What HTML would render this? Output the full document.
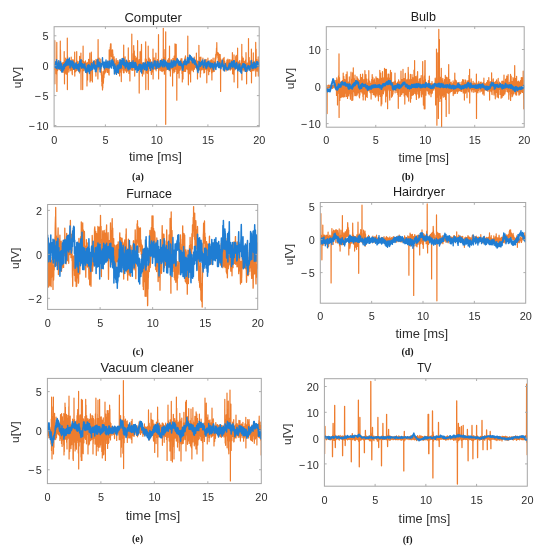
<!DOCTYPE html>
<html><head><meta charset="utf-8"><title>Figure</title>
<style>
html,body{margin:0;padding:0;background:#fff;}
body{width:545px;height:550px;overflow:hidden;position:relative;}
svg{position:absolute;left:0;top:0;display:block}
text{font-family:"Liberation Sans","DejaVu Sans",sans-serif;fill:#2e2e2e}
.tk{font-size:11.6px}
.tt{font-size:13.2px;fill:#1a1a1a}
.lb{font-size:13px}
.yl{font-size:11.8px}
.cp{font-family:"Liberation Serif","DejaVu Serif",serif;font-weight:bold;font-size:10px;fill:#1a1a1a}
</style></head><body>
<svg width="545" height="550" viewBox="0 0 545 550">
<rect width="545" height="550" fill="#fff"/>

<g>
<clipPath id="ca"><rect x="54.1" y="26.7" width="205.1" height="100"/></clipPath>
<path clip-path="url(#ca)" d="M54.1,64.7 54.2,63.2 54.3,64.7 54.4,69.6 54.5,63.0 54.6,64.4 54.7,67.3 54.8,64.0 54.8,40.5 54.9,83.8 55.0,65.6 55.1,64.1 55.2,67.9 55.3,66.2 55.4,67.1 55.5,63.9 55.6,65.6 55.7,66.6 55.8,68.0 55.9,66.5 56.0,65.7 56.1,66.5 56.2,61.8 56.2,62.7 56.3,73.8 56.4,71.3 56.5,66.2 56.6,67.0 56.7,65.1 56.8,42.4 56.9,91.5 57.0,69.0 57.1,66.8 57.2,61.6 57.3,63.8 57.4,63.7 57.5,67.2 57.6,70.6 57.6,65.2 57.7,65.4 57.8,69.4 57.9,67.7 58.0,65.9 58.1,68.5 58.2,66.0 58.3,65.4 58.4,65.6 58.5,67.2 58.6,63.9 58.7,63.0 58.8,64.7 58.9,68.1 59.0,63.5 59.0,67.2 59.1,63.1 59.2,68.9 59.3,61.9 59.4,65.8 59.5,69.4 59.6,66.6 59.7,65.5 59.8,64.9 59.9,68.6 60.0,69.0 60.1,65.1 60.2,62.7 60.3,41.0 60.3,63.4 60.4,70.6 60.5,49.9 60.6,62.0 60.7,66.6 60.8,68.1 60.9,63.5 61.0,64.9 61.1,63.0 61.2,66.7 61.3,70.1 61.4,66.0 61.5,67.0 61.6,63.4 61.7,65.1 61.7,70.6 61.8,69.3 61.9,63.1 62.0,63.7 62.1,67.6 62.2,65.7 62.3,64.4 62.4,64.3 62.5,63.1 62.6,64.9 62.7,66.0 62.8,66.5 62.9,62.5 63.0,72.4 63.1,66.1 63.1,65.6 63.2,70.0 63.3,64.7 63.4,67.6 63.5,63.1 63.6,66.1 63.7,63.7 63.8,62.1 63.9,64.6 64.0,68.3 64.1,70.2 64.2,51.5 64.3,66.0 64.4,67.8 64.5,83.8 64.5,66.3 64.6,63.2 64.7,65.6 64.8,65.7 64.9,67.8 65.0,64.3 65.1,60.3 65.2,63.7 65.3,61.1 65.4,70.3 65.5,73.1 65.6,63.9 65.7,58.1 65.8,68.7 65.9,69.4 65.9,63.9 66.0,68.2 66.1,67.2 66.2,74.2 66.3,64.1 66.4,66.9 66.5,64.9 66.6,61.9 66.7,68.2 66.8,66.7 66.9,68.5 67.0,65.7 67.1,69.1 67.2,69.0 67.3,61.3 67.3,38.0 67.4,89.6 67.5,56.0 67.6,67.0 67.7,66.4 67.8,64.4 67.9,64.9 68.0,69.2 68.1,63.2 68.2,67.5 68.3,68.9 68.4,68.4 68.5,66.9 68.6,60.8 68.7,69.2 68.7,65.2 68.8,72.1 68.9,65.7 69.0,63.0 69.1,66.4 69.2,67.6 69.3,65.0 69.4,63.6 69.5,63.7 69.6,59.8 69.7,65.1 69.8,67.5 69.9,66.1 70.0,65.9 70.0,65.4 70.1,65.8 70.2,65.2 70.3,70.7 70.4,63.2 70.5,67.4 70.6,69.2 70.7,63.8 70.8,61.8 70.9,64.2 71.0,65.2 71.1,68.5 71.2,57.1 71.3,63.1 71.4,69.1 71.4,64.9 71.5,65.4 71.6,70.3 71.7,65.2 71.8,67.1 71.9,62.0 72.0,62.8 72.1,73.8 72.2,65.6 72.3,74.7 72.4,62.4 72.5,65.2 72.6,64.1 72.7,68.9 72.8,60.2 72.8,59.7 72.9,68.9 73.0,64.6 73.1,67.7 73.2,65.8 73.3,69.5 73.4,60.1 73.5,68.6 73.6,66.6 73.7,64.2 73.8,67.6 73.9,66.4 74.0,67.4 74.1,66.1 74.2,69.2 74.2,67.0 74.3,66.3 74.4,66.7 74.5,65.5 74.6,72.5 74.7,52.0 74.8,76.1 74.9,66.1 75.0,67.7 75.1,67.3 75.2,69.5 75.3,64.1 75.4,69.1 75.5,67.9 75.6,64.6 75.6,64.5 75.7,66.9 75.8,71.7 75.9,64.4 76.0,64.9 76.1,69.9 76.2,63.4 76.3,67.8 76.4,69.1 76.5,65.4 76.6,66.2 76.7,51.5 76.8,70.5 76.9,60.3 77.0,67.5 77.0,70.3 77.1,63.8 77.2,66.8 77.3,64.7 77.4,66.7 77.5,65.9 77.6,65.0 77.7,67.9 77.8,63.7 77.9,67.1 78.0,68.3 78.1,61.6 78.2,64.4 78.3,66.4 78.4,68.3 78.4,63.8 78.5,71.0 78.6,68.8 78.7,65.6 78.8,69.8 78.9,65.6 79.0,65.9 79.1,63.0 79.2,68.4 79.3,67.6 79.4,64.7 79.5,73.0 79.6,56.4 79.7,67.8 79.7,67.9 79.8,63.1 79.9,65.8 80.0,71.0 80.1,63.8 80.2,63.1 80.3,67.0 80.4,66.5 80.5,60.9 80.6,68.4 80.7,64.4 80.8,65.1 80.9,53.0 81.0,89.6 81.1,66.4 81.1,68.3 81.2,62.7 81.3,65.3 81.4,63.4 81.5,65.3 81.6,64.9 81.7,68.0 81.8,63.7 81.9,60.4 82.0,66.6 82.1,67.5 82.2,66.2 82.3,67.1 82.4,67.8 82.5,65.3 82.5,66.6 82.6,61.4 82.7,89.6 82.8,64.7 82.9,62.9 83.0,66.6 83.1,46.2 83.2,67.6 83.3,68.1 83.4,66.8 83.5,66.0 83.6,69.9 83.7,65.8 83.8,70.7 83.9,61.5 83.9,65.9 84.0,67.6 84.1,68.4 84.2,66.8 84.3,66.4 84.4,68.8 84.5,68.5 84.6,66.3 84.7,67.3 84.8,62.9 84.9,62.3 85.0,65.7 85.1,64.3 85.2,69.7 85.3,63.8 85.3,65.8 85.4,64.3 85.5,60.9 85.6,72.5 85.7,64.9 85.8,69.0 85.9,63.9 86.0,69.6 86.1,67.2 86.2,65.1 86.3,63.9 86.4,65.5 86.5,68.1 86.6,67.4 86.7,63.1 86.7,65.7 86.8,70.7 86.9,63.2 87.0,86.0 87.1,63.1 87.2,66.7 87.3,63.2 87.4,68.9 87.5,64.0 87.6,80.0 87.7,63.7 87.8,62.7 87.9,67.9 88.0,65.9 88.1,65.6 88.1,62.1 88.2,63.6 88.3,69.3 88.4,64.3 88.5,63.5 88.6,59.3 88.7,70.7 88.8,67.3 88.9,61.7 89.0,69.8 89.1,69.3 89.2,64.2 89.3,62.7 89.4,67.7 89.4,64.1 89.5,65.4 89.6,61.2 89.7,63.6 89.8,53.1 89.9,68.4 90.0,66.3 90.1,81.9 90.2,62.3 90.3,64.0 90.4,67.9 90.5,63.7 90.6,63.4 90.7,66.0 90.8,66.5 90.8,66.3 90.9,80.5 91.0,65.1 91.1,65.0 91.2,68.3 91.3,52.2 91.4,55.9 91.5,67.3 91.6,67.1 91.7,59.8 91.8,70.5 91.9,64.0 92.0,62.9 92.1,64.6 92.2,62.2 92.2,68.7 92.3,72.5 92.4,81.9 92.5,69.3 92.6,66.7 92.7,69.2 92.8,62.6 92.9,63.1 93.0,67.9 93.1,63.0 93.2,65.3 93.3,66.1 93.4,65.5 93.5,66.3 93.6,63.9 93.6,64.8 93.7,66.7 93.8,62.7 93.9,67.5 94.0,64.8 94.1,64.4 94.2,61.3 94.3,67.2 94.4,60.5 94.5,65.2 94.6,66.3 94.7,67.7 94.8,63.9 94.9,65.6 95.0,69.0 95.0,69.1 95.1,67.4 95.2,67.7 95.3,62.4 95.4,61.6 95.5,63.1 95.6,64.6 95.7,67.0 95.8,65.5 95.9,76.1 96.0,59.3 96.1,63.0 96.2,68.2 96.3,65.6 96.4,67.1 96.4,68.0 96.5,66.3 96.6,65.1 96.7,60.2 96.8,65.5 96.9,61.6 97.0,60.4 97.1,65.5 97.2,60.9 97.3,63.6 97.4,66.9 97.5,64.9 97.6,65.6 97.7,66.4 97.8,66.3 97.8,65.3 97.9,79.0 98.0,68.3 98.1,39.5 98.2,70.3 98.3,64.9 98.4,63.8 98.5,65.2 98.6,64.8 98.7,63.9 98.8,67.7 98.9,66.4 99.0,64.2 99.1,62.7 99.1,64.5 99.2,58.1 99.3,66.0 99.4,62.7 99.5,61.9 99.6,66.1 99.7,68.2 99.8,69.2 99.9,65.2 100.0,62.4 100.1,64.9 100.2,65.2 100.3,66.8 100.4,64.0 100.5,72.1 100.5,65.0 100.6,65.6 100.7,69.8 100.8,59.2 100.9,70.8 101.0,71.3 101.1,73.0 101.2,67.5 101.3,74.9 101.4,71.6 101.5,73.2 101.6,74.6 101.7,81.6 101.8,80.9 101.9,75.5 101.9,85.7 102.0,85.7 102.1,85.1 102.2,83.6 102.3,86.6 102.4,85.9 102.5,90.0 102.6,85.8 102.7,82.7 102.8,88.1 102.9,77.7 103.0,71.6 103.1,82.7 103.2,79.3 103.3,74.5 103.3,82.4 103.4,83.2 103.5,80.4 103.6,76.7 103.7,77.0 103.8,72.9 103.9,78.0 104.0,77.4 104.1,71.5 104.2,67.2 104.3,68.8 104.4,69.0 104.5,71.5 104.6,68.3 104.7,73.8 104.7,68.4 104.8,70.6 104.9,66.7 105.0,68.4 105.1,72.8 105.2,69.0 105.3,69.0 105.4,72.3 105.5,70.4 105.6,70.9 105.7,71.8 105.8,65.4 105.9,64.2 106.0,65.5 106.1,67.1 106.1,67.8 106.2,66.9 106.3,69.6 106.4,64.7 106.5,64.1 106.6,64.4 106.7,68.7 106.8,66.8 106.9,67.4 107.0,61.5 107.1,66.2 107.2,72.3 107.3,65.5 107.4,61.0 107.5,64.5 107.5,63.9 107.6,66.3 107.7,72.3 107.8,71.8 107.9,70.1 108.0,66.7 108.1,65.3 108.2,70.6 108.3,67.2 108.4,63.3 108.5,67.0 108.6,68.2 108.7,63.5 108.8,68.8 108.8,74.2 108.9,69.2 109.0,65.7 109.1,75.1 109.2,49.8 109.3,64.8 109.4,66.9 109.5,66.0 109.6,61.8 109.7,61.0 109.8,54.5 109.9,56.0 110.0,60.8 110.1,57.5 110.2,51.8 110.2,47.1 110.3,50.5 110.4,49.6 110.5,43.9 110.6,48.5 110.7,49.2 110.8,53.2 110.9,51.2 111.0,43.8 111.1,52.2 111.2,51.4 111.3,56.3 111.4,52.2 111.5,50.5 111.6,54.4 111.6,52.0 111.7,52.5 111.8,53.7 111.9,50.4 112.0,53.6 112.1,57.2 112.2,58.7 112.3,59.6 112.4,56.0 112.5,58.7 112.6,49.9 112.7,52.9 112.8,59.3 112.9,59.9 113.0,54.2 113.0,62.9 113.1,61.1 113.2,57.1 113.3,62.9 113.4,61.8 113.5,61.7 113.6,58.9 113.7,60.6 113.8,60.0 113.9,59.6 114.0,61.5 114.1,56.8 114.2,64.1 114.3,66.4 114.4,67.5 114.4,67.2 114.5,64.1 114.6,59.5 114.7,62.2 114.8,64.6 114.9,66.2 115.0,64.7 115.1,64.4 115.2,65.0 115.3,67.7 115.4,64.9 115.5,73.2 115.6,70.2 115.7,64.5 115.8,70.2 115.8,63.3 115.9,66.2 116.0,70.3 116.1,63.8 116.2,58.7 116.3,63.9 116.4,60.8 116.5,64.6 116.6,70.9 116.7,63.0 116.8,65.8 116.9,68.9 117.0,62.3 117.1,63.8 117.2,66.3 117.2,62.1 117.3,67.4 117.4,62.9 117.5,67.7 117.6,63.3 117.7,68.2 117.8,60.5 117.9,64.2 118.0,60.7 118.1,67.5 118.2,66.5 118.3,62.6 118.4,73.3 118.5,68.3 118.5,66.8 118.6,63.8 118.7,62.3 118.8,66.1 118.9,63.6 119.0,67.4 119.1,69.4 119.2,70.4 119.3,67.0 119.4,67.0 119.5,67.2 119.6,76.0 119.7,71.3 119.8,67.0 119.9,64.5 119.9,67.1 120.0,68.0 120.1,72.3 120.2,59.4 120.3,68.7 120.4,60.4 120.5,70.8 120.6,64.7 120.7,67.2 120.8,65.1 120.9,64.5 121.0,64.7 121.1,65.5 121.2,63.9 121.3,62.7 121.3,81.6 121.4,66.7 121.5,62.4 121.6,67.9 121.7,68.2 121.8,67.4 121.9,68.5 122.0,62.7 122.1,62.8 122.2,61.8 122.3,65.7 122.4,64.8 122.5,67.3 122.6,69.0 122.7,64.3 122.7,64.8 122.8,68.9 122.9,63.9 123.0,70.8 123.1,66.2 123.2,67.5 123.3,67.2 123.4,72.8 123.5,62.8 123.6,63.9 123.7,45.0 123.8,65.3 123.9,69.5 124.0,66.8 124.1,69.2 124.1,72.7 124.2,62.1 124.3,64.7 124.4,67.5 124.5,66.8 124.6,62.1 124.7,70.0 124.8,65.3 124.9,65.1 125.0,67.3 125.1,56.8 125.2,65.2 125.3,68.2 125.4,68.2 125.5,63.4 125.5,65.1 125.6,60.7 125.7,68.7 125.8,71.1 125.9,62.9 126.0,62.9 126.1,68.0 126.2,70.1 126.3,65.9 126.4,71.0 126.5,66.8 126.6,72.3 126.7,66.5 126.8,72.1 126.9,66.5 126.9,61.2 127.0,66.6 127.1,63.5 127.2,67.7 127.3,68.5 127.4,70.3 127.5,62.7 127.6,66.0 127.7,61.0 127.8,69.3 127.9,66.5 128.0,70.9 128.1,61.6 128.2,60.4 128.2,67.8 128.3,47.9 128.4,71.0 128.5,61.8 128.6,66.1 128.7,67.8 128.8,66.0 128.9,73.5 129.0,71.0 129.1,63.1 129.2,64.7 129.3,65.4 129.4,68.8 129.5,64.1 129.6,60.5 129.6,69.5 129.7,65.8 129.8,67.2 129.9,80.9 130.0,65.8 130.1,66.3 130.2,68.5 130.3,65.9 130.4,67.7 130.5,66.3 130.6,66.0 130.7,63.9 130.8,67.6 130.9,66.8 131.0,62.7 131.0,66.5 131.1,66.6 131.2,63.3 131.3,65.0 131.4,65.6 131.5,65.2 131.6,69.6 131.7,64.5 131.8,34.1 131.9,64.1 132.0,70.5 132.1,65.0 132.2,68.5 132.3,66.5 132.4,65.4 132.4,69.4 132.5,61.8 132.6,66.0 132.7,63.5 132.8,63.9 132.9,61.8 133.0,62.3 133.1,70.2 133.2,65.7 133.3,53.6 133.4,67.1 133.5,63.7 133.6,63.1 133.7,45.5 133.8,53.0 133.8,63.9 133.9,64.1 134.0,60.0 134.1,58.5 134.2,66.5 134.3,50.9 134.4,61.6 134.5,62.2 134.6,58.7 134.7,76.1 134.8,58.4 134.9,62.2 135.0,56.1 135.1,60.6 135.2,56.3 135.2,57.0 135.3,65.2 135.4,64.5 135.5,64.7 135.6,61.2 135.7,61.9 135.8,61.4 135.9,64.8 136.0,61.3 136.1,58.5 136.2,66.8 136.3,63.5 136.4,62.3 136.5,63.6 136.6,63.9 136.6,58.1 136.7,59.7 136.8,61.1 136.9,66.0 137.0,57.1 137.1,62.8 137.2,65.7 137.3,65.1 137.4,65.6 137.5,57.8 137.6,40.5 137.7,64.1 137.8,70.8 137.9,62.2 137.9,67.7 138.0,67.9 138.1,62.8 138.2,67.2 138.3,62.2 138.4,61.4 138.5,70.1 138.6,65.2 138.7,69.6 138.8,65.1 138.9,62.2 139.0,69.1 139.1,59.6 139.2,93.1 139.3,68.6 139.3,64.9 139.4,62.8 139.5,69.3 139.6,65.2 139.7,69.3 139.8,61.7 139.9,64.8 140.0,66.6 140.1,51.7 140.2,69.2 140.3,66.5 140.4,59.9 140.5,65.8 140.6,61.4 140.7,64.8 140.7,67.5 140.8,66.2 140.9,65.2 141.0,66.7 141.1,68.0 141.2,67.8 141.3,49.8 141.4,65.2 141.5,44.3 141.6,63.3 141.7,71.0 141.8,63.2 141.9,65.6 142.0,69.9 142.1,65.3 142.1,63.2 142.2,64.1 142.3,63.5 142.4,76.1 142.5,63.0 142.6,65.7 142.7,71.9 142.8,67.9 142.9,64.6 143.0,67.1 143.1,63.6 143.2,63.3 143.3,65.5 143.4,67.5 143.5,68.6 143.5,62.9 143.6,67.1 143.7,68.0 143.8,73.9 143.9,67.5 144.0,63.1 144.1,69.2 144.2,65.6 144.3,68.2 144.4,66.4 144.5,66.8 144.6,69.1 144.7,63.8 144.8,69.4 144.9,68.6 144.9,63.0 145.0,62.8 145.1,63.7 145.2,64.7 145.3,58.9 145.4,69.3 145.5,67.9 145.6,68.7 145.7,41.8 145.8,89.6 145.9,62.4 146.0,62.8 146.1,66.4 146.2,68.2 146.3,68.7 146.3,59.1 146.4,62.8 146.5,64.0 146.6,66.7 146.7,66.3 146.8,66.8 146.9,66.7 147.0,72.9 147.1,65.9 147.2,66.9 147.3,64.9 147.4,65.1 147.5,63.2 147.6,70.7 147.6,63.3 147.7,73.4 147.8,69.0 147.9,60.6 148.0,69.4 148.1,66.6 148.2,46.2 148.3,89.6 148.4,65.8 148.5,70.0 148.6,71.5 148.7,69.7 148.8,70.7 148.9,65.8 149.0,66.7 149.0,64.8 149.1,68.8 149.2,58.1 149.3,66.0 149.4,65.9 149.5,64.4 149.6,66.5 149.7,67.6 149.8,65.5 149.9,63.0 150.0,63.7 150.1,62.9 150.2,67.4 150.3,68.1 150.4,59.7 150.4,66.5 150.5,64.3 150.6,63.5 150.7,61.5 150.8,69.8 150.9,67.2 151.0,67.0 151.1,66.6 151.2,72.9 151.3,66.0 151.4,74.4 151.5,64.8 151.6,64.1 151.7,63.9 151.8,69.3 151.8,62.9 151.9,68.3 152.0,69.4 152.1,68.7 152.2,68.3 152.3,65.2 152.4,63.3 152.5,72.0 152.6,67.3 152.7,63.0 152.8,65.1 152.9,64.2 153.0,49.1 153.1,79.0 153.2,70.4 153.2,65.1 153.3,61.6 153.4,67.1 153.5,64.2 153.6,63.1 153.7,67.5 153.8,67.1 153.9,62.2 154.0,65.7 154.1,66.1 154.2,57.9 154.3,65.2 154.4,63.8 154.5,68.7 154.6,67.2 154.6,61.0 154.7,65.2 154.8,66.6 154.9,69.1 155.0,67.6 155.1,66.4 155.2,61.6 155.3,67.5 155.4,60.3 155.5,68.5 155.6,66.8 155.7,63.2 155.8,66.4 155.9,53.0 156.0,66.1 156.0,64.4 156.1,70.8 156.2,66.4 156.3,67.4 156.4,66.9 156.5,63.5 156.6,67.4 156.7,66.8 156.8,65.6 156.9,63.5 157.0,66.4 157.1,61.2 157.2,68.4 157.3,61.9 157.3,68.3 157.4,66.2 157.5,64.6 157.6,59.6 157.7,63.0 157.8,66.9 157.9,61.8 158.0,66.3 158.1,68.1 158.2,64.4 158.3,65.4 158.4,62.8 158.5,34.7 158.6,79.0 158.7,63.8 158.7,64.9 158.8,65.8 158.9,67.8 159.0,63.0 159.1,65.3 159.2,64.2 159.3,66.7 159.4,65.7 159.5,68.8 159.6,65.4 159.7,63.4 159.8,65.4 159.9,63.1 160.0,64.8 160.1,61.6 160.1,66.3 160.2,70.6 160.3,64.4 160.4,66.2 160.5,68.6 160.6,63.8 160.7,64.9 160.8,62.8 160.9,66.7 161.0,65.1 161.1,64.9 161.2,60.4 161.3,67.7 161.4,65.7 161.5,64.6 161.5,70.9 161.6,70.5 161.7,59.2 161.8,71.0 161.9,64.0 162.0,68.2 162.1,68.0 162.2,71.6 162.3,68.4 162.4,63.4 162.5,69.9 162.6,63.9 162.7,64.8 162.8,59.7 162.9,67.1 162.9,61.9 163.0,63.0 163.1,66.6 163.2,70.7 163.3,28.3 163.4,69.8 163.5,67.1 163.6,63.1 163.7,62.4 163.8,68.2 163.9,65.8 164.0,66.5 164.1,62.2 164.2,58.2 164.3,71.2 164.3,67.4 164.4,74.2 164.5,65.7 164.6,69.0 164.7,58.4 164.8,65.2 164.9,49.7 165.0,67.2 165.1,67.4 165.2,65.1 165.3,66.2 165.4,63.7 165.5,61.1 165.6,63.6 165.7,31.8 165.7,124.3 165.8,68.0 165.9,62.6 166.0,66.7 166.1,67.7 166.2,65.3 166.3,69.9 166.4,69.1 166.5,64.2 166.6,66.6 166.7,67.1 166.8,64.8 166.9,67.4 167.0,67.8 167.0,67.1 167.1,63.9 167.2,65.5 167.3,69.3 167.4,66.6 167.5,63.8 167.6,60.1 167.7,69.1 167.8,64.7 167.9,66.5 168.0,63.2 168.1,64.4 168.2,61.3 168.3,64.1 168.4,67.3 168.4,67.3 168.5,64.5 168.6,64.5 168.7,58.5 168.8,60.7 168.9,69.2 169.0,64.7 169.1,69.7 169.2,70.7 169.3,63.5 169.4,64.1 169.5,46.2 169.6,60.8 169.7,68.6 169.8,69.2 169.8,63.7 169.9,65.0 170.0,66.2 170.1,65.9 170.2,65.0 170.3,66.1 170.4,76.1 170.5,71.4 170.6,69.7 170.7,63.9 170.8,67.8 170.9,64.1 171.0,62.0 171.1,66.8 171.2,64.9 171.2,59.5 171.3,63.6 171.4,60.2 171.5,61.1 171.6,63.4 171.7,66.0 171.8,68.2 171.9,69.0 172.0,64.2 172.1,64.3 172.2,66.2 172.3,63.2 172.4,67.5 172.5,62.4 172.6,85.9 172.6,65.8 172.7,65.7 172.8,66.0 172.9,58.3 173.0,70.5 173.1,65.2 173.2,62.0 173.3,63.6 173.4,66.6 173.5,60.5 173.6,68.9 173.7,69.6 173.8,64.0 173.9,70.0 174.0,72.8 174.0,63.1 174.1,63.4 174.2,56.1 174.3,67.2 174.4,65.2 174.5,68.6 174.6,60.5 174.7,63.3 174.8,63.5 174.9,71.5 175.0,43.8 175.1,61.2 175.2,62.1 175.3,63.3 175.4,65.7 175.4,66.7 175.5,63.9 175.6,64.6 175.7,65.0 175.8,66.6 175.9,60.7 176.0,69.2 176.1,65.8 176.2,44.3 176.3,62.6 176.4,61.4 176.5,62.0 176.6,63.4 176.7,69.9 176.7,59.5 176.8,100.2 176.9,66.0 177.0,65.6 177.1,66.7 177.2,64.4 177.3,64.8 177.4,65.1 177.5,73.4 177.6,65.8 177.7,64.3 177.8,64.1 177.9,66.2 178.0,64.3 178.1,62.6 178.1,67.1 178.2,61.3 178.3,71.5 178.4,69.5 178.5,68.4 178.6,73.0 178.7,68.7 178.8,62.0 178.9,62.0 179.0,65.4 179.1,78.0 179.2,65.0 179.3,67.2 179.4,65.0 179.5,66.1 179.5,63.5 179.6,70.2 179.7,62.7 179.8,67.1 179.9,63.1 180.0,70.3 180.1,67.0 180.2,65.5 180.3,63.0 180.4,69.3 180.5,60.7 180.6,64.3 180.7,67.3 180.8,62.1 180.9,65.4 180.9,62.2 181.0,58.8 181.1,63.4 181.2,67.3 181.3,67.0 181.4,64.0 181.5,64.8 181.6,68.2 181.7,67.7 181.8,63.7 181.9,58.7 182.0,73.6 182.1,63.5 182.2,66.3 182.3,63.4 182.3,81.9 182.4,65.5 182.5,68.7 182.6,69.9 182.7,71.3 182.8,62.0 182.9,66.3 183.0,79.0 183.1,66.5 183.2,69.7 183.3,64.8 183.4,61.8 183.5,62.3 183.6,70.4 183.7,61.6 183.7,68.0 183.8,71.4 183.9,69.4 184.0,68.6 184.1,65.7 184.2,68.8 184.3,70.2 184.4,66.5 184.5,59.9 184.6,67.8 184.7,64.3 184.8,65.5 184.9,57.8 185.0,71.4 185.1,62.4 185.1,69.5 185.2,67.5 185.3,66.0 185.4,56.2 185.5,55.9 185.6,71.3 185.7,61.8 185.8,68.2 185.9,65.6 186.0,65.8 186.1,65.4 186.2,66.2 186.3,64.9 186.4,64.5 186.4,63.1 186.5,67.0 186.6,67.9 186.7,68.9 186.8,63.9 186.9,65.8 187.0,64.0 187.1,64.1 187.2,60.7 187.3,65.1 187.4,63.5 187.5,69.3 187.6,62.2 187.7,66.6 187.8,36.0 187.8,63.6 187.9,69.7 188.0,65.5 188.1,73.0 188.2,67.3 188.3,66.7 188.4,84.8 188.5,71.1 188.6,65.4 188.7,62.8 188.8,63.8 188.9,67.7 189.0,67.5 189.1,65.0 189.2,63.8 189.2,61.4 189.3,67.3 189.4,70.8 189.5,65.1 189.6,63.6 189.7,73.8 189.8,65.3 189.9,59.2 190.0,62.6 190.1,64.1 190.2,64.5 190.3,62.5 190.4,68.5 190.5,68.2 190.6,64.5 190.6,81.9 190.7,64.9 190.8,71.4 190.9,63.4 191.0,63.2 191.1,65.6 191.2,65.2 191.3,60.9 191.4,68.9 191.5,68.4 191.6,69.0 191.7,67.0 191.8,68.7 191.9,65.6 192.0,67.6 192.0,66.8 192.1,70.3 192.2,62.1 192.3,65.9 192.4,66.4 192.5,65.6 192.6,65.9 192.7,63.4 192.8,64.0 192.9,67.5 193.0,68.2 193.1,68.9 193.2,69.4 193.3,61.5 193.4,68.4 193.4,71.7 193.5,68.2 193.6,68.1 193.7,64.7 193.8,68.3 193.9,64.1 194.0,64.5 194.1,61.9 194.2,59.2 194.3,57.2 194.4,61.7 194.5,69.2 194.6,66.9 194.7,65.0 194.8,59.5 194.8,63.7 194.9,62.1 195.0,66.2 195.1,63.9 195.2,63.6 195.3,67.1 195.4,63.4 195.5,62.5 195.6,66.2 195.7,62.7 195.8,60.8 195.9,65.5 196.0,67.1 196.1,66.6 196.1,67.6 196.2,65.2 196.3,66.9 196.4,53.0 196.5,68.0 196.6,64.3 196.7,68.5 196.8,64.7 196.9,69.2 197.0,67.6 197.1,60.8 197.2,62.3 197.3,67.8 197.4,63.9 197.5,79.0 197.5,61.2 197.6,67.5 197.7,65.5 197.8,61.6 197.9,68.2 198.0,61.8 198.1,68.1 198.2,67.9 198.3,66.6 198.4,66.0 198.5,69.9 198.6,65.9 198.7,68.7 198.8,67.6 198.9,63.7 198.9,45.3 199.0,61.6 199.1,69.7 199.2,61.9 199.3,61.8 199.4,67.3 199.5,62.6 199.6,61.3 199.7,67.3 199.8,69.8 199.9,66.8 200.0,57.3 200.1,65.0 200.2,69.3 200.3,66.5 200.3,77.1 200.4,66.9 200.5,65.4 200.6,73.4 200.7,64.6 200.8,61.5 200.9,57.0 201.0,66.8 201.1,62.4 201.2,69.5 201.3,69.4 201.4,69.9 201.5,66.2 201.6,64.5 201.7,66.0 201.7,64.1 201.8,63.2 201.9,64.2 202.0,68.1 202.1,66.5 202.2,62.0 202.3,68.8 202.4,66.5 202.5,66.9 202.6,62.1 202.7,68.9 202.8,69.7 202.9,58.1 203.0,62.9 203.1,67.8 203.1,65.9 203.2,63.7 203.3,66.7 203.4,63.9 203.5,67.5 203.6,66.8 203.7,66.0 203.8,67.1 203.9,73.0 204.0,65.6 204.1,64.9 204.2,64.3 204.3,68.7 204.4,64.7 204.5,65.1 204.5,71.0 204.6,72.3 204.7,64.3 204.8,68.6 204.9,62.7 205.0,59.3 205.1,67.4 205.2,67.8 205.3,65.7 205.4,63.7 205.5,69.1 205.6,62.0 205.7,62.7 205.8,63.7 205.8,67.3 205.9,63.0 206.0,63.1 206.1,69.3 206.2,59.5 206.3,66.6 206.4,64.6 206.5,67.3 206.6,64.5 206.7,62.2 206.8,82.8 206.9,70.6 207.0,67.0 207.1,65.5 207.2,68.0 207.2,66.1 207.3,65.9 207.4,61.8 207.5,68.7 207.6,64.6 207.7,67.2 207.8,66.8 207.9,58.1 208.0,64.8 208.1,60.7 208.2,67.3 208.3,70.5 208.4,69.5 208.5,70.4 208.6,68.6 208.6,66.4 208.7,74.7 208.8,63.6 208.9,64.3 209.0,67.0 209.1,67.9 209.2,65.6 209.3,65.3 209.4,64.9 209.5,64.6 209.6,66.1 209.7,71.5 209.8,69.0 209.9,68.2 210.0,60.6 210.0,65.8 210.1,63.7 210.2,61.3 210.3,64.7 210.4,66.9 210.5,66.6 210.6,68.8 210.7,64.8 210.8,62.3 210.9,64.0 211.0,63.4 211.1,63.6 211.2,59.7 211.3,67.6 211.4,65.2 211.4,63.6 211.5,62.0 211.6,73.0 211.7,60.2 211.8,66.3 211.9,80.0 212.0,63.2 212.1,65.0 212.2,66.9 212.3,70.6 212.4,69.7 212.5,68.6 212.6,64.3 212.7,69.3 212.8,71.9 212.8,70.0 212.9,67.5 213.0,60.7 213.1,58.2 213.2,67.1 213.3,62.9 213.4,61.5 213.5,61.9 213.6,66.0 213.7,69.6 213.8,67.2 213.9,71.3 214.0,65.0 214.1,63.4 214.2,71.4 214.2,65.9 214.3,64.8 214.4,62.0 214.5,61.6 214.6,63.3 214.7,67.8 214.8,66.8 214.9,62.1 215.0,58.2 215.1,65.8 215.2,61.2 215.3,64.2 215.4,67.6 215.5,63.3 215.5,59.4 215.6,60.8 215.7,55.7 215.8,54.2 215.9,58.9 216.0,57.4 216.1,55.1 216.2,57.3 216.3,51.5 216.4,52.1 216.5,48.1 216.6,51.2 216.7,50.9 216.8,42.7 216.9,51.6 216.9,51.5 217.0,52.6 217.1,52.0 217.2,54.5 217.3,52.5 217.4,55.1 217.5,54.8 217.6,53.0 217.7,52.5 217.8,53.7 217.9,57.7 218.0,54.8 218.1,56.8 218.2,57.2 218.3,62.4 218.3,55.6 218.4,67.1 218.5,53.2 218.6,56.7 218.7,62.3 218.8,63.4 218.9,56.1 219.0,62.4 219.1,58.0 219.2,61.2 219.3,54.3 219.4,60.6 219.5,56.5 219.6,57.2 219.7,62.8 219.7,62.6 219.8,57.3 219.9,54.7 220.0,64.7 220.1,58.7 220.2,54.7 220.3,62.7 220.4,58.5 220.5,63.3 220.6,91.5 220.7,63.7 220.8,59.1 220.9,61.6 221.0,63.9 221.1,62.7 221.1,65.1 221.2,67.0 221.3,66.8 221.4,63.9 221.5,67.0 221.6,62.6 221.7,62.4 221.8,62.6 221.9,65.6 222.0,64.0 222.1,64.3 222.2,60.3 222.3,66.7 222.4,65.5 222.5,65.1 222.5,64.9 222.6,66.7 222.7,66.4 222.8,61.5 222.9,66.5 223.0,61.9 223.1,58.6 223.2,60.9 223.3,70.2 223.4,62.5 223.5,63.4 223.6,63.2 223.7,69.7 223.8,62.6 223.9,68.2 223.9,61.1 224.0,61.8 224.1,57.4 224.2,66.2 224.3,69.6 224.4,61.9 224.5,62.5 224.6,66.3 224.7,61.1 224.8,63.1 224.9,69.0 225.0,66.2 225.1,66.5 225.2,65.5 225.2,64.7 225.3,67.3 225.4,65.9 225.5,63.5 225.6,65.5 225.7,66.1 225.8,66.2 225.9,65.6 226.0,71.1 226.1,64.9 226.2,68.4 226.3,65.0 226.4,69.8 226.5,62.6 226.6,64.7 226.6,69.4 226.7,64.7 226.8,67.7 226.9,60.0 227.0,63.9 227.1,67.8 227.2,68.6 227.3,65.5 227.4,61.8 227.5,64.3 227.6,63.9 227.7,68.8 227.8,63.1 227.9,59.2 228.0,63.5 228.0,65.5 228.1,64.9 228.2,68.3 228.3,64.9 228.4,66.5 228.5,65.3 228.6,66.6 228.7,67.9 228.8,63.7 228.9,69.9 229.0,65.6 229.1,69.4 229.2,60.0 229.3,59.5 229.4,62.9 229.4,59.8 229.5,63.7 229.6,63.8 229.7,66.7 229.8,68.8 229.9,65.1 230.0,67.1 230.1,66.8 230.2,63.3 230.3,65.9 230.4,70.1 230.5,66.1 230.6,67.8 230.7,66.4 230.8,68.8 230.8,61.9 230.9,59.8 231.0,68.8 231.1,63.6 231.2,63.7 231.3,68.7 231.4,65.2 231.5,61.3 231.6,63.0 231.7,60.7 231.8,69.0 231.9,67.7 232.0,64.6 232.1,64.5 232.2,65.4 232.2,66.7 232.3,66.7 232.4,52.7 232.5,64.2 232.6,73.8 232.7,60.7 232.8,67.1 232.9,69.8 233.0,63.9 233.1,69.7 233.2,64.4 233.3,66.8 233.4,63.8 233.5,63.2 233.6,61.7 233.6,67.0 233.7,74.4 233.8,65.6 233.9,69.8 234.0,54.9 234.1,81.9 234.2,69.6 234.3,62.0 234.4,61.5 234.5,69.5 234.6,63.9 234.7,61.8 234.8,63.1 234.9,65.4 234.9,69.8 235.0,65.9 235.1,67.1 235.2,65.6 235.3,65.9 235.4,64.0 235.5,67.3 235.6,66.1 235.7,56.7 235.8,66.0 235.9,63.4 236.0,64.7 236.1,65.0 236.2,68.3 236.3,55.3 236.3,65.8 236.4,63.2 236.5,59.5 236.6,65.1 236.7,63.3 236.8,68.7 236.9,65.3 237.0,61.0 237.1,65.3 237.2,67.5 237.3,65.0 237.4,66.2 237.5,66.4 237.6,48.2 237.7,87.7 237.7,68.2 237.8,66.9 237.9,67.3 238.0,61.9 238.1,66.5 238.2,67.9 238.3,65.1 238.4,65.7 238.5,68.7 238.6,62.0 238.7,64.0 238.8,64.4 238.9,66.0 239.0,66.9 239.1,69.4 239.1,62.8 239.2,62.7 239.3,66.7 239.4,67.5 239.5,65.3 239.6,65.9 239.7,60.7 239.8,63.3 239.9,67.4 240.0,68.9 240.1,66.3 240.2,68.4 240.3,65.4 240.4,64.7 240.5,63.7 240.5,64.4 240.6,66.2 240.7,63.8 240.8,68.3 240.9,65.9 241.0,63.2 241.1,64.8 241.2,69.4 241.3,69.1 241.4,70.4 241.5,60.2 241.6,70.2 241.7,66.0 241.8,44.3 241.9,80.0 241.9,61.7 242.0,67.1 242.1,63.4 242.2,56.5 242.3,65.7 242.4,64.4 242.5,66.5 242.6,65.6 242.7,64.5 242.8,61.5 242.9,68.3 243.0,69.9 243.1,65.5 243.2,65.0 243.3,58.2 243.3,63.4 243.4,67.5 243.5,63.9 243.6,62.3 243.7,64.7 243.8,66.6 243.9,63.6 244.0,66.7 244.1,71.2 244.2,61.6 244.3,69.5 244.4,66.6 244.5,66.5 244.6,66.6 244.6,66.5 244.7,69.9 244.8,64.0 244.9,65.5 245.0,65.5 245.1,62.4 245.2,62.3 245.3,61.6 245.4,60.1 245.5,64.3 245.6,70.2 245.7,65.0 245.8,65.6 245.9,65.4 246.0,67.4 246.0,52.7 246.1,63.2 246.2,62.7 246.3,69.0 246.4,64.0 246.5,66.1 246.6,83.8 246.7,63.6 246.8,65.8 246.9,67.3 247.0,65.5 247.1,71.6 247.2,67.4 247.3,66.9 247.4,69.8 247.4,65.1 247.5,64.8 247.6,67.4 247.7,66.2 247.8,63.6 247.9,62.5 248.0,67.9 248.1,64.6 248.2,62.6 248.3,65.8 248.4,68.0 248.5,38.5 248.6,66.6 248.7,68.8 248.8,59.7 248.8,67.4 248.9,64.6 249.0,65.1 249.1,63.8 249.2,57.7 249.3,69.6 249.4,60.8 249.5,65.9 249.6,65.4 249.7,65.1 249.8,61.9 249.9,63.4 250.0,62.2 250.1,63.2 250.2,65.2 250.2,64.9 250.3,67.9 250.4,71.5 250.5,66.4 250.6,68.9 250.7,65.1 250.8,61.0 250.9,62.2 251.0,67.3 251.1,60.5 251.2,70.8 251.3,69.3 251.4,49.1 251.5,82.8 251.6,65.3 251.6,65.1 251.7,60.0 251.8,62.7 251.9,62.0 252.0,64.4 252.1,66.1 252.2,67.7 252.3,70.2 252.4,68.3 252.5,66.8 252.6,63.4 252.7,70.7 252.8,69.8 252.9,65.0 253.0,68.8 253.0,64.7 253.1,66.9 253.2,67.9 253.3,52.9 253.4,66.0 253.5,67.9 253.6,67.5 253.7,67.6 253.8,65.1 253.9,65.3 254.0,70.8 254.1,66.2 254.2,64.5 254.3,62.6 254.3,63.4 254.4,65.1 254.5,69.1 254.6,68.0 254.7,63.0 254.8,67.8 254.9,62.6 255.0,61.9 255.1,68.9 255.2,64.4 255.3,66.0 255.4,60.6 255.5,63.2 255.6,67.2 255.7,42.4 255.7,76.1 255.8,76.3 255.9,65.1 256.0,65.3 256.1,49.1 256.2,68.4 256.3,71.2 256.4,66.8 256.5,68.4 256.6,67.8 256.7,59.3 256.8,62.2 256.9,66.2 257.0,70.0 257.1,69.6 257.1,64.6 257.2,62.5 257.3,66.6 257.4,65.3 257.5,64.9 257.6,62.5 257.7,71.3 257.8,65.2 257.9,64.5 258.0,62.9 258.1,64.5 258.2,56.8 258.3,76.1 258.4,70.3 258.5,65.1 258.5,65.1 258.6,64.2 258.7,68.6 258.8,69.1 258.9,61.1 259.0,65.2 259.1,60.4 259.2,64.4" fill="none" stroke="#EE7D2E" stroke-width="1.2" stroke-linejoin="round"/>
<path clip-path="url(#ca)" d="M54.1,65.8 54.2,66.5 54.3,66.6 54.4,65.3 54.5,66.4 54.6,66.0 54.7,65.3 54.8,66.4 54.8,66.3 54.9,67.2 55.0,65.7 55.1,65.8 55.2,65.6 55.3,66.3 55.4,65.4 55.5,66.7 55.6,62.2 55.7,64.1 55.8,61.6 55.9,67.1 56.0,67.7 56.1,64.1 56.2,65.2 56.2,65.3 56.3,65.3 56.4,64.5 56.5,68.5 56.6,59.8 56.7,64.3 56.8,64.1 56.9,61.4 57.0,64.8 57.1,64.2 57.2,65.7 57.3,64.5 57.4,65.2 57.5,64.2 57.6,64.0 57.6,65.8 57.7,65.2 57.8,66.5 57.9,63.9 58.0,68.0 58.1,68.8 58.2,67.7 58.3,64.5 58.4,66.5 58.5,64.6 58.6,62.4 58.7,61.9 58.8,60.6 58.9,62.2 59.0,63.6 59.0,64.9 59.1,68.5 59.2,66.9 59.3,67.6 59.4,65.1 59.5,66.8 59.6,68.5 59.7,67.0 59.8,65.9 59.9,66.4 60.0,67.4 60.1,64.0 60.2,68.8 60.3,64.8 60.3,66.7 60.4,66.1 60.5,64.3 60.6,61.7 60.7,66.6 60.8,64.4 60.9,64.4 61.0,65.9 61.1,66.0 61.2,65.3 61.3,64.9 61.4,64.0 61.5,71.2 61.6,65.9 61.7,66.5 61.7,72.1 61.8,67.7 61.9,67.2 62.0,69.2 62.1,68.7 62.2,70.2 62.3,71.3 62.4,70.6 62.5,71.6 62.6,69.0 62.7,71.7 62.8,69.1 62.9,69.2 63.0,66.5 63.1,68.7 63.1,67.1 63.2,68.9 63.3,69.7 63.4,64.6 63.5,66.7 63.6,69.9 63.7,69.7 63.8,65.1 63.9,66.5 64.0,65.1 64.1,64.5 64.2,66.2 64.3,65.0 64.4,68.3 64.5,67.4 64.5,65.2 64.6,63.7 64.7,65.3 64.8,64.2 64.9,66.3 65.0,63.2 65.1,66.0 65.2,65.4 65.3,64.8 65.4,66.2 65.5,65.7 65.6,65.0 65.7,61.9 65.8,61.6 65.9,62.7 65.9,62.5 66.0,62.9 66.1,64.9 66.2,63.7 66.3,63.9 66.4,62.2 66.5,62.9 66.6,62.9 66.7,65.6 66.8,59.8 66.9,63.6 67.0,64.8 67.1,63.2 67.2,63.3 67.3,63.6 67.3,60.7 67.4,63.3 67.5,62.9 67.6,63.4 67.7,59.2 67.8,62.6 67.9,62.6 68.0,65.0 68.1,65.0 68.2,64.6 68.3,63.1 68.4,62.3 68.5,60.9 68.6,63.9 68.7,61.6 68.7,59.3 68.8,61.6 68.9,61.7 69.0,61.9 69.1,62.7 69.2,62.8 69.3,58.0 69.4,64.8 69.5,61.4 69.6,61.0 69.7,62.3 69.8,64.0 69.9,64.5 70.0,62.6 70.0,68.0 70.1,66.6 70.2,67.4 70.3,65.4 70.4,64.9 70.5,63.2 70.6,62.4 70.7,64.8 70.8,64.0 70.9,60.6 71.0,63.4 71.1,65.6 71.2,63.5 71.3,64.2 71.4,64.6 71.4,64.0 71.5,62.6 71.6,64.3 71.7,62.8 71.8,63.9 71.9,63.7 72.0,64.2 72.1,65.6 72.2,67.0 72.3,60.9 72.4,67.2 72.5,67.3 72.6,64.4 72.7,64.0 72.8,66.3 72.8,63.1 72.9,65.3 73.0,65.6 73.1,67.4 73.2,62.0 73.3,65.2 73.4,65.2 73.5,68.6 73.6,65.5 73.7,69.0 73.8,65.9 73.9,64.7 74.0,63.3 74.1,63.4 74.2,67.2 74.2,69.1 74.3,66.5 74.4,68.9 74.5,66.8 74.6,67.7 74.7,65.2 74.8,66.4 74.9,66.8 75.0,65.2 75.1,67.7 75.2,67.2 75.3,67.3 75.4,66.2 75.5,66.3 75.6,65.5 75.6,68.0 75.7,65.9 75.8,63.5 75.9,65.4 76.0,66.9 76.1,62.6 76.2,66.6 76.3,63.6 76.4,66.9 76.5,65.2 76.6,64.5 76.7,67.9 76.8,68.6 76.9,66.8 77.0,67.0 77.0,64.5 77.1,67.8 77.2,67.9 77.3,65.6 77.4,67.9 77.5,68.6 77.6,65.8 77.7,67.0 77.8,68.4 77.9,64.6 78.0,66.9 78.1,70.1 78.2,67.6 78.3,64.8 78.4,68.5 78.4,68.6 78.5,67.2 78.6,67.9 78.7,67.4 78.8,66.5 78.9,69.4 79.0,63.5 79.1,71.6 79.2,70.0 79.3,65.4 79.4,65.6 79.5,63.4 79.6,64.9 79.7,61.1 79.7,61.6 79.8,63.1 79.9,66.2 80.0,63.2 80.1,62.0 80.2,61.4 80.3,63.9 80.4,60.2 80.5,63.1 80.6,62.5 80.7,61.1 80.8,61.1 80.9,63.1 81.0,64.1 81.1,62.4 81.1,59.8 81.2,67.5 81.3,68.1 81.4,64.8 81.5,64.6 81.6,63.6 81.7,68.1 81.8,64.6 81.9,65.1 82.0,63.8 82.1,66.7 82.2,66.5 82.3,66.1 82.4,66.6 82.5,67.2 82.5,66.8 82.6,63.7 82.7,65.4 82.8,66.7 82.9,64.5 83.0,65.4 83.1,64.4 83.2,67.9 83.3,66.1 83.4,65.7 83.5,67.0 83.6,66.6 83.7,67.9 83.8,64.8 83.9,66.1 83.9,68.1 84.0,67.5 84.1,67.0 84.2,64.7 84.3,65.0 84.4,66.8 84.5,66.0 84.6,64.6 84.7,67.6 84.8,63.7 84.9,67.4 85.0,67.6 85.1,66.1 85.2,70.7 85.3,66.8 85.3,69.5 85.4,67.7 85.5,68.7 85.6,72.1 85.7,68.4 85.8,71.7 85.9,71.7 86.0,69.6 86.1,69.7 86.2,71.6 86.3,70.3 86.4,71.4 86.5,72.2 86.6,72.0 86.7,70.2 86.7,72.7 86.8,68.8 86.9,70.2 87.0,70.0 87.1,67.1 87.2,68.6 87.3,69.0 87.4,65.7 87.5,70.2 87.6,67.8 87.7,67.5 87.8,71.0 87.9,67.2 88.0,67.8 88.1,65.2 88.1,66.3 88.2,67.6 88.3,70.2 88.4,68.6 88.5,64.7 88.6,66.8 88.7,69.4 88.8,69.4 88.9,72.0 89.0,67.3 89.1,68.7 89.2,69.2 89.3,69.5 89.4,67.2 89.4,71.8 89.5,73.6 89.6,65.2 89.7,69.5 89.8,69.9 89.9,69.9 90.0,66.1 90.1,66.4 90.2,66.6 90.3,68.2 90.4,68.6 90.5,70.2 90.6,70.5 90.7,67.6 90.8,67.7 90.8,68.2 90.9,66.1 91.0,70.1 91.1,66.8 91.2,68.8 91.3,70.0 91.4,66.5 91.5,63.4 91.6,63.8 91.7,64.3 91.8,67.3 91.9,68.7 92.0,66.9 92.1,68.6 92.2,67.1 92.2,65.3 92.3,66.3 92.4,66.3 92.5,65.9 92.6,69.4 92.7,66.2 92.8,67.6 92.9,68.5 93.0,67.2 93.1,65.9 93.2,64.4 93.3,66.2 93.4,62.7 93.5,64.2 93.6,64.8 93.6,61.3 93.7,64.2 93.8,64.8 93.9,66.0 94.0,61.7 94.1,63.8 94.2,64.2 94.3,65.4 94.4,65.2 94.5,68.9 94.6,67.6 94.7,68.3 94.8,66.8 94.9,65.0 95.0,67.9 95.0,67.7 95.1,67.6 95.2,65.3 95.3,67.5 95.4,71.5 95.5,65.8 95.6,71.4 95.7,70.3 95.8,67.5 95.9,65.4 96.0,70.4 96.1,71.8 96.2,70.7 96.3,69.6 96.4,66.9 96.4,68.4 96.5,69.7 96.6,69.0 96.7,67.9 96.8,66.8 96.9,68.2 97.0,66.2 97.1,63.1 97.2,60.3 97.3,62.2 97.4,66.3 97.5,63.6 97.6,61.7 97.7,62.2 97.8,59.3 97.8,60.7 97.9,59.7 98.0,60.4 98.1,62.0 98.2,64.3 98.3,64.8 98.4,66.7 98.5,65.0 98.6,66.4 98.7,65.4 98.8,66.3 98.9,62.4 99.0,64.1 99.1,63.3 99.1,66.4 99.2,66.2 99.3,64.6 99.4,65.2 99.5,63.3 99.6,62.7 99.7,63.4 99.8,62.2 99.9,66.0 100.0,63.8 100.1,71.9 100.2,64.6 100.3,66.2 100.4,66.3 100.5,65.8 100.5,66.8 100.6,66.1 100.7,68.7 100.8,68.1 100.9,66.1 101.0,67.3 101.1,66.9 101.2,63.8 101.3,64.1 101.4,65.4 101.5,66.4 101.6,64.8 101.7,64.6 101.8,64.8 101.9,64.2 101.9,64.3 102.0,65.0 102.1,64.0 102.2,63.7 102.3,63.7 102.4,61.7 102.5,57.7 102.6,63.8 102.7,63.8 102.8,62.0 102.9,64.4 103.0,63.0 103.1,62.7 103.2,62.1 103.3,62.1 103.3,63.3 103.4,67.0 103.5,65.8 103.6,67.3 103.7,66.0 103.8,67.2 103.9,63.9 104.0,62.0 104.1,66.1 104.2,65.1 104.3,65.4 104.4,68.2 104.5,68.7 104.6,65.0 104.7,64.6 104.7,67.1 104.8,64.4 104.9,64.9 105.0,64.7 105.1,64.5 105.2,67.2 105.3,67.2 105.4,61.9 105.5,62.9 105.6,64.1 105.7,64.0 105.8,63.6 105.9,63.8 106.0,60.0 106.1,65.3 106.1,62.3 106.2,66.9 106.3,64.6 106.4,62.0 106.5,64.3 106.6,65.3 106.7,67.5 106.8,62.5 106.9,65.2 107.0,63.7 107.1,63.7 107.2,66.3 107.3,65.1 107.4,62.7 107.5,67.5 107.5,65.1 107.6,64.2 107.7,66.6 107.8,65.1 107.9,63.1 108.0,61.1 108.1,66.7 108.2,64.7 108.3,63.9 108.4,65.3 108.5,66.4 108.6,65.1 108.7,66.1 108.8,66.5 108.8,65.4 108.9,64.6 109.0,68.3 109.1,64.0 109.2,63.8 109.3,63.9 109.4,67.3 109.5,61.2 109.6,64.7 109.7,66.3 109.8,61.7 109.9,63.4 110.0,64.1 110.1,60.8 110.2,62.3 110.2,65.6 110.3,66.0 110.4,65.1 110.5,64.2 110.6,66.7 110.7,64.1 110.8,65.5 110.9,66.2 111.0,63.2 111.1,66.3 111.2,64.0 111.3,68.1 111.4,65.6 111.5,63.0 111.6,65.4 111.6,66.1 111.7,60.4 111.8,62.1 111.9,65.0 112.0,62.6 112.1,59.5 112.2,65.6 112.3,61.7 112.4,62.6 112.5,63.0 112.6,63.3 112.7,61.8 112.8,65.3 112.9,64.3 113.0,61.3 113.0,62.9 113.1,62.1 113.2,61.2 113.3,66.5 113.4,68.2 113.5,62.6 113.6,65.3 113.7,65.1 113.8,66.6 113.9,66.9 114.0,65.9 114.1,68.2 114.2,69.6 114.3,70.5 114.4,72.9 114.4,74.1 114.5,69.8 114.6,69.3 114.7,64.1 114.8,69.2 114.9,70.3 115.0,65.7 115.1,70.0 115.2,68.3 115.3,66.2 115.4,66.1 115.5,66.1 115.6,67.4 115.7,71.2 115.8,71.8 115.8,72.1 115.9,70.9 116.0,72.8 116.1,69.9 116.2,70.3 116.3,69.6 116.4,74.4 116.5,71.3 116.6,72.9 116.7,69.8 116.8,71.5 116.9,68.9 117.0,68.4 117.1,69.3 117.2,69.9 117.2,67.1 117.3,65.3 117.4,69.7 117.5,71.7 117.6,68.1 117.7,71.4 117.8,68.5 117.9,72.5 118.0,67.1 118.1,67.7 118.2,69.5 118.3,70.3 118.4,72.9 118.5,68.0 118.5,66.2 118.6,67.0 118.7,68.1 118.8,64.6 118.9,65.3 119.0,68.6 119.1,68.7 119.2,67.2 119.3,63.5 119.4,67.1 119.5,62.7 119.6,62.9 119.7,68.2 119.8,65.7 119.9,60.0 119.9,65.5 120.0,65.3 120.1,65.7 120.2,67.0 120.3,67.8 120.4,65.7 120.5,65.8 120.6,64.5 120.7,64.1 120.8,67.8 120.9,68.2 121.0,64.4 121.1,64.6 121.2,67.8 121.3,66.2 121.3,60.5 121.4,64.0 121.5,63.2 121.6,62.5 121.7,62.0 121.8,64.3 121.9,63.4 122.0,58.7 122.1,62.9 122.2,60.5 122.3,58.4 122.4,61.6 122.5,61.9 122.6,63.7 122.7,62.8 122.7,60.0 122.8,61.1 122.9,61.3 123.0,63.5 123.1,60.2 123.2,60.6 123.3,63.6 123.4,64.7 123.5,65.1 123.6,59.3 123.7,58.8 123.8,63.2 123.9,61.7 124.0,65.6 124.1,64.4 124.1,59.6 124.2,62.0 124.3,62.0 124.4,62.8 124.5,63.7 124.6,63.0 124.7,62.5 124.8,63.8 124.9,63.7 125.0,64.6 125.1,67.2 125.2,65.6 125.3,68.0 125.4,67.5 125.5,64.9 125.5,67.4 125.6,62.6 125.7,65.7 125.8,67.9 125.9,65.8 126.0,65.4 126.1,62.2 126.2,62.4 126.3,62.7 126.4,60.2 126.5,63.3 126.6,63.9 126.7,65.0 126.8,66.2 126.9,64.2 126.9,62.9 127.0,64.6 127.1,64.8 127.2,65.3 127.3,62.2 127.4,64.5 127.5,63.9 127.6,65.8 127.7,67.7 127.8,68.6 127.9,67.2 128.0,66.0 128.1,68.5 128.2,65.1 128.2,68.0 128.3,69.9 128.4,66.2 128.5,67.2 128.6,63.3 128.7,65.5 128.8,68.5 128.9,66.4 129.0,67.9 129.1,69.1 129.2,67.3 129.3,64.9 129.4,66.3 129.5,62.7 129.6,67.5 129.6,64.0 129.7,64.6 129.8,68.0 129.9,64.4 130.0,65.3 130.1,63.6 130.2,69.0 130.3,65.0 130.4,66.6 130.5,63.4 130.6,62.6 130.7,66.6 130.8,67.3 130.9,66.9 131.0,66.8 131.0,64.1 131.1,66.5 131.2,67.3 131.3,66.3 131.4,64.9 131.5,62.1 131.6,65.6 131.7,65.9 131.8,64.2 131.9,63.8 132.0,66.2 132.1,64.6 132.2,66.7 132.3,63.5 132.4,67.6 132.4,67.5 132.5,66.6 132.6,67.3 132.7,65.5 132.8,63.5 132.9,65.0 133.0,60.7 133.1,63.5 133.2,67.2 133.3,65.2 133.4,66.2 133.5,62.8 133.6,64.5 133.7,62.8 133.8,65.2 133.8,65.2 133.9,64.8 134.0,65.9 134.1,65.6 134.2,62.7 134.3,67.5 134.4,67.3 134.5,63.7 134.6,65.5 134.7,67.4 134.8,65.9 134.9,64.8 135.0,68.2 135.1,66.2 135.2,67.8 135.2,63.8 135.3,69.7 135.4,62.4 135.5,65.4 135.6,63.5 135.7,66.6 135.8,64.2 135.9,63.2 136.0,64.6 136.1,66.2 136.2,67.8 136.3,67.2 136.4,64.9 136.5,68.9 136.6,67.0 136.6,67.9 136.7,68.6 136.8,69.7 136.9,69.6 137.0,72.4 137.1,67.3 137.2,69.5 137.3,67.0 137.4,70.4 137.5,69.8 137.6,68.9 137.7,69.5 137.8,69.2 137.9,70.5 137.9,68.6 138.0,69.4 138.1,66.7 138.2,67.4 138.3,70.4 138.4,67.3 138.5,69.6 138.6,68.3 138.7,66.7 138.8,67.4 138.9,65.2 139.0,64.6 139.1,69.3 139.2,67.1 139.3,68.7 139.3,66.9 139.4,68.8 139.5,64.7 139.6,65.6 139.7,66.6 139.8,64.3 139.9,68.7 140.0,68.6 140.1,67.4 140.2,66.6 140.3,66.8 140.4,66.0 140.5,64.4 140.6,67.0 140.7,67.7 140.7,67.4 140.8,71.8 140.9,66.7 141.0,66.4 141.1,64.8 141.2,70.5 141.3,68.3 141.4,68.2 141.5,66.9 141.6,70.5 141.7,73.1 141.8,68.5 141.9,67.4 142.0,66.6 142.1,68.3 142.1,69.0 142.2,68.1 142.3,68.6 142.4,67.6 142.5,66.1 142.6,65.0 142.7,67.5 142.8,69.0 142.9,67.1 143.0,64.2 143.1,65.1 143.2,62.9 143.3,63.8 143.4,63.5 143.5,65.7 143.5,64.0 143.6,63.4 143.7,66.1 143.8,66.9 143.9,64.1 144.0,63.4 144.1,67.9 144.2,65.2 144.3,65.9 144.4,67.0 144.5,69.0 144.6,69.2 144.7,69.7 144.8,65.8 144.9,68.3 144.9,66.3 145.0,69.8 145.1,65.0 145.2,64.3 145.3,65.2 145.4,62.4 145.5,66.1 145.6,65.0 145.7,67.1 145.8,66.9 145.9,65.9 146.0,65.5 146.1,64.4 146.2,66.8 146.3,65.5 146.3,68.0 146.4,66.9 146.5,67.0 146.6,70.4 146.7,64.9 146.8,67.5 146.9,68.1 147.0,64.8 147.1,67.1 147.2,66.6 147.3,69.4 147.4,64.8 147.5,63.3 147.6,65.5 147.6,62.8 147.7,61.7 147.8,64.0 147.9,65.2 148.0,63.4 148.1,62.8 148.2,63.7 148.3,62.5 148.4,63.0 148.5,65.2 148.6,63.3 148.7,63.1 148.8,66.0 148.9,66.4 149.0,63.9 149.0,63.0 149.1,65.3 149.2,62.2 149.3,64.0 149.4,65.6 149.5,62.4 149.6,64.4 149.7,67.5 149.8,68.2 149.9,65.0 150.0,67.2 150.1,67.3 150.2,68.6 150.3,66.9 150.4,63.4 150.4,70.4 150.5,65.5 150.6,69.5 150.7,70.0 150.8,65.7 150.9,67.7 151.0,67.7 151.1,63.8 151.2,62.8 151.3,65.1 151.4,66.6 151.5,65.9 151.6,63.7 151.7,62.1 151.8,62.2 151.8,62.4 151.9,62.3 152.0,67.4 152.1,63.7 152.2,64.3 152.3,65.3 152.4,65.3 152.5,67.0 152.6,67.3 152.7,68.7 152.8,65.7 152.9,68.8 153.0,67.3 153.1,69.1 153.2,67.3 153.2,66.1 153.3,66.3 153.4,65.1 153.5,66.5 153.6,65.0 153.7,64.1 153.8,63.9 153.9,63.4 154.0,63.9 154.1,63.3 154.2,61.3 154.3,62.3 154.4,61.6 154.5,62.3 154.6,63.8 154.6,60.9 154.7,61.5 154.8,64.0 154.9,63.7 155.0,66.0 155.1,62.9 155.2,61.1 155.3,63.1 155.4,65.3 155.5,63.9 155.6,64.5 155.7,65.2 155.8,63.9 155.9,66.3 156.0,65.0 156.0,68.7 156.1,65.2 156.2,66.7 156.3,65.0 156.4,66.7 156.5,68.5 156.6,66.2 156.7,67.4 156.8,68.2 156.9,65.9 157.0,62.7 157.1,61.7 157.2,61.2 157.3,65.5 157.3,63.2 157.4,64.4 157.5,63.0 157.6,65.3 157.7,62.7 157.8,62.9 157.9,61.7 158.0,62.3 158.1,64.0 158.2,66.5 158.3,64.2 158.4,66.3 158.5,65.4 158.6,63.6 158.7,67.6 158.7,66.3 158.8,66.4 158.9,65.2 159.0,65.4 159.1,65.9 159.2,65.3 159.3,66.4 159.4,66.0 159.5,63.8 159.6,64.1 159.7,64.8 159.8,66.7 159.9,66.7 160.0,65.7 160.1,66.8 160.1,66.3 160.2,63.8 160.3,60.4 160.4,62.3 160.5,64.1 160.6,61.1 160.7,62.6 160.8,65.5 160.9,63.2 161.0,62.1 161.1,60.6 161.2,62.7 161.3,60.8 161.4,62.5 161.5,61.9 161.5,64.3 161.6,61.7 161.7,62.7 161.8,63.9 161.9,62.3 162.0,62.1 162.1,61.7 162.2,62.2 162.3,66.4 162.4,64.8 162.5,63.4 162.6,63.7 162.7,65.3 162.8,62.7 162.9,63.9 162.9,67.0 163.0,66.6 163.1,62.4 163.2,66.0 163.3,59.9 163.4,59.6 163.5,62.6 163.6,60.8 163.7,61.5 163.8,64.4 163.9,64.8 164.0,60.1 164.1,62.8 164.2,63.8 164.3,60.2 164.3,60.3 164.4,62.2 164.5,62.3 164.6,64.9 164.7,66.8 164.8,64.3 164.9,64.6 165.0,65.3 165.1,64.7 165.2,64.4 165.3,64.9 165.4,63.3 165.5,60.9 165.6,62.5 165.7,62.0 165.7,64.1 165.8,62.9 165.9,63.3 166.0,62.1 166.1,63.9 166.2,65.0 166.3,62.3 166.4,65.9 166.5,65.9 166.6,62.5 166.7,66.6 166.8,66.9 166.9,67.0 167.0,65.6 167.0,64.0 167.1,66.3 167.2,68.0 167.3,65.4 167.4,65.7 167.5,66.5 167.6,65.8 167.7,65.5 167.8,66.2 167.9,69.3 168.0,63.1 168.1,65.9 168.2,67.4 168.3,65.2 168.4,64.0 168.4,64.2 168.5,64.7 168.6,64.1 168.7,68.2 168.8,69.0 168.9,63.5 169.0,65.1 169.1,64.9 169.2,67.5 169.3,63.3 169.4,66.9 169.5,65.0 169.6,68.1 169.7,69.9 169.8,66.2 169.8,66.5 169.9,68.7 170.0,64.3 170.1,67.9 170.2,64.7 170.3,64.2 170.4,67.1 170.5,64.1 170.6,65.8 170.7,64.1 170.8,63.8 170.9,62.7 171.0,64.1 171.1,62.8 171.2,61.6 171.2,60.8 171.3,63.7 171.4,61.5 171.5,62.5 171.6,61.9 171.7,67.2 171.8,66.3 171.9,66.2 172.0,65.3 172.1,67.5 172.2,65.1 172.3,65.2 172.4,62.7 172.5,63.4 172.6,65.7 172.6,64.6 172.7,67.3 172.8,65.4 172.9,65.0 173.0,64.6 173.1,60.8 173.2,66.7 173.3,63.5 173.4,61.8 173.5,61.8 173.6,61.8 173.7,65.0 173.8,64.4 173.9,62.0 174.0,62.5 174.0,61.1 174.1,62.2 174.2,62.4 174.3,62.6 174.4,62.3 174.5,65.0 174.6,63.4 174.7,61.0 174.8,62.7 174.9,62.3 175.0,66.2 175.1,63.9 175.2,63.4 175.3,62.1 175.4,62.6 175.4,62.1 175.5,63.8 175.6,62.8 175.7,62.6 175.8,64.3 175.9,65.1 176.0,62.7 176.1,61.3 176.2,61.2 176.3,63.3 176.4,63.0 176.5,62.5 176.6,60.7 176.7,60.9 176.7,63.1 176.8,61.9 176.9,61.8 177.0,58.9 177.1,60.1 177.2,58.5 177.3,61.7 177.4,60.8 177.5,59.4 177.6,62.7 177.7,62.0 177.8,61.4 177.9,62.0 178.0,62.9 178.1,62.5 178.1,61.0 178.2,60.0 178.3,60.2 178.4,61.3 178.5,61.5 178.6,64.9 178.7,61.3 178.8,63.4 178.9,63.5 179.0,64.6 179.1,63.7 179.2,63.9 179.3,64.9 179.4,65.0 179.5,63.5 179.5,62.7 179.6,63.1 179.7,63.0 179.8,65.3 179.9,64.8 180.0,64.4 180.1,61.1 180.2,64.7 180.3,61.3 180.4,62.1 180.5,64.4 180.6,63.2 180.7,61.4 180.8,62.5 180.9,62.6 180.9,62.3 181.0,65.5 181.1,63.9 181.2,63.7 181.3,64.0 181.4,63.7 181.5,65.4 181.6,65.3 181.7,63.6 181.8,64.0 181.9,66.3 182.0,67.3 182.1,67.1 182.2,67.1 182.3,70.1 182.3,65.9 182.4,68.4 182.5,66.8 182.6,65.4 182.7,67.6 182.8,69.3 182.9,70.3 183.0,66.3 183.1,67.5 183.2,66.1 183.3,67.9 183.4,65.7 183.5,63.2 183.6,63.8 183.7,63.9 183.7,64.8 183.8,63.5 183.9,63.6 184.0,61.2 184.1,63.2 184.2,63.4 184.3,61.3 184.4,63.9 184.5,60.9 184.6,60.7 184.7,62.5 184.8,64.2 184.9,62.3 185.0,64.8 185.1,60.8 185.1,59.6 185.2,61.4 185.3,61.9 185.4,62.6 185.5,63.2 185.6,62.0 185.7,62.5 185.8,64.2 185.9,61.7 186.0,63.9 186.1,61.6 186.2,64.4 186.3,63.7 186.4,63.5 186.4,63.8 186.5,64.7 186.6,64.1 186.7,64.2 186.8,61.7 186.9,63.4 187.0,61.7 187.1,63.4 187.2,58.9 187.3,61.1 187.4,60.6 187.5,59.8 187.6,57.4 187.7,59.5 187.8,58.4 187.8,61.4 187.9,61.7 188.0,58.3 188.1,60.6 188.2,62.9 188.3,60.2 188.4,59.5 188.5,58.2 188.6,61.1 188.7,60.2 188.8,61.2 188.9,62.9 189.0,62.1 189.1,60.6 189.2,59.6 189.2,59.2 189.3,59.8 189.4,58.4 189.5,55.2 189.6,57.2 189.7,56.4 189.8,55.2 189.9,58.5 190.0,58.6 190.1,58.3 190.2,59.1 190.3,55.5 190.4,58.9 190.5,58.7 190.6,56.4 190.6,59.0 190.7,57.7 190.8,57.7 190.9,59.9 191.0,57.2 191.1,57.8 191.2,58.3 191.3,58.4 191.4,60.5 191.5,57.0 191.6,60.8 191.7,60.5 191.8,60.5 191.9,59.9 192.0,58.4 192.0,61.3 192.1,59.6 192.2,59.1 192.3,61.9 192.4,61.4 192.5,62.9 192.6,61.7 192.7,60.9 192.8,62.1 192.9,58.1 193.0,62.0 193.1,58.4 193.2,60.7 193.3,60.1 193.4,60.9 193.4,59.6 193.5,60.1 193.6,62.5 193.7,61.0 193.8,61.5 193.9,61.0 194.0,62.9 194.1,60.3 194.2,60.1 194.3,59.3 194.4,62.6 194.5,59.8 194.6,64.3 194.7,62.4 194.8,61.8 194.8,62.7 194.9,60.4 195.0,62.2 195.1,61.1 195.2,61.6 195.3,60.8 195.4,63.1 195.5,62.5 195.6,63.6 195.7,63.5 195.8,62.9 195.9,63.6 196.0,65.5 196.1,64.9 196.1,64.7 196.2,65.0 196.3,64.6 196.4,67.8 196.5,67.3 196.6,64.3 196.7,66.9 196.8,64.6 196.9,66.8 197.0,65.5 197.1,66.5 197.2,68.0 197.3,65.8 197.4,66.5 197.5,68.3 197.5,71.3 197.6,71.0 197.7,70.4 197.8,68.7 197.9,71.0 198.0,72.6 198.1,70.9 198.2,69.2 198.3,71.2 198.4,68.6 198.5,70.5 198.6,68.2 198.7,70.2 198.8,68.0 198.9,66.0 198.9,67.1 199.0,61.4 199.1,65.2 199.2,66.7 199.3,65.4 199.4,66.1 199.5,65.5 199.6,63.6 199.7,64.5 199.8,62.6 199.9,64.6 200.0,63.8 200.1,64.7 200.2,63.9 200.3,65.6 200.3,64.3 200.4,63.8 200.5,66.4 200.6,64.1 200.7,64.8 200.8,65.5 200.9,62.8 201.0,62.4 201.1,65.4 201.2,64.3 201.3,63.1 201.4,63.8 201.5,63.7 201.6,63.6 201.7,63.8 201.7,61.3 201.8,62.3 201.9,62.0 202.0,64.3 202.1,61.0 202.2,62.2 202.3,62.0 202.4,61.0 202.5,61.2 202.6,60.6 202.7,60.0 202.8,63.1 202.9,62.0 203.0,63.6 203.1,63.5 203.1,64.8 203.2,66.2 203.3,66.2 203.4,67.1 203.5,67.5 203.6,66.2 203.7,65.0 203.8,65.6 203.9,65.3 204.0,63.1 204.1,64.0 204.2,65.3 204.3,64.9 204.4,62.8 204.5,60.9 204.5,60.8 204.6,61.4 204.7,62.8 204.8,62.7 204.9,60.0 205.0,61.1 205.1,62.3 205.2,62.9 205.3,64.6 205.4,63.7 205.5,64.2 205.6,66.8 205.7,64.5 205.8,67.1 205.8,66.5 205.9,68.0 206.0,64.9 206.1,63.5 206.2,66.9 206.3,65.3 206.4,67.4 206.5,64.4 206.6,68.2 206.7,66.9 206.8,66.5 206.9,62.8 207.0,67.0 207.1,65.0 207.2,63.3 207.2,64.2 207.3,65.5 207.4,65.1 207.5,66.1 207.6,64.8 207.7,63.8 207.8,63.1 207.9,61.7 208.0,62.8 208.1,63.0 208.2,64.0 208.3,62.1 208.4,63.7 208.5,62.4 208.6,61.8 208.6,62.6 208.7,62.7 208.8,62.9 208.9,61.2 209.0,64.1 209.1,62.3 209.2,65.4 209.3,66.8 209.4,63.9 209.5,63.4 209.6,65.7 209.7,64.6 209.8,64.8 209.9,64.7 210.0,66.5 210.0,66.5 210.1,64.1 210.2,64.3 210.3,65.1 210.4,63.0 210.5,65.8 210.6,63.4 210.7,67.8 210.8,66.6 210.9,65.9 211.0,64.6 211.1,65.2 211.2,65.0 211.3,64.3 211.4,63.6 211.4,64.4 211.5,65.9 211.6,66.9 211.7,64.7 211.8,65.7 211.9,66.4 212.0,63.3 212.1,63.5 212.2,64.9 212.3,65.7 212.4,65.7 212.5,64.3 212.6,63.8 212.7,67.7 212.8,66.1 212.8,67.4 212.9,66.1 213.0,65.4 213.1,68.8 213.2,67.2 213.3,67.2 213.4,67.3 213.5,69.9 213.6,65.0 213.7,64.2 213.8,67.3 213.9,65.2 214.0,64.8 214.1,64.4 214.2,65.7 214.2,64.0 214.3,64.3 214.4,66.3 214.5,64.0 214.6,65.0 214.7,63.0 214.8,63.9 214.9,65.4 215.0,62.7 215.1,65.0 215.2,65.7 215.3,67.2 215.4,67.8 215.5,66.7 215.5,68.3 215.6,68.9 215.7,67.3 215.8,67.8 215.9,69.5 216.0,66.9 216.1,67.5 216.2,64.7 216.3,66.3 216.4,65.9 216.5,66.3 216.6,65.2 216.7,66.5 216.8,66.1 216.9,64.4 216.9,63.4 217.0,64.9 217.1,64.3 217.2,64.2 217.3,64.4 217.4,61.5 217.5,62.4 217.6,65.7 217.7,65.4 217.8,64.8 217.9,61.6 218.0,65.2 218.1,64.0 218.2,64.3 218.3,66.2 218.3,65.2 218.4,63.5 218.5,64.0 218.6,67.6 218.7,65.1 218.8,66.3 218.9,64.2 219.0,66.7 219.1,65.3 219.2,64.3 219.3,67.4 219.4,65.7 219.5,66.2 219.6,65.3 219.7,66.6 219.7,62.8 219.8,65.1 219.9,67.8 220.0,67.4 220.1,67.5 220.2,66.5 220.3,67.0 220.4,66.5 220.5,66.6 220.6,67.2 220.7,66.9 220.8,65.4 220.9,66.2 221.0,68.8 221.1,67.2 221.1,65.0 221.2,66.7 221.3,65.1 221.4,65.8 221.5,63.4 221.6,65.9 221.7,64.9 221.8,63.8 221.9,63.7 222.0,63.1 222.1,61.1 222.2,61.5 222.3,61.3 222.4,60.1 222.5,62.9 222.5,62.5 222.6,62.3 222.7,66.2 222.8,63.1 222.9,64.3 223.0,65.3 223.1,66.2 223.2,66.9 223.3,64.6 223.4,67.0 223.5,69.6 223.6,68.3 223.7,66.3 223.8,67.8 223.9,68.9 223.9,69.3 224.0,65.6 224.1,68.2 224.2,66.7 224.3,71.0 224.4,68.1 224.5,67.3 224.6,66.9 224.7,66.2 224.8,67.1 224.9,65.3 225.0,65.3 225.1,65.8 225.2,66.7 225.2,63.5 225.3,65.1 225.4,64.8 225.5,64.5 225.6,64.6 225.7,65.7 225.8,67.3 225.9,69.0 226.0,68.3 226.1,69.2 226.2,68.3 226.3,68.7 226.4,68.1 226.5,67.3 226.6,67.7 226.6,69.2 226.7,68.9 226.8,68.7 226.9,69.7 227.0,68.5 227.1,68.0 227.2,69.7 227.3,68.2 227.4,70.0 227.5,68.7 227.6,68.2 227.7,69.1 227.8,68.8 227.9,69.6 228.0,69.4 228.0,68.2 228.1,68.8 228.2,67.6 228.3,69.5 228.4,68.0 228.5,66.0 228.6,66.8 228.7,67.4 228.8,66.9 228.9,65.0 229.0,65.7 229.1,67.2 229.2,67.6 229.3,63.7 229.4,67.2 229.4,63.3 229.5,64.7 229.6,66.2 229.7,65.8 229.8,66.5 229.9,67.2 230.0,66.2 230.1,68.7 230.2,65.5 230.3,65.9 230.4,66.9 230.5,68.0 230.6,63.7 230.7,67.3 230.8,65.4 230.8,64.9 230.9,66.2 231.0,62.9 231.1,66.0 231.2,66.5 231.3,66.0 231.4,65.2 231.5,62.0 231.6,64.5 231.7,61.6 231.8,63.7 231.9,63.6 232.0,64.5 232.1,66.4 232.2,66.2 232.2,65.2 232.3,64.5 232.4,62.3 232.5,66.0 232.6,66.9 232.7,66.7 232.8,67.5 232.9,66.1 233.0,65.0 233.1,61.7 233.2,63.7 233.3,64.6 233.4,63.7 233.5,60.6 233.6,64.9 233.6,66.2 233.7,64.6 233.8,63.9 233.9,63.4 234.0,63.6 234.1,62.1 234.2,61.3 234.3,60.8 234.4,62.9 234.5,64.0 234.6,65.9 234.7,65.7 234.8,67.9 234.9,66.5 234.9,65.9 235.0,65.1 235.1,67.5 235.2,64.0 235.3,66.3 235.4,68.9 235.5,66.6 235.6,67.8 235.7,67.6 235.8,66.8 235.9,68.1 236.0,65.8 236.1,64.7 236.2,63.5 236.3,65.8 236.3,66.7 236.4,62.5 236.5,66.2 236.6,63.9 236.7,65.6 236.8,65.3 236.9,63.1 237.0,64.5 237.1,66.6 237.2,66.4 237.3,66.2 237.4,68.1 237.5,67.7 237.6,69.2 237.7,69.6 237.7,68.5 237.8,70.3 237.9,70.8 238.0,68.9 238.1,70.6 238.2,69.1 238.3,69.6 238.4,69.0 238.5,65.8 238.6,69.4 238.7,66.0 238.8,68.6 238.9,67.1 239.0,64.1 239.1,65.9 239.1,64.9 239.2,64.0 239.3,65.5 239.4,65.0 239.5,66.5 239.6,66.2 239.7,66.7 239.8,64.5 239.9,71.3 240.0,66.6 240.1,66.8 240.2,70.1 240.3,68.0 240.4,68.7 240.5,70.4 240.5,69.4 240.6,71.5 240.7,67.6 240.8,72.1 240.9,72.5 241.0,71.9 241.1,71.7 241.2,70.5 241.3,70.8 241.4,70.7 241.5,73.2 241.6,71.0 241.7,68.8 241.8,66.7 241.9,68.1 241.9,65.7 242.0,67.2 242.1,66.6 242.2,66.0 242.3,66.5 242.4,65.9 242.5,66.2 242.6,64.8 242.7,65.3 242.8,67.8 242.9,63.6 243.0,65.0 243.1,65.6 243.2,66.5 243.3,63.8 243.3,67.2 243.4,66.4 243.5,67.0 243.6,65.7 243.7,64.0 243.8,66.0 243.9,63.9 244.0,65.9 244.1,64.6 244.2,63.7 244.3,66.4 244.4,65.9 244.5,64.7 244.6,66.1 244.6,67.1 244.7,67.4 244.8,68.9 244.9,67.2 245.0,67.5 245.1,67.8 245.2,69.7 245.3,70.3 245.4,71.3 245.5,68.1 245.6,64.6 245.7,69.3 245.8,68.4 245.9,69.1 246.0,68.3 246.0,69.8 246.1,68.2 246.2,70.2 246.3,68.7 246.4,71.5 246.5,68.1 246.6,69.4 246.7,68.2 246.8,68.9 246.9,70.9 247.0,70.4 247.1,67.4 247.2,68.6 247.3,67.9 247.4,66.7 247.4,68.4 247.5,66.2 247.6,66.9 247.7,67.0 247.8,66.6 247.9,67.3 248.0,67.1 248.1,65.8 248.2,66.8 248.3,65.4 248.4,68.5 248.5,68.3 248.6,66.6 248.7,66.3 248.8,67.0 248.8,67.5 248.9,66.1 249.0,68.1 249.1,70.2 249.2,69.4 249.3,66.2 249.4,67.5 249.5,69.5 249.6,69.6 249.7,66.7 249.8,67.4 249.9,67.3 250.0,69.9 250.1,67.9 250.2,67.4 250.2,67.0 250.3,67.4 250.4,66.7 250.5,65.9 250.6,65.5 250.7,65.4 250.8,66.6 250.9,65.9 251.0,65.5 251.1,67.1 251.2,65.3 251.3,60.5 251.4,63.5 251.5,64.8 251.6,65.5 251.6,64.8 251.7,65.6 251.8,65.1 251.9,63.3 252.0,63.9 252.1,64.8 252.2,68.4 252.3,66.4 252.4,67.9 252.5,67.4 252.6,68.6 252.7,67.8 252.8,68.1 252.9,66.2 253.0,66.7 253.0,66.6 253.1,66.8 253.2,68.2 253.3,64.4 253.4,64.6 253.5,66.5 253.6,67.1 253.7,62.5 253.8,62.4 253.9,63.1 254.0,65.6 254.1,61.9 254.2,63.9 254.3,65.8 254.3,67.8 254.4,64.0 254.5,66.7 254.6,65.5 254.7,64.3 254.8,63.2 254.9,65.3 255.0,64.3 255.1,65.6 255.2,66.7 255.3,66.4 255.4,67.0 255.5,65.4 255.6,65.7 255.7,68.0 255.7,66.1 255.8,66.6 255.9,64.7 256.0,67.4 256.1,63.1 256.2,64.1 256.3,64.3 256.4,65.6 256.5,64.1 256.6,61.7 256.7,63.7 256.8,66.8 256.9,63.9 257.0,62.1 257.1,65.3 257.1,64.4 257.2,61.7 257.3,66.2 257.4,62.1 257.5,65.4 257.6,64.4 257.7,62.7 257.8,63.5 257.9,63.2 258.0,62.4 258.1,64.4 258.2,63.3 258.3,64.2 258.4,62.5 258.5,64.3 258.5,64.6 258.6,65.0 258.7,62.8 258.8,65.9 258.9,65.1 259.0,66.4 259.1,65.4 259.2,66.8" fill="none" stroke="#1F7DD3" stroke-width="1.4" stroke-linejoin="round"/>
<rect x="54.1" y="26.7" width="205.1" height="100" fill="none" stroke="#a6a6a6" stroke-width="1"/>
<path d="M105.38,126.7 v-2.3 M105.38,26.7 v2.3 M156.65,126.7 v-2.3 M156.65,26.7 v2.3 M207.92,126.7 v-2.3 M207.92,26.7 v2.3 M54.1,35.8 h2.3 M259.2,35.8 h-2.3 M54.1,65.7 h2.3 M259.2,65.7 h-2.3 M54.1,95.6 h2.3 M259.2,95.6 h-2.3 M54.1,125.5 h2.3 M259.2,125.5 h-2.3 " stroke="#a6a6a6" stroke-width="0.9" fill="none"/>
<text class="tk" transform="translate(54.2,143.6) scale(0.94,1)" text-anchor="middle">0</text>
<text class="tk" transform="translate(105.47,143.6) scale(0.94,1)" text-anchor="middle">5</text>
<text class="tk" transform="translate(156.75,143.6) scale(0.94,1)" text-anchor="middle">10</text>
<text class="tk" transform="translate(208.02,143.6) scale(0.94,1)" text-anchor="middle">15</text>
<text class="tk" transform="translate(259.3,143.6) scale(0.94,1)" text-anchor="middle">20</text>
<text class="tk" transform="translate(48.5,39.85) scale(0.94,1)" text-anchor="end">5</text>
<text class="tk" transform="translate(48.5,69.75) scale(0.94,1)" text-anchor="end">0</text>
<text class="tk" transform="translate(48.5,99.65) scale(0.94,1)" text-anchor="end">−<tspan dx="1.3">5</tspan></text>
<text class="tk" transform="translate(48.5,129.55) scale(0.94,1)" text-anchor="end">−<tspan dx="1.3">10</tspan></text>
<text class="tt" x="124.4" y="21.6" textLength="57.6" lengthAdjust="spacingAndGlyphs">Computer</text>
<text class="lb" x="129" y="161.3" textLength="52.8" lengthAdjust="spacingAndGlyphs">time [ms]</text>
<text class="yl" transform="translate(20.5,77.5) rotate(-90)" x="-10.7" textLength="21.4" lengthAdjust="spacingAndGlyphs">u[V]</text>
<text class="cp" x="137.9" y="179.5" text-anchor="middle">(a)</text>
</g>
<g>
<clipPath id="cb"><rect x="326.3" y="26.7" width="197.9" height="100.5"/></clipPath>
<path clip-path="url(#cb)" d="M326.3,86.4 326.4,86.9 326.5,87.8 326.6,88.4 326.7,85.2 326.7,85.7 326.8,86.8 326.9,85.4 327.0,86.3 327.1,113.6 327.2,85.8 327.3,86.8 327.4,86.8 327.5,87.1 327.6,86.2 327.6,86.6 327.7,89.2 327.8,87.0 327.9,86.5 328.0,87.2 328.1,85.9 328.2,86.4 328.3,86.3 328.4,86.2 328.5,87.3 328.5,86.0 328.6,85.0 328.7,87.8 328.8,87.8 328.9,87.7 329.0,85.9 329.1,86.6 329.2,86.6 329.3,86.0 329.4,86.4 329.4,86.3 329.5,86.7 329.6,85.9 329.7,87.4 329.8,86.9 329.9,86.4 330.0,85.2 330.1,87.1 330.2,87.3 330.3,87.0 330.3,85.8 330.4,86.7 330.5,85.6 330.6,87.9 330.7,85.4 330.8,85.8 330.9,87.6 331.0,86.4 331.1,85.6 331.2,86.5 331.2,85.8 331.3,84.8 331.4,86.3 331.5,86.8 331.6,87.1 331.7,86.1 331.8,86.7 331.9,86.7 332.0,86.6 332.1,86.1 332.1,87.3 332.2,87.7 332.3,88.4 332.4,85.7 332.5,86.5 332.6,85.4 332.7,86.6 332.8,87.1 332.9,86.2 333.0,86.6 333.0,88.0 333.1,87.0 333.2,85.2 333.3,86.3 333.4,86.2 333.5,86.8 333.6,87.1 333.7,85.9 333.8,86.6 333.9,87.1 333.9,86.6 334.0,87.2 334.1,86.4 334.2,86.1 334.3,87.2 334.4,85.5 334.5,87.0 334.6,86.4 334.7,87.2 334.8,86.7 334.8,86.5 334.9,86.9 335.0,87.1 335.1,87.1 335.2,87.3 335.3,88.3 335.4,86.9 335.5,85.9 335.6,84.8 335.7,85.1 335.7,80.6 335.8,85.7 335.9,87.9 336.0,80.5 336.1,90.2 336.2,82.9 336.3,90.4 336.4,85.0 336.5,95.4 336.6,82.3 336.6,87.3 336.7,91.6 336.8,77.8 336.9,82.6 337.0,86.3 337.1,90.4 337.2,86.8 337.3,87.4 337.4,82.8 337.5,104.9 337.5,90.0 337.6,89.4 337.7,89.3 337.8,93.5 337.9,89.6 338.0,87.0 338.1,83.0 338.2,79.7 338.3,90.7 338.4,83.7 338.4,88.9 338.5,75.8 338.6,86.8 338.7,83.9 338.8,90.8 338.9,90.8 339.0,53.9 339.1,117.5 339.2,84.7 339.3,94.7 339.3,83.1 339.4,91.2 339.5,77.6 339.6,88.0 339.7,80.9 339.8,100.4 339.9,84.3 340.0,91.2 340.1,89.1 340.2,86.4 340.2,88.2 340.3,85.2 340.4,82.7 340.5,83.2 340.6,93.2 340.7,93.6 340.8,90.7 340.9,87.6 341.0,97.6 341.1,82.6 341.1,87.8 341.2,87.9 341.3,81.6 341.4,83.1 341.5,85.4 341.6,91.7 341.7,84.8 341.8,84.8 341.9,91.1 342.0,81.1 342.0,83.9 342.1,96.8 342.2,85.9 342.3,93.1 342.4,80.7 342.5,82.4 342.6,92.3 342.7,91.1 342.8,86.0 342.9,87.8 342.9,82.4 343.0,82.7 343.1,88.0 343.2,73.1 343.3,97.1 343.4,84.9 343.5,82.1 343.6,87.5 343.7,90.2 343.8,83.6 343.8,76.4 343.9,85.5 344.0,92.4 344.1,79.1 344.2,96.3 344.3,83.9 344.4,89.6 344.5,81.7 344.6,91.0 344.7,79.7 344.7,85.0 344.8,95.5 344.9,96.8 345.0,88.2 345.1,79.8 345.2,85.9 345.3,86.2 345.4,87.8 345.5,82.7 345.6,84.6 345.6,85.1 345.7,86.6 345.8,80.4 345.9,79.5 346.0,93.3 346.1,74.6 346.2,82.8 346.3,89.1 346.4,96.4 346.5,83.1 346.5,91.8 346.6,89.6 346.7,95.8 346.8,80.7 346.9,89.6 347.0,89.0 347.1,71.8 347.2,75.5 347.3,81.6 347.4,88.9 347.4,83.2 347.5,98.4 347.6,86.0 347.7,90.5 347.8,93.2 347.9,94.8 348.0,83.8 348.1,86.1 348.2,85.7 348.3,82.2 348.3,90.9 348.4,93.0 348.5,95.8 348.6,88.3 348.7,82.6 348.8,87.3 348.9,83.2 349.0,92.7 349.1,89.0 349.2,90.5 349.2,93.0 349.3,76.9 349.4,82.1 349.5,90.5 349.6,90.5 349.7,86.8 349.8,94.0 349.9,84.3 350.0,93.3 350.1,96.2 350.1,91.9 350.2,89.0 350.3,93.5 350.4,99.2 350.5,91.6 350.6,90.1 350.7,88.1 350.8,86.2 350.9,78.6 351.0,72.2 351.0,87.9 351.1,82.8 351.2,90.1 351.3,79.0 351.4,83.7 351.5,93.6 351.6,82.6 351.7,82.3 351.8,100.5 351.9,90.4 351.9,89.0 352.0,96.6 352.1,93.1 352.2,91.5 352.3,83.9 352.4,85.0 352.5,72.9 352.6,88.6 352.7,80.6 352.8,86.1 352.8,100.1 352.9,92.6 353.0,96.5 353.1,90.5 353.2,82.6 353.3,67.8 353.4,83.4 353.5,84.0 353.6,90.9 353.7,78.6 353.7,79.6 353.8,89.3 353.9,86.8 354.0,91.7 354.1,78.9 354.2,84.4 354.3,87.0 354.4,84.4 354.5,84.3 354.6,88.7 354.6,93.0 354.7,93.2 354.8,95.6 354.9,84.2 355.0,75.0 355.1,95.4 355.2,85.8 355.3,84.4 355.4,91.7 355.5,85.5 355.5,92.2 355.6,80.3 355.7,89.6 355.8,86.0 355.9,83.0 356.0,88.8 356.1,95.8 356.2,89.3 356.3,82.6 356.4,87.0 356.4,85.4 356.5,94.1 356.6,85.8 356.7,82.8 356.8,86.4 356.9,76.7 357.0,87.6 357.1,92.0 357.2,94.9 357.3,80.6 357.3,86.9 357.4,81.3 357.5,84.2 357.6,78.1 357.7,80.0 357.8,88.5 357.9,85.1 358.0,80.9 358.1,93.0 358.2,79.0 358.2,80.3 358.3,81.5 358.4,87.6 358.5,85.0 358.6,92.3 358.7,86.2 358.8,89.6 358.9,86.1 359.0,89.1 359.1,85.1 359.1,80.4 359.2,96.7 359.3,81.7 359.4,96.9 359.5,97.8 359.6,87.2 359.7,86.5 359.8,80.6 359.9,95.1 360.0,86.9 360.0,85.9 360.1,80.0 360.2,87.1 360.3,83.0 360.4,91.6 360.5,74.3 360.6,88.9 360.7,82.9 360.8,91.7 360.9,90.9 360.9,83.6 361.0,78.1 361.1,84.6 361.2,85.0 361.3,88.3 361.4,80.9 361.5,83.7 361.6,77.6 361.7,84.8 361.8,91.5 361.8,89.5 361.9,91.7 362.0,93.0 362.1,80.0 362.2,82.4 362.3,93.0 362.4,77.3 362.5,85.3 362.6,74.1 362.7,84.5 362.7,86.9 362.8,90.6 362.9,96.6 363.0,86.4 363.1,85.0 363.2,99.9 363.3,83.7 363.4,83.3 363.5,89.0 363.6,86.0 363.6,88.0 363.7,90.9 363.8,88.4 363.9,79.5 364.0,94.1 364.1,85.3 364.2,85.6 364.3,90.2 364.4,88.8 364.5,93.8 364.5,91.0 364.6,86.5 364.7,84.9 364.8,91.2 364.9,70.7 365.0,89.5 365.1,85.9 365.2,87.7 365.3,88.6 365.4,79.8 365.4,100.1 365.5,79.6 365.6,80.6 365.7,92.0 365.8,81.2 365.9,89.9 366.0,74.6 366.1,88.6 366.2,91.4 366.3,96.5 366.3,93.3 366.4,89.6 366.5,91.7 366.6,92.9 366.7,90.2 366.8,90.3 366.9,79.0 367.0,95.4 367.1,95.5 367.2,91.5 367.2,97.5 367.3,93.1 367.4,91.2 367.5,82.8 367.6,87.6 367.7,89.3 367.8,83.4 367.9,85.1 368.0,87.7 368.1,84.6 368.1,90.8 368.2,83.3 368.3,84.1 368.4,88.7 368.5,83.5 368.6,78.7 368.7,86.1 368.8,70.7 368.9,89.9 369.0,82.1 369.0,88.8 369.1,85.2 369.2,82.2 369.3,90.7 369.4,87.1 369.5,85.7 369.6,86.0 369.7,83.5 369.8,81.2 369.9,82.2 369.9,85.2 370.0,88.4 370.1,92.4 370.2,90.4 370.3,89.3 370.4,83.0 370.5,88.4 370.6,93.0 370.7,83.3 370.8,90.7 370.8,90.5 370.9,87.7 371.0,84.5 371.1,99.1 371.2,92.4 371.3,85.6 371.4,90.7 371.5,91.0 371.6,89.4 371.7,79.4 371.7,88.9 371.8,82.9 371.9,82.4 372.0,88.9 372.1,84.2 372.2,74.5 372.3,89.7 372.4,92.4 372.5,82.0 372.6,88.6 372.6,89.4 372.7,92.4 372.8,77.2 372.9,82.7 373.0,87.2 373.1,90.2 373.2,94.5 373.3,85.0 373.4,85.1 373.5,93.9 373.5,80.5 373.6,82.5 373.7,91.5 373.8,89.4 373.9,88.8 374.0,85.7 374.1,87.3 374.2,95.1 374.3,78.9 374.4,84.9 374.4,80.0 374.5,80.0 374.6,87.6 374.7,84.8 374.8,82.7 374.9,82.6 375.0,87.4 375.1,89.8 375.2,86.4 375.3,90.7 375.3,89.4 375.4,97.1 375.5,86.1 375.6,91.9 375.7,89.4 375.8,86.8 375.9,84.9 376.0,76.8 376.1,85.5 376.2,93.9 376.2,85.9 376.3,89.6 376.4,84.5 376.5,78.1 376.6,90.2 376.7,89.2 376.8,89.8 376.9,96.0 377.0,90.0 377.1,86.6 377.1,80.3 377.2,88.1 377.3,88.5 377.4,83.5 377.5,83.8 377.6,78.3 377.7,83.5 377.8,83.4 377.9,79.6 378.0,78.6 378.0,89.0 378.1,85.7 378.2,95.3 378.3,88.4 378.4,100.8 378.5,87.7 378.6,89.0 378.7,87.4 378.8,87.1 378.9,84.0 378.9,85.4 379.0,89.5 379.1,90.9 379.2,80.1 379.3,79.2 379.4,88.9 379.5,83.6 379.6,94.5 379.7,94.7 379.8,87.9 379.8,70.3 379.9,92.0 380.0,90.9 380.1,78.2 380.2,96.4 380.3,91.1 380.4,84.0 380.5,87.6 380.6,85.6 380.7,73.0 380.7,92.4 380.8,88.2 380.9,87.8 381.0,90.1 381.1,105.8 381.2,78.3 381.3,85.4 381.4,95.7 381.5,90.2 381.6,84.4 381.6,84.5 381.7,94.0 381.8,104.0 381.9,84.2 382.0,84.5 382.1,84.5 382.2,96.0 382.3,77.0 382.4,85.5 382.5,77.2 382.5,71.7 382.6,87.4 382.7,92.9 382.8,82.1 382.9,87.5 383.0,88.9 383.1,91.9 383.2,77.8 383.3,88.8 383.4,93.8 383.4,88.9 383.5,92.6 383.6,85.7 383.7,88.7 383.8,92.0 383.9,83.4 384.0,89.9 384.1,82.8 384.2,80.0 384.3,88.4 384.3,89.9 384.4,85.5 384.5,68.4 384.6,86.6 384.7,85.8 384.8,86.7 384.9,84.9 385.0,83.3 385.1,90.2 385.2,89.1 385.2,86.3 385.3,90.0 385.4,85.8 385.5,83.8 385.6,69.3 385.7,102.0 385.8,90.6 385.9,77.5 386.0,82.0 386.1,92.4 386.1,90.9 386.2,76.8 386.3,78.7 386.4,69.3 386.5,80.5 386.6,94.3 386.7,86.5 386.8,82.7 386.9,96.2 387.0,90.6 387.0,82.5 387.1,80.7 387.2,89.6 387.3,85.0 387.4,78.2 387.5,88.5 387.6,108.7 387.7,83.6 387.8,88.6 387.9,79.8 387.9,85.7 388.0,90.7 388.1,74.1 388.2,89.1 388.3,84.1 388.4,83.0 388.5,82.5 388.6,85.7 388.7,83.5 388.8,86.9 388.8,74.1 388.9,87.7 389.0,87.6 389.1,87.5 389.2,85.8 389.3,89.8 389.4,79.7 389.5,78.4 389.6,98.0 389.7,86.5 389.7,90.2 389.8,100.1 389.9,84.4 390.0,89.8 390.1,88.5 390.2,89.9 390.3,80.9 390.4,75.9 390.5,70.3 390.6,83.0 390.6,87.1 390.7,85.8 390.8,90.4 390.9,86.4 391.0,76.9 391.1,84.6 391.2,82.3 391.3,84.9 391.4,80.4 391.5,72.7 391.5,97.2 391.6,86.5 391.7,89.3 391.8,88.7 391.9,92.9 392.0,86.3 392.1,88.9 392.2,89.3 392.3,87.6 392.4,89.0 392.4,96.1 392.5,82.3 392.6,87.7 392.7,90.1 392.8,85.4 392.9,88.9 393.0,94.1 393.1,83.5 393.2,92.1 393.3,87.2 393.3,86.2 393.4,82.5 393.5,83.1 393.6,86.1 393.7,88.6 393.8,87.7 393.9,83.6 394.0,81.8 394.1,85.1 394.2,88.3 394.2,83.8 394.3,87.6 394.4,87.6 394.5,87.3 394.6,85.0 394.7,85.8 394.8,83.9 394.9,83.1 395.0,73.0 395.1,92.8 395.1,91.1 395.2,86.1 395.3,86.7 395.4,80.8 395.5,86.6 395.6,87.0 395.7,84.0 395.8,83.7 395.9,87.2 396.0,85.3 396.0,89.6 396.1,89.1 396.2,83.3 396.3,90.3 396.4,84.1 396.5,84.7 396.6,84.5 396.7,84.1 396.8,85.0 396.9,92.3 396.9,89.4 397.0,88.3 397.1,83.8 397.2,90.0 397.3,88.8 397.4,87.7 397.5,82.1 397.6,91.6 397.7,91.4 397.8,84.2 397.8,94.6 397.9,85.3 398.0,88.4 398.1,93.0 398.2,91.1 398.3,108.3 398.4,85.8 398.5,87.8 398.6,79.8 398.7,80.7 398.7,86.1 398.8,89.4 398.9,86.7 399.0,81.2 399.1,96.5 399.2,83.1 399.3,89.3 399.4,86.2 399.5,84.9 399.6,82.1 399.6,85.3 399.7,88.6 399.8,84.9 399.9,86.5 400.0,87.6 400.1,85.5 400.2,82.0 400.3,85.8 400.4,85.7 400.5,93.2 400.5,87.2 400.6,96.2 400.7,82.8 400.8,91.4 400.9,79.8 401.0,71.0 401.1,88.6 401.2,79.6 401.3,86.6 401.4,89.4 401.4,90.9 401.5,83.6 401.6,79.3 401.7,84.7 401.8,94.4 401.9,93.9 402.0,87.7 402.1,79.5 402.2,85.1 402.3,84.8 402.3,80.2 402.4,87.6 402.5,81.8 402.6,86.6 402.7,88.1 402.8,84.1 402.9,84.4 403.0,69.3 403.1,92.7 403.2,90.8 403.2,81.7 403.3,84.9 403.4,79.4 403.5,91.0 403.6,82.7 403.7,90.1 403.8,84.9 403.9,89.1 404.0,83.8 404.1,78.6 404.1,83.0 404.2,96.0 404.3,81.6 404.4,84.2 404.5,92.0 404.6,91.2 404.7,86.5 404.8,104.1 404.9,88.9 405.0,95.0 405.0,85.1 405.1,85.7 405.2,73.8 405.3,93.3 405.4,73.4 405.5,77.4 405.6,85.0 405.7,80.8 405.8,86.0 405.9,81.4 405.9,90.4 406.0,86.1 406.1,91.9 406.2,94.8 406.3,88.0 406.4,90.0 406.5,83.6 406.6,79.9 406.7,87.4 406.8,86.2 406.8,85.6 406.9,95.3 407.0,85.1 407.1,86.5 407.2,86.8 407.3,92.3 407.4,96.9 407.5,87.9 407.6,80.4 407.7,79.5 407.7,80.6 407.8,78.9 407.9,84.6 408.0,80.5 408.1,87.6 408.2,67.4 408.3,81.7 408.4,72.5 408.5,85.3 408.6,93.2 408.6,79.3 408.7,101.1 408.8,86.9 408.9,88.1 409.0,91.3 409.1,79.5 409.2,83.4 409.3,89.8 409.4,86.2 409.5,88.8 409.5,83.3 409.6,88.5 409.7,90.6 409.8,89.9 409.9,88.8 410.0,85.0 410.1,91.4 410.2,87.0 410.3,84.2 410.4,74.3 410.4,82.1 410.5,102.2 410.6,81.1 410.7,88.6 410.8,84.9 410.9,79.5 411.0,82.7 411.1,98.6 411.2,84.9 411.3,86.0 411.3,84.4 411.4,79.4 411.5,92.3 411.6,80.8 411.7,95.2 411.8,86.3 411.9,84.5 412.0,74.5 412.1,90.2 412.2,95.5 412.2,77.0 412.3,90.0 412.4,78.3 412.5,90.3 412.6,91.2 412.7,80.0 412.8,86.1 412.9,81.3 413.0,94.1 413.1,77.9 413.1,89.7 413.2,82.2 413.3,91.8 413.4,94.7 413.5,87.9 413.6,85.6 413.7,78.2 413.8,84.7 413.9,82.8 414.0,83.1 414.0,70.2 414.1,90.9 414.2,79.9 414.3,87.3 414.4,85.2 414.5,89.4 414.6,60.6 414.7,93.2 414.8,93.5 414.9,87.6 414.9,92.7 415.0,82.8 415.1,81.7 415.2,90.5 415.3,82.4 415.4,90.0 415.5,86.8 415.6,86.5 415.7,76.6 415.8,86.6 415.8,91.4 415.9,94.6 416.0,80.2 416.1,95.4 416.2,89.0 416.3,88.6 416.4,99.5 416.5,89.0 416.6,81.3 416.7,85.3 416.7,91.3 416.8,82.9 416.9,83.8 417.0,75.8 417.1,90.5 417.2,88.6 417.3,86.3 417.4,87.3 417.5,72.2 417.6,87.1 417.6,71.5 417.7,85.0 417.8,89.5 417.9,93.9 418.0,92.1 418.1,89.5 418.2,83.9 418.3,82.1 418.4,92.1 418.5,85.0 418.5,82.4 418.6,86.9 418.7,95.3 418.8,98.1 418.9,82.4 419.0,81.8 419.1,85.2 419.2,92.2 419.3,79.0 419.4,80.2 419.4,86.9 419.5,87.9 419.6,97.1 419.7,82.7 419.8,95.2 419.9,83.1 420.0,82.8 420.1,86.2 420.2,78.3 420.3,88.4 420.3,83.6 420.4,82.5 420.5,85.4 420.6,88.9 420.7,80.2 420.8,84.4 420.9,87.7 421.0,90.6 421.1,86.0 421.2,75.6 421.2,86.1 421.3,88.0 421.4,92.3 421.5,93.2 421.6,96.8 421.7,85.4 421.8,86.5 421.9,92.2 422.0,94.6 422.1,88.4 422.1,89.5 422.2,93.8 422.3,85.1 422.4,85.9 422.5,87.0 422.6,82.6 422.7,61.6 422.8,79.5 422.9,76.9 423.0,84.0 423.0,83.3 423.1,88.1 423.2,84.8 423.3,93.5 423.4,105.1 423.5,87.8 423.6,90.6 423.7,83.6 423.8,86.6 423.9,83.4 423.9,85.0 424.0,80.5 424.1,86.2 424.2,108.8 424.3,89.2 424.4,75.9 424.5,96.1 424.6,87.7 424.7,81.4 424.8,84.5 424.8,79.2 424.9,60.6 425.0,108.8 425.1,60.6 425.2,94.2 425.3,81.5 425.4,79.0 425.5,89.1 425.6,83.8 425.7,88.9 425.7,94.4 425.8,89.1 425.9,95.2 426.0,89.5 426.1,85.8 426.2,83.1 426.3,82.4 426.4,87.6 426.5,86.1 426.6,85.9 426.6,85.9 426.7,89.8 426.8,87.6 426.9,85.5 427.0,88.4 427.1,86.2 427.2,85.0 427.3,90.7 427.4,87.1 427.5,86.1 427.5,86.7 427.6,91.0 427.7,85.7 427.8,88.5 427.9,84.0 428.0,85.6 428.1,88.7 428.2,86.1 428.3,89.5 428.4,80.6 428.4,93.6 428.5,87.9 428.6,83.1 428.7,86.3 428.8,87.0 428.9,90.2 429.0,89.7 429.1,83.0 429.2,94.8 429.3,76.4 429.3,87.3 429.4,76.1 429.5,81.2 429.6,89.0 429.7,83.5 429.8,85.8 429.9,84.9 430.0,83.4 430.1,89.5 430.2,89.8 430.2,88.8 430.3,92.9 430.4,88.1 430.5,86.1 430.6,86.0 430.7,86.2 430.8,88.6 430.9,83.9 431.0,96.7 431.1,88.5 431.1,88.2 431.2,83.8 431.3,84.6 431.4,84.2 431.5,87.0 431.6,83.8 431.7,90.3 431.8,86.8 431.9,93.6 432.0,81.7 432.0,82.2 432.1,88.7 432.2,89.4 432.3,92.8 432.4,91.1 432.5,86.6 432.6,87.3 432.7,90.6 432.8,88.1 432.9,88.5 432.9,85.8 433.0,85.3 433.1,87.3 433.2,83.8 433.3,86.9 433.4,88.8 433.5,86.5 433.6,86.9 433.7,85.5 433.8,89.9 433.8,85.6 433.9,87.8 434.0,86.4 434.1,85.1 434.2,88.7 434.3,88.4 434.4,84.3 434.5,88.0 434.6,87.7 434.7,85.9 434.7,87.2 434.8,85.1 434.9,86.1 435.0,87.1 435.1,83.5 435.2,78.2 435.3,87.6 435.4,79.8 435.5,81.1 435.6,104.9 435.6,84.7 435.7,92.9 435.8,91.0 435.9,85.7 436.0,87.6 436.1,79.7 436.2,95.0 436.3,90.3 436.4,91.1 436.5,88.2 436.5,49.1 436.6,94.3 436.7,82.4 436.8,90.7 436.9,125.2 437.0,81.6 437.1,89.0 437.2,83.5 437.3,86.7 437.4,88.3 437.4,89.4 437.5,97.2 437.6,91.5 437.7,86.3 437.8,95.6 437.9,52.9 438.0,81.6 438.1,84.0 438.2,94.6 438.3,93.1 438.3,84.4 438.4,118.4 438.5,91.4 438.6,87.5 438.7,87.9 438.8,29.4 438.9,85.0 439.0,91.6 439.1,89.9 439.2,75.8 439.2,94.9 439.3,89.7 439.4,39.4 439.5,90.7 439.6,80.5 439.7,86.8 439.8,84.2 439.9,101.4 440.0,80.7 440.1,78.7 440.1,91.2 440.2,80.0 440.3,85.7 440.4,82.1 440.5,77.3 440.6,86.5 440.7,92.5 440.8,98.4 440.9,93.9 441.0,91.3 441.0,91.1 441.1,90.8 441.2,80.9 441.3,68.3 441.4,91.8 441.5,81.0 441.6,126.8 441.7,90.5 441.8,87.7 441.9,80.8 441.9,83.2 442.0,84.6 442.1,80.2 442.2,83.2 442.3,79.8 442.4,91.0 442.5,95.7 442.6,89.1 442.7,82.6 442.8,85.6 442.8,78.3 442.9,83.3 443.0,84.3 443.1,82.7 443.2,90.5 443.3,97.2 443.4,92.0 443.5,87.5 443.6,94.0 443.7,84.3 443.7,94.7 443.8,82.7 443.9,93.6 444.0,85.6 444.1,87.6 444.2,91.2 444.3,80.7 444.4,89.0 444.5,79.6 444.6,91.9 444.6,90.8 444.7,96.7 444.8,84.1 444.9,82.4 445.0,85.8 445.1,87.6 445.2,91.3 445.3,75.4 445.4,83.2 445.5,95.8 445.5,88.3 445.6,99.4 445.7,79.2 445.8,77.3 445.9,79.8 446.0,87.1 446.1,92.5 446.2,116.5 446.3,84.3 446.4,90.4 446.4,88.6 446.5,89.9 446.6,88.3 446.7,77.1 446.8,78.9 446.9,86.1 447.0,86.7 447.1,92.0 447.2,92.5 447.3,91.8 447.3,82.7 447.4,85.7 447.5,82.3 447.6,84.8 447.7,88.6 447.8,92.5 447.9,88.5 448.0,93.3 448.1,77.6 448.2,85.5 448.2,88.4 448.3,77.7 448.4,88.5 448.5,84.2 448.6,78.2 448.7,64.5 448.8,88.4 448.9,84.5 449.0,80.4 449.1,113.6 449.1,96.5 449.2,80.9 449.3,86.0 449.4,83.1 449.5,87.9 449.6,80.5 449.7,79.5 449.8,91.3 449.9,84.1 450.0,89.0 450.0,92.7 450.1,87.8 450.2,84.7 450.3,91.5 450.4,91.1 450.5,82.6 450.6,86.6 450.7,85.4 450.8,90.4 450.9,88.8 450.9,86.4 451.0,86.2 451.1,86.3 451.2,82.0 451.3,86.3 451.4,91.4 451.5,89.4 451.6,90.2 451.7,88.5 451.8,88.9 451.8,88.0 451.9,86.9 452.0,89.0 452.1,88.7 452.2,87.6 452.3,83.9 452.4,85.4 452.5,87.8 452.6,85.7 452.7,90.7 452.7,83.9 452.8,84.7 452.9,91.4 453.0,91.8 453.1,80.9 453.2,95.6 453.3,89.9 453.4,89.7 453.5,84.9 453.6,91.4 453.6,86.2 453.7,87.4 453.8,87.8 453.9,84.4 454.0,82.7 454.1,85.7 454.2,87.7 454.3,93.7 454.4,82.6 454.5,87.8 454.5,92.4 454.6,86.4 454.7,82.6 454.8,73.1 454.9,90.4 455.0,80.2 455.1,85.1 455.2,85.9 455.3,83.9 455.4,93.3 455.4,87.1 455.5,87.4 455.6,80.2 455.7,88.5 455.8,88.5 455.9,91.0 456.0,89.3 456.1,87.5 456.2,86.1 456.3,87.4 456.3,80.9 456.4,83.8 456.5,85.0 456.6,82.8 456.7,85.0 456.8,88.4 456.9,91.4 457.0,85.8 457.1,89.3 457.2,82.9 457.2,89.1 457.3,93.4 457.4,86.7 457.5,83.7 457.6,87.4 457.7,86.3 457.8,86.4 457.9,83.4 458.0,85.5 458.1,87.0 458.1,88.2 458.2,91.7 458.3,82.7 458.4,83.4 458.5,89.6 458.6,85.0 458.7,85.9 458.8,88.0 458.9,87.8 459.0,85.8 459.0,90.4 459.1,88.4 459.2,87.1 459.3,86.9 459.4,87.5 459.5,87.2 459.6,85.3 459.7,89.5 459.8,86.6 459.9,88.4 459.9,82.4 460.0,91.0 460.1,87.5 460.2,84.8 460.3,87.7 460.4,87.8 460.5,88.4 460.6,85.9 460.7,90.2 460.8,87.1 460.8,85.8 460.9,91.1 461.0,86.0 461.1,88.2 461.2,85.9 461.3,84.3 461.4,85.8 461.5,90.2 461.6,85.8 461.7,91.5 461.7,89.0 461.8,81.9 461.9,86.8 462.0,82.2 462.1,87.3 462.2,86.7 462.3,89.5 462.4,84.0 462.5,87.2 462.6,79.6 462.6,85.5 462.7,85.2 462.8,85.8 462.9,86.8 463.0,86.7 463.1,88.7 463.2,92.9 463.3,85.3 463.4,80.6 463.5,81.1 463.5,79.9 463.6,85.2 463.7,89.4 463.8,89.5 463.9,84.5 464.0,85.6 464.1,87.1 464.2,86.9 464.3,89.1 464.4,85.1 464.4,100.1 464.5,86.1 464.6,83.1 464.7,87.0 464.8,82.6 464.9,82.7 465.0,88.7 465.1,79.8 465.2,90.1 465.3,86.8 465.3,84.4 465.4,93.1 465.5,82.1 465.6,83.2 465.7,86.9 465.8,80.4 465.9,85.9 466.0,87.1 466.1,83.4 466.2,87.6 466.2,86.6 466.3,85.5 466.4,84.1 466.5,83.3 466.6,90.8 466.7,92.4 466.8,86.9 466.9,86.7 467.0,97.7 467.1,85.6 467.1,84.7 467.2,92.1 467.3,81.8 467.4,89.5 467.5,84.7 467.6,81.0 467.7,84.6 467.8,89.7 467.9,85.9 468.0,83.1 468.0,80.5 468.1,85.4 468.2,83.2 468.3,89.7 468.4,87.2 468.5,83.1 468.6,91.6 468.7,86.7 468.8,91.9 468.9,82.3 468.9,86.9 469.0,75.4 469.1,90.9 469.2,90.3 469.3,81.3 469.4,88.5 469.5,88.1 469.6,69.4 469.7,103.0 469.8,92.2 469.8,89.3 469.9,86.4 470.0,86.7 470.1,85.5 470.2,87.8 470.3,88.2 470.4,85.9 470.5,88.5 470.6,88.9 470.7,88.1 470.7,86.5 470.8,87.0 470.9,87.9 471.0,87.3 471.1,86.7 471.2,78.9 471.3,82.0 471.4,90.2 471.5,83.8 471.6,91.1 471.6,85.0 471.7,88.6 471.8,84.9 471.9,83.6 472.0,91.9 472.1,84.9 472.2,85.8 472.3,87.9 472.4,85.5 472.5,88.0 472.5,86.2 472.6,89.6 472.7,84.4 472.8,84.9 472.9,84.5 473.0,88.4 473.1,81.4 473.2,83.2 473.3,86.8 473.4,87.8 473.4,87.7 473.5,84.7 473.6,83.7 473.7,88.7 473.8,92.3 473.9,85.3 474.0,86.7 474.1,86.1 474.2,85.1 474.3,89.7 474.3,86.4 474.4,87.4 474.5,85.5 474.6,83.2 474.7,86.6 474.8,89.0 474.9,83.1 475.0,84.6 475.1,87.2 475.2,91.7 475.2,89.1 475.3,86.2 475.4,85.1 475.5,88.1 475.6,85.4 475.7,88.4 475.8,87.8 475.9,85.2 476.0,87.4 476.1,86.3 476.1,84.2 476.2,83.5 476.3,88.3 476.4,74.1 476.5,118.4 476.6,90.3 476.7,85.9 476.8,88.1 476.9,91.8 477.0,85.2 477.0,89.0 477.1,86.2 477.2,85.5 477.3,84.9 477.4,86.9 477.5,92.2 477.6,85.1 477.7,88.3 477.8,90.6 477.9,92.8 477.9,83.0 478.0,86.3 478.1,86.4 478.2,85.0 478.3,86.9 478.4,90.8 478.5,84.8 478.6,83.9 478.7,85.3 478.8,82.5 478.8,81.4 478.9,88.9 479.0,88.9 479.1,84.2 479.2,86.2 479.3,86.1 479.4,84.1 479.5,84.6 479.6,87.9 479.7,86.3 479.7,88.6 479.8,87.2 479.9,89.7 480.0,92.1 480.1,88.0 480.2,88.3 480.3,84.2 480.4,82.4 480.5,86.6 480.6,85.4 480.6,88.4 480.7,89.2 480.8,87.4 480.9,87.4 481.0,85.8 481.1,86.3 481.2,82.1 481.3,87.2 481.4,91.2 481.5,86.3 481.5,88.4 481.6,86.1 481.7,83.6 481.8,88.4 481.9,86.8 482.0,85.2 482.1,90.3 482.2,86.0 482.3,85.1 482.4,84.4 482.4,83.6 482.5,85.1 482.6,85.6 482.7,90.4 482.8,93.9 482.9,89.2 483.0,82.7 483.1,86.3 483.2,92.7 483.3,87.8 483.3,82.3 483.4,91.6 483.5,85.0 483.6,89.7 483.7,83.8 483.8,86.5 483.9,78.2 484.0,90.2 484.1,95.2 484.2,90.6 484.2,84.6 484.3,86.2 484.4,84.1 484.5,86.3 484.6,89.7 484.7,88.3 484.8,89.9 484.9,89.4 485.0,86.2 485.1,83.7 485.1,84.3 485.2,85.2 485.3,88.1 485.4,85.2 485.5,88.9 485.6,86.0 485.7,84.3 485.8,87.1 485.9,87.8 486.0,87.7 486.0,84.9 486.1,87.4 486.2,90.4 486.3,87.7 486.4,89.4 486.5,82.5 486.6,86.5 486.7,90.5 486.8,85.9 486.9,84.6 486.9,90.2 487.0,87.5 487.1,86.2 487.2,85.8 487.3,83.9 487.4,85.6 487.5,80.5 487.6,87.1 487.7,82.5 487.8,86.5 487.8,91.1 487.9,89.7 488.0,91.4 488.1,91.1 488.2,83.4 488.3,88.3 488.4,85.0 488.5,89.6 488.6,86.6 488.7,89.4 488.7,84.3 488.8,77.6 488.9,87.8 489.0,87.0 489.1,80.8 489.2,85.4 489.3,83.3 489.4,89.9 489.5,88.3 489.6,100.1 489.6,91.7 489.7,82.8 489.8,85.8 489.9,86.6 490.0,87.2 490.1,87.3 490.2,88.2 490.3,82.1 490.4,84.3 490.5,82.4 490.5,87.6 490.6,89.7 490.7,81.7 490.8,91.0 490.9,88.8 491.0,81.8 491.1,82.4 491.2,91.7 491.3,87.7 491.4,86.5 491.4,87.1 491.5,90.1 491.6,72.8 491.7,88.7 491.8,87.6 491.9,94.2 492.0,87.0 492.1,94.6 492.2,83.7 492.3,84.5 492.3,88.7 492.4,85.9 492.5,86.1 492.6,87.2 492.7,85.1 492.8,87.1 492.9,88.5 493.0,89.9 493.1,79.6 493.2,85.8 493.2,86.7 493.3,78.9 493.4,88.2 493.5,88.2 493.6,83.8 493.7,82.3 493.8,83.8 493.9,92.7 494.0,94.9 494.1,86.7 494.1,84.7 494.2,90.2 494.3,90.9 494.4,87.1 494.5,90.3 494.6,92.5 494.7,86.9 494.8,82.7 494.9,86.0 495.0,82.0 495.0,90.7 495.1,83.6 495.2,86.6 495.3,98.8 495.4,88.3 495.5,90.1 495.6,87.5 495.7,89.7 495.8,81.4 495.9,88.1 495.9,92.5 496.0,87.4 496.1,85.0 496.2,87.9 496.3,83.0 496.4,90.5 496.5,90.1 496.6,79.9 496.7,86.6 496.8,84.3 496.8,83.7 496.9,84.2 497.0,86.4 497.1,97.1 497.2,82.1 497.3,88.6 497.4,86.1 497.5,83.7 497.6,88.2 497.7,92.9 497.7,84.7 497.8,82.1 497.9,85.5 498.0,93.5 498.1,83.9 498.2,78.4 498.3,93.0 498.4,97.8 498.5,87.6 498.6,86.3 498.6,83.3 498.7,84.6 498.8,86.2 498.9,84.3 499.0,85.2 499.1,86.0 499.2,86.8 499.3,87.2 499.4,83.6 499.5,84.9 499.5,88.3 499.6,82.0 499.7,89.6 499.8,87.5 499.9,86.0 500.0,94.4 500.1,88.1 500.2,83.0 500.3,83.2 500.4,91.5 500.4,90.0 500.5,91.0 500.6,87.5 500.7,86.8 500.8,93.1 500.9,85.2 501.0,86.3 501.1,98.2 501.2,89.3 501.3,87.3 501.3,93.9 501.4,85.6 501.5,85.7 501.6,87.0 501.7,88.8 501.8,81.3 501.9,81.9 502.0,94.3 502.1,84.8 502.2,85.9 502.2,97.2 502.3,81.2 502.4,83.9 502.5,83.6 502.6,85.9 502.7,89.2 502.8,88.7 502.9,84.4 503.0,81.7 503.1,88.6 503.1,87.7 503.2,83.7 503.3,95.5 503.4,84.7 503.5,87.5 503.6,95.6 503.7,83.3 503.8,90.3 503.9,83.2 504.0,75.1 504.0,91.7 504.1,91.5 504.2,84.8 504.3,93.8 504.4,83.5 504.5,85.7 504.6,82.4 504.7,94.1 504.8,85.7 504.9,84.6 504.9,94.0 505.0,82.8 505.1,92.2 505.2,85.7 505.3,92.0 505.4,83.2 505.5,79.4 505.6,86.2 505.7,86.3 505.8,81.0 505.8,88.3 505.9,86.2 506.0,83.0 506.1,84.7 506.2,79.8 506.3,81.4 506.4,78.3 506.5,86.4 506.6,81.6 506.7,89.7 506.7,82.5 506.8,76.0 506.9,76.4 507.0,91.5 507.1,86.9 507.2,83.2 507.3,89.9 507.4,83.9 507.5,83.9 507.6,88.2 507.6,88.4 507.7,90.0 507.8,84.9 507.9,80.8 508.0,84.9 508.1,74.5 508.2,92.4 508.3,88.6 508.4,83.3 508.5,91.0 508.5,84.7 508.6,82.7 508.7,85.4 508.8,99.2 508.9,86.7 509.0,84.4 509.1,95.0 509.2,83.8 509.3,89.0 509.4,90.8 509.4,87.7 509.5,85.4 509.6,87.0 509.7,82.2 509.8,91.5 509.9,82.1 510.0,85.7 510.1,89.2 510.2,82.6 510.3,79.8 510.3,89.7 510.4,87.9 510.5,74.3 510.6,100.5 510.7,81.4 510.8,86.0 510.9,91.7 511.0,87.5 511.1,88.4 511.2,76.2 511.2,84.1 511.3,87.6 511.4,82.9 511.5,93.7 511.6,87.1 511.7,87.5 511.8,92.0 511.9,81.7 512.0,90.9 512.1,96.7 512.1,81.9 512.2,83.1 512.3,84.9 512.4,88.6 512.5,81.3 512.6,91.0 512.7,95.8 512.8,85.7 512.9,82.9 513.0,83.7 513.0,77.5 513.1,82.8 513.2,87.4 513.3,87.3 513.4,82.6 513.5,87.7 513.6,87.0 513.7,94.0 513.8,87.8 513.9,92.0 513.9,85.4 514.0,85.9 514.1,83.4 514.2,78.7 514.3,90.5 514.4,80.2 514.5,91.4 514.6,78.0 514.7,65.5 514.8,78.0 514.8,91.2 514.9,87.6 515.0,85.8 515.1,81.7 515.2,90.6 515.3,93.6 515.4,91.8 515.5,86.8 515.6,92.3 515.7,78.7 515.7,81.1 515.8,94.8 515.9,88.6 516.0,80.7 516.1,80.1 516.2,81.6 516.3,92.7 516.4,88.1 516.5,80.9 516.6,76.4 516.6,95.1 516.7,84.3 516.8,82.2 516.9,85.9 517.0,85.4 517.1,81.8 517.2,88.9 517.3,90.5 517.4,83.1 517.5,91.7 517.5,84.3 517.6,89.7 517.7,82.8 517.8,91.7 517.9,81.5 518.0,85.2 518.1,87.8 518.2,90.3 518.3,87.2 518.4,90.5 518.4,91.8 518.5,81.8 518.6,83.9 518.7,81.1 518.8,92.4 518.9,95.1 519.0,93.5 519.1,83.6 519.2,83.0 519.3,94.7 519.3,82.0 519.4,88.4 519.5,91.8 519.6,86.9 519.7,84.0 519.8,87.5 519.9,87.3 520.0,90.2 520.1,92.8 520.2,88.2 520.2,93.7 520.3,83.9 520.4,90.3 520.5,80.8 520.6,93.6 520.7,80.3 520.8,90.5 520.9,90.5 521.0,85.3 521.1,82.6 521.1,86.7 521.2,88.1 521.3,77.7 521.4,84.3 521.5,91.9 521.6,87.7 521.7,79.1 521.8,85.1 521.9,82.9 522.0,77.5 522.0,89.2 522.1,84.9 522.2,89.5 522.3,86.6 522.4,84.2 522.5,92.5 522.6,85.9 522.7,85.9 522.8,81.9 522.9,89.2 522.9,92.2 523.0,84.8 523.1,91.6 523.2,71.2 523.3,90.1 523.4,90.5 523.5,87.1 523.6,91.2 523.7,99.2 523.8,93.1 523.8,108.8 523.9,86.5 524.0,91.4 524.1,87.2 524.2,86.8" fill="none" stroke="#EE7D2E" stroke-width="1.2" stroke-linejoin="round"/>
<path clip-path="url(#cb)" d="M326.3,91.4 326.5,90.5 326.7,89.2 326.8,89.0 327.0,90.2 327.2,90.8 327.4,91.0 327.6,91.5 327.7,90.9 327.9,90.4 328.1,89.7 328.3,90.8 328.5,90.2 328.6,89.7 328.8,90.0 329.0,91.0 329.2,89.7 329.4,90.7 329.5,90.8 329.7,90.5 329.9,91.5 330.1,90.1 330.3,90.2 330.4,88.6 330.6,87.5 330.8,88.7 331.0,87.9 331.2,85.7 331.3,85.7 331.5,86.7 331.7,83.7 331.9,83.8 332.1,82.8 332.2,82.9 332.4,82.1 332.6,81.2 332.8,80.8 333.0,79.2 333.1,79.0 333.3,81.5 333.5,82.0 333.7,80.4 333.9,80.7 334.0,82.2 334.2,82.3 334.4,84.8 334.6,83.1 334.8,85.2 334.9,83.9 335.1,84.5 335.3,87.0 335.5,86.8 335.7,88.7 335.8,88.3 336.0,88.2 336.2,87.9 336.4,88.5 336.6,88.5 336.7,89.4 336.9,88.6 337.1,87.8 337.3,89.9 337.5,88.9 337.6,86.6 337.8,88.0 338.0,88.7 338.2,86.2 338.4,86.1 338.5,85.2 338.7,84.2 338.9,86.3 339.1,87.1 339.3,86.6 339.4,86.5 339.6,87.1 339.8,85.8 340.0,85.2 340.2,85.8 340.3,85.2 340.5,85.0 340.7,86.8 340.9,85.5 341.1,83.5 341.2,83.9 341.4,82.7 341.6,83.1 341.8,83.6 342.0,82.8 342.1,83.2 342.3,82.0 342.5,84.2 342.7,83.7 342.9,83.7 343.0,84.6 343.2,83.7 343.4,84.2 343.6,83.1 343.8,83.4 343.9,84.8 344.1,84.5 344.3,84.7 344.5,84.4 344.7,83.7 344.8,82.9 345.0,82.5 345.2,84.1 345.4,83.8 345.6,84.2 345.7,85.7 345.9,84.6 346.1,84.6 346.3,85.5 346.5,84.3 346.6,85.5 346.8,85.1 347.0,85.9 347.2,85.5 347.4,85.2 347.5,86.2 347.7,86.3 347.9,84.1 348.1,85.7 348.3,88.0 348.4,87.1 348.6,88.5 348.8,87.6 349.0,89.0 349.2,86.5 349.3,86.2 349.5,86.9 349.7,84.3 349.9,87.3 350.1,86.7 350.2,86.5 350.4,87.0 350.6,86.9 350.8,88.0 351.0,88.1 351.1,87.4 351.3,86.5 351.5,87.5 351.7,87.1 351.9,86.9 352.0,87.9 352.2,88.8 352.4,87.2 352.6,85.4 352.8,84.8 352.9,86.2 353.1,86.8 353.3,86.1 353.5,85.9 353.7,84.7 353.8,83.4 354.0,83.6 354.2,83.8 354.4,83.4 354.6,83.0 354.7,83.4 354.9,85.5 355.1,83.9 355.3,82.7 355.5,84.4 355.6,84.3 355.8,81.3 356.0,80.8 356.2,81.8 356.4,82.5 356.5,83.3 356.7,81.6 356.9,83.1 357.1,81.7 357.3,82.6 357.4,81.5 357.6,82.4 357.8,82.3 358.0,83.8 358.2,82.9 358.3,82.7 358.5,84.0 358.7,85.7 358.9,87.5 359.1,86.5 359.2,87.2 359.4,87.4 359.6,88.2 359.8,88.8 360.0,87.8 360.1,87.1 360.3,86.8 360.5,87.3 360.7,88.1 360.9,86.3 361.0,85.0 361.2,86.4 361.4,88.1 361.6,87.6 361.8,85.1 361.9,84.6 362.1,83.9 362.3,83.7 362.5,83.8 362.7,84.7 362.8,85.6 363.0,85.1 363.2,84.7 363.4,84.7 363.6,85.0 363.7,86.1 363.9,86.2 364.1,85.3 364.3,85.2 364.5,85.9 364.6,86.0 364.8,86.2 365.0,85.0 365.2,84.7 365.4,84.5 365.5,86.4 365.7,87.0 365.9,86.0 366.1,87.7 366.3,86.3 366.4,87.3 366.6,87.0 366.8,87.2 367.0,86.8 367.2,86.2 367.3,85.9 367.5,89.5 367.7,90.0 367.9,88.4 368.1,87.8 368.2,88.8 368.4,88.2 368.6,86.9 368.8,88.5 369.0,88.9 369.1,87.9 369.3,87.1 369.5,86.8 369.7,87.8 369.9,88.2 370.0,87.8 370.2,86.7 370.4,88.5 370.6,88.1 370.8,86.7 370.9,88.4 371.1,88.9 371.3,88.3 371.5,86.0 371.7,86.7 371.8,87.3 372.0,86.0 372.2,85.6 372.4,86.2 372.6,86.8 372.7,87.1 372.9,87.7 373.1,86.6 373.3,87.3 373.5,85.3 373.6,86.1 373.8,85.7 374.0,85.9 374.2,85.9 374.4,86.5 374.5,87.2 374.7,87.2 374.9,86.1 375.1,85.0 375.3,86.0 375.4,87.0 375.6,86.5 375.8,86.2 376.0,87.2 376.2,85.9 376.3,86.8 376.5,85.6 376.7,86.3 376.9,85.7 377.1,86.6 377.2,86.3 377.4,86.7 377.6,86.6 377.8,87.1 378.0,85.1 378.1,86.3 378.3,86.5 378.5,86.3 378.7,85.7 378.9,85.8 379.0,86.8 379.2,85.6 379.4,84.8 379.6,87.1 379.8,87.5 379.9,87.3 380.1,87.1 380.3,86.8 380.5,86.5 380.7,86.5 380.8,85.7 381.0,86.8 381.2,87.3 381.4,89.0 381.6,87.8 381.7,87.5 381.9,85.7 382.1,85.9 382.3,85.3 382.5,87.1 382.6,86.9 382.8,84.8 383.0,85.1 383.2,83.9 383.4,84.9 383.5,84.1 383.7,84.8 383.9,85.6 384.1,84.2 384.3,85.0 384.4,84.3 384.6,84.0 384.8,85.2 385.0,85.6 385.2,84.4 385.3,85.4 385.5,84.2 385.7,83.3 385.9,83.6 386.1,83.7 386.2,83.0 386.4,82.4 386.6,82.4 386.8,82.1 387.0,83.5 387.1,83.5 387.3,84.4 387.5,84.3 387.7,83.5 387.9,84.4 388.0,83.5 388.2,81.6 388.4,81.9 388.6,80.6 388.8,83.6 388.9,82.4 389.1,82.5 389.3,81.9 389.5,83.9 389.7,83.2 389.8,81.7 390.0,81.6 390.2,81.0 390.4,82.2 390.6,83.1 390.7,83.8 390.9,84.6 391.1,84.6 391.3,83.8 391.5,83.5 391.6,83.1 391.8,84.7 392.0,84.4 392.2,83.8 392.4,85.0 392.5,86.2 392.7,88.6 392.9,88.5 393.1,87.3 393.3,88.8 393.4,89.6 393.6,88.5 393.8,87.6 394.0,88.0 394.2,87.1 394.3,86.1 394.5,88.6 394.7,86.3 394.9,85.9 395.1,89.1 395.2,89.6 395.4,87.9 395.6,86.7 395.8,87.2 396.0,86.9 396.1,85.8 396.3,86.0 396.5,87.8 396.7,86.7 396.9,86.5 397.0,86.0 397.2,85.8 397.4,86.1 397.6,84.3 397.8,86.8 397.9,86.7 398.1,85.1 398.3,87.6 398.5,86.7 398.7,85.4 398.8,86.5 399.0,84.7 399.2,88.3 399.4,86.5 399.6,86.7 399.7,86.3 399.9,86.5 400.1,85.8 400.3,86.7 400.5,87.6 400.6,85.6 400.8,85.9 401.0,86.8 401.2,86.7 401.4,86.0 401.5,85.2 401.7,84.5 401.9,85.6 402.1,85.4 402.3,85.2 402.4,85.6 402.6,85.4 402.8,84.9 403.0,83.6 403.2,82.8 403.3,84.2 403.5,83.6 403.7,83.6 403.9,83.2 404.1,82.6 404.2,83.0 404.4,83.5 404.6,82.5 404.8,83.8 405.0,84.2 405.1,84.2 405.3,84.3 405.5,85.1 405.7,86.6 405.9,86.6 406.0,85.4 406.2,84.7 406.4,85.6 406.6,84.8 406.8,84.5 406.9,85.7 407.1,87.0 407.3,87.0 407.5,86.9 407.7,85.6 407.8,88.3 408.0,87.6 408.2,86.1 408.4,86.4 408.6,86.1 408.7,85.9 408.9,85.7 409.1,86.9 409.3,86.5 409.5,86.8 409.6,88.7 409.8,86.5 410.0,86.6 410.2,86.6 410.4,86.2 410.5,86.9 410.7,86.8 410.9,86.5 411.1,88.1 411.3,86.2 411.4,86.2 411.6,86.0 411.8,84.7 412.0,87.1 412.2,85.8 412.3,85.7 412.5,86.8 412.7,85.0 412.9,84.8 413.1,85.2 413.2,87.1 413.4,86.2 413.6,85.0 413.8,85.0 414.0,84.6 414.1,86.6 414.3,86.8 414.5,87.0 414.7,85.3 414.9,84.6 415.0,84.4 415.2,85.1 415.4,85.5 415.6,85.3 415.8,86.4 415.9,87.4 416.1,85.9 416.3,85.7 416.5,83.9 416.7,86.4 416.8,86.3 417.0,85.5 417.2,86.3 417.4,87.3 417.6,86.7 417.7,85.1 417.9,84.3 418.1,85.8 418.3,85.6 418.5,85.1 418.6,85.6 418.8,83.9 419.0,85.8 419.2,86.6 419.4,85.0 419.5,84.8 419.7,85.5 419.9,85.7 420.1,86.8 420.3,87.5 420.4,84.6 420.6,85.2 420.8,84.8 421.0,85.7 421.2,85.3 421.3,87.2 421.5,86.2 421.7,86.2 421.9,87.3 422.1,85.7 422.2,86.7 422.4,86.1 422.6,85.5 422.8,84.7 423.0,84.9 423.1,84.7 423.3,85.2 423.5,86.9 423.7,85.4 423.9,85.9 424.0,84.7 424.2,84.6 424.4,84.7 424.6,84.9 424.8,86.0 424.9,85.0 425.1,87.2 425.3,86.4 425.5,87.2 425.7,86.7 425.8,83.0 426.0,85.4 426.2,85.1 426.4,85.3 426.6,85.8 426.7,86.0 426.9,85.7 427.1,85.6 427.3,85.6 427.5,84.2 427.6,84.5 427.8,85.3 428.0,85.3 428.2,86.8 428.4,85.5 428.5,86.0 428.7,86.6 428.9,83.8 429.1,86.3 429.3,87.3 429.4,87.1 429.6,84.1 429.8,85.9 430.0,87.2 430.2,87.4 430.3,86.6 430.5,85.9 430.7,88.1 430.9,87.2 431.1,86.2 431.2,87.4 431.4,86.4 431.6,87.5 431.8,88.1 432.0,87.5 432.1,88.4 432.3,87.5 432.5,85.8 432.7,85.2 432.9,85.9 433.0,87.1 433.2,86.7 433.4,85.6 433.6,85.8 433.8,87.7 433.9,86.7 434.1,85.2 434.3,84.7 434.5,83.6 434.7,85.2 434.8,84.8 435.0,85.6 435.2,85.3 435.4,84.3 435.6,85.1 435.7,85.0 435.9,85.4 436.1,84.4 436.3,84.4 436.5,86.2 436.6,86.3 436.8,86.0 437.0,84.9 437.2,84.3 437.4,86.2 437.5,86.2 437.7,85.4 437.9,84.1 438.1,84.6 438.3,84.5 438.4,86.6 438.6,86.3 438.8,85.4 439.0,83.4 439.2,84.5 439.3,85.8 439.5,86.8 439.7,85.3 439.9,85.7 440.1,86.0 440.2,86.3 440.4,87.4 440.6,85.6 440.8,85.4 441.0,85.3 441.1,83.6 441.3,84.6 441.5,85.0 441.7,86.2 441.9,85.3 442.0,85.0 442.2,86.6 442.4,86.7 442.6,85.7 442.8,84.3 442.9,86.6 443.1,85.2 443.3,84.8 443.5,87.4 443.7,86.3 443.8,86.2 444.0,85.4 444.2,86.7 444.4,85.7 444.6,86.7 444.7,87.1 444.9,86.6 445.1,86.5 445.3,85.9 445.5,85.4 445.6,86.5 445.8,85.1 446.0,86.4 446.2,86.9 446.4,87.5 446.5,87.1 446.7,85.1 446.9,86.4 447.1,86.4 447.3,85.7 447.4,84.9 447.6,85.8 447.8,86.5 448.0,86.4 448.2,87.0 448.3,86.3 448.5,86.8 448.7,86.4 448.9,86.8 449.1,87.9 449.2,87.0 449.4,86.8 449.6,84.5 449.8,85.7 450.0,86.9 450.1,85.7 450.3,86.5 450.5,86.7 450.7,87.8 450.9,87.7 451.0,87.2 451.2,88.3 451.4,88.3 451.6,87.8 451.8,86.0 451.9,87.9 452.1,87.7 452.3,87.2 452.5,87.6 452.7,87.3 452.8,86.1 453.0,85.4 453.2,86.0 453.4,87.3 453.6,88.7 453.7,87.7 453.9,87.5 454.1,87.9 454.3,86.1 454.5,88.0 454.6,86.3 454.8,87.8 455.0,88.4 455.2,86.3 455.4,86.8 455.5,87.1 455.7,87.1 455.9,87.9 456.1,86.8 456.3,86.7 456.4,87.0 456.6,86.1 456.8,87.2 457.0,85.9 457.2,86.6 457.3,86.5 457.5,84.9 457.7,86.2 457.9,87.2 458.1,84.8 458.2,83.5 458.4,84.0 458.6,85.1 458.8,86.8 459.0,86.3 459.1,85.9 459.3,84.7 459.5,87.6 459.7,85.9 459.9,87.8 460.0,85.8 460.2,86.2 460.4,86.4 460.6,86.8 460.8,86.4 460.9,86.3 461.1,88.4 461.3,89.0 461.5,86.7 461.7,87.3 461.8,87.6 462.0,86.6 462.2,86.1 462.4,85.9 462.6,87.6 462.7,88.1 462.9,87.4 463.1,87.3 463.3,86.2 463.5,87.8 463.6,88.3 463.8,86.0 464.0,86.7 464.2,86.4 464.4,86.0 464.5,85.3 464.7,86.4 464.9,86.8 465.1,87.4 465.3,85.1 465.4,85.8 465.6,85.9 465.8,85.9 466.0,85.0 466.2,85.3 466.3,86.9 466.5,86.8 466.7,87.9 466.9,86.5 467.1,86.2 467.2,85.0 467.4,83.4 467.6,84.3 467.8,86.5 468.0,85.3 468.1,84.7 468.3,82.8 468.5,83.5 468.7,84.0 468.9,85.2 469.0,86.2 469.2,84.0 469.4,84.3 469.6,84.6 469.8,84.2 469.9,87.8 470.1,85.7 470.3,84.2 470.5,83.5 470.7,83.3 470.8,84.7 471.0,85.9 471.2,86.8 471.4,85.0 471.6,85.8 471.7,87.1 471.9,85.5 472.1,86.2 472.3,85.7 472.5,85.7 472.6,86.8 472.8,87.1 473.0,87.2 473.2,86.0 473.4,86.7 473.5,86.3 473.7,87.1 473.9,85.5 474.1,86.6 474.3,86.5 474.4,86.2 474.6,86.6 474.8,87.3 475.0,86.2 475.2,87.9 475.3,87.3 475.5,87.1 475.7,85.1 475.9,87.6 476.1,87.9 476.2,87.0 476.4,87.1 476.6,86.6 476.8,85.8 477.0,85.9 477.1,86.9 477.3,87.9 477.5,87.9 477.7,87.4 477.9,86.5 478.0,85.0 478.2,86.6 478.4,87.7 478.6,86.3 478.8,85.0 478.9,86.3 479.1,86.7 479.3,85.6 479.5,84.5 479.7,85.8 479.8,86.2 480.0,86.9 480.2,86.1 480.4,87.3 480.6,87.6 480.7,88.0 480.9,85.5 481.1,84.6 481.3,85.8 481.5,85.7 481.6,85.7 481.8,85.5 482.0,86.5 482.2,85.4 482.4,86.8 482.5,86.7 482.7,84.3 482.9,86.3 483.1,87.2 483.3,86.6 483.4,87.2 483.6,86.1 483.8,85.8 484.0,87.3 484.2,87.6 484.3,86.7 484.5,87.9 484.7,87.0 484.9,88.0 485.1,87.8 485.2,86.7 485.4,86.7 485.6,89.4 485.8,86.8 486.0,88.6 486.1,88.0 486.3,87.2 486.5,88.4 486.7,86.4 486.9,88.0 487.0,87.7 487.2,89.7 487.4,88.8 487.6,88.0 487.8,86.8 487.9,89.0 488.1,87.6 488.3,89.0 488.5,88.0 488.7,87.1 488.8,86.9 489.0,87.5 489.2,88.1 489.4,88.3 489.6,88.4 489.7,87.2 489.9,87.4 490.1,87.8 490.3,86.5 490.5,84.8 490.6,85.3 490.8,85.8 491.0,85.9 491.2,85.8 491.4,84.6 491.5,83.8 491.7,82.8 491.9,84.7 492.1,83.8 492.3,83.2 492.4,83.7 492.6,83.5 492.8,85.3 493.0,84.9 493.2,83.5 493.3,83.1 493.5,85.0 493.7,86.1 493.9,85.3 494.1,85.9 494.2,86.1 494.4,86.6 494.6,88.8 494.8,85.6 495.0,85.0 495.1,85.1 495.3,85.9 495.5,87.8 495.7,85.8 495.9,85.0 496.0,85.8 496.2,84.9 496.4,85.5 496.6,85.0 496.8,85.8 496.9,85.8 497.1,85.7 497.3,84.8 497.5,86.5 497.7,86.6 497.8,86.0 498.0,87.1 498.2,85.6 498.4,86.1 498.6,86.1 498.7,86.0 498.9,87.0 499.1,86.5 499.3,85.3 499.5,85.7 499.6,86.5 499.8,86.2 500.0,85.2 500.2,84.0 500.4,85.4 500.5,86.0 500.7,86.5 500.9,85.6 501.1,86.7 501.3,87.4 501.4,85.1 501.6,86.6 501.8,85.7 502.0,86.4 502.2,88.6 502.3,86.6 502.5,84.9 502.7,85.3 502.9,86.3 503.1,85.9 503.2,88.0 503.4,87.6 503.6,87.4 503.8,87.4 504.0,85.5 504.1,86.4 504.3,86.9 504.5,85.6 504.7,87.5 504.9,87.8 505.0,85.9 505.2,85.8 505.4,86.1 505.6,83.6 505.8,84.6 505.9,84.5 506.1,85.1 506.3,86.2 506.5,85.7 506.7,87.0 506.8,85.8 507.0,86.3 507.2,86.8 507.4,86.8 507.6,86.4 507.7,85.1 507.9,86.8 508.1,87.2 508.3,85.7 508.5,87.2 508.6,87.0 508.8,87.7 509.0,85.8 509.2,85.2 509.4,86.1 509.5,85.9 509.7,85.2 509.9,86.7 510.1,86.4 510.3,85.7 510.4,85.8 510.6,88.0 510.8,87.2 511.0,84.9 511.2,86.5 511.3,87.1 511.5,85.6 511.7,85.6 511.9,88.3 512.1,88.2 512.2,87.3 512.4,86.7 512.6,88.5 512.8,86.8 513.0,87.7 513.1,87.6 513.3,89.7 513.5,89.1 513.7,88.8 513.9,87.8 514.0,88.5 514.2,88.7 514.4,88.1 514.6,88.0 514.8,89.1 514.9,89.7 515.1,91.4 515.3,87.8 515.5,86.9 515.7,88.1 515.8,88.6 516.0,88.1 516.2,88.1 516.4,87.2 516.6,88.3 516.7,88.6 516.9,87.4 517.1,88.0 517.3,90.4 517.5,90.0 517.6,88.9 517.8,88.2 518.0,89.0 518.2,88.7 518.4,88.6 518.5,88.3 518.7,88.4 518.9,89.2 519.1,88.7 519.3,88.9 519.4,88.3 519.6,88.1 519.8,87.4 520.0,88.8 520.2,88.4 520.3,88.3 520.5,88.6 520.7,89.3 520.9,88.5 521.1,88.5 521.2,88.6 521.4,87.6 521.6,87.1 521.8,88.7 522.0,88.0 522.1,87.5 522.3,87.8 522.5,87.9 522.7,87.8 522.9,88.1 523.0,86.9 523.2,88.1 523.4,87.4 523.6,87.0 523.8,85.8 523.9,87.2 524.1,87.1" fill="none" stroke="#1F7DD3" stroke-width="1.9" stroke-linejoin="round"/>
<rect x="326.3" y="26.7" width="197.9" height="100.5" fill="none" stroke="#a6a6a6" stroke-width="1"/>
<path d="M375.78,127.2 v-2.3 M375.78,26.7 v2.3 M425.25,127.2 v-2.3 M425.25,26.7 v2.3 M474.73,127.2 v-2.3 M474.73,26.7 v2.3 M326.3,49.5 h2.3 M524.2,49.5 h-2.3 M326.3,86.55 h2.3 M524.2,86.55 h-2.3 M326.3,123.6 h2.3 M524.2,123.6 h-2.3 " stroke="#a6a6a6" stroke-width="0.9" fill="none"/>
<text class="tk" transform="translate(326.4,144) scale(0.94,1)" text-anchor="middle">0</text>
<text class="tk" transform="translate(375.88,144) scale(0.94,1)" text-anchor="middle">5</text>
<text class="tk" transform="translate(425.35,144) scale(0.94,1)" text-anchor="middle">10</text>
<text class="tk" transform="translate(474.83,144) scale(0.94,1)" text-anchor="middle">15</text>
<text class="tk" transform="translate(524.3,144) scale(0.94,1)" text-anchor="middle">20</text>
<text class="tk" transform="translate(320.7,54.1) scale(0.94,1)" text-anchor="end">10</text>
<text class="tk" transform="translate(320.7,91.15) scale(0.94,1)" text-anchor="end">0</text>
<text class="tk" transform="translate(320.7,128.2) scale(0.94,1)" text-anchor="end">−<tspan dx="1.3">10</tspan></text>
<text class="tt" x="410.7" y="21.4" textLength="25.2" lengthAdjust="spacingAndGlyphs">Bulb</text>
<text class="lb" x="398.55" y="161.7" textLength="50.5" lengthAdjust="spacingAndGlyphs">time [ms]</text>
<text class="yl" transform="translate(294,78.5) rotate(-90)" x="-10.7" textLength="21.4" lengthAdjust="spacingAndGlyphs">u[V]</text>
<text class="cp" x="407.8" y="179.5" text-anchor="middle">(b)</text>
</g>
<g>
<clipPath id="cc"><rect x="47.6" y="204.5" width="210.1" height="104.9"/></clipPath>
<path clip-path="url(#cc)" d="M47.6,270.5 47.7,268.2 47.8,282.5 47.9,271.2 48.0,277.8 48.1,283.1 48.2,281.0 48.3,287.0 48.4,259.5 48.5,249.7 48.6,250.4 48.7,272.0 48.7,277.3 48.8,286.8 48.9,284.3 49.0,275.1 49.1,266.8 49.2,268.5 49.3,268.6 49.4,260.4 49.5,260.6 49.6,257.4 49.7,258.2 49.8,271.0 49.9,275.0 50.0,285.3 50.1,275.0 50.2,265.4 50.3,263.6 50.4,275.6 50.5,273.2 50.6,263.9 50.7,265.6 50.8,260.6 50.8,266.2 50.9,282.6 51.0,278.8 51.1,286.7 51.2,277.8 51.3,278.9 51.4,272.5 51.5,264.2 51.6,276.9 51.7,275.4 51.8,275.8 51.9,260.5 52.0,261.4 52.1,259.7 52.2,257.1 52.3,264.3 52.4,271.6 52.5,276.6 52.6,270.9 52.7,265.7 52.8,272.4 52.9,277.7 53.0,289.4 53.0,278.3 53.1,279.8 53.2,268.7 53.3,273.3 53.4,280.2 53.5,272.3 53.6,280.1 53.7,277.2 53.8,275.1 53.9,258.3 54.0,259.8 54.1,265.7 54.2,270.0 54.3,265.2 54.4,243.8 54.5,255.1 54.6,246.2 54.7,261.5 54.8,243.8 54.9,241.9 55.0,237.5 55.1,250.1 55.1,242.0 55.2,228.2 55.3,223.2 55.4,220.5 55.5,216.6 55.6,223.0 55.7,207.4 55.8,223.0 55.9,229.2 56.0,243.1 56.1,237.9 56.2,250.0 56.3,241.5 56.4,235.9 56.5,248.8 56.6,261.7 56.7,265.7 56.8,258.5 56.9,240.8 57.0,244.0 57.1,250.7 57.2,256.6 57.2,256.1 57.3,251.7 57.4,256.1 57.5,256.8 57.6,256.2 57.7,253.5 57.8,258.1 57.9,235.5 58.0,233.0 58.1,227.8 58.2,243.3 58.3,259.8 58.4,274.5 58.5,258.9 58.6,266.6 58.7,258.7 58.8,252.1 58.9,247.3 59.0,263.7 59.1,271.5 59.2,262.8 59.3,257.0 59.4,241.9 59.4,239.7 59.5,240.2 59.6,255.2 59.7,242.5 59.8,242.3 59.9,235.1 60.0,251.8 60.1,251.4 60.2,269.1 60.3,255.7 60.4,247.8 60.5,251.6 60.6,258.8 60.7,255.4 60.8,262.7 60.9,264.0 61.0,258.9 61.1,243.8 61.2,241.2 61.3,246.2 61.4,268.0 61.5,271.3 61.5,266.9 61.6,249.0 61.7,247.0 61.8,250.4 61.9,253.6 62.0,252.6 62.1,266.3 62.2,267.9 62.3,261.9 62.4,265.7 62.5,263.7 62.6,264.4 62.7,260.7 62.8,260.4 62.9,251.6 63.0,255.5 63.1,250.4 63.2,247.9 63.3,240.1 63.4,253.0 63.5,252.3 63.6,267.4 63.7,247.9 63.7,254.6 63.8,242.3 63.9,241.9 64.0,249.1 64.1,244.4 64.2,248.8 64.3,248.3 64.4,249.8 64.5,255.7 64.6,244.4 64.7,245.8 64.8,228.2 64.9,238.7 65.0,252.5 65.1,253.6 65.2,249.6 65.3,247.4 65.4,254.3 65.5,255.5 65.6,243.5 65.7,252.2 65.8,245.0 65.8,257.0 65.9,254.3 66.0,263.6 66.1,263.7 66.2,262.1 66.3,255.1 66.4,242.8 66.5,240.1 66.6,235.7 66.7,233.3 66.8,240.1 66.9,246.3 67.0,260.7 67.1,254.3 67.2,260.4 67.3,250.2 67.4,253.1 67.5,241.7 67.6,243.2 67.7,245.1 67.8,252.4 67.9,253.8 68.0,241.3 68.0,248.4 68.1,248.7 68.2,249.0 68.3,246.9 68.4,257.9 68.5,261.5 68.6,255.1 68.7,263.3 68.8,242.8 68.9,239.0 69.0,239.9 69.1,244.6 69.2,251.8 69.3,246.3 69.4,244.1 69.5,242.7 69.6,249.8 69.7,254.6 69.8,251.8 69.9,241.5 70.0,249.5 70.1,246.1 70.1,240.9 70.2,235.8 70.3,231.8 70.4,220.5 70.5,231.8 70.6,231.5 70.7,234.9 70.8,239.7 70.9,249.2 71.0,257.7 71.1,236.1 71.2,236.0 71.3,234.2 71.4,250.6 71.5,246.9 71.6,244.0 71.7,246.6 71.8,240.5 71.9,254.1 72.0,256.0 72.1,261.0 72.2,254.4 72.3,261.0 72.3,257.7 72.4,272.3 72.5,277.6 72.6,275.6 72.7,286.3 72.8,275.6 72.9,265.0 73.0,259.9 73.1,260.0 73.2,256.7 73.3,265.9 73.4,263.0 73.5,266.3 73.6,262.9 73.7,258.3 73.8,262.2 73.9,265.6 74.0,257.5 74.1,255.4 74.2,266.6 74.3,271.0 74.4,264.4 74.4,275.3 74.5,272.1 74.6,274.5 74.7,263.7 74.8,262.8 74.9,268.2 75.0,262.9 75.1,271.3 75.2,281.0 75.3,276.9 75.4,272.6 75.5,268.5 75.6,250.0 75.7,269.9 75.8,255.1 75.9,262.6 76.0,273.2 76.1,279.6 76.2,286.5 76.3,277.3 76.4,283.3 76.5,283.3 76.5,281.4 76.6,285.2 76.7,286.0 76.8,276.3 76.9,274.1 77.0,260.1 77.1,259.6 77.2,257.6 77.3,272.3 77.4,277.0 77.5,277.8 77.6,269.3 77.7,260.7 77.8,259.5 77.9,261.2 78.0,262.1 78.1,265.4 78.2,265.2 78.3,277.4 78.4,283.2 78.5,278.2 78.6,282.3 78.7,273.3 78.7,265.0 78.8,265.0 78.9,238.6 79.0,238.4 79.1,239.4 79.2,253.4 79.3,254.2 79.4,252.8 79.5,246.9 79.6,255.3 79.7,268.0 79.8,273.9 79.9,268.2 80.0,246.2 80.1,251.7 80.2,253.3 80.3,250.6 80.4,253.4 80.5,246.6 80.6,247.2 80.7,236.6 80.8,243.6 80.8,247.8 80.9,239.8 81.0,247.4 81.1,241.4 81.2,242.2 81.3,222.0 81.4,228.8 81.5,243.6 81.6,247.3 81.7,246.3 81.8,238.0 81.9,241.8 82.0,229.0 82.1,235.6 82.2,242.4 82.3,260.3 82.4,264.8 82.5,243.8 82.6,233.3 82.7,222.8 82.8,233.3 82.9,243.8 83.0,242.4 83.0,245.3 83.1,245.6 83.2,246.5 83.3,230.0 83.4,244.5 83.5,239.8 83.6,240.0 83.7,237.5 83.8,249.6 83.9,254.3 84.0,252.2 84.1,249.2 84.2,241.3 84.3,248.4 84.4,231.5 84.5,234.4 84.6,248.0 84.7,262.3 84.8,262.1 84.9,257.4 85.0,246.0 85.1,255.1 85.1,260.6 85.2,262.6 85.3,268.5 85.4,263.9 85.5,257.7 85.6,256.0 85.7,270.0 85.8,277.2 85.9,263.0 86.0,253.9 86.1,258.4 86.2,254.0 86.3,253.3 86.4,239.7 86.5,248.7 86.6,244.1 86.7,246.7 86.8,253.5 86.9,260.9 87.0,256.0 87.1,262.4 87.2,242.9 87.3,262.4 87.3,264.0 87.4,267.0 87.5,256.0 87.6,260.3 87.7,263.2 87.8,252.1 87.9,264.5 88.0,265.9 88.1,261.5 88.2,252.9 88.3,258.8 88.4,259.9 88.5,265.2 88.6,260.6 88.7,264.5 88.8,273.0 88.9,279.1 89.0,279.1 89.1,273.3 89.2,273.0 89.3,273.1 89.4,264.9 89.4,268.5 89.5,277.1 89.6,275.1 89.7,284.9 89.8,284.4 89.9,277.7 90.0,272.2 90.1,272.1 90.2,278.5 90.3,272.5 90.4,272.3 90.5,269.3 90.6,266.7 90.7,266.1 90.8,270.8 90.9,282.8 91.0,286.3 91.1,275.6 91.2,265.0 91.3,257.8 91.4,260.5 91.5,257.6 91.5,265.1 91.6,259.2 91.7,256.7 91.8,260.2 91.9,262.9 92.0,268.0 92.1,255.0 92.2,235.5 92.3,237.9 92.4,248.0 92.5,271.2 92.6,268.3 92.7,266.4 92.8,257.5 92.9,251.4 93.0,266.9 93.1,258.9 93.2,265.8 93.3,257.8 93.4,250.5 93.5,248.0 93.6,248.6 93.7,260.6 93.7,264.3 93.8,251.3 93.9,246.8 94.0,259.7 94.1,252.6 94.2,251.5 94.3,248.9 94.4,241.0 94.5,230.2 94.6,228.3 94.7,228.4 94.8,226.8 94.9,232.3 95.0,229.6 95.1,241.8 95.2,248.3 95.3,254.2 95.4,238.7 95.5,239.1 95.6,234.6 95.7,247.1 95.8,235.8 95.8,231.6 95.9,243.6 96.0,244.8 96.1,248.3 96.2,244.8 96.3,252.5 96.4,243.8 96.5,239.0 96.6,233.6 96.7,240.5 96.8,248.3 96.9,245.4 97.0,249.2 97.1,256.0 97.2,254.7 97.3,244.4 97.4,242.4 97.5,240.3 97.6,250.9 97.7,246.6 97.8,236.7 97.9,226.5 98.0,234.8 98.0,238.8 98.1,245.2 98.2,245.3 98.3,249.8 98.4,241.5 98.5,241.2 98.6,248.2 98.7,242.3 98.8,231.5 98.9,233.5 99.0,227.3 99.1,239.9 99.2,233.5 99.3,241.6 99.4,235.5 99.5,245.2 99.6,227.1 99.7,230.6 99.8,230.9 99.9,237.6 100.0,237.8 100.1,239.2 100.1,236.8 100.2,242.7 100.3,241.3 100.4,228.3 100.5,215.3 100.6,223.9 100.7,233.2 100.8,236.7 100.9,236.4 101.0,227.7 101.1,226.3 101.2,239.3 101.3,265.3 101.4,276.6 101.5,257.5 101.6,244.7 101.7,244.9 101.8,251.6 101.9,248.0 102.0,249.0 102.1,243.0 102.2,243.9 102.3,239.5 102.3,250.1 102.4,250.9 102.5,248.7 102.6,242.3 102.7,232.1 102.8,230.9 102.9,253.3 103.0,267.8 103.1,262.3 103.2,237.8 103.3,234.0 103.4,239.0 103.5,247.2 103.6,249.5 103.7,250.8 103.8,244.5 103.9,246.4 104.0,236.8 104.1,240.4 104.2,230.4 104.3,237.9 104.4,240.7 104.4,247.8 104.5,251.4 104.6,242.0 104.7,232.8 104.8,241.2 104.9,246.1 105.0,257.2 105.1,248.6 105.2,244.9 105.3,245.7 105.4,233.4 105.5,240.8 105.6,244.1 105.7,253.0 105.8,255.2 105.9,241.5 106.0,253.3 106.1,243.5 106.2,240.7 106.3,229.3 106.4,231.8 106.5,228.2 106.6,225.0 106.6,233.9 106.7,245.3 106.8,253.7 106.9,249.4 107.0,259.1 107.1,255.0 107.2,255.9 107.3,244.4 107.4,243.3 107.5,242.6 107.6,245.8 107.7,243.7 107.8,250.3 107.9,239.0 108.0,234.2 108.1,232.7 108.2,239.5 108.3,262.7 108.4,271.0 108.5,279.3 108.6,271.0 108.7,262.7 108.7,245.0 108.8,254.9 108.9,257.3 109.0,250.2 109.1,241.4 109.2,240.6 109.3,248.1 109.4,248.6 109.5,257.0 109.6,258.0 109.7,258.5 109.8,255.8 109.9,253.3 110.0,255.2 110.1,258.3 110.2,245.7 110.3,235.4 110.4,230.4 110.5,222.8 110.6,231.3 110.7,235.0 110.8,255.8 110.8,254.1 110.9,264.6 111.0,260.3 111.1,256.6 111.2,237.5 111.3,231.4 111.4,235.4 111.5,243.9 111.6,255.7 111.7,245.5 111.8,249.9 111.9,233.6 112.0,229.3 112.1,222.9 112.2,218.7 112.3,230.9 112.4,231.9 112.5,240.8 112.6,231.3 112.7,228.1 112.8,234.1 112.9,254.8 113.0,253.5 113.0,249.9 113.1,244.1 113.2,239.8 113.3,260.9 113.4,255.6 113.5,253.9 113.6,242.0 113.7,238.6 113.8,250.1 113.9,244.8 114.0,248.8 114.1,244.4 114.2,250.0 114.3,261.4 114.4,257.5 114.5,261.7 114.6,251.5 114.7,247.3 114.8,245.7 114.9,254.6 115.0,265.6 115.1,272.0 115.1,253.3 115.2,262.6 115.3,274.0 115.4,273.5 115.5,264.5 115.6,250.6 115.7,267.5 115.8,256.7 115.9,270.2 116.0,259.3 116.1,260.7 116.2,247.5 116.3,245.2 116.4,258.7 116.5,249.9 116.6,261.6 116.7,250.9 116.8,259.1 116.9,261.5 117.0,256.2 117.1,259.1 117.2,255.1 117.3,261.8 117.3,258.5 117.4,253.5 117.5,244.7 117.6,244.3 117.7,254.7 117.8,255.8 117.9,259.6 118.0,248.3 118.1,246.8 118.2,241.8 118.3,245.3 118.4,249.5 118.5,251.9 118.6,256.8 118.7,246.6 118.8,244.9 118.9,250.8 119.0,252.3 119.1,260.7 119.2,253.9 119.3,265.4 119.4,261.8 119.4,260.6 119.5,260.2 119.6,245.1 119.7,235.2 119.8,232.8 119.9,249.7 120.0,243.4 120.1,253.1 120.2,261.4 120.3,262.8 120.4,249.1 120.5,240.0 120.6,239.3 120.7,237.7 120.8,247.5 120.9,244.4 121.0,262.1 121.1,260.6 121.2,258.8 121.3,250.9 121.4,239.1 121.5,241.8 121.6,259.9 121.6,259.1 121.7,262.5 121.8,261.4 121.9,253.6 122.0,238.2 122.1,238.6 122.2,246.4 122.3,258.6 122.4,254.4 122.5,244.6 122.6,242.0 122.7,244.3 122.8,251.5 122.9,243.6 123.0,246.4 123.1,249.8 123.2,248.5 123.3,248.2 123.4,252.0 123.5,257.3 123.6,273.7 123.7,277.8 123.7,279.0 123.8,253.8 123.9,249.7 124.0,245.8 124.1,247.3 124.2,246.6 124.3,242.6 124.4,245.8 124.5,242.0 124.6,245.2 124.7,240.8 124.8,239.8 124.9,243.2 125.0,249.0 125.1,256.3 125.2,251.5 125.3,267.9 125.4,262.0 125.5,254.7 125.6,251.3 125.7,263.2 125.8,254.0 125.9,243.8 125.9,237.1 126.0,234.0 126.1,242.4 126.2,228.8 126.3,240.2 126.4,255.2 126.5,257.7 126.6,255.6 126.7,255.8 126.8,271.4 126.9,268.8 127.0,267.2 127.1,272.3 127.2,256.1 127.3,249.1 127.4,250.1 127.5,271.7 127.6,275.7 127.7,280.2 127.8,270.4 127.9,271.8 128.0,267.8 128.0,265.2 128.1,262.9 128.2,249.3 128.3,242.3 128.4,239.2 128.5,245.7 128.6,253.6 128.7,256.7 128.8,261.3 128.9,257.7 129.0,265.9 129.1,263.6 129.2,275.0 129.3,263.5 129.4,258.1 129.5,270.0 129.6,269.4 129.7,257.7 129.8,256.7 129.9,262.3 130.0,263.2 130.1,254.6 130.1,250.1 130.2,251.8 130.3,272.9 130.4,276.3 130.5,261.7 130.6,249.8 130.7,245.5 130.8,255.8 130.9,265.6 131.0,261.8 131.1,263.6 131.2,246.8 131.3,255.0 131.4,256.2 131.5,261.0 131.6,258.5 131.7,259.0 131.8,261.8 131.9,268.9 132.0,261.7 132.1,256.9 132.2,252.2 132.3,264.7 132.3,269.0 132.4,257.4 132.5,262.5 132.6,265.7 132.7,268.2 132.8,249.9 132.9,244.8 133.0,248.4 133.1,250.9 133.2,244.6 133.3,243.0 133.4,241.0 133.5,247.5 133.6,240.7 133.7,251.9 133.8,253.7 133.9,264.5 134.0,267.5 134.1,269.8 134.2,265.3 134.3,254.1 134.4,254.9 134.4,249.4 134.5,249.7 134.6,253.6 134.7,263.0 134.8,250.3 134.9,245.7 135.0,251.4 135.1,242.2 135.2,229.8 135.3,234.9 135.4,255.1 135.5,247.0 135.6,257.7 135.7,268.0 135.8,278.7 135.9,271.0 136.0,244.6 136.1,244.6 136.2,240.4 136.3,258.4 136.4,255.7 136.5,255.5 136.6,250.7 136.6,254.0 136.7,243.7 136.8,243.4 136.9,244.3 137.0,230.6 137.1,223.8 137.2,231.7 137.3,227.7 137.4,234.0 137.5,220.7 137.6,240.7 137.7,236.8 137.8,242.1 137.9,237.6 138.0,232.9 138.1,236.0 138.2,226.8 138.3,236.0 138.4,244.3 138.5,233.3 138.6,235.5 138.7,242.8 138.7,243.4 138.8,249.7 138.9,252.4 139.0,242.4 139.1,242.9 139.2,237.5 139.3,246.7 139.4,235.7 139.5,228.2 139.6,229.4 139.7,235.0 139.8,246.3 139.9,235.8 140.0,229.3 140.1,231.3 140.2,232.0 140.3,238.4 140.4,227.8 140.5,237.9 140.6,242.7 140.7,251.2 140.8,248.3 140.9,244.2 140.9,248.0 141.0,240.0 141.1,246.8 141.2,242.7 141.3,254.6 141.4,254.6 141.5,248.4 141.6,244.4 141.7,245.1 141.8,257.3 141.9,258.0 142.0,268.5 142.1,262.6 142.2,261.0 142.3,271.1 142.4,245.8 142.5,261.6 142.6,248.2 142.7,262.8 142.8,252.8 142.9,255.8 143.0,275.1 143.0,282.7 143.1,286.6 143.2,272.9 143.3,274.7 143.4,289.5 143.5,282.2 143.6,271.2 143.7,267.5 143.8,277.3 143.9,279.5 144.0,280.1 144.1,281.6 144.2,277.9 144.3,265.6 144.4,263.7 144.5,261.0 144.6,267.5 144.7,274.7 144.8,279.1 144.9,280.0 145.0,276.2 145.1,282.2 145.1,296.2 145.2,282.2 145.3,280.1 145.4,273.8 145.5,274.7 145.6,265.7 145.7,275.4 145.8,281.0 145.9,290.0 146.0,295.7 146.1,296.3 146.2,279.2 146.3,277.3 146.4,274.9 146.5,278.3 146.6,278.3 146.7,263.9 146.8,270.0 146.9,264.7 147.0,274.5 147.1,281.6 147.2,276.7 147.3,279.2 147.3,275.7 147.4,284.2 147.5,293.8 147.6,305.7 147.7,304.1 147.8,287.5 147.9,270.9 148.0,272.4 148.1,288.9 148.2,280.8 148.3,273.9 148.4,277.5 148.5,270.2 148.6,271.0 148.7,261.8 148.8,260.8 148.9,253.9 149.0,253.2 149.1,260.6 149.2,264.9 149.3,271.5 149.4,259.1 149.4,267.7 149.5,266.3 149.6,265.6 149.7,258.3 149.8,237.2 149.9,230.5 150.0,242.3 150.1,254.0 150.2,267.5 150.3,257.1 150.4,265.2 150.5,256.8 150.6,259.9 150.7,253.1 150.8,253.1 150.9,242.6 151.0,235.8 151.1,232.6 151.2,233.1 151.3,228.8 151.4,227.5 151.5,241.1 151.6,232.4 151.6,235.4 151.7,235.9 151.8,235.5 151.9,228.7 152.0,215.9 152.1,226.5 152.2,223.1 152.3,227.0 152.4,227.9 152.5,228.1 152.6,233.3 152.7,247.6 152.8,241.5 152.9,228.7 153.0,215.9 153.1,228.7 153.2,241.5 153.3,247.6 153.4,240.3 153.5,238.8 153.6,228.4 153.7,239.8 153.7,242.8 153.8,237.2 153.9,233.6 154.0,230.5 154.1,239.2 154.2,231.5 154.3,239.5 154.4,248.6 154.5,252.0 154.6,247.5 154.7,243.9 154.8,231.9 154.9,233.9 155.0,235.7 155.1,241.0 155.2,252.9 155.3,259.1 155.4,251.4 155.5,247.7 155.6,253.8 155.7,264.1 155.8,269.5 155.9,264.0 155.9,266.6 156.0,258.8 156.1,263.4 156.2,255.9 156.3,246.3 156.4,254.8 156.5,266.1 156.6,271.6 156.7,260.0 156.8,237.9 156.9,240.8 157.0,248.6 157.1,250.6 157.2,260.8 157.3,266.7 157.4,265.2 157.5,266.1 157.6,245.4 157.7,264.1 157.8,260.8 157.9,264.5 158.0,260.9 158.0,265.3 158.1,281.5 158.2,281.4 158.3,266.6 158.4,254.2 158.5,253.1 158.6,260.7 158.7,259.4 158.8,262.9 158.9,267.0 159.0,273.2 159.1,277.3 159.2,261.6 159.3,259.3 159.4,260.3 159.5,253.4 159.6,258.3 159.7,270.7 159.8,272.4 159.9,278.3 160.0,290.2 160.1,278.3 160.2,270.2 160.2,265.4 160.3,265.2 160.4,255.7 160.5,266.5 160.6,269.3 160.7,265.8 160.8,263.3 160.9,257.7 161.0,257.0 161.1,260.1 161.2,257.5 161.3,254.6 161.4,266.6 161.5,273.3 161.6,269.7 161.7,269.5 161.8,251.9 161.9,249.4 162.0,241.5 162.1,231.1 162.2,225.6 162.3,231.7 162.3,238.5 162.4,238.6 162.5,235.1 162.6,248.3 162.7,244.1 162.8,241.9 162.9,233.9 163.0,236.6 163.1,244.0 163.2,243.5 163.3,243.1 163.4,252.5 163.5,246.9 163.6,259.5 163.7,253.6 163.8,248.6 163.9,234.2 164.0,235.9 164.1,244.3 164.2,253.4 164.3,252.9 164.4,267.7 164.4,260.5 164.5,245.6 164.6,244.3 164.7,246.2 164.8,257.4 164.9,260.1 165.0,263.0 165.1,248.5 165.2,249.4 165.3,257.7 165.4,263.2 165.5,258.3 165.6,254.6 165.7,265.1 165.8,265.2 165.9,257.1 166.0,252.4 166.1,251.0 166.2,241.7 166.3,247.7 166.4,240.8 166.5,250.7 166.6,251.2 166.6,232.0 166.7,229.9 166.8,236.1 166.9,249.9 167.0,258.6 167.1,256.1 167.2,248.5 167.3,254.9 167.4,242.0 167.5,247.0 167.6,242.9 167.7,244.1 167.8,260.4 167.9,267.6 168.0,264.0 168.1,256.6 168.2,242.6 168.3,249.4 168.4,251.0 168.5,250.0 168.6,258.9 168.7,266.9 168.7,257.6 168.8,252.3 168.9,248.9 169.0,242.0 169.1,234.9 169.2,240.5 169.3,241.7 169.4,254.2 169.5,250.5 169.6,239.2 169.7,240.6 169.8,240.1 169.9,237.7 170.0,231.9 170.1,218.5 170.2,219.7 170.3,227.3 170.4,233.9 170.5,248.5 170.6,246.6 170.7,267.3 170.8,280.2 170.9,293.2 170.9,280.2 171.0,267.3 171.1,226.1 171.2,211.9 171.3,226.1 171.4,230.7 171.5,245.0 171.6,250.6 171.7,257.1 171.8,241.1 171.9,234.8 172.0,230.5 172.1,235.5 172.2,246.0 172.3,249.2 172.4,253.5 172.5,261.3 172.6,263.0 172.7,267.5 172.8,271.6 172.9,265.7 173.0,260.8 173.0,250.0 173.1,266.7 173.2,265.2 173.3,265.1 173.4,256.4 173.5,261.2 173.6,267.5 173.7,265.0 173.8,260.6 173.9,258.5 174.0,256.2 174.1,256.1 174.2,258.4 174.3,277.5 174.4,276.3 174.5,272.4 174.6,265.1 174.7,267.6 174.8,278.8 174.9,279.9 175.0,266.8 175.1,268.8 175.2,264.3 175.2,269.7 175.3,269.7 175.4,265.9 175.5,257.2 175.6,265.1 175.7,273.0 175.8,282.3 175.9,274.1 176.0,269.4 176.1,278.9 176.2,260.0 176.3,262.8 176.4,264.2 176.5,267.0 176.6,274.3 176.7,274.7 176.8,280.2 176.9,265.3 177.0,268.4 177.1,275.4 177.2,289.9 177.3,277.9 177.3,277.3 177.4,265.9 177.5,272.3 177.6,276.9 177.7,278.0 177.8,261.6 177.9,265.7 178.0,267.4 178.1,271.6 178.2,269.5 178.3,272.4 178.4,271.1 178.5,271.3 178.6,270.8 178.7,266.8 178.8,263.2 178.9,264.3 179.0,269.3 179.1,274.3 179.2,270.0 179.3,251.2 179.4,242.8 179.4,247.0 179.5,251.4 179.6,252.9 179.7,260.6 179.8,261.6 179.9,255.3 180.0,252.3 180.1,244.9 180.2,249.9 180.3,244.4 180.4,235.3 180.5,234.8 180.6,244.6 180.7,246.4 180.8,244.1 180.9,249.5 181.0,259.3 181.1,248.8 181.2,259.2 181.3,248.9 181.4,259.8 181.5,248.6 181.6,249.5 181.6,247.5 181.7,258.4 181.8,253.0 181.9,264.7 182.0,265.2 182.1,258.7 182.2,249.4 182.3,239.3 182.4,240.4 182.5,238.9 182.6,235.3 182.7,225.8 182.8,235.3 182.9,233.2 183.0,236.8 183.1,244.1 183.2,240.7 183.3,237.8 183.4,238.8 183.5,244.0 183.6,248.8 183.7,256.9 183.7,247.7 183.8,247.3 183.9,233.5 184.0,234.0 184.1,243.7 184.2,252.8 184.3,245.8 184.4,251.8 184.5,251.7 184.6,247.6 184.7,235.2 184.8,250.9 184.9,260.8 185.0,261.6 185.1,267.3 185.2,268.9 185.3,281.2 185.4,275.0 185.5,281.8 185.6,274.8 185.7,268.9 185.8,254.0 185.9,249.8 185.9,265.2 186.0,258.1 186.1,252.9 186.2,251.6 186.3,267.2 186.4,266.5 186.5,283.6 186.6,273.5 186.7,278.0 186.8,271.7 186.9,275.0 187.0,269.2 187.1,267.6 187.2,280.9 187.3,294.2 187.4,280.9 187.5,278.3 187.6,282.3 187.7,265.7 187.8,261.4 187.9,250.1 188.0,276.0 188.0,271.9 188.1,271.6 188.2,271.2 188.3,282.3 188.4,283.6 188.5,279.6 188.6,254.9 188.7,260.1 188.8,257.8 188.9,264.9 189.0,264.2 189.1,262.2 189.2,250.1 189.3,257.5 189.4,249.0 189.5,246.4 189.6,245.4 189.7,255.8 189.8,255.1 189.9,249.2 190.0,254.1 190.1,237.5 190.2,244.5 190.2,240.8 190.3,258.0 190.4,255.7 190.5,257.2 190.6,251.8 190.7,249.1 190.8,251.6 190.9,251.4 191.0,255.8 191.1,251.9 191.2,250.0 191.3,249.3 191.4,244.6 191.5,253.1 191.6,256.2 191.7,258.4 191.8,240.2 191.9,233.7 192.0,236.7 192.1,238.2 192.2,237.6 192.3,248.9 192.3,241.4 192.4,235.0 192.5,225.0 192.6,225.4 192.7,224.6 192.8,235.1 192.9,236.6 193.0,230.0 193.1,228.3 193.2,217.4 193.3,228.0 193.4,227.6 193.5,222.5 193.6,206.6 193.7,222.5 193.8,230.5 193.9,225.0 194.0,217.8 194.1,215.6 194.2,216.6 194.3,224.2 194.4,232.7 194.5,239.3 194.5,234.6 194.6,227.1 194.7,213.1 194.8,223.9 194.9,236.8 195.0,243.6 195.1,248.8 195.2,252.8 195.3,237.5 195.4,245.4 195.5,233.3 195.6,228.3 195.7,221.8 195.8,220.6 195.9,222.0 196.0,245.4 196.1,242.2 196.2,249.0 196.3,238.2 196.4,230.4 196.5,229.9 196.6,241.1 196.6,245.7 196.7,245.4 196.8,239.6 196.9,237.7 197.0,233.1 197.1,239.7 197.2,245.4 197.3,240.1 197.4,240.4 197.5,226.4 197.6,229.3 197.7,241.4 197.8,254.3 197.9,263.8 198.0,266.0 198.1,269.5 198.2,264.6 198.3,249.2 198.4,253.5 198.5,256.1 198.6,269.3 198.7,266.0 198.7,277.0 198.8,280.4 198.9,277.3 199.0,274.0 199.1,271.9 199.2,273.0 199.3,282.5 199.4,280.4 199.5,281.4 199.6,277.4 199.7,287.3 199.8,279.8 199.9,279.2 200.0,266.1 200.1,263.0 200.2,267.0 200.3,279.0 200.4,288.7 200.5,289.9 200.6,280.3 200.7,263.3 200.8,272.0 200.9,287.3 200.9,300.1 201.0,290.5 201.1,288.3 201.2,284.6 201.3,283.4 201.4,284.3 201.5,294.7 201.6,298.9 201.7,301.4 201.8,287.0 201.9,296.2 202.0,292.0 202.1,294.6 202.2,307.1 202.3,289.5 202.4,277.7 202.5,277.1 202.6,270.1 202.7,256.0 202.8,251.8 202.9,244.1 203.0,256.0 203.0,257.5 203.1,250.5 203.2,247.7 203.3,234.9 203.4,233.7 203.5,231.3 203.6,223.2 203.7,232.2 203.8,230.3 203.9,233.7 204.0,227.3 204.1,238.2 204.2,236.5 204.3,243.2 204.4,232.0 204.5,220.9 204.6,232.0 204.7,239.9 204.8,235.3 204.9,233.2 205.0,245.0 205.1,257.2 205.2,257.8 205.2,252.7 205.3,239.7 205.4,237.2 205.5,247.6 205.6,244.4 205.7,261.1 205.8,256.2 205.9,257.1 206.0,252.6 206.1,253.7 206.2,256.7 206.3,256.8 206.4,248.4 206.5,244.6 206.6,241.6 206.7,244.3 206.8,243.4 206.9,248.4 207.0,244.1 207.1,246.4 207.2,246.1 207.3,252.0 207.3,253.2 207.4,259.8 207.5,264.4 207.6,258.8 207.7,250.5 207.8,244.2 207.9,251.0 208.0,252.3 208.1,251.8 208.2,247.1 208.3,251.7 208.4,249.7 208.5,263.1 208.6,258.0 208.7,255.9 208.8,244.9 208.9,250.3 209.0,250.9 209.1,254.8 209.2,252.1 209.3,248.4 209.4,237.1 209.5,236.1 209.5,246.5 209.6,246.9 209.7,248.3 209.8,247.8 209.9,246.2 210.0,247.9 210.1,251.3 210.2,251.5 210.3,251.1 210.4,250.3 210.5,249.8 210.6,252.0 210.7,253.2 210.8,254.1 210.9,259.4 211.0,260.6 211.1,264.3 211.2,258.0 211.3,259.4 211.4,255.5 211.5,254.8 211.6,260.7 211.6,255.8 211.7,255.2 211.8,252.6 211.9,257.9 212.0,256.4 212.1,255.0 212.2,254.4 212.3,255.5 212.4,254.4 212.5,254.4 212.6,250.6 212.7,251.9 212.8,254.0 212.9,248.2 213.0,249.6 213.1,252.9 213.2,255.3 213.3,255.4 213.4,250.0 213.5,250.8 213.6,245.4 213.7,243.5 213.8,243.2 213.8,252.4 213.9,249.8 214.0,251.1 214.1,250.3 214.2,258.0 214.3,254.9 214.4,251.6 214.5,253.6 214.6,258.3 214.7,257.2 214.8,247.0 214.9,252.4 215.0,255.4 215.1,255.1 215.2,251.0 215.3,252.9 215.4,257.9 215.5,259.4 215.6,257.4 215.7,254.9 215.8,253.9 215.9,251.9 215.9,251.2 216.0,247.8 216.1,246.5 216.2,251.9 216.3,247.0 216.4,250.7 216.5,244.8 216.6,250.9 216.7,249.7 216.8,258.2 216.9,258.0 217.0,257.5 217.1,256.6 217.2,256.6 217.3,252.1 217.4,249.2 217.5,249.4 217.6,246.4 217.7,251.8 217.8,253.1 217.9,261.9 218.0,254.9 218.0,258.0 218.1,260.1 218.2,257.1 218.3,249.8 218.4,242.3 218.5,248.9 218.6,251.6 218.7,256.0 218.8,249.7 218.9,254.7 219.0,255.5 219.1,262.0 219.2,260.5 219.3,252.8 219.4,249.7 219.5,249.4 219.6,260.6 219.7,260.3 219.8,256.6 219.9,251.7 220.0,253.9 220.1,253.8 220.2,255.1 220.2,255.4 220.3,261.0 220.4,265.1 220.5,264.8 220.6,258.4 220.7,254.6 220.8,255.1 220.9,252.2 221.0,256.9 221.1,251.5 221.2,245.5 221.3,243.5 221.4,244.5 221.5,248.0 221.6,245.9 221.7,247.4 221.8,253.4 221.9,256.0 222.0,259.6 222.1,259.1 222.2,250.8 222.3,252.4 222.3,254.7 222.4,255.6 222.5,255.7 222.6,260.3 222.7,260.1 222.8,267.7 222.9,266.3 223.0,263.7 223.1,253.8 223.2,242.6 223.3,240.2 223.4,252.7 223.5,254.0 223.6,239.2 223.7,236.1 223.8,248.1 223.9,264.6 224.0,266.1 224.1,265.3 224.2,261.8 224.3,251.1 224.4,259.8 224.5,263.1 224.5,264.9 224.6,254.8 224.7,243.0 224.8,255.9 224.9,262.8 225.0,267.5 225.1,259.9 225.2,262.8 225.3,260.6 225.4,259.2 225.5,260.3 225.6,259.9 225.7,258.8 225.8,245.1 225.9,238.5 226.0,252.8 226.1,263.4 226.2,268.8 226.3,272.0 226.4,271.8 226.5,261.1 226.6,257.4 226.6,258.3 226.7,273.3 226.8,272.1 226.9,260.2 227.0,268.0 227.1,262.0 227.2,274.6 227.3,272.6 227.4,277.8 227.5,268.4 227.6,264.7 227.7,245.8 227.8,256.3 227.9,259.3 228.0,267.7 228.1,260.2 228.2,258.6 228.3,268.7 228.4,266.1 228.5,267.3 228.6,255.8 228.7,260.8 228.8,262.2 228.8,262.6 228.9,263.5 229.0,265.0 229.1,257.2 229.2,259.6 229.3,259.7 229.4,258.9 229.5,255.4 229.6,255.0 229.7,259.2 229.8,255.0 229.9,259.1 230.0,256.7 230.1,251.8 230.2,246.5 230.3,251.9 230.4,264.5 230.5,259.8 230.6,264.8 230.7,268.6 230.8,271.1 230.9,270.3 230.9,257.8 231.0,260.3 231.1,253.3 231.2,253.5 231.3,253.0 231.4,255.0 231.5,252.7 231.6,251.9 231.7,259.3 231.8,262.3 231.9,267.4 232.0,275.8 232.1,268.6 232.2,258.1 232.3,256.8 232.4,253.8 232.5,259.6 232.6,262.7 232.7,259.3 232.8,264.0 232.9,265.6 233.0,267.7 233.0,261.8 233.1,260.6 233.2,255.0 233.3,249.1 233.4,248.4 233.5,253.7 233.6,253.0 233.7,249.0 233.8,244.5 233.9,241.8 234.0,248.7 234.1,249.5 234.2,251.7 234.3,256.2 234.4,263.6 234.5,249.7 234.6,256.0 234.7,253.6 234.8,263.4 234.9,261.1 235.0,258.7 235.1,242.2 235.2,251.0 235.2,256.7 235.3,242.1 235.4,236.8 235.5,236.6 235.6,248.5 235.7,264.3 235.8,257.0 235.9,254.2 236.0,254.4 236.1,252.2 236.2,256.7 236.3,253.7 236.4,259.9 236.5,255.7 236.6,252.9 236.7,254.5 236.8,260.8 236.9,263.7 237.0,266.8 237.1,248.7 237.2,241.8 237.3,245.0 237.3,255.5 237.4,255.4 237.5,266.5 237.6,250.6 237.7,257.7 237.8,250.4 237.9,258.8 238.0,261.3 238.1,259.1 238.2,256.5 238.3,255.0 238.4,261.2 238.5,266.7 238.6,264.5 238.7,273.7 238.8,264.2 238.9,260.1 239.0,267.0 239.1,265.4 239.2,264.4 239.3,261.5 239.4,270.8 239.5,262.3 239.5,252.0 239.6,257.7 239.7,257.8 239.8,262.7 239.9,261.7 240.0,264.5 240.1,266.3 240.2,270.3 240.3,272.1 240.4,279.5 240.5,284.1 240.6,281.1 240.7,270.4 240.8,269.4 240.9,269.0 241.0,261.4 241.1,266.8 241.2,262.1 241.3,263.5 241.4,263.7 241.5,273.0 241.6,282.3 241.6,273.0 241.7,277.8 241.8,274.4 241.9,269.4 242.0,264.6 242.1,265.8 242.2,258.7 242.3,248.6 242.4,248.9 242.5,252.6 242.6,262.9 242.7,252.5 242.8,256.4 242.9,260.7 243.0,259.0 243.1,263.7 243.2,267.4 243.3,265.5 243.4,268.1 243.5,255.5 243.6,259.1 243.7,254.8 243.8,248.9 243.8,259.2 243.9,262.8 244.0,263.6 244.1,262.4 244.2,263.6 244.3,264.3 244.4,263.4 244.5,261.9 244.6,257.7 244.7,264.7 244.8,257.6 244.9,268.3 245.0,261.5 245.1,259.9 245.2,262.6 245.3,259.9 245.4,262.8 245.5,267.9 245.6,265.0 245.7,258.9 245.8,253.0 245.9,261.8 245.9,268.9 246.0,261.3 246.1,265.4 246.2,254.0 246.3,269.6 246.4,274.2 246.5,282.3 246.6,280.8 246.7,269.1 246.8,274.1 246.9,262.3 247.0,260.0 247.1,252.1 247.2,246.6 247.3,242.7 247.4,248.5 247.5,250.0 247.6,250.3 247.7,256.0 247.8,266.0 247.9,275.5 248.0,271.0 248.1,272.7 248.1,270.8 248.2,275.7 248.3,264.8 248.4,261.6 248.5,261.9 248.6,265.0 248.7,274.4 248.8,272.4 248.9,268.1 249.0,267.9 249.1,265.4 249.2,271.5 249.3,257.2 249.4,267.6 249.5,268.2 249.6,265.6 249.7,262.1 249.8,266.5 249.9,267.6 250.0,258.6 250.1,253.5 250.2,250.9 250.2,263.0 250.3,266.4 250.4,265.9 250.5,263.8 250.6,246.0 250.7,249.7 250.8,250.5 250.9,262.1 251.0,271.3 251.1,270.0 251.2,267.5 251.3,263.0 251.4,267.7 251.5,275.4 251.6,272.7 251.7,278.4 251.8,262.3 251.9,262.6 252.0,258.9 252.1,270.8 252.2,271.9 252.3,260.7 252.3,250.4 252.4,257.3 252.5,264.8 252.6,271.3 252.7,259.6 252.8,259.8 252.9,269.7 253.0,277.5 253.1,288.2 253.2,286.8 253.3,276.3 253.4,255.5 253.5,251.4 253.6,249.4 253.7,263.0 253.8,264.3 253.9,255.9 254.0,257.0 254.1,263.7 254.2,260.6 254.3,258.0 254.4,259.4 254.5,263.7 254.5,273.9 254.6,272.4 254.7,271.2 254.8,269.9 254.9,269.0 255.0,267.4 255.1,258.7 255.2,252.6 255.3,251.8 255.4,263.5 255.5,268.0 255.6,266.9 255.7,264.4 255.8,273.5 255.9,280.2 256.0,283.9 256.1,276.2 256.2,274.6 256.3,266.0 256.4,270.1 256.5,273.0 256.6,277.2 256.6,272.6 256.7,269.1 256.8,269.8 256.9,253.1 257.0,261.6 257.1,256.8 257.2,258.1 257.3,254.5 257.4,268.2 257.5,267.1 257.6,258.5 257.7,257.4" fill="none" stroke="#EE7D2E" stroke-width="1.3" stroke-linejoin="round"/>
<path clip-path="url(#cc)" d="M47.6,234.7 47.7,241.3 47.8,245.3 47.9,244.4 48.0,258.9 48.1,259.6 48.2,247.0 48.3,238.1 48.4,244.4 48.5,261.8 48.6,252.7 48.7,249.3 48.7,247.6 48.8,259.6 48.9,255.5 49.0,243.0 49.1,244.5 49.2,249.9 49.3,253.7 49.4,256.3 49.5,251.8 49.6,253.9 49.7,246.4 49.8,250.8 49.9,254.4 50.0,257.4 50.1,252.5 50.2,255.8 50.3,260.4 50.4,261.7 50.5,257.1 50.6,244.1 50.7,241.8 50.8,235.0 50.8,244.9 50.9,247.5 51.0,252.3 51.1,247.5 51.2,249.2 51.3,243.1 51.4,250.7 51.5,245.1 51.6,250.6 51.7,249.0 51.8,246.5 51.9,243.5 52.0,242.7 52.1,252.7 52.2,253.3 52.3,255.9 52.4,250.4 52.5,257.6 52.6,253.8 52.7,259.8 52.8,256.8 52.9,250.3 53.0,239.3 53.0,240.5 53.1,248.6 53.2,263.0 53.3,259.7 53.4,253.8 53.5,250.3 53.6,255.4 53.7,258.7 53.8,257.5 53.9,252.9 54.0,247.8 54.1,243.5 54.2,241.4 54.3,240.0 54.4,240.9 54.5,240.8 54.6,248.5 54.7,252.7 54.8,248.8 54.9,254.9 55.0,251.4 55.1,263.0 55.1,260.6 55.2,266.4 55.3,262.6 55.4,257.2 55.5,246.3 55.6,253.1 55.7,254.1 55.8,261.3 55.9,256.0 56.0,257.4 56.1,254.9 56.2,252.7 56.3,252.2 56.4,243.9 56.5,243.0 56.6,241.5 56.7,255.5 56.8,251.4 56.9,255.0 57.0,250.7 57.1,258.9 57.2,257.4 57.2,261.2 57.3,263.7 57.4,269.5 57.5,267.5 57.6,262.4 57.7,253.8 57.8,245.6 57.9,238.2 58.0,244.2 58.1,254.4 58.2,259.3 58.3,260.6 58.4,253.3 58.5,252.3 58.6,252.9 58.7,254.8 58.8,253.4 58.9,247.7 59.0,252.4 59.1,259.4 59.2,259.6 59.3,261.7 59.4,259.9 59.4,263.2 59.5,263.5 59.6,269.3 59.7,266.3 59.8,269.0 59.9,276.3 60.0,272.1 60.1,268.8 60.2,269.0 60.3,259.5 60.4,254.4 60.5,252.4 60.6,251.2 60.7,256.0 60.8,262.2 60.9,269.0 61.0,270.8 61.1,265.1 61.2,255.8 61.3,250.8 61.4,250.7 61.5,251.4 61.5,253.9 61.6,253.7 61.7,257.0 61.8,254.5 61.9,255.8 62.0,260.5 62.1,262.6 62.2,264.8 62.3,251.9 62.4,244.1 62.5,243.0 62.6,253.5 62.7,259.0 62.8,262.4 62.9,253.4 63.0,253.4 63.1,248.8 63.2,249.4 63.3,243.6 63.4,240.7 63.5,240.6 63.6,252.5 63.7,256.0 63.7,263.4 63.8,262.9 63.9,255.9 64.0,242.2 64.1,240.6 64.2,246.3 64.3,251.5 64.4,247.0 64.5,244.4 64.6,251.9 64.7,249.0 64.8,252.7 64.9,246.0 65.0,245.2 65.1,239.5 65.2,245.8 65.3,248.8 65.4,248.3 65.5,248.8 65.6,251.9 65.7,263.2 65.8,261.6 65.8,258.1 65.9,244.7 66.0,247.4 66.1,252.7 66.2,251.6 66.3,242.0 66.4,240.7 66.5,247.7 66.6,259.7 66.7,255.2 66.8,247.7 66.9,236.8 67.0,240.9 67.1,245.0 67.2,251.1 67.3,245.4 67.4,248.7 67.5,243.1 67.6,239.1 67.7,235.4 67.8,236.4 67.9,239.9 68.0,237.6 68.0,240.7 68.1,242.9 68.2,247.1 68.3,239.9 68.4,238.4 68.5,235.3 68.6,242.2 68.7,248.4 68.8,252.0 68.9,248.4 69.0,244.0 69.1,245.0 69.2,248.4 69.3,244.9 69.4,240.7 69.5,239.1 69.6,245.1 69.7,249.6 69.8,234.6 69.9,231.4 70.0,225.9 70.1,239.5 70.1,244.4 70.2,241.5 70.3,242.3 70.4,240.2 70.5,242.5 70.6,245.1 70.7,240.0 70.8,248.6 70.9,246.9 71.0,245.4 71.1,241.9 71.2,246.9 71.3,252.9 71.4,248.1 71.5,248.8 71.6,251.1 71.7,250.6 71.8,243.5 71.9,238.0 72.0,242.9 72.1,241.7 72.2,238.0 72.3,234.3 72.3,243.0 72.4,243.8 72.5,246.5 72.6,238.0 72.7,230.8 72.8,233.2 72.9,239.3 73.0,240.4 73.1,238.3 73.2,239.0 73.3,228.0 73.4,230.4 73.5,230.3 73.6,228.9 73.7,226.2 73.8,227.8 73.9,241.7 74.0,239.8 74.1,235.0 74.2,227.0 74.3,236.6 74.4,244.5 74.4,253.5 74.5,247.8 74.6,246.2 74.7,240.2 74.8,254.2 74.9,249.7 75.0,255.7 75.1,258.3 75.2,268.3 75.3,264.0 75.4,246.8 75.5,253.3 75.6,261.1 75.7,267.3 75.8,262.7 75.9,259.2 76.0,264.5 76.1,258.0 76.2,262.8 76.3,260.3 76.4,264.6 76.5,258.3 76.5,257.5 76.6,250.1 76.7,250.0 76.8,242.4 76.9,253.2 77.0,255.3 77.1,259.4 77.2,252.3 77.3,262.2 77.4,264.1 77.5,266.5 77.6,245.3 77.7,247.1 77.8,242.2 77.9,256.4 78.0,253.1 78.1,267.6 78.2,267.8 78.3,272.3 78.4,267.4 78.5,259.0 78.6,257.4 78.7,243.7 78.7,253.8 78.8,257.3 78.9,261.5 79.0,257.7 79.1,250.7 79.2,250.8 79.3,251.8 79.4,254.7 79.5,255.2 79.6,251.0 79.7,252.4 79.8,256.7 79.9,258.7 80.0,253.7 80.1,243.0 80.2,248.0 80.3,256.3 80.4,265.7 80.5,253.6 80.6,253.0 80.7,242.5 80.8,239.0 80.8,245.4 80.9,252.3 81.0,259.4 81.1,251.1 81.2,261.8 81.3,263.1 81.4,263.0 81.5,250.2 81.6,248.9 81.7,251.2 81.8,247.9 81.9,242.5 82.0,232.2 82.1,240.2 82.2,244.0 82.3,249.8 82.4,252.3 82.5,264.1 82.6,263.4 82.7,269.4 82.8,258.5 82.9,265.5 83.0,256.2 83.0,260.4 83.1,259.5 83.2,264.8 83.3,266.0 83.4,254.9 83.5,248.9 83.6,247.6 83.7,250.5 83.8,257.1 83.9,262.4 84.0,269.7 84.1,260.5 84.2,255.3 84.3,251.2 84.4,255.1 84.5,255.7 84.6,251.0 84.7,248.5 84.8,250.4 84.9,260.1 85.0,263.3 85.1,263.6 85.1,259.4 85.2,256.1 85.3,252.0 85.4,251.2 85.5,256.5 85.6,260.1 85.7,265.3 85.8,257.7 85.9,257.6 86.0,252.9 86.1,258.0 86.2,252.8 86.3,254.6 86.4,261.9 86.5,254.9 86.6,258.1 86.7,248.7 86.8,262.2 86.9,254.8 87.0,261.9 87.1,250.1 87.2,251.0 87.3,253.2 87.3,253.2 87.4,263.3 87.5,258.0 87.6,260.5 87.7,254.1 87.8,247.2 87.9,251.7 88.0,252.6 88.1,252.8 88.2,252.8 88.3,252.3 88.4,253.6 88.5,254.9 88.6,258.8 88.7,266.0 88.8,254.4 88.9,238.7 89.0,242.3 89.1,249.4 89.2,254.0 89.3,248.5 89.4,249.0 89.4,258.7 89.5,259.0 89.6,257.4 89.7,253.3 89.8,252.6 89.9,258.2 90.0,263.8 90.1,267.5 90.2,268.8 90.3,263.6 90.4,263.0 90.5,252.6 90.6,259.6 90.7,260.6 90.8,271.5 90.9,261.7 91.0,263.2 91.1,259.4 91.2,265.3 91.3,262.5 91.4,261.8 91.5,254.6 91.5,246.7 91.6,253.6 91.7,252.7 91.8,252.6 91.9,246.1 92.0,248.6 92.1,252.9 92.2,254.9 92.3,253.2 92.4,246.1 92.5,246.5 92.6,248.6 92.7,251.8 92.8,256.7 92.9,251.1 93.0,253.6 93.1,241.3 93.2,249.5 93.3,254.8 93.4,261.7 93.5,259.2 93.6,259.4 93.7,254.8 93.7,254.9 93.8,255.5 93.9,257.4 94.0,259.2 94.1,254.4 94.2,258.2 94.3,260.6 94.4,266.0 94.5,263.7 94.6,260.4 94.7,253.1 94.8,256.6 94.9,254.9 95.0,253.4 95.1,255.4 95.2,256.4 95.3,250.5 95.4,247.7 95.5,250.0 95.6,259.7 95.7,259.9 95.8,254.8 95.8,255.1 95.9,260.7 96.0,267.0 96.1,273.4 96.2,267.0 96.3,260.7 96.4,259.9 96.5,252.7 96.6,250.9 96.7,248.4 96.8,249.5 96.9,249.9 97.0,246.9 97.1,257.0 97.2,253.7 97.3,266.9 97.4,262.0 97.5,266.6 97.6,260.6 97.7,256.6 97.8,251.6 97.9,244.8 98.0,243.0 98.0,243.9 98.1,245.1 98.2,251.8 98.3,246.0 98.4,244.6 98.5,247.7 98.6,259.4 98.7,266.4 98.8,266.2 98.9,257.0 99.0,252.6 99.1,244.9 99.2,253.6 99.3,258.2 99.4,257.5 99.5,262.8 99.6,264.7 99.7,278.9 99.8,273.2 99.9,257.1 100.0,251.4 100.1,244.1 100.1,248.1 100.2,247.6 100.3,255.1 100.4,260.7 100.5,255.0 100.6,258.6 100.7,263.5 100.8,259.3 100.9,256.1 101.0,251.0 101.1,253.6 101.2,251.5 101.3,253.9 101.4,260.6 101.5,262.0 101.6,263.8 101.7,268.4 101.8,267.7 101.9,266.1 102.0,256.1 102.1,255.7 102.2,257.6 102.3,252.5 102.3,250.8 102.4,248.9 102.5,259.2 102.6,259.2 102.7,261.8 102.8,261.8 102.9,265.4 103.0,266.9 103.1,266.6 103.2,268.8 103.3,256.3 103.4,259.3 103.5,245.9 103.6,251.9 103.7,243.2 103.8,244.5 103.9,252.8 104.0,249.6 104.1,253.7 104.2,248.7 104.3,258.8 104.4,259.3 104.4,264.0 104.5,253.2 104.6,255.3 104.7,245.2 104.8,252.2 104.9,253.2 105.0,258.1 105.1,262.2 105.2,255.0 105.3,253.4 105.4,247.5 105.5,250.8 105.6,247.8 105.7,248.1 105.8,244.7 105.9,250.2 106.0,256.3 106.1,262.1 106.2,260.8 106.3,256.3 106.4,250.9 106.5,245.4 106.6,243.2 106.6,251.4 106.7,253.3 106.8,254.9 106.9,248.5 107.0,250.6 107.1,253.0 107.2,255.7 107.3,258.7 107.4,260.7 107.5,260.3 107.6,257.2 107.7,249.3 107.8,249.7 107.9,254.6 108.0,253.1 108.1,246.9 108.2,246.6 108.3,254.9 108.4,257.6 108.5,252.2 108.6,255.9 108.7,255.3 108.7,255.7 108.8,248.2 108.9,248.1 109.0,251.2 109.1,255.7 109.2,257.9 109.3,251.2 109.4,247.7 109.5,245.7 109.6,247.8 109.7,243.7 109.8,252.0 109.9,254.7 110.0,254.8 110.1,255.0 110.2,257.4 110.3,261.3 110.4,258.9 110.5,259.6 110.6,267.0 110.7,260.2 110.8,256.1 110.8,243.3 110.9,252.7 111.0,252.7 111.1,259.2 111.2,255.2 111.3,262.0 111.4,256.3 111.5,257.9 111.6,250.5 111.7,259.7 111.8,252.2 111.9,259.4 112.0,247.5 112.1,255.6 112.2,250.7 112.3,261.4 112.4,254.0 112.5,256.4 112.6,257.6 112.7,267.8 112.8,262.7 112.9,257.3 113.0,256.8 113.0,257.1 113.1,253.4 113.2,248.0 113.3,249.0 113.4,260.0 113.5,256.9 113.6,256.1 113.7,258.2 113.8,268.2 113.9,283.0 114.0,275.4 114.1,277.9 114.2,268.1 114.3,264.9 114.4,266.1 114.5,261.9 114.6,269.4 114.7,268.5 114.8,267.2 114.9,264.7 115.0,263.4 115.1,267.0 115.1,271.6 115.2,272.7 115.3,276.8 115.4,270.6 115.5,274.0 115.6,278.2 115.7,279.1 115.8,278.7 115.9,274.5 116.0,279.8 116.1,279.8 116.2,282.4 116.3,282.0 116.4,277.4 116.5,272.0 116.6,270.9 116.7,267.2 116.8,269.3 116.9,272.4 117.0,273.9 117.1,273.3 117.2,268.3 117.3,276.9 117.3,288.2 117.4,278.3 117.5,283.3 117.6,280.3 117.7,281.9 117.8,278.3 117.9,281.2 118.0,269.2 118.1,268.7 118.2,260.4 118.3,277.2 118.4,274.5 118.5,272.2 118.6,262.1 118.7,258.8 118.8,268.5 118.9,276.8 119.0,275.6 119.1,268.8 119.2,255.6 119.3,249.2 119.4,252.7 119.4,254.4 119.5,270.6 119.6,271.1 119.7,272.1 119.8,257.3 119.9,247.6 120.0,240.9 120.1,243.7 120.2,251.4 120.3,257.8 120.4,259.7 120.5,258.5 120.6,253.3 120.7,253.9 120.8,261.4 120.9,271.3 121.0,258.3 121.1,245.7 121.2,242.8 121.3,256.2 121.4,258.7 121.5,255.4 121.6,253.0 121.6,264.2 121.7,271.2 121.8,271.9 121.9,260.8 122.0,253.7 122.1,247.7 122.2,250.4 122.3,250.6 122.4,256.9 122.5,253.1 122.6,256.7 122.7,248.4 122.8,256.9 122.9,251.1 123.0,256.6 123.1,245.5 123.2,253.5 123.3,260.3 123.4,268.1 123.5,260.4 123.6,253.0 123.7,262.6 123.7,266.9 123.8,269.5 123.9,257.3 124.0,254.5 124.1,256.2 124.2,257.2 124.3,266.5 124.4,262.3 124.5,272.9 124.6,265.8 124.7,273.4 124.8,261.9 124.9,265.4 125.0,257.9 125.1,257.9 125.2,251.2 125.3,250.4 125.4,247.1 125.5,250.5 125.6,251.6 125.7,254.4 125.8,250.4 125.9,253.2 125.9,265.8 126.0,270.0 126.1,270.8 126.2,262.3 126.3,264.2 126.4,263.6 126.5,264.4 126.6,258.7 126.7,254.2 126.8,251.2 126.9,250.4 127.0,260.5 127.1,264.7 127.2,269.6 127.3,268.7 127.4,264.3 127.5,262.7 127.6,252.0 127.7,254.4 127.8,249.5 127.9,260.3 128.0,259.0 128.0,260.8 128.1,255.2 128.2,264.3 128.3,267.9 128.4,267.4 128.5,263.5 128.6,265.2 128.7,268.4 128.8,260.5 128.9,253.4 129.0,257.7 129.1,263.0 129.2,261.8 129.3,251.2 129.4,240.4 129.5,247.0 129.6,247.7 129.7,264.6 129.8,262.6 129.9,270.8 130.0,266.7 130.1,273.1 130.1,265.0 130.2,253.0 130.3,250.6 130.4,256.2 130.5,257.4 130.6,258.2 130.7,255.6 130.8,258.0 130.9,250.2 131.0,252.4 131.1,266.5 131.2,272.3 131.3,268.3 131.4,258.6 131.5,260.2 131.6,267.0 131.7,263.3 131.8,260.2 131.9,255.1 132.0,256.9 132.1,261.7 132.2,269.0 132.3,276.3 132.3,269.0 132.4,265.3 132.5,265.0 132.6,254.3 132.7,250.6 132.8,252.0 132.9,254.9 133.0,254.3 133.1,254.8 133.2,256.0 133.3,263.0 133.4,260.8 133.5,254.3 133.6,245.8 133.7,243.6 133.8,248.3 133.9,249.4 134.0,256.8 134.1,262.3 134.2,268.0 134.3,261.3 134.4,255.6 134.4,244.4 134.5,246.9 134.6,255.3 134.7,262.5 134.8,262.0 134.9,256.3 135.0,257.4 135.1,255.1 135.2,258.6 135.3,257.4 135.4,255.4 135.5,252.3 135.6,251.3 135.7,257.9 135.8,255.1 135.9,257.8 136.0,257.9 136.1,262.3 136.2,263.5 136.3,261.6 136.4,263.1 136.5,254.7 136.6,250.4 136.6,246.4 136.7,251.6 136.8,255.9 136.9,254.6 137.0,257.6 137.1,257.7 137.2,264.3 137.3,258.6 137.4,253.6 137.5,246.1 137.6,246.7 137.7,261.4 137.8,265.6 137.9,266.1 138.0,254.6 138.1,261.5 138.2,264.7 138.3,264.1 138.4,260.0 138.5,266.2 138.6,271.6 138.7,281.7 138.7,276.1 138.8,277.4 138.9,266.7 139.0,268.7 139.1,265.8 139.2,258.2 139.3,261.2 139.4,261.9 139.5,277.3 139.6,276.8 139.7,283.9 139.8,272.3 139.9,269.8 140.0,264.6 140.1,264.3 140.2,268.6 140.3,266.8 140.4,273.7 140.5,273.2 140.6,273.4 140.7,272.5 140.8,269.2 140.9,272.7 140.9,276.5 141.0,270.3 141.1,264.2 141.2,259.2 141.3,263.8 141.4,269.4 141.5,266.3 141.6,273.1 141.7,267.0 141.8,266.9 141.9,261.1 142.0,260.0 142.1,261.8 142.2,254.5 142.3,254.8 142.4,260.7 142.5,271.6 142.6,267.4 142.7,263.3 142.8,257.7 142.9,266.6 143.0,258.1 143.0,254.9 143.1,249.3 143.2,257.1 143.3,262.7 143.4,260.3 143.5,260.8 143.6,268.2 143.7,267.4 143.8,261.1 143.9,257.6 144.0,262.8 144.1,264.2 144.2,257.6 144.3,251.6 144.4,248.5 144.5,252.2 144.6,259.2 144.7,260.1 144.8,252.6 144.9,253.0 145.0,251.8 145.1,258.7 145.1,253.5 145.2,265.0 145.3,259.2 145.4,253.8 145.5,239.9 145.6,244.9 145.7,265.2 145.8,269.9 145.9,248.5 146.0,242.6 146.1,236.7 146.2,242.6 146.3,248.5 146.4,266.5 146.5,265.9 146.6,265.6 146.7,254.2 146.8,247.0 146.9,247.6 147.0,253.8 147.1,258.9 147.2,258.0 147.3,256.6 147.3,259.0 147.4,255.6 147.5,259.1 147.6,248.5 147.7,253.6 147.8,250.2 147.9,258.3 148.0,252.4 148.1,260.6 148.2,259.3 148.3,265.1 148.4,264.5 148.5,263.9 148.6,261.2 148.7,257.2 148.8,259.9 148.9,262.1 149.0,262.7 149.1,254.2 149.2,249.2 149.3,240.8 149.4,241.2 149.4,235.9 149.5,241.1 149.6,243.7 149.7,250.6 149.8,252.3 149.9,250.7 150.0,249.5 150.1,245.9 150.2,247.5 150.3,244.8 150.4,252.5 150.5,251.3 150.6,255.7 150.7,252.6 150.8,256.3 150.9,254.2 151.0,248.3 151.1,247.9 151.2,247.1 151.3,248.9 151.4,243.8 151.5,242.6 151.6,241.0 151.6,246.7 151.7,255.5 151.8,253.1 151.9,255.0 152.0,247.1 152.1,252.6 152.2,242.5 152.3,246.4 152.4,248.0 152.5,263.2 152.6,260.3 152.7,259.2 152.8,253.3 152.9,257.5 153.0,252.3 153.1,248.2 153.2,243.2 153.3,249.3 153.4,249.7 153.5,249.3 153.6,249.4 153.7,245.4 153.7,250.2 153.8,241.2 153.9,248.7 154.0,249.5 154.1,256.9 154.2,256.0 154.3,254.5 154.4,255.1 154.5,248.7 154.6,250.3 154.7,245.5 154.8,246.9 154.9,244.4 155.0,250.0 155.1,245.8 155.2,256.7 155.3,257.8 155.4,266.1 155.5,253.6 155.6,251.6 155.7,247.4 155.8,247.3 155.9,243.1 155.9,249.3 156.0,249.6 156.1,247.3 156.2,247.5 156.3,248.7 156.4,261.2 156.5,257.0 156.6,261.0 156.7,252.8 156.8,259.2 156.9,255.9 157.0,262.7 157.1,258.2 157.2,256.8 157.3,243.3 157.4,241.4 157.5,241.2 157.6,243.1 157.7,240.5 157.8,246.8 157.9,252.2 158.0,256.2 158.0,248.6 158.1,248.6 158.2,256.5 158.3,262.2 158.4,257.1 158.5,246.4 158.6,247.8 158.7,257.3 158.8,262.1 158.9,264.2 159.0,276.1 159.1,273.0 159.2,272.1 159.3,261.5 159.4,267.0 159.5,264.4 159.6,263.5 159.7,254.0 159.8,253.8 159.9,249.5 160.0,256.1 160.1,249.4 160.2,251.4 160.2,259.6 160.3,257.4 160.4,250.9 160.5,239.7 160.6,253.9 160.7,255.3 160.8,256.7 160.9,253.5 161.0,261.4 161.1,258.0 161.2,257.2 161.3,255.6 161.4,263.6 161.5,258.8 161.6,261.8 161.7,256.2 161.8,259.7 161.9,247.4 162.0,251.7 162.1,249.9 162.2,254.4 162.3,248.8 162.3,255.6 162.4,258.8 162.5,260.7 162.6,251.4 162.7,252.8 162.8,248.1 162.9,245.1 163.0,245.9 163.1,256.6 163.2,262.7 163.3,258.6 163.4,249.4 163.5,253.9 163.6,258.9 163.7,271.6 163.8,270.7 163.9,263.2 164.0,246.0 164.1,238.7 164.2,243.7 164.3,253.5 164.4,248.3 164.4,242.6 164.5,240.5 164.6,250.8 164.7,259.0 164.8,259.9 164.9,250.1 165.0,247.8 165.1,249.2 165.2,255.6 165.3,255.8 165.4,250.4 165.5,255.9 165.6,254.4 165.7,261.4 165.8,253.7 165.9,253.5 166.0,253.8 166.1,259.7 166.2,260.7 166.3,251.6 166.4,247.2 166.5,245.8 166.6,256.2 166.6,265.0 166.7,272.8 166.8,271.4 166.9,263.4 167.0,256.8 167.1,249.5 167.2,255.8 167.3,256.9 167.4,262.8 167.5,262.4 167.6,270.6 167.7,273.0 167.8,265.0 167.9,263.2 168.0,256.2 168.1,256.4 168.2,249.7 168.3,252.1 168.4,256.3 168.5,255.6 168.6,250.7 168.7,245.3 168.7,241.2 168.8,246.1 168.9,251.4 169.0,254.4 169.1,260.9 169.2,264.0 169.3,264.8 169.4,266.9 169.5,263.3 169.6,264.2 169.7,257.5 169.8,258.1 169.9,260.4 170.0,250.9 170.1,258.5 170.2,258.8 170.3,275.1 170.4,265.7 170.5,258.9 170.6,243.9 170.7,248.4 170.8,249.4 170.9,260.7 170.9,258.0 171.0,258.1 171.1,260.5 171.2,261.0 171.3,266.4 171.4,258.6 171.5,254.5 171.6,258.0 171.7,260.1 171.8,269.3 171.9,272.6 172.0,276.6 172.1,273.4 172.2,268.7 172.3,268.6 172.4,260.3 172.5,254.6 172.6,245.2 172.7,244.4 172.8,243.9 172.9,237.4 173.0,241.2 173.0,241.1 173.1,255.0 173.2,258.1 173.3,257.0 173.4,253.0 173.5,250.4 173.6,250.3 173.7,256.2 173.8,260.4 173.9,263.4 174.0,259.8 174.1,262.0 174.2,260.6 174.3,261.9 174.4,252.0 174.5,254.9 174.6,250.1 174.7,262.5 174.8,259.6 174.9,256.3 175.0,247.7 175.1,244.1 175.2,247.3 175.2,248.6 175.3,249.1 175.4,248.1 175.5,245.0 175.6,249.4 175.7,253.0 175.8,266.0 175.9,263.0 176.0,265.3 176.1,256.8 176.2,253.6 176.3,248.3 176.4,243.3 176.5,249.7 176.6,248.3 176.7,249.7 176.8,245.6 176.9,247.9 177.0,241.0 177.1,246.3 177.2,244.7 177.3,250.2 177.3,241.4 177.4,240.0 177.5,243.0 177.6,246.0 177.7,241.6 177.8,235.3 177.9,238.0 178.0,244.0 178.1,249.4 178.2,242.6 178.3,245.6 178.4,240.0 178.5,239.0 178.6,238.2 178.7,234.7 178.8,243.0 178.9,243.6 179.0,250.3 179.1,251.9 179.2,251.1 179.3,259.6 179.4,259.6 179.4,260.1 179.5,261.3 179.6,257.1 179.7,254.8 179.8,250.0 179.9,250.7 180.0,251.5 180.1,254.8 180.2,255.8 180.3,258.1 180.4,258.0 180.5,259.1 180.6,264.9 180.7,274.4 180.8,274.6 180.9,269.6 181.0,250.7 181.1,254.2 181.2,252.0 181.3,263.6 181.4,267.4 181.5,272.8 181.6,268.6 181.6,264.4 181.7,258.8 181.8,254.7 181.9,259.7 182.0,266.4 182.1,263.7 182.2,252.6 182.3,255.2 182.4,265.8 182.5,263.0 182.6,262.1 182.7,253.6 182.8,270.2 182.9,267.0 183.0,276.4 183.1,266.6 183.2,260.4 183.3,254.1 183.4,251.2 183.5,251.6 183.6,246.6 183.7,249.5 183.7,262.6 183.8,276.2 183.9,273.9 184.0,263.2 184.1,252.1 184.2,257.4 184.3,262.1 184.4,274.7 184.5,278.3 184.6,277.2 184.7,277.3 184.8,274.9 184.9,268.3 185.0,265.6 185.1,257.7 185.2,263.4 185.3,263.7 185.4,269.3 185.5,266.2 185.6,268.6 185.7,268.4 185.8,266.8 185.9,264.0 185.9,257.2 186.0,270.5 186.1,263.6 186.2,269.6 186.3,266.5 186.4,275.6 186.5,276.2 186.6,275.1 186.7,271.4 186.8,261.2 186.9,258.5 187.0,260.5 187.1,266.3 187.2,264.5 187.3,269.8 187.4,263.0 187.5,269.8 187.6,267.3 187.7,265.8 187.8,260.3 187.9,261.7 188.0,269.9 188.0,259.6 188.1,255.0 188.2,260.2 188.3,269.0 188.4,268.0 188.5,266.8 188.6,266.8 188.7,277.5 188.8,272.1 188.9,272.2 189.0,262.3 189.1,266.9 189.2,262.0 189.3,259.6 189.4,251.1 189.5,259.4 189.6,259.0 189.7,257.4 189.8,248.9 189.9,256.0 190.0,263.5 190.1,272.3 190.2,269.7 190.2,269.6 190.3,259.5 190.4,251.9 190.5,252.5 190.6,256.2 190.7,265.1 190.8,269.9 190.9,281.6 191.0,282.8 191.1,269.1 191.2,260.3 191.3,254.4 191.4,258.4 191.5,267.6 191.6,270.9 191.7,275.2 191.8,261.1 191.9,258.0 192.0,264.9 192.1,277.2 192.2,277.3 192.3,268.9 192.3,267.2 192.4,274.1 192.5,274.2 192.6,278.3 192.7,270.3 192.8,266.7 192.9,262.0 193.0,254.8 193.1,256.9 193.2,260.2 193.3,270.3 193.4,276.6 193.5,268.2 193.6,262.9 193.7,252.0 193.8,255.1 193.9,257.8 194.0,264.4 194.1,264.6 194.2,264.1 194.3,253.7 194.4,251.5 194.5,246.6 194.5,246.9 194.6,256.3 194.7,263.7 194.8,263.8 194.9,257.0 195.0,253.8 195.1,252.8 195.2,255.1 195.3,254.2 195.4,250.8 195.5,246.3 195.6,250.0 195.7,256.7 195.8,258.4 195.9,260.6 196.0,257.8 196.1,256.1 196.2,258.6 196.3,256.1 196.4,260.1 196.5,251.9 196.6,254.9 196.6,251.4 196.7,257.0 196.8,268.7 196.9,270.5 197.0,264.1 197.1,259.3 197.2,258.6 197.3,254.0 197.4,253.0 197.5,234.3 197.6,238.0 197.7,238.8 197.8,253.9 197.9,256.4 198.0,245.6 198.1,252.7 198.2,248.7 198.3,258.8 198.4,252.0 198.5,248.4 198.6,243.0 198.7,238.6 198.7,246.2 198.8,242.8 198.9,251.2 199.0,250.9 199.1,254.7 199.2,258.2 199.3,261.0 199.4,248.8 199.5,243.3 199.6,237.7 199.7,243.3 199.8,248.8 199.9,261.7 200.0,261.9 200.1,256.1 200.2,260.5 200.3,260.3 200.4,257.7 200.5,261.1 200.6,247.0 200.7,253.9 200.8,252.4 200.9,259.7 200.9,252.0 201.0,240.3 201.1,240.7 201.2,248.4 201.3,254.8 201.4,256.5 201.5,250.0 201.6,245.3 201.7,243.0 201.8,243.2 201.9,257.0 202.0,262.4 202.1,261.3 202.2,253.9 202.3,252.0 202.4,260.2 202.5,258.9 202.6,261.6 202.7,267.3 202.8,265.3 202.9,260.8 203.0,256.1 203.0,266.7 203.1,270.1 203.2,271.9 203.3,259.1 203.4,259.0 203.5,260.7 203.6,268.3 203.7,259.6 203.8,253.8 203.9,254.6 204.0,263.8 204.1,268.2 204.2,261.2 204.3,266.2 204.4,258.8 204.5,258.1 204.6,248.2 204.7,251.3 204.8,257.6 204.9,261.5 205.0,260.0 205.1,255.8 205.2,256.1 205.2,256.2 205.3,260.7 205.4,264.2 205.5,260.6 205.6,257.0 205.7,250.6 205.8,248.3 205.9,253.3 206.0,259.1 206.1,268.0 206.2,261.3 206.3,264.9 206.4,266.3 206.5,266.8 206.6,267.5 206.7,261.8 206.8,258.5 206.9,250.1 207.0,256.8 207.1,265.7 207.2,271.8 207.3,268.7 207.3,262.9 207.4,269.0 207.5,276.3 207.6,270.8 207.7,273.4 207.8,265.1 207.9,272.0 208.0,272.3 208.1,268.2 208.2,257.5 208.3,258.5 208.4,256.6 208.5,262.4 208.6,263.1 208.7,265.2 208.8,244.3 208.9,245.9 209.0,244.0 209.1,250.9 209.2,244.3 209.3,243.7 209.4,245.4 209.5,256.1 209.5,257.4 209.6,264.4 209.7,250.0 209.8,250.1 209.9,246.8 210.0,252.3 210.1,259.3 210.2,256.2 210.3,263.6 210.4,258.9 210.5,264.1 210.6,252.7 210.7,251.6 210.8,253.4 210.9,254.5 211.0,246.9 211.1,247.4 211.2,244.1 211.3,254.1 211.4,250.5 211.5,257.0 211.6,258.6 211.6,250.7 211.7,246.5 211.8,239.4 211.9,252.2 212.0,252.7 212.1,259.2 212.2,247.4 212.3,257.9 212.4,250.9 212.5,263.6 212.6,262.4 212.7,264.5 212.8,254.1 212.9,243.0 213.0,245.7 213.1,251.7 213.2,252.6 213.3,255.9 213.4,258.3 213.5,260.1 213.6,253.1 213.7,247.9 213.8,244.8 213.8,253.9 213.9,252.2 214.0,248.1 214.1,242.8 214.2,250.3 214.3,254.4 214.4,250.2 214.5,239.4 214.6,241.7 214.7,246.1 214.8,252.2 214.9,260.3 215.0,247.1 215.1,250.2 215.2,246.6 215.3,260.8 215.4,254.9 215.5,247.2 215.6,246.5 215.7,246.5 215.8,249.4 215.9,237.8 215.9,240.7 216.0,242.7 216.1,245.1 216.2,250.3 216.3,251.5 216.4,258.3 216.5,256.9 216.6,257.8 216.7,257.2 216.8,247.6 216.9,242.7 217.0,246.0 217.1,254.9 217.2,254.8 217.3,259.0 217.4,257.3 217.5,266.3 217.6,266.6 217.7,263.2 217.8,264.5 217.9,260.4 218.0,256.2 218.0,243.5 218.1,246.6 218.2,256.0 218.3,266.4 218.4,266.4 218.5,256.8 218.6,249.3 218.7,241.5 218.8,251.4 218.9,252.0 219.0,253.3 219.1,249.2 219.2,250.0 219.3,245.0 219.4,245.2 219.5,249.4 219.6,259.6 219.7,253.4 219.8,249.5 219.9,255.5 220.0,260.9 220.1,259.5 220.2,256.0 220.2,263.0 220.3,262.0 220.4,256.5 220.5,256.4 220.6,260.8 220.7,258.1 220.8,255.9 220.9,259.4 221.0,260.8 221.1,257.1 221.2,246.1 221.3,240.7 221.4,238.1 221.5,247.9 221.6,255.7 221.7,266.9 221.8,263.8 221.9,262.4 222.0,255.2 222.1,251.3 222.2,243.7 222.3,248.2 222.3,249.1 222.4,252.0 222.5,246.2 222.6,250.5 222.7,244.6 222.8,238.3 222.9,225.6 223.0,235.7 223.1,242.8 223.2,243.1 223.3,231.8 223.4,220.5 223.5,225.5 223.6,232.2 223.7,244.2 223.8,248.5 223.9,242.2 224.0,233.8 224.1,232.1 224.2,239.7 224.3,249.3 224.4,246.9 224.5,242.4 224.5,237.1 224.6,242.6 224.7,234.7 224.8,232.9 224.9,229.1 225.0,238.4 225.1,231.3 225.2,238.1 225.3,233.6 225.4,242.1 225.5,240.6 225.6,245.0 225.7,247.0 225.8,249.4 225.9,247.6 226.0,246.5 226.1,249.6 226.2,251.0 226.3,244.6 226.4,242.7 226.5,248.5 226.6,258.1 226.6,257.3 226.7,245.7 226.8,246.1 226.9,241.0 227.0,248.6 227.1,246.7 227.2,253.5 227.3,247.5 227.4,246.3 227.5,237.9 227.6,233.8 227.7,235.2 227.8,246.2 227.9,262.1 228.0,255.8 228.1,253.8 228.2,248.7 228.3,254.1 228.4,244.2 228.5,238.3 228.6,232.1 228.7,245.0 228.8,251.1 228.8,253.7 228.9,246.5 229.0,241.2 229.1,233.8 229.2,230.1 229.3,221.8 229.4,232.7 229.5,241.0 229.6,246.9 229.7,247.3 229.8,253.1 229.9,254.0 230.0,253.9 230.1,249.5 230.2,247.7 230.3,256.1 230.4,256.9 230.5,257.2 230.6,244.9 230.7,242.5 230.8,244.0 230.9,251.8 230.9,252.7 231.0,254.4 231.1,249.3 231.2,252.3 231.3,247.5 231.4,253.4 231.5,257.4 231.6,266.5 231.7,259.8 231.8,256.0 231.9,251.9 232.0,245.0 232.1,247.5 232.2,245.6 232.3,262.3 232.4,260.0 232.5,257.6 232.6,253.1 232.7,242.4 232.8,248.6 232.9,250.3 233.0,264.3 233.0,260.3 233.1,260.6 233.2,255.3 233.3,258.8 233.4,253.6 233.5,255.7 233.6,251.9 233.7,254.3 233.8,254.7 233.9,255.0 234.0,254.5 234.1,249.1 234.2,257.5 234.3,251.2 234.4,252.8 234.5,242.6 234.6,246.6 234.7,252.9 234.8,251.6 234.9,252.6 235.0,248.8 235.1,248.4 235.2,250.7 235.2,252.9 235.3,252.6 235.4,248.2 235.5,242.5 235.6,246.8 235.7,243.3 235.8,247.1 235.9,245.6 236.0,253.0 236.1,251.4 236.2,250.3 236.3,253.6 236.4,250.7 236.5,251.5 236.6,248.8 236.7,253.9 236.8,260.9 236.9,259.1 237.0,248.9 237.1,245.8 237.2,250.0 237.3,260.0 237.3,256.2 237.4,250.2 237.5,245.9 237.6,247.2 237.7,254.5 237.8,251.6 237.9,252.8 238.0,246.0 238.1,249.9 238.2,248.5 238.3,246.8 238.4,246.5 238.5,237.7 238.6,235.0 238.7,231.7 238.8,241.5 238.9,244.3 239.0,246.6 239.1,242.4 239.2,245.4 239.3,250.9 239.4,257.5 239.5,257.8 239.5,249.5 239.6,245.4 239.7,247.2 239.8,251.2 239.9,247.7 240.0,246.9 240.1,247.9 240.2,249.9 240.3,244.7 240.4,247.2 240.5,249.0 240.6,251.4 240.7,247.8 240.8,243.6 240.9,239.7 241.0,240.6 241.1,232.3 241.2,227.8 241.3,224.4 241.4,231.7 241.5,241.4 241.6,253.8 241.6,256.4 241.7,247.0 241.8,239.7 241.9,249.5 242.0,254.8 242.1,255.9 242.2,242.8 242.3,238.5 242.4,246.7 242.5,254.8 242.6,258.9 242.7,255.4 242.8,249.2 242.9,243.5 243.0,236.8 243.1,246.2 243.2,256.8 243.3,268.7 243.4,265.3 243.5,259.8 243.6,259.4 243.7,257.4 243.8,257.0 243.8,252.3 243.9,251.6 244.0,257.0 244.1,260.7 244.2,256.7 244.3,254.3 244.4,245.9 244.5,254.8 244.6,262.9 244.7,264.9 244.8,267.5 244.9,261.8 245.0,260.6 245.1,262.0 245.2,259.6 245.3,258.6 245.4,243.9 245.5,247.1 245.6,251.3 245.7,262.7 245.8,253.6 245.9,256.5 245.9,248.3 246.0,258.8 246.1,253.6 246.2,253.1 246.3,245.3 246.4,248.6 246.5,257.1 246.6,265.5 246.7,261.8 246.8,255.9 246.9,249.1 247.0,258.6 247.1,266.4 247.2,268.7 247.3,256.4 247.4,245.0 247.5,240.5 247.6,253.7 247.7,270.4 247.8,274.6 247.9,266.9 248.0,260.4 248.1,266.4 248.1,272.4 248.2,266.4 248.3,260.4 248.4,260.7 248.5,260.9 248.6,265.3 248.7,263.3 248.8,264.8 248.9,265.3 249.0,262.8 249.1,263.4 249.2,260.8 249.3,263.9 249.4,259.1 249.5,251.9 249.6,251.9 249.7,243.3 249.8,255.5 249.9,255.6 250.0,259.0 250.1,260.8 250.2,257.3 250.2,257.9 250.3,253.0 250.4,245.1 250.5,238.5 250.6,231.6 250.7,237.1 250.8,240.8 250.9,236.3 251.0,237.7 251.1,232.7 251.2,237.7 251.3,234.8 251.4,233.8 251.5,246.1 251.6,259.6 251.7,259.6 251.8,255.7 251.9,243.6 252.0,243.8 252.1,240.7 252.2,239.2 252.3,237.6 252.3,241.8 252.4,244.5 252.5,244.9 252.6,247.1 252.7,240.8 252.8,240.2 252.9,237.2 253.0,233.5 253.1,231.2 253.2,236.1 253.3,248.4 253.4,252.2 253.5,249.4 253.6,240.3 253.7,236.7 253.8,230.9 253.9,231.9 254.0,231.3 254.1,242.7 254.2,253.1 254.3,261.2 254.4,251.5 254.5,244.7 254.5,232.7 254.6,229.5 254.7,224.7 254.8,235.3 254.9,241.1 255.0,234.7 255.1,241.3 255.2,247.1 255.3,243.7 255.4,230.0 255.5,234.7 255.6,242.6 255.7,256.8 255.8,257.9 255.9,261.3 256.0,254.0 256.1,242.9 256.2,238.3 256.3,235.1 256.4,241.4 256.5,243.7 256.6,242.9 256.6,236.2 256.7,238.5 256.8,250.2 256.9,253.3 257.0,249.1 257.1,242.6 257.2,243.5 257.3,243.9 257.4,248.0 257.5,247.6 257.6,250.8 257.7,248.0" fill="none" stroke="#1F7DD3" stroke-width="1.5" stroke-linejoin="round"/>
<rect x="47.6" y="204.5" width="210.1" height="104.9" fill="none" stroke="#a6a6a6" stroke-width="1"/>
<path d="M100.12,309.4 v-2.3 M100.12,204.5 v2.3 M152.65,309.4 v-2.3 M152.65,204.5 v2.3 M205.17,309.4 v-2.3 M205.17,204.5 v2.3 M47.6,210.39 h2.3 M257.7,210.39 h-2.3 M47.6,254.35 h2.3 M257.7,254.35 h-2.3 M47.6,298.31 h2.3 M257.7,298.31 h-2.3 " stroke="#a6a6a6" stroke-width="0.9" fill="none"/>
<text class="tk" transform="translate(47.7,327) scale(0.94,1)" text-anchor="middle">0</text>
<text class="tk" transform="translate(100.22,327) scale(0.94,1)" text-anchor="middle">5</text>
<text class="tk" transform="translate(152.75,327) scale(0.94,1)" text-anchor="middle">10</text>
<text class="tk" transform="translate(205.27,327) scale(0.94,1)" text-anchor="middle">15</text>
<text class="tk" transform="translate(257.8,327) scale(0.94,1)" text-anchor="middle">20</text>
<text class="tk" transform="translate(42,214.99) scale(0.94,1)" text-anchor="end">2</text>
<text class="tk" transform="translate(42,258.95) scale(0.94,1)" text-anchor="end">0</text>
<text class="tk" transform="translate(42,302.91) scale(0.94,1)" text-anchor="end">−<tspan dx="1.3">2</tspan></text>
<text class="tt" x="126.25" y="197.6" textLength="45.7" lengthAdjust="spacingAndGlyphs">Furnace</text>
<text class="yl" transform="translate(19.3,258.3) rotate(-90)" x="-10.7" textLength="21.4" lengthAdjust="spacingAndGlyphs">u[V]</text>
<text class="cp" x="137.95" y="354.5" text-anchor="middle">(c)</text>
</g>
<g>
<clipPath id="cd"><rect x="320.3" y="202.5" width="205.4" height="100.7"/></clipPath>
<path clip-path="url(#cd)" d="M320.3,241.0 320.4,241.5 320.5,236.1 320.6,234.2 320.7,241.8 320.8,243.3 320.9,213.5 321.0,240.6 321.0,242.9 321.1,242.7 321.2,238.4 321.3,235.4 321.4,235.2 321.5,237.6 321.6,241.8 321.7,237.8 321.8,238.8 321.9,259.8 322.0,237.8 322.1,242.3 322.2,243.1 322.3,242.6 322.4,240.2 322.4,238.9 322.5,236.4 322.6,240.3 322.7,243.8 322.8,225.1 322.9,239.8 323.0,242.6 323.1,245.2 323.2,239.9 323.3,242.5 323.4,240.7 323.5,236.9 323.6,236.8 323.7,235.0 323.8,239.6 323.8,243.6 323.9,241.9 324.0,238.3 324.1,235.8 324.2,239.2 324.3,242.6 324.4,242.8 324.5,242.7 324.6,241.4 324.7,240.4 324.8,235.1 324.9,236.0 325.0,241.4 325.1,239.1 325.2,240.7 325.3,242.6 325.3,240.4 325.4,237.7 325.5,240.8 325.6,239.4 325.7,237.2 325.8,240.0 325.9,237.2 326.0,236.1 326.1,235.6 326.2,236.7 326.3,239.2 326.4,238.9 326.5,241.1 326.6,239.0 326.7,238.5 326.7,244.2 326.8,237.7 326.9,235.1 327.0,242.6 327.1,238.0 327.2,236.0 327.3,237.9 327.4,239.0 327.5,242.0 327.6,246.3 327.7,247.9 327.8,246.2 327.9,242.0 328.0,237.9 328.1,232.1 328.1,236.3 328.2,239.6 328.3,238.6 328.4,241.3 328.5,243.3 328.6,246.4 328.7,244.8 328.8,244.1 328.9,242.3 329.0,241.2 329.1,238.3 329.2,236.3 329.3,238.8 329.4,236.5 329.5,235.7 329.5,238.4 329.6,239.8 329.7,240.0 329.8,237.3 329.9,235.2 330.0,236.9 330.1,236.9 330.2,239.0 330.3,239.6 330.4,241.6 330.5,239.7 330.6,236.2 330.7,238.9 330.8,237.7 330.9,238.2 330.9,240.2 331.0,237.4 331.1,282.9 331.2,241.4 331.3,240.6 331.4,242.5 331.5,239.6 331.6,235.9 331.7,239.4 331.8,233.6 331.9,228.5 332.0,233.3 332.1,236.6 332.2,234.2 332.3,231.6 332.3,234.2 332.4,237.6 332.5,234.3 332.6,233.8 332.7,234.7 332.8,233.7 332.9,237.9 333.0,241.1 333.1,244.4 333.2,242.8 333.3,233.4 333.4,235.2 333.5,235.3 333.6,230.2 333.7,233.0 333.8,235.1 333.8,234.6 333.9,236.4 334.0,237.1 334.1,235.0 334.2,232.8 334.3,230.6 334.4,233.7 334.5,233.7 334.6,233.8 334.7,236.2 334.8,233.6 334.9,233.3 335.0,234.5 335.1,233.9 335.2,234.9 335.2,237.1 335.3,236.4 335.4,232.7 335.5,232.5 335.6,230.4 335.7,229.8 335.8,241.1 335.9,242.7 336.0,232.0 336.1,231.0 336.2,236.0 336.3,238.1 336.4,234.1 336.5,229.8 336.6,231.4 336.6,232.7 336.7,231.0 336.8,230.2 336.9,236.4 337.0,236.6 337.1,233.4 337.2,235.5 337.3,234.3 337.4,234.1 337.5,242.9 337.6,239.5 337.7,230.5 337.8,234.6 337.9,238.0 338.0,237.4 338.0,239.7 338.1,239.7 338.2,237.5 338.3,239.2 338.4,241.0 338.5,241.9 338.6,237.4 338.7,232.9 338.8,234.5 338.9,237.9 339.0,241.3 339.1,239.7 339.2,228.9 339.3,239.6 339.4,240.6 339.4,241.8 339.5,245.3 339.6,239.4 339.7,241.8 339.8,246.2 339.9,242.6 340.0,237.1 340.1,251.1 340.2,237.5 340.3,238.2 340.4,237.3 340.5,235.2 340.6,238.7 340.7,237.6 340.8,237.4 340.8,234.5 340.9,230.2 341.0,233.2 341.1,238.7 341.2,242.6 341.3,244.0 341.4,241.3 341.5,239.8 341.6,239.9 341.7,239.6 341.8,238.4 341.9,241.5 342.0,245.0 342.1,239.3 342.2,235.0 342.3,238.8 342.3,237.8 342.4,215.5 342.5,241.7 342.6,244.3 342.7,241.8 342.8,237.6 342.9,237.1 343.0,235.4 343.1,237.7 343.2,238.9 343.3,236.4 343.4,237.1 343.5,240.2 343.6,239.7 343.7,237.5 343.7,235.5 343.8,232.9 343.9,235.2 344.0,236.7 344.1,238.0 344.2,239.5 344.3,237.7 344.4,235.1 344.5,234.0 344.6,239.0 344.7,239.1 344.8,237.2 344.9,239.3 345.0,240.7 345.1,241.9 345.1,234.6 345.2,231.9 345.3,235.7 345.4,238.5 345.5,243.0 345.6,240.4 345.7,237.9 345.8,235.5 345.9,237.2 346.0,237.5 346.1,231.5 346.2,234.6 346.3,235.7 346.4,235.5 346.5,236.6 346.5,233.3 346.6,229.8 346.7,232.0 346.8,235.3 346.9,231.1 347.0,233.9 347.1,236.1 347.2,235.1 347.3,236.5 347.4,232.6 347.5,229.1 347.6,224.5 347.7,222.7 347.8,225.4 347.9,228.7 347.9,232.1 348.0,231.1 348.1,235.4 348.2,231.7 348.3,227.7 348.4,233.7 348.5,234.7 348.6,232.2 348.7,230.1 348.8,255.0 348.9,238.6 349.0,239.7 349.1,244.9 349.2,246.3 349.3,244.6 349.3,248.3 349.4,245.6 349.5,245.5 349.6,247.3 349.7,245.9 349.8,248.1 349.9,247.1 350.0,243.4 350.1,244.4 350.2,246.3 350.3,239.6 350.4,240.5 350.5,244.0 350.6,240.6 350.7,241.7 350.8,241.9 350.8,241.9 350.9,241.1 351.0,239.3 351.1,242.8 351.2,239.5 351.3,237.3 351.4,241.0 351.5,242.7 351.6,243.0 351.7,240.8 351.8,239.3 351.9,236.5 352.0,239.9 352.1,243.2 352.2,237.4 352.2,236.2 352.3,238.0 352.4,234.7 352.5,234.8 352.6,237.4 352.7,223.2 352.8,235.2 352.9,232.7 353.0,238.4 353.1,239.5 353.2,240.5 353.3,239.2 353.4,235.0 353.5,237.9 353.6,240.3 353.6,244.1 353.7,241.4 353.8,237.5 353.9,239.9 354.0,238.0 354.1,238.8 354.2,241.8 354.3,241.8 354.4,243.6 354.5,236.4 354.6,251.1 354.7,240.1 354.8,237.5 354.9,244.0 355.0,246.1 355.0,238.8 355.1,240.9 355.2,239.9 355.3,242.3 355.4,243.3 355.5,236.6 355.6,241.8 355.7,247.2 355.8,242.5 355.9,239.2 356.0,240.4 356.1,239.5 356.2,237.5 356.3,241.5 356.4,242.3 356.4,242.1 356.5,246.7 356.6,249.3 356.7,242.2 356.8,236.9 356.9,234.8 357.0,237.8 357.1,243.2 357.2,239.0 357.3,238.5 357.4,238.1 357.5,237.4 357.6,239.9 357.7,245.6 357.8,246.4 357.8,237.0 357.9,233.0 358.0,222.2 358.1,236.8 358.2,240.4 358.3,241.0 358.4,239.6 358.5,237.4 358.6,237.2 358.7,273.3 358.8,236.2 358.9,238.6 359.0,239.8 359.1,239.0 359.2,236.7 359.3,239.4 359.3,238.0 359.4,234.1 359.5,234.4 359.6,239.3 359.7,242.0 359.8,240.2 359.9,239.4 360.0,241.2 360.1,239.2 360.2,236.5 360.3,238.1 360.4,238.0 360.5,232.3 360.6,237.2 360.7,238.2 360.7,229.7 360.8,234.2 360.9,237.7 361.0,239.5 361.1,240.1 361.2,237.7 361.3,237.7 361.4,239.1 361.5,241.7 361.6,240.6 361.7,240.3 361.8,240.7 361.9,239.5 362.0,205.2 362.1,240.5 362.1,236.8 362.2,241.8 362.3,242.4 362.4,238.8 362.5,241.8 362.6,243.2 362.7,242.6 362.8,241.2 362.9,238.4 363.0,239.6 363.1,238.0 363.2,236.9 363.3,237.7 363.4,233.4 363.5,237.9 363.5,238.0 363.6,230.2 363.7,233.7 363.8,237.5 363.9,236.8 364.0,238.0 364.1,238.2 364.2,239.6 364.3,237.5 364.4,234.4 364.5,236.1 364.6,234.7 364.7,232.3 364.8,234.2 364.9,238.4 364.9,235.7 365.0,231.1 365.1,240.6 365.2,246.2 365.3,242.5 365.4,237.8 365.5,233.9 365.6,236.8 365.7,239.2 365.8,237.0 365.9,240.6 366.0,241.0 366.1,238.8 366.2,239.8 366.3,239.3 366.3,242.2 366.4,244.2 366.5,241.5 366.6,239.2 366.7,239.8 366.8,238.1 366.9,238.3 367.0,242.3 367.1,242.2 367.2,240.4 367.3,240.0 367.4,238.0 367.5,237.1 367.6,237.4 367.7,237.4 367.8,239.0 367.8,238.5 367.9,238.7 368.0,239.6 368.1,240.3 368.2,240.5 368.3,239.8 368.4,239.5 368.5,237.3 368.6,235.3 368.7,236.1 368.8,238.5 368.9,238.7 369.0,238.5 369.1,239.9 369.2,240.2 369.2,239.8 369.3,240.4 369.4,238.7 369.5,238.7 369.6,240.6 369.7,239.3 369.8,239.5 369.9,241.4 370.0,241.6 370.1,239.9 370.2,238.6 370.3,238.8 370.4,239.7 370.5,240.9 370.6,239.5 370.6,240.1 370.7,241.2 370.8,241.1 370.9,241.3 371.0,240.1 371.1,238.4 371.2,241.2 371.3,241.0 371.4,239.0 371.5,240.1 371.6,238.4 371.7,239.5 371.8,240.4 371.9,239.1 372.0,239.1 372.0,240.4 372.1,240.1 372.2,239.2 372.3,240.9 372.4,239.6 372.5,237.9 372.6,241.7 372.7,242.8 372.8,238.6 372.9,236.1 373.0,237.6 373.1,240.9 373.2,241.4 373.3,238.6 373.4,238.0 373.4,239.4 373.5,240.6 373.6,239.4 373.7,238.8 373.8,239.4 373.9,238.6 374.0,237.3 374.1,237.6 374.2,239.0 374.3,241.0 374.4,240.1 374.5,237.4 374.6,238.6 374.7,241.8 374.8,242.3 374.8,240.0 374.9,237.2 375.0,236.7 375.1,238.1 375.2,237.8 375.3,237.3 375.4,239.3 375.5,241.5 375.6,241.5 375.7,241.0 375.8,240.1 375.9,239.7 376.0,240.4 376.1,240.4 376.2,240.2 376.3,238.2 376.3,237.9 376.4,237.4 376.5,235.2 376.6,239.0 376.7,239.7 376.8,237.9 376.9,240.4 377.0,240.4 377.1,239.0 377.2,239.2 377.3,240.0 377.4,240.4 377.5,239.1 377.6,239.2 377.7,240.3 377.7,240.3 377.8,240.6 377.9,240.1 378.0,241.7 378.1,240.6 378.2,237.9 378.3,238.9 378.4,238.1 378.5,239.9 378.6,238.4 378.7,238.3 378.8,240.2 378.9,238.7 379.0,237.8 379.1,238.2 379.1,240.9 379.2,240.6 379.3,241.7 379.4,242.2 379.5,240.2 379.6,238.4 379.7,238.2 379.8,240.2 379.9,240.7 380.0,241.1 380.1,240.9 380.2,239.5 380.3,240.2 380.4,241.1 380.5,241.2 380.5,241.2 380.6,239.5 380.7,240.6 380.8,241.4 380.9,240.0 381.0,238.6 381.1,237.8 381.2,238.7 381.3,240.7 381.4,242.2 381.5,240.4 381.6,237.3 381.7,237.7 381.8,237.6 381.9,238.4 381.9,240.4 382.0,238.3 382.1,239.0 382.2,240.0 382.3,238.5 382.4,239.0 382.5,237.6 382.6,238.7 382.7,240.9 382.8,242.1 382.9,242.7 383.0,241.1 383.1,240.5 383.2,240.1 383.3,239.4 383.3,239.9 383.4,242.2 383.5,241.4 383.6,239.0 383.7,240.3 383.8,241.5 383.9,238.5 384.0,236.7 384.1,237.4 384.2,237.7 384.3,238.7 384.4,239.9 384.5,239.5 384.6,239.2 384.7,240.2 384.8,240.0 384.8,239.6 384.9,238.7 385.0,239.6 385.1,238.0 385.2,238.0 385.3,241.0 385.4,239.0 385.5,239.4 385.6,240.9 385.7,240.0 385.8,242.5 385.9,243.1 386.0,241.0 386.1,240.8 386.2,239.3 386.2,238.4 386.3,237.4 386.4,236.5 386.5,237.0 386.6,238.5 386.7,238.5 386.8,239.5 386.9,240.7 387.0,238.2 387.1,237.3 387.2,240.2 387.3,241.6 387.4,239.2 387.5,238.0 387.6,237.8 387.6,240.2 387.7,242.6 387.8,241.1 387.9,240.8 388.0,240.6 388.1,239.5 388.2,239.2 388.3,239.3 388.4,239.1 388.5,238.1 388.6,238.6 388.7,240.6 388.8,239.4 388.9,238.0 389.0,238.8 389.0,238.9 389.1,241.0 389.2,240.6 389.3,239.6 389.4,241.4 389.5,239.4 389.6,238.5 389.7,239.5 389.8,238.3 389.9,236.9 390.0,239.7 390.1,242.1 390.2,239.6 390.3,239.5 390.4,243.5 390.4,242.7 390.5,239.1 390.6,238.5 390.7,238.5 390.8,239.7 390.9,239.7 391.0,239.3 391.1,240.1 391.2,239.8 391.3,238.9 391.4,240.2 391.5,239.5 391.6,237.6 391.7,237.9 391.8,241.5 391.8,242.2 391.9,239.5 392.0,240.7 392.1,239.9 392.2,240.5 392.3,239.8 392.4,237.9 392.5,239.6 392.6,238.6 392.7,237.6 392.8,238.7 392.9,240.5 393.0,240.3 393.1,237.5 393.2,236.9 393.3,239.7 393.3,239.4 393.4,236.5 393.5,237.0 393.6,239.1 393.7,241.5 393.8,242.0 393.9,241.1 394.0,239.9 394.1,238.7 394.2,239.7 394.3,242.0 394.4,241.7 394.5,241.3 394.6,239.6 394.7,239.5 394.7,240.4 394.8,238.3 394.9,239.8 395.0,239.6 395.1,238.7 395.2,240.6 395.3,241.4 395.4,240.5 395.5,238.4 395.6,240.5 395.7,241.0 395.8,239.2 395.9,240.6 396.0,240.5 396.1,239.8 396.1,239.7 396.2,238.9 396.3,239.7 396.4,238.5 396.5,236.7 396.6,239.3 396.7,242.2 396.8,241.6 396.9,240.1 397.0,239.3 397.1,238.1 397.2,236.9 397.3,237.8 397.4,238.9 397.5,239.2 397.5,240.4 397.6,238.4 397.7,238.2 397.8,239.8 397.9,240.0 398.0,239.6 398.1,238.6 398.2,239.1 398.3,240.9 398.4,240.4 398.5,240.0 398.6,240.8 398.7,239.7 398.8,239.1 398.9,241.7 398.9,240.2 399.0,237.0 399.1,236.7 399.2,235.0 399.3,237.9 399.4,241.1 399.5,239.9 399.6,238.3 399.7,239.1 399.8,240.4 399.9,238.8 400.0,239.4 400.1,240.3 400.2,238.3 400.3,238.7 400.3,239.1 400.4,238.9 400.5,241.4 400.6,241.8 400.7,240.4 400.8,240.2 400.9,240.0 401.0,239.2 401.1,239.0 401.2,239.2 401.3,239.9 401.4,240.4 401.5,240.3 401.6,240.7 401.7,238.9 401.8,240.3 401.8,241.4 401.9,241.2 402.0,242.1 402.1,239.6 402.2,239.3 402.3,238.7 402.4,239.3 402.5,241.1 402.6,240.8 402.7,240.5 402.8,240.2 402.9,240.6 403.0,240.2 403.1,238.7 403.2,238.6 403.2,239.7 403.3,240.2 403.4,241.0 403.5,242.2 403.6,242.5 403.7,241.0 403.8,241.9 403.9,241.3 404.0,239.8 404.1,241.4 404.2,241.5 404.3,239.9 404.4,239.0 404.5,239.4 404.6,237.9 404.6,235.8 404.7,238.9 404.8,240.4 404.9,239.8 405.0,242.1 405.1,241.8 405.2,239.3 405.3,239.1 405.4,240.6 405.5,238.8 405.6,237.8 405.7,239.3 405.8,237.9 405.9,237.3 406.0,239.9 406.0,241.5 406.1,241.1 406.2,239.8 406.3,238.4 406.4,237.7 406.5,238.6 406.6,240.6 406.7,239.8 406.8,238.4 406.9,240.7 407.0,242.3 407.1,240.8 407.2,238.8 407.3,238.1 407.4,240.1 407.4,238.6 407.5,239.4 407.6,242.3 407.7,237.6 407.8,235.9 407.9,239.5 408.0,240.2 408.1,236.6 408.2,236.3 408.3,240.1 408.4,238.4 408.5,239.6 408.6,242.6 408.7,241.6 408.8,242.5 408.8,241.1 408.9,275.2 409.0,241.2 409.1,241.7 409.2,236.9 409.3,237.2 409.4,238.6 409.5,238.0 409.6,240.4 409.7,241.9 409.8,240.4 409.9,238.8 410.0,235.1 410.1,233.0 410.2,237.6 410.3,241.5 410.3,242.5 410.4,246.0 410.5,241.7 410.6,236.4 410.7,242.4 410.8,243.4 410.9,235.4 411.0,234.5 411.1,237.9 411.2,238.5 411.3,240.8 411.4,243.4 411.5,243.5 411.6,241.0 411.7,239.9 411.7,238.9 411.8,235.2 411.9,235.3 412.0,237.0 412.1,238.8 412.2,242.8 412.3,238.1 412.4,234.3 412.5,236.1 412.6,238.2 412.7,243.6 412.8,240.4 412.9,241.2 413.0,244.0 413.1,241.0 413.1,240.3 413.2,237.7 413.3,236.6 413.4,242.1 413.5,241.8 413.6,241.4 413.7,295.4 413.8,239.2 413.9,242.6 414.0,242.8 414.1,243.1 414.2,242.2 414.3,237.9 414.4,236.4 414.5,238.1 414.5,237.5 414.6,236.7 414.7,234.7 414.8,234.6 414.9,239.8 415.0,241.3 415.1,241.6 415.2,241.6 415.3,240.5 415.4,238.6 415.5,236.9 415.6,238.1 415.7,238.8 415.8,240.2 415.9,242.1 415.9,245.3 416.0,245.8 416.1,242.1 416.2,235.8 416.3,237.4 416.4,242.1 416.5,240.2 416.6,243.3 416.7,242.1 416.8,239.2 416.9,242.4 417.0,246.8 417.1,244.2 417.2,242.5 417.3,241.1 417.3,238.9 417.4,239.2 417.5,239.2 417.6,237.3 417.7,235.4 417.8,235.5 417.9,236.5 418.0,241.3 418.1,244.2 418.2,243.2 418.3,240.0 418.4,240.2 418.5,236.1 418.6,235.1 418.7,238.8 418.8,238.5 418.8,241.7 418.9,239.9 419.0,236.3 419.1,236.7 419.2,239.6 419.3,241.2 419.4,239.5 419.5,237.3 419.6,239.9 419.7,255.0 419.8,235.8 419.9,237.8 420.0,241.8 420.1,238.5 420.2,236.5 420.2,236.8 420.3,235.8 420.4,235.9 420.5,237.7 420.6,243.7 420.7,242.3 420.8,239.5 420.9,239.5 421.0,239.2 421.1,237.3 421.2,236.7 421.3,238.2 421.4,235.7 421.5,237.4 421.6,238.9 421.6,238.8 421.7,241.1 421.8,238.3 421.9,238.3 422.0,229.9 422.1,243.3 422.2,240.1 422.3,239.0 422.4,239.9 422.5,240.9 422.6,244.3 422.7,242.3 422.8,234.9 422.9,237.5 423.0,244.2 423.0,241.4 423.1,238.3 423.2,247.3 423.3,248.4 423.4,243.6 423.5,244.4 423.6,237.9 423.7,233.7 423.8,237.8 423.9,239.7 424.0,236.4 424.1,238.5 424.2,240.0 424.3,239.2 424.4,239.0 424.4,237.3 424.5,240.3 424.6,238.7 424.7,236.3 424.8,234.8 424.9,236.6 425.0,239.8 425.1,240.4 425.2,238.3 425.3,238.4 425.4,240.8 425.5,236.9 425.6,235.8 425.7,237.8 425.8,238.3 425.8,238.2 425.9,237.5 426.0,238.7 426.1,243.7 426.2,240.6 426.3,238.8 426.4,237.9 426.5,235.3 426.6,232.7 426.7,231.0 426.8,236.3 426.9,236.8 427.0,240.3 427.1,241.7 427.2,239.7 427.2,203.9 427.3,243.3 427.4,247.5 427.5,242.3 427.6,253.0 427.7,240.2 427.8,240.5 427.9,240.9 428.0,241.7 428.1,239.1 428.2,238.6 428.3,238.6 428.4,239.5 428.5,244.3 428.6,244.3 428.7,241.1 428.7,242.0 428.8,242.4 428.9,241.3 429.0,238.8 429.1,236.2 429.2,235.9 429.3,238.9 429.4,240.4 429.5,236.5 429.6,236.8 429.7,239.4 429.8,241.1 429.9,239.2 430.0,237.3 430.1,236.8 430.1,237.3 430.2,235.1 430.3,234.7 430.4,240.8 430.5,240.2 430.6,236.8 430.7,234.5 430.8,236.2 430.9,239.5 431.0,239.0 431.1,238.5 431.2,241.9 431.3,239.6 431.4,233.0 431.5,235.7 431.5,239.8 431.6,279.0 431.7,237.9 431.8,236.0 431.9,235.4 432.0,235.6 432.1,236.6 432.2,240.4 432.3,240.8 432.4,240.6 432.5,236.7 432.6,232.2 432.7,232.5 432.8,233.6 432.9,237.9 432.9,236.0 433.0,234.0 433.1,233.5 433.2,226.3 433.3,228.5 433.4,231.8 433.5,230.6 433.6,234.2 433.7,238.2 433.8,237.6 433.9,235.8 434.0,233.5 434.1,234.3 434.2,234.4 434.3,236.3 434.3,241.7 434.4,241.4 434.5,239.4 434.6,242.4 434.7,240.3 434.8,239.4 434.9,242.7 435.0,240.5 435.1,241.2 435.2,240.4 435.3,237.6 435.4,237.9 435.5,238.7 435.6,240.4 435.7,241.9 435.7,240.4 435.8,236.3 435.9,235.4 436.0,237.3 436.1,236.9 436.2,235.0 436.3,239.3 436.4,241.9 436.5,214.9 436.6,238.3 436.7,241.6 436.8,239.1 436.9,300.8 437.0,237.5 437.1,237.7 437.2,238.9 437.2,233.5 437.3,232.4 437.4,239.8 437.5,243.9 437.6,243.3 437.7,241.4 437.8,242.1 437.9,241.0 438.0,235.1 438.1,233.1 438.2,237.9 438.3,241.4 438.4,240.5 438.5,241.6 438.6,237.8 438.6,237.5 438.7,242.9 438.8,240.9 438.9,238.1 439.0,235.9 439.1,233.6 439.2,236.9 439.3,243.8 439.4,242.2 439.5,236.7 439.6,234.5 439.7,239.1 439.8,244.7 439.9,238.8 440.0,233.5 440.0,234.0 440.1,237.1 440.2,237.1 440.3,238.1 440.4,243.0 440.5,242.0 440.6,239.5 440.7,237.9 440.8,236.0 440.9,240.9 441.0,242.4 441.1,238.2 441.2,241.1 441.3,242.5 441.4,240.0 441.4,238.7 441.5,240.4 441.6,242.4 441.7,242.9 441.8,241.1 441.9,239.6 442.0,241.4 442.1,239.6 442.2,238.8 442.3,242.3 442.4,239.8 442.5,235.8 442.6,237.1 442.7,240.7 442.8,239.5 442.8,238.8 442.9,243.7 443.0,242.9 443.1,237.0 443.2,237.6 443.3,239.5 443.4,236.8 443.5,237.4 443.6,239.8 443.7,240.1 443.8,238.9 443.9,239.6 444.0,239.8 444.1,238.5 444.2,239.4 444.2,239.2 444.3,238.1 444.4,239.4 444.5,240.2 444.6,239.7 444.7,239.7 444.8,240.1 444.9,241.1 445.0,240.7 445.1,238.6 445.2,238.0 445.3,239.8 445.4,239.9 445.5,238.3 445.6,240.0 445.7,240.1 445.7,239.2 445.8,240.3 445.9,239.8 446.0,239.6 446.1,242.5 446.2,242.0 446.3,240.7 446.4,241.0 446.5,238.9 446.6,239.1 446.7,240.4 446.8,240.0 446.9,238.9 447.0,240.0 447.1,241.3 447.1,239.8 447.2,237.2 447.3,237.8 447.4,238.6 447.5,239.5 447.6,240.5 447.7,239.6 447.8,241.1 447.9,241.2 448.0,239.9 448.1,242.8 448.2,242.7 448.3,239.4 448.4,239.1 448.5,239.0 448.5,240.6 448.6,241.8 448.7,240.8 448.8,240.9 448.9,241.3 449.0,238.8 449.1,239.3 449.2,241.1 449.3,238.0 449.4,237.8 449.5,241.0 449.6,240.6 449.7,239.2 449.8,239.3 449.9,241.4 449.9,241.3 450.0,238.9 450.1,236.8 450.2,236.5 450.3,239.3 450.4,239.7 450.5,238.5 450.6,239.0 450.7,239.8 450.8,238.0 450.9,237.4 451.0,238.4 451.1,240.0 451.2,240.1 451.3,241.2 451.3,240.3 451.4,238.6 451.5,239.3 451.6,237.1 451.7,239.1 451.8,239.3 451.9,237.8 452.0,237.8 452.1,238.5 452.2,240.6 452.3,238.7 452.4,237.4 452.5,238.8 452.6,240.6 452.7,239.2 452.7,238.2 452.8,240.0 452.9,240.4 453.0,240.2 453.1,238.7 453.2,238.8 453.3,239.6 453.4,240.1 453.5,238.3 453.6,235.8 453.7,237.9 453.8,240.8 453.9,240.1 454.0,241.0 454.1,241.0 454.2,238.8 454.2,238.9 454.3,237.4 454.4,235.5 454.5,236.8 454.6,239.3 454.7,238.6 454.8,236.9 454.9,239.5 455.0,241.6 455.1,240.6 455.2,241.6 455.3,242.6 455.4,238.8 455.5,239.0 455.6,239.9 455.6,239.4 455.7,239.2 455.8,237.9 455.9,238.0 456.0,240.0 456.1,240.7 456.2,239.7 456.3,239.2 456.4,237.7 456.5,238.4 456.6,239.4 456.7,231.8 456.8,239.1 456.9,239.7 457.0,240.5 457.0,240.7 457.1,241.4 457.2,239.4 457.3,239.7 457.4,239.5 457.5,237.1 457.6,240.6 457.7,243.5 457.8,241.5 457.9,240.6 458.0,240.5 458.1,238.2 458.2,237.9 458.3,239.3 458.4,239.9 458.4,237.9 458.5,238.1 458.6,237.8 458.7,235.0 458.8,237.5 458.9,239.5 459.0,237.1 459.1,238.2 459.2,239.7 459.3,237.7 459.4,239.3 459.5,240.1 459.6,238.8 459.7,239.8 459.8,238.2 459.8,237.7 459.9,236.8 460.0,235.8 460.1,239.3 460.2,239.8 460.3,239.9 460.4,239.3 460.5,237.6 460.6,239.9 460.7,241.2 460.8,239.2 460.9,238.7 461.0,240.4 461.1,239.2 461.2,236.5 461.2,239.5 461.3,239.3 461.4,240.0 461.5,241.9 461.6,240.3 461.7,240.8 461.8,239.8 461.9,240.5 462.0,240.8 462.1,237.5 462.2,236.9 462.3,237.1 462.4,236.6 462.5,240.3 462.6,239.2 462.7,236.3 462.7,237.6 462.8,239.1 462.9,240.4 463.0,241.2 463.1,240.8 463.2,239.4 463.3,239.4 463.4,239.7 463.5,241.8 463.6,242.5 463.7,241.2 463.8,240.0 463.9,239.6 464.0,240.4 464.1,239.8 464.1,239.9 464.2,240.3 464.3,238.5 464.4,247.3 464.5,240.7 464.6,239.8 464.7,237.8 464.8,237.8 464.9,240.2 465.0,239.9 465.1,238.3 465.2,239.2 465.3,239.2 465.4,238.8 465.5,238.3 465.5,237.1 465.6,237.4 465.7,239.2 465.8,238.8 465.9,238.8 466.0,238.3 466.1,237.9 466.2,238.3 466.3,239.1 466.4,238.8 466.5,237.5 466.6,239.6 466.7,240.8 466.8,239.7 466.9,240.8 466.9,242.2 467.0,240.1 467.1,238.2 467.2,237.3 467.3,239.3 467.4,241.3 467.5,242.2 467.6,239.7 467.7,238.9 467.8,241.2 467.9,237.5 468.0,235.5 468.1,238.8 468.2,237.8 468.3,236.3 468.3,240.1 468.4,240.3 468.5,238.4 468.6,238.0 468.7,241.2 468.8,239.8 468.9,239.2 469.0,241.6 469.1,238.0 469.2,237.3 469.3,239.0 469.4,240.2 469.5,239.5 469.6,237.2 469.7,238.5 469.7,239.6 469.8,239.4 469.9,240.4 470.0,242.3 470.1,241.6 470.2,238.1 470.3,238.5 470.4,238.4 470.5,238.0 470.6,237.8 470.7,237.8 470.8,239.6 470.9,240.4 471.0,239.9 471.1,238.9 471.2,240.0 471.2,240.5 471.3,241.1 471.4,242.5 471.5,240.2 471.6,238.2 471.7,237.9 471.8,238.2 471.9,238.9 472.0,236.9 472.1,238.2 472.2,240.0 472.3,237.2 472.4,235.2 472.5,236.4 472.6,238.8 472.6,240.7 472.7,240.8 472.8,239.4 472.9,239.2 473.0,238.8 473.1,238.1 473.2,239.3 473.3,241.0 473.4,240.8 473.5,239.2 473.6,237.0 473.7,239.4 473.8,240.1 473.9,238.5 474.0,238.5 474.0,236.0 474.1,236.7 474.2,240.2 474.3,241.2 474.4,239.5 474.5,239.4 474.6,239.9 474.7,240.4 474.8,240.6 474.9,240.4 475.0,239.2 475.1,238.1 475.2,238.2 475.3,240.5 475.4,241.9 475.4,240.8 475.5,240.8 475.6,241.0 475.7,241.3 475.8,238.5 475.9,237.9 476.0,241.2 476.1,241.2 476.2,237.2 476.3,236.0 476.4,239.7 476.5,240.8 476.6,239.8 476.7,239.5 476.8,241.6 476.8,242.7 476.9,240.8 477.0,241.7 477.1,241.7 477.2,239.6 477.3,238.5 477.4,237.3 477.5,238.5 477.6,239.4 477.7,238.4 477.8,237.5 477.9,238.2 478.0,240.3 478.1,239.7 478.2,237.8 478.2,238.3 478.3,238.6 478.4,237.0 478.5,238.2 478.6,240.9 478.7,241.5 478.8,240.3 478.9,238.0 479.0,238.9 479.1,237.9 479.2,238.0 479.3,239.8 479.4,239.3 479.5,238.0 479.6,238.6 479.7,238.3 479.7,237.7 479.8,241.2 479.9,241.7 480.0,240.3 480.1,237.7 480.2,238.0 480.3,240.0 480.4,237.0 480.5,236.9 480.6,240.0 480.7,241.0 480.8,234.7 480.9,240.9 481.0,237.6 481.1,238.5 481.1,241.1 481.2,240.4 481.3,239.2 481.4,239.6 481.5,239.1 481.6,238.9 481.7,239.9 481.8,238.8 481.9,240.5 482.0,243.0 482.1,241.2 482.2,241.4 482.3,239.4 482.4,240.3 482.5,241.3 482.5,238.1 482.6,238.5 482.7,238.7 482.8,239.7 482.9,241.1 483.0,238.8 483.1,238.1 483.2,241.5 483.3,242.7 483.4,242.8 483.5,241.1 483.6,237.9 483.7,238.6 483.8,239.8 483.9,240.0 483.9,239.1 484.0,237.5 484.1,237.4 484.2,236.4 484.3,238.9 484.4,240.0 484.5,240.4 484.6,240.5 484.7,237.7 484.8,237.7 484.9,237.7 485.0,238.7 485.1,240.4 485.2,239.3 485.3,239.3 485.3,239.3 485.4,239.6 485.5,240.0 485.6,238.7 485.7,240.1 485.8,240.8 485.9,238.7 486.0,238.3 486.1,238.8 486.2,239.4 486.3,239.9 486.4,241.0 486.5,242.0 486.6,238.8 486.7,237.3 486.7,238.7 486.8,239.2 486.9,240.8 487.0,240.5 487.1,240.3 487.2,241.7 487.3,239.5 487.4,239.5 487.5,240.9 487.6,240.1 487.7,239.4 487.8,237.8 487.9,239.9 488.0,241.9 488.1,239.3 488.2,239.4 488.2,240.5 488.3,240.9 488.4,240.8 488.5,239.1 488.6,237.3 488.7,237.6 488.8,237.5 488.9,237.8 489.0,241.3 489.1,240.6 489.2,241.0 489.3,241.9 489.4,239.6 489.5,232.8 489.6,241.1 489.6,240.4 489.7,240.0 489.8,239.7 489.9,239.2 490.0,239.3 490.1,239.3 490.2,238.8 490.3,239.2 490.4,239.1 490.5,239.9 490.6,238.8 490.7,237.5 490.8,241.5 490.9,243.6 491.0,239.0 491.0,237.9 491.1,236.6 491.2,235.7 491.3,238.5 491.4,239.5 491.5,240.3 491.6,239.6 491.7,238.3 491.8,238.3 491.9,239.5 492.0,240.7 492.1,241.2 492.2,240.6 492.3,240.2 492.4,240.6 492.4,241.7 492.5,241.2 492.6,242.8 492.7,244.2 492.8,242.4 492.9,240.2 493.0,240.0 493.1,241.8 493.2,240.2 493.3,239.1 493.4,238.3 493.5,238.4 493.6,240.8 493.7,241.0 493.8,238.2 493.8,235.9 493.9,237.8 494.0,238.4 494.1,240.2 494.2,240.0 494.3,238.0 494.4,239.5 494.5,239.9 494.6,239.5 494.7,240.1 494.8,240.8 494.9,241.7 495.0,239.5 495.1,239.1 495.2,241.2 495.2,238.9 495.3,237.4 495.4,236.9 495.5,239.0 495.6,241.2 495.7,240.7 495.8,242.3 495.9,241.2 496.0,241.0 496.1,242.2 496.2,233.8 496.3,238.1 496.4,239.7 496.5,239.6 496.6,237.9 496.7,240.9 496.7,242.5 496.8,239.7 496.9,238.9 497.0,239.9 497.1,240.6 497.2,237.6 497.3,237.9 497.4,239.4 497.5,240.3 497.6,241.0 497.7,238.3 497.8,239.4 497.9,241.4 498.0,238.7 498.1,238.2 498.1,239.1 498.2,240.5 498.3,239.7 498.4,240.3 498.5,243.4 498.6,241.7 498.7,240.7 498.8,239.7 498.9,237.8 499.0,235.5 499.1,235.2 499.2,236.6 499.3,238.6 499.4,241.9 499.5,242.3 499.5,240.5 499.6,239.7 499.7,240.2 499.8,241.9 499.9,241.6 500.0,239.8 500.1,238.7 500.2,240.7 500.3,242.9 500.4,242.4 500.5,241.1 500.6,241.1 500.7,240.3 500.8,238.7 500.9,237.9 500.9,239.6 501.0,241.4 501.1,238.8 501.2,238.2 501.3,239.1 501.4,238.6 501.5,239.0 501.6,237.3 501.7,238.0 501.8,238.6 501.9,237.7 502.0,239.2 502.1,240.3 502.2,240.8 502.3,238.8 502.3,237.0 502.4,239.4 502.5,240.1 502.6,241.2 502.7,241.6 502.8,237.1 502.9,238.5 503.0,240.6 503.1,239.9 503.2,240.2 503.3,240.7 503.4,240.6 503.5,242.1 503.6,242.6 503.7,240.2 503.7,240.1 503.8,237.3 503.9,238.6 504.0,241.8 504.1,242.0 504.2,240.6 504.3,239.0 504.4,241.0 504.5,239.9 504.6,238.2 504.7,237.6 504.8,237.0 504.9,238.6 505.0,240.5 505.1,243.1 505.2,242.9 505.2,239.0 505.3,238.6 505.4,241.0 505.5,240.4 505.6,238.5 505.7,235.5 505.8,237.5 505.9,241.2 506.0,241.3 506.1,241.6 506.2,239.0 506.3,238.1 506.4,240.8 506.5,239.0 506.6,234.9 506.6,235.5 506.7,238.6 506.8,240.8 506.9,237.9 507.0,237.7 507.1,239.8 507.2,240.2 507.3,237.0 507.4,235.9 507.5,238.3 507.6,238.3 507.7,238.8 507.8,239.1 507.9,236.8 508.0,236.1 508.0,235.6 508.1,236.2 508.2,237.2 508.3,234.4 508.4,236.2 508.5,236.9 508.6,236.1 508.7,237.6 508.8,237.3 508.9,238.1 509.0,237.8 509.1,237.3 509.2,236.0 509.3,232.1 509.4,231.1 509.4,233.7 509.5,235.4 509.6,232.0 509.7,230.1 509.8,231.8 509.9,236.0 510.0,237.2 510.1,231.9 510.2,231.0 510.3,234.2 510.4,234.7 510.5,231.3 510.6,229.8 510.7,234.4 510.8,237.4 510.8,235.8 510.9,232.8 511.0,233.8 511.1,236.2 511.2,238.4 511.3,238.5 511.4,234.7 511.5,233.2 511.6,235.8 511.7,235.6 511.8,234.9 511.9,237.7 512.0,236.1 512.1,236.4 512.2,237.6 512.2,236.7 512.3,236.4 512.4,235.1 512.5,235.5 512.6,236.9 512.7,237.2 512.8,239.4 512.9,239.2 513.0,233.8 513.1,233.4 513.2,234.8 513.3,235.4 513.4,237.0 513.5,236.7 513.6,236.1 513.7,236.0 513.7,238.2 513.8,239.1 513.9,240.2 514.0,239.2 514.1,237.6 514.2,239.4 514.3,241.2 514.4,240.5 514.5,237.9 514.6,237.9 514.7,237.8 514.8,239.4 514.9,239.6 515.0,238.6 515.1,243.1 515.1,242.8 515.2,240.7 515.3,241.2 515.4,240.8 515.5,241.7 515.6,239.5 515.7,239.1 515.8,240.2 515.9,238.6 516.0,239.3 516.1,241.7 516.2,241.1 516.3,239.7 516.4,240.9 516.5,240.6 516.5,237.8 516.6,236.8 516.7,236.4 516.8,235.8 516.9,237.5 517.0,239.3 517.1,240.9 517.2,239.4 517.3,238.7 517.4,247.3 517.5,236.7 517.6,237.2 517.7,241.2 517.8,242.7 517.9,241.3 517.9,238.3 518.0,238.2 518.1,240.1 518.2,241.0 518.3,240.4 518.4,239.0 518.5,238.4 518.6,239.7 518.7,240.0 518.8,240.6 518.9,242.2 519.0,241.1 519.1,240.5 519.2,239.3 519.3,242.1 519.3,242.7 519.4,240.2 519.5,241.8 519.6,241.7 519.7,239.5 519.8,239.6 519.9,240.8 520.0,239.4 520.1,239.7 520.2,239.2 520.3,237.8 520.4,238.6 520.5,238.3 520.6,237.2 520.7,238.9 520.7,239.0 520.8,239.2 520.9,240.2 521.0,238.3 521.1,238.6 521.2,240.8 521.3,242.5 521.4,242.5 521.5,241.0 521.6,239.4 521.7,238.6 521.8,240.8 521.9,241.1 522.0,237.8 522.1,238.0 522.2,239.3 522.2,238.5 522.3,236.3 522.4,235.3 522.5,235.2 522.6,238.6 522.7,238.6 522.8,237.2 522.9,237.9 523.0,238.1 523.1,238.6 523.2,238.4 523.3,239.1 523.4,235.8 523.5,236.9 523.6,237.9 523.6,236.2 523.7,238.7 523.8,237.0 523.9,235.4 524.0,237.7 524.1,237.2 524.2,237.4 524.3,235.5 524.4,236.3 524.5,238.9 524.6,239.5 524.7,238.4 524.8,234.6 524.9,233.6 525.0,232.6 525.0,233.7 525.1,236.1 525.2,234.9 525.3,235.1 525.4,235.8 525.5,235.7 525.6,237.0 525.7,236.5" fill="none" stroke="#EE7D2E" stroke-width="1.2" stroke-linejoin="round"/>
<path clip-path="url(#cd)" d="M320.3,238.0 320.4,238.4 320.5,239.7 320.6,244.2 320.7,240.1 320.8,239.9 320.9,239.4 321.0,241.6 321.0,239.2 321.1,240.1 321.2,243.5 321.3,239.4 321.4,238.2 321.5,240.5 321.6,242.1 321.7,238.4 321.8,239.5 321.9,243.5 322.0,239.3 322.1,240.7 322.2,240.9 322.3,244.0 322.4,243.8 322.4,241.2 322.5,238.3 322.6,240.8 322.7,240.9 322.8,241.8 322.9,241.3 323.0,239.1 323.1,241.6 323.2,237.9 323.3,239.5 323.4,239.9 323.5,240.5 323.6,241.4 323.7,240.8 323.8,242.7 323.8,240.1 323.9,243.3 324.0,237.0 324.1,240.8 324.2,243.3 324.3,241.0 324.4,241.1 324.5,242.0 324.6,240.7 324.7,242.3 324.8,241.1 324.9,241.6 325.0,240.4 325.1,242.0 325.2,241.1 325.3,245.7 325.3,240.1 325.4,241.2 325.5,240.6 325.6,242.0 325.7,240.0 325.8,241.7 325.9,241.4 326.0,241.7 326.1,242.6 326.2,243.0 326.3,240.7 326.4,240.6 326.5,241.6 326.6,239.6 326.7,241.2 326.7,240.8 326.8,240.0 326.9,240.5 327.0,241.8 327.1,243.4 327.2,243.1 327.3,243.9 327.4,241.0 327.5,247.5 327.6,238.7 327.7,243.1 327.8,240.0 327.9,241.4 328.0,240.8 328.1,243.8 328.1,240.1 328.2,241.6 328.3,240.3 328.4,242.8 328.5,241.4 328.6,242.3 328.7,240.7 328.8,240.0 328.9,241.3 329.0,240.2 329.1,239.7 329.2,240.6 329.3,241.0 329.4,243.2 329.5,238.4 329.5,239.5 329.6,240.3 329.7,239.3 329.8,240.4 329.9,240.7 330.0,239.3 330.1,242.6 330.2,240.8 330.3,240.2 330.4,242.6 330.5,242.0 330.6,238.9 330.7,237.9 330.8,240.4 330.9,239.7 330.9,242.2 331.0,239.1 331.1,241.0 331.2,240.6 331.3,240.2 331.4,241.6 331.5,241.8 331.6,240.2 331.7,242.1 331.8,241.8 331.9,244.6 332.0,241.8 332.1,239.7 332.2,238.5 332.3,238.8 332.3,240.7 332.4,239.4 332.5,240.9 332.6,241.0 332.7,238.1 332.8,239.9 332.9,239.4 333.0,238.4 333.1,237.0 333.2,238.5 333.3,238.8 333.4,237.7 333.5,238.4 333.6,238.7 333.7,241.4 333.8,238.9 333.8,237.7 333.9,239.2 334.0,234.8 334.1,233.9 334.2,234.4 334.3,238.3 334.4,236.1 334.5,236.3 334.6,236.5 334.7,239.5 334.8,235.7 334.9,234.6 335.0,235.7 335.1,233.3 335.2,237.0 335.2,235.5 335.3,234.6 335.4,238.2 335.5,236.8 335.6,237.9 335.7,235.4 335.8,238.2 335.9,236.2 336.0,237.3 336.1,235.4 336.2,237.3 336.3,237.1 336.4,236.3 336.5,237.9 336.6,237.7 336.6,237.6 336.7,238.2 336.8,236.9 336.9,238.4 337.0,237.5 337.1,238.1 337.2,238.6 337.3,239.5 337.4,241.1 337.5,239.4 337.6,237.9 337.7,239.3 337.8,236.5 337.9,240.6 338.0,240.1 338.0,241.9 338.1,238.1 338.2,242.1 338.3,239.8 338.4,240.5 338.5,237.4 338.6,239.4 338.7,240.4 338.8,241.1 338.9,238.6 339.0,242.0 339.1,243.3 339.2,240.2 339.3,241.8 339.4,242.6 339.4,241.1 339.5,240.6 339.6,243.7 339.7,240.2 339.8,238.9 339.9,242.3 340.0,243.7 340.1,241.3 340.2,241.6 340.3,240.1 340.4,239.9 340.5,241.5 340.6,239.0 340.7,244.0 340.8,242.2 340.8,240.9 340.9,240.2 341.0,240.8 341.1,240.3 341.2,242.9 341.3,244.3 341.4,239.6 341.5,239.3 341.6,241.1 341.7,242.4 341.8,241.9 341.9,240.0 342.0,240.6 342.1,238.4 342.2,237.6 342.3,238.3 342.3,240.6 342.4,238.7 342.5,239.8 342.6,240.5 342.7,240.5 342.8,241.1 342.9,242.3 343.0,240.4 343.1,242.0 343.2,241.2 343.3,240.3 343.4,240.4 343.5,244.4 343.6,242.9 343.7,243.8 343.7,241.8 343.8,243.4 343.9,240.9 344.0,243.4 344.1,241.9 344.2,244.0 344.3,243.8 344.4,243.2 344.5,242.3 344.6,245.9 344.7,242.6 344.8,244.3 344.9,241.9 345.0,244.5 345.1,242.6 345.1,239.8 345.2,239.2 345.3,242.5 345.4,238.5 345.5,241.6 345.6,240.9 345.7,240.4 345.8,240.9 345.9,240.4 346.0,240.4 346.1,239.4 346.2,240.0 346.3,241.1 346.4,242.1 346.5,241.7 346.5,240.4 346.6,239.0 346.7,239.5 346.8,240.2 346.9,239.5 347.0,241.0 347.1,240.4 347.2,240.0 347.3,241.2 347.4,238.7 347.5,238.9 347.6,241.1 347.7,239.9 347.8,240.5 347.9,240.5 347.9,240.4 348.0,238.3 348.1,239.6 348.2,239.4 348.3,238.3 348.4,238.2 348.5,236.9 348.6,240.4 348.7,238.2 348.8,242.4 348.9,239.5 349.0,241.3 349.1,241.6 349.2,239.7 349.3,240.8 349.3,239.4 349.4,242.7 349.5,235.9 349.6,241.8 349.7,238.8 349.8,235.3 349.9,239.9 350.0,235.1 350.1,236.0 350.2,237.7 350.3,238.1 350.4,238.2 350.5,237.5 350.6,236.6 350.7,236.2 350.8,241.4 350.8,237.0 350.9,237.7 351.0,240.2 351.1,236.8 351.2,236.8 351.3,237.0 351.4,238.5 351.5,237.4 351.6,236.7 351.7,239.7 351.8,239.6 351.9,240.4 352.0,237.9 352.1,239.6 352.2,240.9 352.2,241.5 352.3,241.7 352.4,239.2 352.5,238.3 352.6,237.5 352.7,240.7 352.8,240.5 352.9,240.5 353.0,240.3 353.1,241.2 353.2,236.8 353.3,238.4 353.4,240.0 353.5,243.1 353.6,237.2 353.6,237.8 353.7,238.5 353.8,237.6 353.9,239.5 354.0,237.5 354.1,239.3 354.2,237.8 354.3,238.9 354.4,240.7 354.5,240.1 354.6,236.9 354.7,237.3 354.8,239.3 354.9,240.0 355.0,239.7 355.0,238.7 355.1,241.7 355.2,238.3 355.3,241.1 355.4,241.6 355.5,240.1 355.6,237.1 355.7,240.6 355.8,240.3 355.9,241.2 356.0,239.3 356.1,239.4 356.2,240.0 356.3,240.9 356.4,239.8 356.4,239.1 356.5,240.8 356.6,240.3 356.7,240.6 356.8,240.5 356.9,238.1 357.0,241.4 357.1,239.9 357.2,238.4 357.3,240.7 357.4,239.0 357.5,238.8 357.6,242.0 357.7,238.1 357.8,241.1 357.8,239.3 357.9,241.8 358.0,242.4 358.1,240.3 358.2,237.8 358.3,236.7 358.4,236.1 358.5,237.9 358.6,238.1 358.7,238.9 358.8,238.9 358.9,240.7 359.0,240.8 359.1,239.4 359.2,239.8 359.3,241.2 359.3,242.3 359.4,241.0 359.5,235.1 359.6,241.1 359.7,237.7 359.8,238.1 359.9,238.3 360.0,241.1 360.1,236.8 360.2,239.5 360.3,240.8 360.4,240.8 360.5,239.7 360.6,236.2 360.7,241.3 360.7,240.8 360.8,239.8 360.9,239.3 361.0,241.6 361.1,241.7 361.2,240.9 361.3,239.3 361.4,240.9 361.5,240.9 361.6,240.3 361.7,239.9 361.8,238.9 361.9,241.3 362.0,239.9 362.1,241.4 362.1,239.0 362.2,239.1 362.3,240.3 362.4,238.5 362.5,240.4 362.6,238.5 362.7,241.4 362.8,241.8 362.9,243.3 363.0,242.7 363.1,242.0 363.2,244.8 363.3,241.6 363.4,240.3 363.5,240.9 363.5,241.3 363.6,240.4 363.7,242.2 363.8,241.8 363.9,239.7 364.0,241.4 364.1,239.8 364.2,242.3 364.3,240.8 364.4,239.6 364.5,242.0 364.6,239.1 364.7,239.5 364.8,245.5 364.9,237.9 364.9,244.2 365.0,238.0 365.1,243.1 365.2,245.1 365.3,243.8 365.4,240.6 365.5,242.4 365.6,241.4 365.7,238.9 365.8,242.1 365.9,240.0 366.0,239.0 366.1,243.8 366.2,242.9 366.3,240.9 366.3,241.1 366.4,240.2 366.5,243.5 366.6,241.8 366.7,240.0 366.8,239.4 366.9,238.3 367.0,240.6 367.1,241.4 367.2,241.7 367.3,241.4 367.4,242.8 367.5,237.2 367.6,240.3 367.7,240.8 367.8,240.5 367.8,239.1 367.9,239.6 368.0,241.1 368.1,238.6 368.2,239.4 368.3,240.0 368.4,239.5 368.5,237.7 368.6,238.4 368.7,239.7 368.8,238.3 368.9,243.3 369.0,238.5 369.1,240.7 369.2,240.2 369.2,239.8 369.3,236.8 369.4,239.8 369.5,240.0 369.6,239.0 369.7,243.2 369.8,240.3 369.9,239.2 370.0,241.4 370.1,239.4 370.2,241.3 370.3,242.7 370.4,238.7 370.5,239.8 370.6,238.8 370.6,240.1 370.7,241.7 370.8,238.3 370.9,239.2 371.0,239.3 371.1,240.6 371.2,241.9 371.3,238.5 371.4,239.6 371.5,240.6 371.6,242.0 371.7,238.8 371.8,242.0 371.9,241.7 372.0,237.1 372.0,239.3 372.1,239.0 372.2,239.0 372.3,237.2 372.4,239.6 372.5,239.8 372.6,241.9 372.7,240.2 372.8,242.5 372.9,240.8 373.0,239.8 373.1,239.1 373.2,238.3 373.3,241.5 373.4,242.0 373.4,240.0 373.5,241.7 373.6,237.6 373.7,238.2 373.8,241.9 373.9,239.7 374.0,238.2 374.1,241.6 374.2,241.3 374.3,240.8 374.4,238.8 374.5,240.0 374.6,241.2 374.7,240.1 374.8,240.2 374.8,239.6 374.9,239.1 375.0,239.9 375.1,239.3 375.2,240.3 375.3,241.0 375.4,241.2 375.5,243.2 375.6,241.4 375.7,237.9 375.8,240.6 375.9,239.9 376.0,239.4 376.1,241.3 376.2,241.3 376.3,239.9 376.3,242.2 376.4,239.4 376.5,239.5 376.6,240.4 376.7,240.0 376.8,239.7 376.9,240.5 377.0,244.9 377.1,240.6 377.2,243.1 377.3,242.4 377.4,242.1 377.5,241.9 377.6,243.8 377.7,243.9 377.7,240.7 377.8,240.5 377.9,240.1 378.0,242.4 378.1,241.2 378.2,239.2 378.3,241.0 378.4,241.6 378.5,237.5 378.6,243.3 378.7,241.9 378.8,242.3 378.9,241.2 379.0,235.6 379.1,242.2 379.1,240.8 379.2,241.4 379.3,241.4 379.4,239.3 379.5,241.3 379.6,239.2 379.7,238.8 379.8,241.8 379.9,239.1 380.0,242.9 380.1,240.8 380.2,239.7 380.3,242.9 380.4,241.8 380.5,240.8 380.5,241.0 380.6,241.3 380.7,238.7 380.8,241.7 380.9,239.5 381.0,238.2 381.1,242.2 381.2,242.2 381.3,243.2 381.4,240.5 381.5,239.4 381.6,244.1 381.7,242.9 381.8,242.3 381.9,237.7 381.9,241.7 382.0,240.5 382.1,242.8 382.2,239.8 382.3,243.1 382.4,241.6 382.5,242.9 382.6,241.1 382.7,241.1 382.8,240.4 382.9,240.3 383.0,238.0 383.1,241.8 383.2,238.8 383.3,240.6 383.3,241.5 383.4,240.6 383.5,240.9 383.6,239.9 383.7,239.9 383.8,240.3 383.9,240.5 384.0,243.2 384.1,239.7 384.2,239.6 384.3,240.8 384.4,241.3 384.5,243.4 384.6,241.2 384.7,240.1 384.8,243.6 384.8,242.5 384.9,243.0 385.0,240.2 385.1,242.8 385.2,245.0 385.3,242.1 385.4,240.5 385.5,242.7 385.6,243.3 385.7,242.5 385.8,240.9 385.9,243.9 386.0,243.9 386.1,242.9 386.2,244.6 386.2,246.2 386.3,243.6 386.4,244.4 386.5,243.3 386.6,243.3 386.7,242.4 386.8,244.7 386.9,243.0 387.0,244.8 387.1,243.0 387.2,244.5 387.3,241.1 387.4,245.2 387.5,247.2 387.6,243.6 387.6,244.5 387.7,245.2 387.8,243.7 387.9,241.3 388.0,244.3 388.1,244.7 388.2,241.3 388.3,242.0 388.4,243.6 388.5,244.8 388.6,243.1 388.7,245.0 388.8,244.8 388.9,245.2 389.0,242.7 389.0,241.2 389.1,243.4 389.2,240.7 389.3,246.5 389.4,243.3 389.5,245.5 389.6,241.8 389.7,241.4 389.8,246.0 389.9,244.5 390.0,243.1 390.1,245.2 390.2,244.1 390.3,244.3 390.4,242.5 390.4,243.7 390.5,244.3 390.6,243.6 390.7,242.5 390.8,242.0 390.9,242.0 391.0,240.1 391.1,242.3 391.2,241.5 391.3,241.6 391.4,243.2 391.5,240.8 391.6,241.7 391.7,241.3 391.8,243.8 391.8,242.4 391.9,241.3 392.0,240.5 392.1,243.1 392.2,242.4 392.3,244.0 392.4,244.3 392.5,240.2 392.6,241.6 392.7,240.6 392.8,239.7 392.9,241.3 393.0,240.7 393.1,242.4 393.2,241.8 393.3,240.4 393.3,238.8 393.4,239.6 393.5,242.2 393.6,242.0 393.7,239.5 393.8,239.5 393.9,239.3 394.0,239.5 394.1,237.8 394.2,239.2 394.3,237.3 394.4,238.5 394.5,239.1 394.6,241.1 394.7,239.0 394.7,238.2 394.8,239.6 394.9,241.3 395.0,242.5 395.1,240.3 395.2,237.5 395.3,242.1 395.4,241.0 395.5,239.9 395.6,238.5 395.7,241.5 395.8,239.4 395.9,238.5 396.0,240.4 396.1,238.2 396.1,240.0 396.2,238.2 396.3,237.7 396.4,238.6 396.5,240.5 396.6,237.4 396.7,237.3 396.8,238.3 396.9,237.5 397.0,239.0 397.1,239.5 397.2,238.3 397.3,237.5 397.4,237.1 397.5,239.2 397.5,237.6 397.6,237.6 397.7,238.4 397.8,241.0 397.9,240.4 398.0,236.3 398.1,240.2 398.2,241.0 398.3,240.3 398.4,238.8 398.5,236.4 398.6,237.6 398.7,239.2 398.8,238.8 398.9,237.6 398.9,238.6 399.0,241.2 399.1,236.6 399.2,237.1 399.3,239.9 399.4,238.9 399.5,238.3 399.6,238.4 399.7,239.2 399.8,238.7 399.9,236.1 400.0,239.6 400.1,238.1 400.2,239.0 400.3,241.2 400.3,238.3 400.4,238.6 400.5,237.3 400.6,236.8 400.7,237.6 400.8,239.1 400.9,239.1 401.0,238.2 401.1,240.6 401.2,240.9 401.3,238.1 401.4,241.0 401.5,240.0 401.6,236.9 401.7,238.1 401.8,237.3 401.8,239.1 401.9,237.3 402.0,240.6 402.1,240.4 402.2,239.3 402.3,239.9 402.4,236.7 402.5,239.1 402.6,240.8 402.7,237.7 402.8,238.1 402.9,237.4 403.0,241.2 403.1,240.8 403.2,242.8 403.2,239.2 403.3,240.1 403.4,240.8 403.5,238.4 403.6,241.7 403.7,241.3 403.8,241.8 403.9,242.3 404.0,241.0 404.1,241.5 404.2,241.6 404.3,242.7 404.4,242.6 404.5,241.9 404.6,241.3 404.6,242.6 404.7,242.2 404.8,241.8 404.9,242.5 405.0,243.7 405.1,241.9 405.2,239.5 405.3,241.1 405.4,241.6 405.5,242.7 405.6,242.2 405.7,239.9 405.8,243.2 405.9,238.9 406.0,241.3 406.0,241.1 406.1,241.7 406.2,239.3 406.3,239.1 406.4,241.6 406.5,237.9 406.6,240.7 406.7,243.4 406.8,240.2 406.9,240.3 407.0,240.4 407.1,239.5 407.2,239.4 407.3,243.3 407.4,242.0 407.4,241.7 407.5,241.9 407.6,244.6 407.7,241.6 407.8,241.8 407.9,239.3 408.0,243.5 408.1,242.9 408.2,241.8 408.3,242.6 408.4,241.2 408.5,240.9 408.6,244.1 408.7,242.6 408.8,241.6 408.8,243.7 408.9,238.8 409.0,241.6 409.1,242.1 409.2,244.8 409.3,243.5 409.4,245.4 409.5,241.3 409.6,243.2 409.7,242.1 409.8,241.4 409.9,241.0 410.0,242.0 410.1,240.3 410.2,243.3 410.3,244.3 410.3,243.6 410.4,240.0 410.5,238.6 410.6,241.9 410.7,241.7 410.8,240.4 410.9,243.0 411.0,242.2 411.1,243.7 411.2,241.4 411.3,245.9 411.4,243.9 411.5,244.5 411.6,242.1 411.7,241.3 411.7,242.3 411.8,239.6 411.9,242.7 412.0,243.9 412.1,243.2 412.2,241.7 412.3,241.9 412.4,240.0 412.5,242.7 412.6,244.3 412.7,244.8 412.8,242.5 412.9,248.2 413.0,243.4 413.1,243.0 413.1,244.7 413.2,243.3 413.3,241.7 413.4,241.2 413.5,241.2 413.6,241.9 413.7,243.3 413.8,244.7 413.9,245.9 414.0,240.2 414.1,240.8 414.2,243.6 414.3,239.7 414.4,242.1 414.5,242.2 414.5,243.4 414.6,238.3 414.7,242.8 414.8,242.4 414.9,239.5 415.0,239.1 415.1,239.3 415.2,241.4 415.3,239.9 415.4,240.9 415.5,240.6 415.6,237.2 415.7,239.4 415.8,238.7 415.9,241.6 415.9,240.7 416.0,239.4 416.1,238.1 416.2,240.2 416.3,237.6 416.4,236.5 416.5,243.2 416.6,240.3 416.7,239.2 416.8,240.8 416.9,237.6 417.0,240.0 417.1,239.9 417.2,242.7 417.3,238.9 417.3,240.9 417.4,239.8 417.5,240.7 417.6,241.5 417.7,240.5 417.8,242.1 417.9,240.9 418.0,238.9 418.1,239.1 418.2,241.7 418.3,239.0 418.4,240.6 418.5,241.2 418.6,239.0 418.7,238.5 418.8,240.2 418.8,237.7 418.9,239.0 419.0,235.5 419.1,240.8 419.2,238.8 419.3,238.7 419.4,239.3 419.5,239.9 419.6,236.0 419.7,237.2 419.8,239.3 419.9,238.0 420.0,237.2 420.1,236.1 420.2,237.5 420.2,233.5 420.3,235.9 420.4,233.5 420.5,234.8 420.6,235.8 420.7,235.2 420.8,233.8 420.9,233.9 421.0,234.1 421.1,233.3 421.2,232.8 421.3,236.4 421.4,237.4 421.5,236.3 421.6,233.5 421.6,235.9 421.7,236.6 421.8,235.1 421.9,234.0 422.0,237.1 422.1,237.2 422.2,236.2 422.3,236.4 422.4,237.4 422.5,233.0 422.6,234.6 422.7,236.4 422.8,235.7 422.9,238.6 423.0,235.8 423.0,238.0 423.1,239.0 423.2,240.1 423.3,236.4 423.4,237.8 423.5,238.8 423.6,236.1 423.7,238.3 423.8,237.5 423.9,238.6 424.0,237.2 424.1,239.5 424.2,238.7 424.3,238.2 424.4,239.5 424.4,239.3 424.5,237.2 424.6,239.2 424.7,237.1 424.8,238.3 424.9,238.8 425.0,241.2 425.1,236.3 425.2,236.4 425.3,238.1 425.4,238.2 425.5,238.3 425.6,238.9 425.7,238.3 425.8,237.0 425.8,239.9 425.9,237.9 426.0,236.9 426.1,240.4 426.2,238.6 426.3,240.4 426.4,240.5 426.5,237.4 426.6,240.1 426.7,234.2 426.8,238.5 426.9,239.4 427.0,238.7 427.1,238.3 427.2,237.8 427.2,237.6 427.3,237.8 427.4,236.9 427.5,236.7 427.6,238.4 427.7,238.0 427.8,239.5 427.9,239.2 428.0,239.4 428.1,236.9 428.2,239.9 428.3,238.9 428.4,239.2 428.5,238.0 428.6,239.8 428.7,239.2 428.7,237.1 428.8,238.9 428.9,240.3 429.0,237.7 429.1,239.2 429.2,240.0 429.3,238.0 429.4,236.6 429.5,240.0 429.6,240.9 429.7,242.7 429.8,236.2 429.9,240.2 430.0,239.8 430.1,241.1 430.1,240.0 430.2,241.7 430.3,237.8 430.4,239.1 430.5,241.1 430.6,241.8 430.7,239.4 430.8,241.6 430.9,238.5 431.0,240.2 431.1,240.8 431.2,242.1 431.3,240.1 431.4,242.4 431.5,239.0 431.5,244.1 431.6,242.1 431.7,238.0 431.8,242.5 431.9,240.8 432.0,240.7 432.1,241.8 432.2,242.2 432.3,240.4 432.4,240.3 432.5,242.6 432.6,239.2 432.7,239.6 432.8,243.2 432.9,241.1 432.9,241.1 433.0,241.7 433.1,243.3 433.2,244.3 433.3,241.6 433.4,244.6 433.5,243.2 433.6,245.1 433.7,243.6 433.8,242.2 433.9,244.2 434.0,240.6 434.1,240.3 434.2,240.9 434.3,240.7 434.3,239.3 434.4,240.4 434.5,244.0 434.6,241.8 434.7,242.8 434.8,241.5 434.9,244.1 435.0,241.7 435.1,242.2 435.2,240.8 435.3,243.2 435.4,242.2 435.5,244.2 435.6,241.2 435.7,241.1 435.7,243.3 435.8,241.3 435.9,243.2 436.0,240.3 436.1,241.9 436.2,241.6 436.3,238.5 436.4,240.4 436.5,239.2 436.6,240.0 436.7,241.8 436.8,239.6 436.9,241.7 437.0,241.9 437.1,242.5 437.2,243.7 437.2,241.3 437.3,242.3 437.4,240.9 437.5,241.7 437.6,240.5 437.7,242.3 437.8,241.3 437.9,240.3 438.0,240.0 438.1,241.9 438.2,243.4 438.3,240.0 438.4,240.4 438.5,243.5 438.6,240.4 438.6,241.3 438.7,243.5 438.8,242.0 438.9,243.8 439.0,242.4 439.1,242.0 439.2,241.5 439.3,239.9 439.4,243.8 439.5,246.0 439.6,240.5 439.7,242.1 439.8,240.2 439.9,240.0 440.0,238.8 440.0,244.3 440.1,239.2 440.2,241.7 440.3,242.1 440.4,239.0 440.5,239.0 440.6,243.2 440.7,241.9 440.8,238.9 440.9,243.0 441.0,240.6 441.1,239.9 441.2,240.3 441.3,240.8 441.4,238.9 441.4,240.4 441.5,241.6 441.6,239.1 441.7,242.2 441.8,240.6 441.9,238.9 442.0,241.4 442.1,237.5 442.2,239.4 442.3,239.8 442.4,241.0 442.5,239.3 442.6,239.8 442.7,238.4 442.8,239.5 442.8,238.5 442.9,240.8 443.0,240.8 443.1,239.7 443.2,241.4 443.3,238.6 443.4,238.2 443.5,241.2 443.6,238.9 443.7,239.1 443.8,238.9 443.9,235.4 444.0,237.8 444.1,237.3 444.2,238.1 444.2,237.6 444.3,237.1 444.4,236.3 444.5,236.6 444.6,234.7 444.7,236.6 444.8,236.3 444.9,233.2 445.0,235.6 445.1,235.0 445.2,235.2 445.3,236.7 445.4,234.4 445.5,235.6 445.6,236.0 445.7,236.1 445.7,235.5 445.8,234.9 445.9,239.3 446.0,234.5 446.1,240.0 446.2,239.2 446.3,236.3 446.4,237.6 446.5,236.3 446.6,239.2 446.7,237.1 446.8,236.8 446.9,239.1 447.0,238.9 447.1,237.9 447.1,237.3 447.2,242.0 447.3,238.9 447.4,237.9 447.5,236.2 447.6,239.8 447.7,238.0 447.8,240.2 447.9,239.7 448.0,239.3 448.1,236.1 448.2,237.7 448.3,237.2 448.4,238.7 448.5,236.9 448.5,238.6 448.6,237.5 448.7,240.5 448.8,239.6 448.9,237.9 449.0,235.9 449.1,236.4 449.2,240.7 449.3,239.6 449.4,239.6 449.5,235.6 449.6,240.8 449.7,239.4 449.8,238.2 449.9,238.7 449.9,241.9 450.0,237.2 450.1,243.2 450.2,239.8 450.3,241.0 450.4,242.6 450.5,241.1 450.6,241.1 450.7,241.9 450.8,240.9 450.9,240.5 451.0,240.2 451.1,244.0 451.2,241.5 451.3,240.2 451.3,238.7 451.4,238.5 451.5,243.2 451.6,241.4 451.7,240.5 451.8,239.5 451.9,238.1 452.0,241.4 452.1,242.7 452.2,240.7 452.3,240.5 452.4,241.7 452.5,242.0 452.6,239.7 452.7,242.5 452.7,241.1 452.8,239.5 452.9,239.8 453.0,240.2 453.1,241.9 453.2,245.7 453.3,241.4 453.4,238.9 453.5,238.8 453.6,237.9 453.7,239.6 453.8,238.3 453.9,240.2 454.0,239.4 454.1,236.5 454.2,240.6 454.2,240.2 454.3,237.2 454.4,237.5 454.5,241.3 454.6,236.9 454.7,240.1 454.8,240.0 454.9,237.2 455.0,237.9 455.1,237.8 455.2,236.8 455.3,237.0 455.4,242.5 455.5,238.3 455.6,238.1 455.6,239.4 455.7,240.0 455.8,239.1 455.9,239.0 456.0,239.5 456.1,239.8 456.2,241.0 456.3,239.3 456.4,240.3 456.5,238.3 456.6,240.6 456.7,240.2 456.8,241.5 456.9,240.2 457.0,238.7 457.0,241.5 457.1,238.0 457.2,239.7 457.3,240.5 457.4,239.3 457.5,239.9 457.6,243.7 457.7,239.3 457.8,239.6 457.9,240.0 458.0,244.5 458.1,245.4 458.2,242.5 458.3,238.3 458.4,237.7 458.4,238.7 458.5,239.1 458.6,242.5 458.7,239.0 458.8,240.3 458.9,239.3 459.0,241.0 459.1,238.3 459.2,239.6 459.3,238.7 459.4,239.2 459.5,240.3 459.6,241.6 459.7,241.3 459.8,240.4 459.8,239.1 459.9,236.2 460.0,238.4 460.1,239.2 460.2,237.5 460.3,240.7 460.4,238.6 460.5,238.6 460.6,242.5 460.7,239.0 460.8,240.3 460.9,239.9 461.0,240.3 461.1,239.9 461.2,241.4 461.2,238.6 461.3,238.1 461.4,241.0 461.5,239.4 461.6,240.1 461.7,237.8 461.8,241.1 461.9,239.8 462.0,240.3 462.1,242.6 462.2,238.5 462.3,239.7 462.4,242.4 462.5,239.2 462.6,239.5 462.7,243.5 462.7,241.7 462.8,241.8 462.9,242.0 463.0,241.8 463.1,242.7 463.2,244.9 463.3,241.9 463.4,244.0 463.5,242.7 463.6,241.2 463.7,239.5 463.8,240.5 463.9,244.1 464.0,243.6 464.1,241.4 464.1,242.7 464.2,242.2 464.3,245.0 464.4,243.0 464.5,243.1 464.6,242.1 464.7,241.3 464.8,244.9 464.9,241.5 465.0,243.9 465.1,243.0 465.2,240.8 465.3,242.6 465.4,242.1 465.5,240.1 465.5,238.7 465.6,241.2 465.7,243.9 465.8,242.0 465.9,243.2 466.0,242.6 466.1,241.3 466.2,241.9 466.3,241.1 466.4,241.2 466.5,241.2 466.6,244.0 466.7,241.1 466.8,240.9 466.9,238.3 466.9,239.7 467.0,240.5 467.1,241.7 467.2,239.9 467.3,242.9 467.4,240.0 467.5,242.1 467.6,241.9 467.7,239.6 467.8,241.5 467.9,241.9 468.0,243.6 468.1,239.6 468.2,245.9 468.3,241.3 468.3,241.8 468.4,242.0 468.5,243.9 468.6,244.8 468.7,240.3 468.8,242.1 468.9,241.3 469.0,245.5 469.1,241.3 469.2,240.4 469.3,241.0 469.4,245.2 469.5,244.5 469.6,247.0 469.7,242.7 469.7,241.5 469.8,242.6 469.9,244.2 470.0,244.3 470.1,241.6 470.2,244.3 470.3,239.9 470.4,242.2 470.5,240.8 470.6,242.6 470.7,243.3 470.8,242.1 470.9,243.6 471.0,242.6 471.1,242.5 471.2,243.6 471.2,241.3 471.3,243.6 471.4,245.1 471.5,242.6 471.6,242.3 471.7,242.4 471.8,242.4 471.9,241.7 472.0,241.5 472.1,241.5 472.2,241.8 472.3,243.9 472.4,240.8 472.5,239.7 472.6,242.1 472.6,242.3 472.7,239.5 472.8,241.7 472.9,239.9 473.0,239.2 473.1,237.7 473.2,234.9 473.3,239.6 473.4,244.9 473.5,239.8 473.6,241.4 473.7,239.2 473.8,239.4 473.9,238.8 474.0,240.4 474.0,238.6 474.1,240.5 474.2,239.0 474.3,241.8 474.4,241.5 474.5,240.0 474.6,238.7 474.7,241.1 474.8,239.8 474.9,238.7 475.0,238.6 475.1,241.6 475.2,236.7 475.3,240.6 475.4,239.7 475.4,238.4 475.5,241.8 475.6,243.7 475.7,238.6 475.8,242.3 475.9,240.0 476.0,241.8 476.1,237.6 476.2,239.8 476.3,237.4 476.4,239.2 476.5,240.6 476.6,238.3 476.7,241.5 476.8,241.2 476.8,239.0 476.9,239.1 477.0,242.1 477.1,240.9 477.2,240.9 477.3,242.9 477.4,239.1 477.5,242.7 477.6,240.7 477.7,240.5 477.8,240.3 477.9,245.1 478.0,240.2 478.1,241.3 478.2,238.8 478.2,242.5 478.3,238.8 478.4,239.3 478.5,241.3 478.6,239.4 478.7,238.8 478.8,242.2 478.9,242.8 479.0,240.4 479.1,238.9 479.2,239.4 479.3,240.1 479.4,240.9 479.5,240.6 479.6,238.8 479.7,238.9 479.7,237.4 479.8,239.0 479.9,239.8 480.0,240.7 480.1,240.3 480.2,238.1 480.3,241.3 480.4,241.2 480.5,240.2 480.6,240.3 480.7,238.7 480.8,240.9 480.9,237.5 481.0,241.1 481.1,241.1 481.1,241.1 481.2,239.5 481.3,240.1 481.4,241.0 481.5,243.0 481.6,243.5 481.7,240.9 481.8,240.9 481.9,241.2 482.0,240.6 482.1,241.8 482.2,240.6 482.3,239.1 482.4,240.1 482.5,240.3 482.5,240.1 482.6,238.5 482.7,240.7 482.8,240.2 482.9,240.4 483.0,242.1 483.1,237.8 483.2,239.0 483.3,241.2 483.4,237.1 483.5,240.7 483.6,239.0 483.7,241.2 483.8,238.0 483.9,239.2 483.9,238.8 484.0,239.0 484.1,236.5 484.2,244.0 484.3,241.5 484.4,240.9 484.5,239.9 484.6,240.7 484.7,240.6 484.8,239.7 484.9,239.5 485.0,242.0 485.1,239.3 485.2,241.5 485.3,241.5 485.3,238.9 485.4,239.7 485.5,244.9 485.6,240.7 485.7,240.4 485.8,241.6 485.9,243.0 486.0,239.6 486.1,242.8 486.2,241.9 486.3,243.1 486.4,242.2 486.5,244.3 486.6,239.9 486.7,242.5 486.7,241.2 486.8,241.9 486.9,239.1 487.0,238.4 487.1,240.5 487.2,241.0 487.3,240.8 487.4,242.7 487.5,242.8 487.6,242.1 487.7,240.9 487.8,242.3 487.9,241.5 488.0,240.7 488.1,239.7 488.2,240.5 488.2,241.5 488.3,240.8 488.4,242.7 488.5,239.3 488.6,240.1 488.7,240.4 488.8,243.8 488.9,242.0 489.0,241.7 489.1,242.9 489.2,241.5 489.3,244.6 489.4,241.6 489.5,240.6 489.6,243.3 489.6,243.7 489.7,244.5 489.8,241.6 489.9,242.8 490.0,242.7 490.1,243.2 490.2,241.5 490.3,242.6 490.4,243.2 490.5,243.4 490.6,242.6 490.7,243.6 490.8,243.9 490.9,243.5 491.0,243.5 491.0,244.8 491.1,240.2 491.2,240.4 491.3,244.7 491.4,243.2 491.5,243.7 491.6,240.2 491.7,243.2 491.8,242.1 491.9,244.0 492.0,243.0 492.1,241.3 492.2,239.5 492.3,242.4 492.4,240.1 492.4,240.1 492.5,240.2 492.6,240.3 492.7,243.3 492.8,240.7 492.9,241.7 493.0,245.0 493.1,241.3 493.2,242.0 493.3,243.4 493.4,241.1 493.5,243.4 493.6,242.9 493.7,243.4 493.8,240.3 493.8,243.1 493.9,239.4 494.0,241.4 494.1,240.2 494.2,242.2 494.3,242.2 494.4,242.7 494.5,241.9 494.6,242.8 494.7,242.3 494.8,245.4 494.9,242.5 495.0,241.6 495.1,243.0 495.2,242.9 495.2,243.7 495.3,245.2 495.4,245.7 495.5,244.7 495.6,244.3 495.7,244.9 495.8,244.1 495.9,245.5 496.0,244.7 496.1,246.4 496.2,246.8 496.3,242.6 496.4,244.5 496.5,245.1 496.6,246.5 496.7,244.5 496.7,241.8 496.8,245.8 496.9,245.2 497.0,244.2 497.1,246.5 497.2,248.1 497.3,244.3 497.4,245.5 497.5,243.9 497.6,243.6 497.7,244.9 497.8,247.4 497.9,243.1 498.0,244.2 498.1,244.5 498.1,244.4 498.2,244.7 498.3,244.2 498.4,246.4 498.5,244.5 498.6,246.3 498.7,246.0 498.8,245.0 498.9,245.2 499.0,244.4 499.1,244.6 499.2,245.3 499.3,243.4 499.4,243.5 499.5,244.6 499.5,245.2 499.6,242.0 499.7,246.5 499.8,243.5 499.9,245.7 500.0,243.4 500.1,245.1 500.2,242.1 500.3,243.8 500.4,245.1 500.5,245.8 500.6,243.4 500.7,244.1 500.8,246.7 500.9,245.9 500.9,247.0 501.0,241.8 501.1,241.9 501.2,244.3 501.3,242.0 501.4,244.1 501.5,244.1 501.6,244.0 501.7,242.3 501.8,243.9 501.9,242.3 502.0,242.8 502.1,245.5 502.2,244.8 502.3,241.2 502.3,242.4 502.4,242.4 502.5,241.5 502.6,241.5 502.7,240.8 502.8,238.6 502.9,240.5 503.0,238.9 503.1,237.4 503.2,238.3 503.3,241.2 503.4,235.3 503.5,238.5 503.6,237.0 503.7,235.2 503.7,232.9 503.8,234.9 503.9,235.6 504.0,236.7 504.1,237.0 504.2,237.5 504.3,234.7 504.4,236.2 504.5,235.8 504.6,238.2 504.7,236.2 504.8,239.0 504.9,235.9 505.0,234.0 505.1,238.4 505.2,239.3 505.2,235.5 505.3,238.8 505.4,236.5 505.5,240.3 505.6,238.0 505.7,237.7 505.8,238.9 505.9,241.0 506.0,243.7 506.1,240.1 506.2,240.6 506.3,239.1 506.4,236.9 506.5,242.1 506.6,240.6 506.6,238.8 506.7,236.8 506.8,239.7 506.9,237.8 507.0,241.3 507.1,240.0 507.2,240.0 507.3,239.2 507.4,240.1 507.5,240.5 507.6,239.0 507.7,240.3 507.8,240.6 507.9,240.2 508.0,240.6 508.0,239.0 508.1,239.4 508.2,242.0 508.3,240.8 508.4,243.5 508.5,242.3 508.6,241.2 508.7,239.2 508.8,240.5 508.9,239.5 509.0,242.2 509.1,239.0 509.2,240.1 509.3,241.9 509.4,241.1 509.4,240.8 509.5,242.9 509.6,242.9 509.7,242.1 509.8,240.2 509.9,240.6 510.0,238.4 510.1,239.2 510.2,241.2 510.3,239.3 510.4,241.6 510.5,241.7 510.6,240.6 510.7,237.5 510.8,241.1 510.8,238.2 510.9,241.3 511.0,239.2 511.1,239.2 511.2,240.2 511.3,240.4 511.4,242.0 511.5,244.0 511.6,241.8 511.7,242.4 511.8,239.9 511.9,242.2 512.0,242.2 512.1,241.4 512.2,243.8 512.2,242.7 512.3,241.5 512.4,243.3 512.5,244.9 512.6,243.1 512.7,241.4 512.8,243.0 512.9,243.3 513.0,241.6 513.1,245.4 513.2,242.9 513.3,243.2 513.4,244.4 513.5,243.4 513.6,241.4 513.7,241.2 513.7,242.5 513.8,241.5 513.9,242.3 514.0,244.7 514.1,241.3 514.2,242.6 514.3,242.5 514.4,242.6 514.5,240.7 514.6,243.3 514.7,241.4 514.8,242.3 514.9,243.0 515.0,244.5 515.1,241.2 515.1,242.8 515.2,242.7 515.3,242.3 515.4,243.2 515.5,244.7 515.6,239.5 515.7,240.9 515.8,240.5 515.9,241.3 516.0,241.7 516.1,240.9 516.2,240.4 516.3,239.6 516.4,237.9 516.5,241.3 516.5,242.1 516.6,240.8 516.7,239.4 516.8,239.3 516.9,242.4 517.0,238.6 517.1,237.4 517.2,239.9 517.3,238.3 517.4,238.6 517.5,239.7 517.6,236.9 517.7,238.6 517.8,240.0 517.9,236.4 517.9,241.0 518.0,234.6 518.1,240.9 518.2,238.3 518.3,240.2 518.4,236.6 518.5,235.2 518.6,239.4 518.7,236.7 518.8,239.5 518.9,239.9 519.0,236.4 519.1,234.2 519.2,236.2 519.3,236.1 519.3,234.4 519.4,234.8 519.5,233.9 519.6,233.6 519.7,234.5 519.8,234.3 519.9,233.5 520.0,234.3 520.1,234.6 520.2,235.1 520.3,232.4 520.4,234.6 520.5,232.3 520.6,232.1 520.7,233.9 520.7,233.8 520.8,231.6 520.9,233.4 521.0,230.8 521.1,235.2 521.2,236.1 521.3,233.2 521.4,233.4 521.5,233.9 521.6,235.8 521.7,234.0 521.8,234.6 521.9,233.3 522.0,234.1 522.1,235.5 522.2,235.0 522.2,233.4 522.3,235.1 522.4,236.3 522.5,235.9 522.6,233.0 522.7,232.5 522.8,235.1 522.9,234.8 523.0,235.1 523.1,235.6 523.2,239.4 523.3,233.1 523.4,237.2 523.5,236.4 523.6,236.3 523.6,239.0 523.7,240.0 523.8,237.2 523.9,237.7 524.0,237.3 524.1,236.0 524.2,239.8 524.3,239.2 524.4,237.8 524.5,237.2 524.6,237.3 524.7,240.8 524.8,240.0 524.9,240.4 525.0,241.1 525.0,239.2 525.1,241.7 525.2,239.0 525.3,241.4 525.4,237.1 525.5,240.8 525.6,238.5 525.7,238.1" fill="none" stroke="#1F7DD3" stroke-width="1.4" stroke-linejoin="round"/>
<rect x="320.3" y="202.5" width="205.4" height="100.7" fill="none" stroke="#a6a6a6" stroke-width="1"/>
<path d="M371.65,303.2 v-2.3 M371.65,202.5 v2.3 M423,303.2 v-2.3 M423,202.5 v2.3 M474.35,303.2 v-2.3 M474.35,202.5 v2.3 M320.3,206.6 h2.3 M525.7,206.6 h-2.3 M320.3,239.6 h2.3 M525.7,239.6 h-2.3 M320.3,272.6 h2.3 M525.7,272.6 h-2.3 " stroke="#a6a6a6" stroke-width="0.9" fill="none"/>
<text class="tk" transform="translate(320.4,320.3) scale(0.94,1)" text-anchor="middle">0</text>
<text class="tk" transform="translate(371.75,320.3) scale(0.94,1)" text-anchor="middle">5</text>
<text class="tk" transform="translate(423.1,320.3) scale(0.94,1)" text-anchor="middle">10</text>
<text class="tk" transform="translate(474.45,320.3) scale(0.94,1)" text-anchor="middle">15</text>
<text class="tk" transform="translate(525.8,320.3) scale(0.94,1)" text-anchor="middle">20</text>
<text class="tk" transform="translate(314.7,211.2) scale(0.94,1)" text-anchor="end">5</text>
<text class="tk" transform="translate(314.7,244.2) scale(0.94,1)" text-anchor="end">0</text>
<text class="tk" transform="translate(314.7,277.2) scale(0.94,1)" text-anchor="end">−<tspan dx="1.3">5</tspan></text>
<text class="tt" x="392.95" y="196.3" textLength="51.9" lengthAdjust="spacingAndGlyphs">Hairdryer</text>
<text class="lb" x="395.45" y="338" textLength="52.7" lengthAdjust="spacingAndGlyphs">time [ms]</text>
<text class="yl" transform="translate(293,254.5) rotate(-90)" x="-10.7" textLength="21.4" lengthAdjust="spacingAndGlyphs">u[V]</text>
<text class="cp" x="407.6" y="354.5" text-anchor="middle">(d)</text>
</g>
<g>
<clipPath id="ce"><rect x="47.4" y="378.4" width="213.9" height="105.2"/></clipPath>
<path clip-path="url(#ce)" d="M47.4,434.1 47.5,435.8 47.6,431.7 47.7,429.1 47.8,426.3 47.9,430.3 48.0,432.9 48.1,433.8 48.2,432.2 48.3,424.2 48.4,429.6 48.5,435.6 48.6,434.6 48.7,424.2 48.8,429.9 48.9,437.8 49.0,431.0 49.1,435.5 49.2,433.3 49.2,432.7 49.3,432.7 49.4,428.4 49.5,431.0 49.6,433.2 49.7,429.0 49.8,427.2 49.9,437.7 50.0,431.8 50.1,435.0 50.2,431.4 50.3,436.3 50.4,430.6 50.5,430.9 50.6,432.1 50.7,436.8 50.8,433.6 50.9,440.0 51.0,444.0 51.1,428.5 51.2,441.6 51.3,419.2 51.4,428.7 51.5,450.4 51.6,397.0 51.7,441.5 51.8,430.4 51.9,430.3 52.0,459.0 52.1,437.1 52.2,433.2 52.3,421.2 52.4,442.3 52.5,423.4 52.6,441.5 52.7,434.0 52.7,439.0 52.8,416.4 52.9,425.1 53.0,406.8 53.1,424.4 53.2,422.4 53.3,422.4 53.4,397.0 53.5,453.9 53.6,417.4 53.7,434.6 53.8,428.8 53.9,447.3 54.0,424.7 54.1,434.3 54.2,432.2 54.3,428.5 54.4,429.8 54.5,437.2 54.6,413.4 54.7,438.6 54.8,437.1 54.9,436.6 55.0,426.9 55.1,432.1 55.2,434.4 55.3,435.1 55.4,429.1 55.5,434.7 55.6,435.6 55.7,439.6 55.8,435.3 55.9,431.9 56.0,430.7 56.1,417.2 56.2,430.9 56.3,425.6 56.3,432.7 56.4,435.5 56.5,437.7 56.6,431.5 56.7,432.0 56.8,432.9 56.9,432.5 57.0,432.5 57.1,433.5 57.2,432.7 57.3,430.1 57.4,432.2 57.5,432.5 57.6,423.4 57.7,428.9 57.8,428.8 57.9,424.1 58.0,429.4 58.1,434.3 58.2,427.2 58.3,430.6 58.4,433.1 58.5,433.1 58.6,434.5 58.7,430.5 58.8,426.6 58.9,431.9 59.0,429.1 59.1,423.5 59.2,435.4 59.3,429.7 59.4,432.4 59.5,431.5 59.6,435.7 59.7,430.8 59.8,428.1 59.9,440.5 59.9,439.5 60.0,425.0 60.1,428.2 60.2,423.1 60.3,426.7 60.4,426.4 60.5,414.7 60.6,425.2 60.7,429.6 60.8,424.5 60.9,438.7 61.0,433.7 61.1,423.8 61.2,425.2 61.3,417.2 61.4,430.6 61.5,443.5 61.6,413.7 61.7,421.2 61.8,439.9 61.9,418.7 62.0,435.8 62.1,446.5 62.2,434.4 62.3,435.1 62.4,416.8 62.5,437.6 62.6,437.0 62.7,433.1 62.8,434.0 62.9,438.7 63.0,428.8 63.1,421.3 63.2,425.3 63.3,438.8 63.4,440.7 63.4,429.7 63.5,436.9 63.6,436.2 63.7,445.3 63.8,413.7 63.9,422.7 64.0,455.0 64.1,428.8 64.2,419.0 64.3,451.5 64.4,435.5 64.5,434.1 64.6,425.1 64.7,431.8 64.8,437.9 64.9,437.8 65.0,403.0 65.1,411.9 65.2,435.3 65.3,430.0 65.4,407.3 65.5,439.2 65.6,435.7 65.7,430.4 65.8,435.2 65.9,421.8 66.0,427.3 66.1,438.3 66.2,426.3 66.3,428.5 66.4,414.4 66.5,430.8 66.6,442.3 66.7,439.8 66.8,418.1 66.9,435.4 67.0,449.0 67.0,435.7 67.1,430.7 67.2,420.4 67.3,439.5 67.4,424.9 67.5,423.8 67.6,436.0 67.7,432.3 67.8,415.4 67.9,415.8 68.0,423.3 68.1,427.8 68.2,420.8 68.3,431.9 68.4,431.5 68.5,438.2 68.6,430.7 68.7,431.4 68.8,406.7 68.9,432.4 69.0,396.0 69.1,459.0 69.2,438.0 69.3,420.6 69.4,449.5 69.5,429.9 69.6,423.3 69.7,451.4 69.8,440.7 69.9,422.6 70.0,432.9 70.1,440.2 70.2,416.0 70.3,445.5 70.4,424.4 70.5,438.6 70.6,433.1 70.6,436.4 70.7,431.2 70.8,429.6 70.9,427.7 71.0,448.6 71.1,432.0 71.2,437.6 71.3,436.8 71.4,425.1 71.5,429.8 71.6,438.5 71.7,444.7 71.8,429.7 71.9,433.6 72.0,438.1 72.1,433.5 72.2,424.3 72.3,428.2 72.4,424.6 72.5,422.7 72.6,419.2 72.7,423.8 72.8,433.6 72.9,432.3 73.0,459.0 73.1,433.4 73.2,435.4 73.3,460.4 73.4,437.6 73.5,445.9 73.6,420.4 73.7,430.5 73.8,424.6 73.9,442.2 74.0,398.0 74.1,424.3 74.1,431.8 74.2,433.7 74.3,429.7 74.4,432.1 74.5,433.1 74.6,440.3 74.7,419.8 74.8,431.0 74.9,430.1 75.0,429.9 75.1,451.0 75.2,437.4 75.3,433.5 75.4,433.2 75.5,430.1 75.6,424.5 75.7,423.5 75.8,436.7 75.9,438.5 76.0,438.1 76.1,429.3 76.2,424.3 76.3,435.8 76.4,449.2 76.5,421.6 76.6,439.8 76.7,420.5 76.8,431.2 76.9,436.7 77.0,415.7 77.1,426.7 77.2,423.1 77.3,432.4 77.4,440.4 77.5,412.8 77.6,432.5 77.7,440.5 77.7,409.6 77.8,442.6 77.9,436.2 78.0,436.9 78.1,442.0 78.2,426.2 78.3,453.0 78.4,442.0 78.5,413.5 78.6,391.4 78.7,469.0 78.8,426.8 78.9,415.6 79.0,426.1 79.1,430.0 79.2,446.0 79.3,431.3 79.4,437.0 79.5,436.7 79.6,430.8 79.7,431.1 79.8,433.5 79.9,423.3 80.0,441.6 80.1,432.1 80.2,414.8 80.3,430.4 80.4,420.5 80.5,421.0 80.6,419.5 80.7,424.4 80.8,442.5 80.9,433.0 81.0,457.0 81.1,443.9 81.2,434.7 81.3,441.4 81.3,460.4 81.4,399.4 81.5,431.1 81.6,436.6 81.7,438.8 81.8,435.3 81.9,460.4 82.0,434.2 82.1,431.1 82.2,434.4 82.3,427.4 82.4,400.0 82.5,416.1 82.6,436.3 82.7,435.9 82.8,432.7 82.9,432.4 83.0,431.1 83.1,451.9 83.2,453.7 83.3,427.8 83.4,427.9 83.5,418.9 83.6,424.6 83.7,428.8 83.8,430.6 83.9,442.8 84.0,420.9 84.1,435.8 84.2,426.4 84.3,429.0 84.4,428.4 84.5,436.2 84.6,434.9 84.7,434.0 84.8,438.0 84.8,433.9 84.9,416.6 85.0,433.8 85.1,420.6 85.2,423.7 85.3,424.5 85.4,423.9 85.5,439.3 85.6,427.5 85.7,399.4 85.8,436.6 85.9,431.1 86.0,405.0 86.1,428.0 86.2,419.8 86.3,420.1 86.4,433.9 86.5,443.8 86.6,415.5 86.7,422.5 86.8,426.3 86.9,426.2 87.0,433.7 87.1,432.6 87.2,424.6 87.3,422.9 87.4,422.8 87.5,428.9 87.6,434.6 87.7,432.3 87.8,421.3 87.9,418.5 88.0,454.0 88.1,434.7 88.2,420.2 88.3,424.6 88.4,424.8 88.4,441.8 88.5,433.9 88.6,435.0 88.7,428.9 88.8,444.9 88.9,420.0 89.0,428.2 89.1,427.0 89.2,440.7 89.3,430.9 89.4,419.4 89.5,443.9 89.6,428.1 89.7,424.8 89.8,436.5 89.9,423.8 90.0,433.5 90.1,420.3 90.2,426.3 90.3,428.8 90.4,413.8 90.5,423.7 90.6,419.7 90.7,440.7 90.8,436.1 90.9,418.7 91.0,423.1 91.1,431.2 91.2,430.7 91.3,439.6 91.4,428.9 91.5,436.5 91.6,427.8 91.7,434.8 91.8,436.1 91.9,430.2 92.0,415.4 92.0,439.2 92.1,435.8 92.2,421.7 92.3,434.3 92.4,415.8 92.5,428.8 92.6,429.9 92.7,427.7 92.8,416.1 92.9,425.2 93.0,454.0 93.1,431.1 93.2,443.8 93.3,439.9 93.4,418.3 93.5,423.8 93.6,433.0 93.7,425.4 93.8,435.3 93.9,427.9 94.0,438.2 94.1,427.4 94.2,436.7 94.3,432.5 94.4,426.9 94.5,432.4 94.6,425.3 94.7,426.9 94.8,427.7 94.9,419.6 95.0,443.0 95.1,444.1 95.2,431.5 95.3,422.8 95.4,413.9 95.5,424.4 95.5,423.8 95.6,438.1 95.7,427.8 95.8,431.3 95.9,398.0 96.0,440.3 96.1,431.6 96.2,424.5 96.3,455.3 96.4,430.1 96.5,428.8 96.6,432.2 96.7,428.5 96.8,446.4 96.9,439.1 97.0,427.2 97.1,432.8 97.2,438.6 97.3,429.0 97.4,418.3 97.5,429.6 97.6,444.5 97.7,444.5 97.8,414.2 97.9,432.8 98.0,400.0 98.1,451.0 98.2,438.5 98.3,447.6 98.4,418.4 98.5,428.5 98.6,447.2 98.7,439.4 98.8,436.9 98.9,430.9 99.0,428.7 99.1,423.8 99.1,419.3 99.2,421.8 99.3,419.5 99.4,440.4 99.5,435.3 99.6,399.4 99.7,428.3 99.8,430.5 99.9,447.2 100.0,446.2 100.1,424.6 100.2,427.9 100.3,433.2 100.4,434.1 100.5,445.0 100.6,427.6 100.7,422.1 100.8,417.1 100.9,430.3 101.0,432.4 101.1,439.8 101.2,420.5 101.3,416.9 101.4,435.8 101.5,428.3 101.6,429.9 101.7,435.5 101.8,451.4 101.9,433.7 102.0,425.7 102.1,442.7 102.2,437.7 102.3,457.9 102.4,420.1 102.5,426.6 102.6,430.3 102.7,432.9 102.7,436.0 102.8,431.4 102.9,455.0 103.0,432.8 103.1,431.0 103.2,431.8 103.3,417.9 103.4,442.7 103.5,428.5 103.6,454.7 103.7,440.1 103.8,450.3 103.9,425.7 104.0,438.9 104.1,437.0 104.2,426.9 104.3,439.7 104.4,430.6 104.5,431.4 104.6,424.2 104.7,422.4 104.8,437.9 104.9,423.2 105.0,402.0 105.1,454.0 105.2,432.5 105.3,424.4 105.4,460.4 105.5,428.6 105.6,421.1 105.7,433.1 105.8,414.0 105.9,436.9 106.0,429.0 106.1,434.8 106.2,435.9 106.2,440.0 106.3,435.2 106.4,431.2 106.5,437.4 106.6,417.2 106.7,418.3 106.8,443.4 106.9,423.9 107.0,429.2 107.1,428.8 107.2,410.5 107.3,427.0 107.4,428.0 107.5,415.0 107.6,448.5 107.7,424.3 107.8,436.9 107.9,429.3 108.0,429.9 108.1,410.5 108.2,414.0 108.3,420.0 108.4,443.4 108.5,432.6 108.6,427.0 108.7,424.4 108.8,442.5 108.9,413.9 109.0,436.6 109.1,438.0 109.2,417.3 109.3,413.3 109.4,436.5 109.5,435.7 109.6,405.2 109.7,429.8 109.8,424.2 109.8,437.5 109.9,409.1 110.0,425.5 110.1,425.1 110.2,422.1 110.3,426.2 110.4,432.8 110.5,440.0 110.6,428.3 110.7,436.2 110.8,433.9 110.9,423.4 111.0,428.7 111.1,430.5 111.2,430.5 111.3,428.9 111.4,428.7 111.5,433.6 111.6,430.3 111.7,426.9 111.8,429.0 111.9,432.4 112.0,432.2 112.1,435.2 112.2,432.4 112.3,427.2 112.4,430.9 112.5,432.6 112.6,432.0 112.7,430.9 112.8,430.9 112.9,431.5 113.0,432.4 113.1,429.3 113.2,427.3 113.3,431.9 113.4,431.9 113.4,428.1 113.5,433.9 113.6,434.3 113.7,429.9 113.8,430.3 113.9,431.3 114.0,432.6 114.1,430.0 114.2,433.3 114.3,434.5 114.4,435.1 114.5,438.6 114.6,437.5 114.7,429.7 114.8,432.3 114.9,428.9 115.0,431.1 115.1,431.9 115.2,430.5 115.3,432.0 115.4,433.5 115.5,428.0 115.6,432.7 115.7,426.8 115.8,429.6 115.9,431.7 116.0,429.7 116.1,428.0 116.2,433.7 116.3,432.7 116.4,430.8 116.5,430.3 116.6,429.8 116.7,440.5 116.8,432.3 116.9,430.2 116.9,428.1 117.0,428.3 117.1,430.4 117.2,433.6 117.3,429.3 117.4,430.1 117.5,430.1 117.6,426.9 117.7,428.9 117.8,432.8 117.9,432.8 118.0,427.7 118.1,430.2 118.2,428.8 118.3,430.9 118.4,432.8 118.5,430.0 118.6,426.7 118.7,429.4 118.8,434.9 118.9,431.8 119.0,433.0 119.1,429.2 119.2,439.7 119.3,415.1 119.4,395.0 119.5,433.5 119.6,434.4 119.7,429.8 119.8,433.4 119.9,425.1 120.0,429.9 120.1,439.6 120.2,425.4 120.3,432.9 120.4,438.0 120.5,425.9 120.5,433.9 120.6,415.6 120.7,426.0 120.8,429.3 120.9,457.0 121.0,433.3 121.1,423.0 121.2,435.6 121.3,423.8 121.4,447.3 121.5,428.4 121.6,423.4 121.7,427.3 121.8,435.7 121.9,421.8 122.0,437.1 122.1,438.2 122.2,429.8 122.3,420.2 122.4,432.9 122.5,431.7 122.6,427.6 122.7,426.5 122.8,440.3 122.9,453.2 123.0,438.5 123.1,442.3 123.2,434.8 123.3,440.0 123.4,380.6 123.5,426.5 123.6,468.6 123.7,430.3 123.8,416.4 123.9,433.8 124.0,433.1 124.0,419.6 124.1,439.1 124.2,442.7 124.3,420.6 124.4,427.8 124.5,426.4 124.6,431.4 124.7,425.6 124.8,432.4 124.9,430.6 125.0,434.6 125.1,426.2 125.2,429.4 125.3,432.0 125.4,427.7 125.5,419.0 125.6,434.7 125.7,427.1 125.8,426.6 125.9,426.2 126.0,433.3 126.1,425.6 126.2,427.7 126.3,430.7 126.4,431.5 126.5,429.2 126.6,426.6 126.7,426.8 126.8,421.4 126.9,431.5 127.0,427.8 127.1,431.8 127.2,420.8 127.3,442.4 127.4,432.4 127.5,435.2 127.6,433.0 127.6,429.2 127.7,424.5 127.8,427.1 127.9,434.7 128.0,432.0 128.1,430.0 128.2,430.7 128.3,430.0 128.4,427.3 128.5,429.5 128.6,433.0 128.7,437.8 128.8,431.7 128.9,436.9 129.0,431.1 129.1,429.3 129.2,435.7 129.3,431.1 129.4,432.0 129.5,423.4 129.6,429.0 129.7,438.0 129.8,429.1 129.9,429.2 130.0,431.6 130.1,432.3 130.2,425.8 130.3,428.3 130.4,429.2 130.5,434.7 130.6,431.4 130.7,436.9 130.8,436.7 130.9,433.1 131.0,438.2 131.1,432.6 131.2,421.5 131.2,429.2 131.3,434.5 131.4,439.4 131.5,434.3 131.6,436.6 131.7,439.6 131.8,428.4 131.9,443.0 132.0,429.5 132.1,419.3 132.2,430.1 132.3,430.7 132.4,429.1 132.5,432.2 132.6,434.3 132.7,432.0 132.8,426.8 132.9,432.2 133.0,434.7 133.1,435.8 133.2,434.9 133.3,430.0 133.4,429.4 133.5,429.4 133.6,427.1 133.7,433.0 133.8,428.4 133.9,427.7 134.0,428.8 134.1,436.3 134.2,426.4 134.3,435.1 134.4,433.9 134.5,430.8 134.6,434.5 134.7,426.5 134.7,430.4 134.8,433.1 134.9,430.4 135.0,431.6 135.1,427.4 135.2,427.2 135.3,429.1 135.4,431.6 135.5,430.5 135.6,428.4 135.7,432.5 135.8,432.5 135.9,428.9 136.0,429.1 136.1,431.2 136.2,432.0 136.3,433.9 136.4,428.1 136.5,431.0 136.6,435.4 136.7,433.2 136.8,432.7 136.9,425.5 137.0,429.2 137.1,433.6 137.2,426.6 137.3,427.8 137.4,434.3 137.5,436.7 137.6,428.6 137.7,432.0 137.8,431.0 137.9,431.8 138.0,427.9 138.1,427.5 138.2,428.9 138.3,431.0 138.3,429.5 138.4,429.6 138.5,434.9 138.6,428.0 138.7,431.4 138.8,430.1 138.9,430.4 139.0,428.7 139.1,421.8 139.2,425.9 139.3,431.5 139.4,432.7 139.5,430.4 139.6,424.9 139.7,428.8 139.8,430.3 139.9,430.4 140.0,428.6 140.1,428.4 140.2,432.0 140.3,427.6 140.4,427.2 140.5,434.4 140.6,429.9 140.7,430.2 140.8,431.3 140.9,432.0 141.0,430.5 141.1,429.8 141.2,433.0 141.3,427.6 141.4,428.5 141.5,431.9 141.6,432.3 141.7,423.3 141.8,431.9 141.9,431.0 141.9,429.6 142.0,428.4 142.1,429.5 142.2,427.5 142.3,431.6 142.4,429.1 142.5,432.1 142.6,430.2 142.7,430.3 142.8,432.6 142.9,436.3 143.0,428.5 143.1,429.8 143.2,430.3 143.3,432.1 143.4,431.3 143.5,429.2 143.6,430.6 143.7,428.1 143.8,430.4 143.9,434.2 144.0,429.3 144.1,432.0 144.2,430.1 144.3,434.6 144.4,423.9 144.5,429.4 144.6,432.0 144.7,430.7 144.8,429.3 144.9,430.5 145.0,426.7 145.1,431.2 145.2,431.0 145.3,431.0 145.4,435.0 145.4,434.0 145.5,429.5 145.6,431.4 145.7,430.4 145.8,430.8 145.9,430.3 146.0,428.4 146.1,430.0 146.2,427.1 146.3,432.7 146.4,429.7 146.5,429.2 146.6,429.4 146.7,428.1 146.8,428.4 146.9,430.5 147.0,431.9 147.1,428.3 147.2,430.5 147.3,428.0 147.4,426.8 147.5,429.9 147.6,433.3 147.7,431.3 147.8,427.8 147.9,431.3 148.0,426.2 148.1,430.2 148.2,429.9 148.3,430.6 148.4,430.7 148.5,409.9 148.6,431.8 148.7,431.8 148.8,433.9 148.9,426.6 149.0,429.4 149.0,433.5 149.1,425.9 149.2,423.4 149.3,431.4 149.4,425.7 149.5,439.9 149.6,426.7 149.7,429.0 149.8,436.2 149.9,434.6 150.0,432.8 150.1,429.2 150.2,428.7 150.3,429.9 150.4,426.8 150.5,427.2 150.6,436.9 150.7,432.2 150.8,432.8 150.9,425.7 151.0,413.0 151.1,425.8 151.2,430.0 151.3,429.1 151.4,430.7 151.5,430.4 151.6,431.0 151.7,429.8 151.8,419.6 151.9,433.5 152.0,434.3 152.1,431.3 152.2,428.7 152.3,434.8 152.4,427.0 152.5,427.2 152.6,431.2 152.6,431.6 152.7,433.9 152.8,430.7 152.9,433.9 153.0,420.3 153.1,423.6 153.2,431.7 153.3,430.7 153.4,437.7 153.5,441.1 153.6,429.1 153.7,429.4 153.8,430.0 153.9,427.1 154.0,430.2 154.1,432.1 154.2,424.0 154.3,438.4 154.4,435.3 154.5,433.6 154.6,433.3 154.7,452.5 154.8,431.5 154.9,433.5 155.0,430.8 155.1,428.2 155.2,430.5 155.3,430.1 155.4,434.5 155.5,435.3 155.6,431.8 155.7,426.9 155.8,429.1 155.9,426.2 156.0,426.6 156.1,426.1 156.1,443.6 156.2,425.6 156.3,435.0 156.4,422.2 156.5,428.2 156.6,429.3 156.7,431.2 156.8,430.0 156.9,437.4 157.0,431.7 157.1,430.8 157.2,426.6 157.3,433.3 157.4,430.1 157.5,423.2 157.6,407.0 157.7,427.2 157.8,457.0 157.9,419.7 158.0,428.8 158.1,427.1 158.2,427.6 158.3,434.8 158.4,424.5 158.5,429.9 158.6,427.4 158.7,426.9 158.8,427.6 158.9,431.7 159.0,431.2 159.1,437.0 159.2,429.9 159.3,432.6 159.4,430.7 159.5,423.1 159.6,431.9 159.7,429.5 159.7,436.2 159.8,427.7 159.9,424.5 160.0,434.0 160.1,428.9 160.2,432.7 160.3,427.5 160.4,432.1 160.5,437.2 160.6,432.7 160.7,437.2 160.8,425.0 160.9,426.4 161.0,430.5 161.1,429.5 161.2,430.4 161.3,429.8 161.4,429.9 161.5,431.6 161.6,431.3 161.7,436.1 161.8,434.7 161.9,433.1 162.0,431.2 162.1,432.1 162.2,423.0 162.3,431.4 162.4,445.3 162.5,428.9 162.6,426.5 162.7,423.2 162.8,426.7 162.9,433.0 163.0,431.3 163.1,426.4 163.2,429.6 163.3,427.4 163.3,430.9 163.4,424.2 163.5,424.8 163.6,426.1 163.7,430.0 163.8,437.1 163.9,436.0 164.0,429.3 164.1,428.0 164.2,442.3 164.3,432.5 164.4,426.0 164.5,426.8 164.6,432.6 164.7,428.0 164.8,430.5 164.9,431.5 165.0,426.1 165.1,426.0 165.2,432.7 165.3,434.4 165.4,435.8 165.5,436.3 165.6,425.6 165.7,423.0 165.8,429.7 165.9,426.3 166.0,433.3 166.1,430.8 166.2,426.4 166.3,429.6 166.4,430.7 166.5,439.4 166.6,438.7 166.7,432.9 166.8,433.9 166.8,430.9 166.9,434.8 167.0,431.9 167.1,460.4 167.2,426.9 167.3,430.0 167.4,434.2 167.5,432.4 167.6,424.2 167.7,431.9 167.8,437.1 167.9,437.4 168.0,405.0 168.1,426.6 168.2,422.0 168.3,433.8 168.4,420.9 168.5,432.9 168.6,432.1 168.7,434.4 168.8,426.9 168.9,423.2 169.0,430.7 169.1,434.0 169.2,441.1 169.3,429.5 169.4,423.6 169.5,431.9 169.6,434.9 169.7,436.6 169.8,433.5 169.9,427.4 170.0,451.0 170.1,430.6 170.2,419.9 170.3,431.9 170.4,431.4 170.4,440.0 170.5,424.5 170.6,426.5 170.7,420.5 170.8,434.8 170.9,429.7 171.0,460.4 171.1,428.9 171.2,431.4 171.3,401.4 171.4,431.6 171.5,426.1 171.6,434.0 171.7,426.5 171.8,432.6 171.9,433.5 172.0,429.9 172.1,428.0 172.2,428.7 172.3,442.1 172.4,462.0 172.5,430.9 172.6,444.5 172.7,442.2 172.8,435.8 172.9,428.3 173.0,429.1 173.1,423.6 173.2,422.5 173.3,414.3 173.4,414.4 173.5,430.8 173.6,423.2 173.7,446.8 173.8,440.2 173.9,429.2 174.0,459.0 174.0,422.0 174.1,452.8 174.2,440.4 174.3,431.2 174.4,434.1 174.5,420.5 174.6,429.6 174.7,418.5 174.8,430.9 174.9,429.3 175.0,430.0 175.1,422.9 175.2,438.1 175.3,427.9 175.4,435.8 175.5,437.5 175.6,422.4 175.7,426.9 175.8,420.9 175.9,428.7 176.0,426.0 176.1,424.5 176.2,426.5 176.3,441.1 176.4,397.0 176.5,436.5 176.6,418.7 176.7,408.3 176.8,424.4 176.9,429.4 177.0,432.4 177.1,420.2 177.2,429.4 177.3,436.8 177.4,428.7 177.5,425.9 177.5,447.1 177.6,423.6 177.7,422.9 177.8,442.5 177.9,431.4 178.0,424.7 178.1,423.9 178.2,433.2 178.3,432.7 178.4,426.5 178.5,422.7 178.6,430.5 178.7,429.9 178.8,424.0 178.9,426.6 179.0,431.1 179.1,421.2 179.2,440.1 179.3,450.8 179.4,433.2 179.5,433.8 179.6,429.0 179.7,430.1 179.8,413.4 179.9,425.9 180.0,427.9 180.1,419.0 180.2,423.4 180.3,443.2 180.4,429.5 180.5,425.2 180.6,434.5 180.7,428.3 180.8,433.5 180.9,431.7 181.0,461.0 181.1,443.8 181.1,434.2 181.2,428.8 181.3,421.2 181.4,432.3 181.5,435.6 181.6,424.1 181.7,430.2 181.8,418.0 181.9,431.1 182.0,443.9 182.1,435.9 182.2,437.0 182.3,440.0 182.4,435.8 182.5,435.2 182.6,430.7 182.7,434.3 182.8,427.7 182.9,427.7 183.0,429.3 183.1,429.2 183.2,443.5 183.3,442.0 183.4,436.6 183.5,422.9 183.6,440.6 183.7,433.4 183.8,428.8 183.9,412.4 184.0,428.7 184.1,434.2 184.2,423.0 184.3,429.1 184.4,432.6 184.5,422.9 184.6,436.9 184.7,429.3 184.7,430.0 184.8,424.4 184.9,438.5 185.0,439.5 185.1,433.3 185.2,432.6 185.3,430.4 185.4,433.3 185.5,427.7 185.6,402.0 185.7,429.2 185.8,438.0 185.9,422.8 186.0,451.0 186.1,432.2 186.2,424.6 186.3,435.0 186.4,400.3 186.5,417.6 186.6,419.9 186.7,427.8 186.8,424.0 186.9,433.5 187.0,428.0 187.1,427.6 187.2,430.1 187.3,429.7 187.4,432.2 187.5,444.3 187.6,428.0 187.7,428.6 187.8,416.6 187.9,425.9 188.0,430.3 188.1,424.7 188.2,426.5 188.2,430.9 188.3,433.4 188.4,440.9 188.5,429.9 188.6,419.6 188.7,408.5 188.8,437.3 188.9,425.6 189.0,429.4 189.1,427.9 189.2,443.5 189.3,434.8 189.4,427.3 189.5,426.7 189.6,428.7 189.7,436.8 189.8,427.0 189.9,439.0 190.0,437.2 190.1,438.8 190.2,420.9 190.3,433.6 190.4,430.4 190.5,445.9 190.6,423.2 190.7,427.6 190.8,442.1 190.9,441.8 191.0,409.0 191.1,437.3 191.2,418.1 191.3,434.0 191.4,447.8 191.5,423.2 191.6,427.3 191.7,426.1 191.8,434.3 191.8,432.3 191.9,459.0 192.0,436.4 192.1,444.3 192.2,424.6 192.3,435.1 192.4,432.9 192.5,434.1 192.6,433.7 192.7,432.5 192.8,425.8 192.9,407.6 193.0,441.9 193.1,432.2 193.2,420.7 193.3,430.0 193.4,424.7 193.5,428.5 193.6,425.5 193.7,428.9 193.8,422.9 193.9,431.7 194.0,427.6 194.1,435.7 194.2,422.7 194.3,445.8 194.4,429.5 194.5,428.3 194.6,428.4 194.7,430.8 194.8,421.6 194.9,416.3 195.0,434.9 195.1,443.9 195.2,438.2 195.3,440.3 195.3,431.7 195.4,431.2 195.5,423.4 195.6,433.7 195.7,431.0 195.8,430.0 195.9,448.9 196.0,433.0 196.1,411.9 196.2,431.4 196.3,437.4 196.4,445.7 196.5,423.7 196.6,433.0 196.7,435.1 196.8,414.1 196.9,421.0 197.0,454.0 197.1,433.2 197.2,424.0 197.3,425.1 197.4,438.4 197.5,418.6 197.6,433.9 197.7,438.4 197.8,445.1 197.9,440.3 198.0,426.2 198.1,423.7 198.2,429.6 198.3,434.5 198.4,431.4 198.5,427.6 198.6,437.4 198.7,439.6 198.8,431.2 198.9,425.0 198.9,429.9 199.0,429.9 199.1,433.8 199.2,426.6 199.3,438.6 199.4,414.1 199.5,433.6 199.6,431.5 199.7,435.3 199.8,427.2 199.9,431.2 200.0,433.8 200.1,433.4 200.2,431.1 200.3,433.5 200.4,433.9 200.5,426.8 200.6,436.4 200.7,432.1 200.8,432.3 200.9,433.0 201.0,439.7 201.1,419.0 201.2,440.6 201.3,427.6 201.4,431.1 201.5,424.5 201.6,440.3 201.7,423.8 201.8,439.1 201.9,426.8 202.0,427.9 202.1,430.7 202.2,435.4 202.3,435.8 202.4,430.3 202.5,435.4 202.5,442.6 202.6,441.7 202.7,426.2 202.8,426.0 202.9,461.0 203.0,429.9 203.1,428.7 203.2,428.0 203.3,429.4 203.4,436.7 203.5,435.2 203.6,437.6 203.7,430.0 203.8,436.7 203.9,431.8 204.0,423.2 204.1,433.0 204.2,425.2 204.3,429.9 204.4,441.4 204.5,439.1 204.6,428.1 204.7,435.2 204.8,427.7 204.9,426.7 205.0,398.0 205.1,426.0 205.2,420.8 205.3,425.3 205.4,435.8 205.5,424.7 205.6,433.8 205.7,421.8 205.8,431.8 205.9,434.6 206.0,430.5 206.0,427.8 206.1,432.8 206.2,430.1 206.3,403.0 206.4,426.5 206.5,425.2 206.6,429.1 206.7,433.3 206.8,428.4 206.9,435.6 207.0,418.6 207.1,428.7 207.2,429.3 207.3,444.0 207.4,417.5 207.5,422.6 207.6,423.6 207.7,430.7 207.8,426.9 207.9,414.9 208.0,434.3 208.1,426.5 208.2,427.2 208.3,429.7 208.4,428.6 208.5,435.8 208.6,427.0 208.7,437.5 208.8,420.5 208.9,426.1 209.0,435.0 209.1,441.6 209.2,429.8 209.3,427.7 209.4,435.7 209.5,421.4 209.6,428.9 209.6,432.8 209.7,437.7 209.8,431.0 209.9,431.4 210.0,419.9 210.1,424.8 210.2,430.1 210.3,427.9 210.4,422.8 210.5,431.9 210.6,431.6 210.7,424.2 210.8,433.0 210.9,427.9 211.0,430.0 211.1,436.0 211.2,427.2 211.3,429.9 211.4,426.5 211.5,437.1 211.6,422.5 211.7,423.8 211.8,432.1 211.9,430.8 212.0,408.0 212.1,430.4 212.2,426.1 212.3,434.0 212.4,436.2 212.5,435.8 212.6,420.8 212.7,432.4 212.8,435.4 212.9,435.0 213.0,429.6 213.1,424.5 213.2,434.1 213.2,432.7 213.3,418.9 213.4,428.2 213.5,429.8 213.6,425.3 213.7,427.1 213.8,433.5 213.9,426.8 214.0,446.0 214.1,441.6 214.2,425.7 214.3,429.7 214.4,431.6 214.5,429.7 214.6,427.6 214.7,441.3 214.8,433.1 214.9,434.7 215.0,433.8 215.1,433.5 215.2,426.5 215.3,430.1 215.4,428.4 215.5,438.3 215.6,427.3 215.7,435.4 215.8,422.5 215.9,428.6 216.0,432.3 216.1,433.4 216.2,429.2 216.3,432.6 216.4,433.1 216.5,430.7 216.6,433.7 216.7,431.0 216.7,425.0 216.8,431.9 216.9,428.1 217.0,433.6 217.1,430.4 217.2,431.4 217.3,431.1 217.4,428.5 217.5,424.5 217.6,431.0 217.7,426.9 217.8,429.6 217.9,428.5 218.0,432.0 218.1,432.7 218.2,431.2 218.3,432.9 218.4,430.7 218.5,433.7 218.6,430.6 218.7,430.1 218.8,425.3 218.9,425.6 219.0,429.1 219.1,432.1 219.2,428.8 219.3,428.2 219.4,431.2 219.5,433.2 219.6,436.0 219.7,430.8 219.8,424.9 219.9,433.1 220.0,429.5 220.1,429.5 220.2,429.2 220.3,428.3 220.3,436.7 220.4,431.1 220.5,429.5 220.6,430.9 220.7,426.9 220.8,431.8 220.9,427.8 221.0,425.2 221.1,431.4 221.2,430.5 221.3,431.5 221.4,428.2 221.5,437.3 221.6,435.2 221.7,431.5 221.8,427.9 221.9,428.7 222.0,433.2 222.1,425.5 222.2,430.2 222.3,432.6 222.4,428.9 222.5,429.2 222.6,430.8 222.7,435.4 222.8,432.3 222.9,430.3 223.0,427.5 223.1,433.8 223.2,429.7 223.3,434.4 223.4,430.3 223.5,434.9 223.6,432.1 223.7,435.5 223.8,433.7 223.9,435.8 223.9,437.0 224.0,426.2 224.1,426.0 224.2,424.8 224.3,432.1 224.4,428.8 224.5,431.9 224.6,428.1 224.7,423.7 224.8,399.4 224.9,420.7 225.0,431.3 225.1,431.4 225.2,443.1 225.3,439.3 225.4,439.0 225.5,423.6 225.6,445.3 225.7,420.2 225.8,427.7 225.9,419.7 226.0,423.4 226.1,424.9 226.2,414.8 226.3,430.8 226.4,431.0 226.5,420.2 226.6,435.9 226.7,420.1 226.8,424.0 226.9,434.5 227.0,393.0 227.1,447.8 227.2,413.7 227.3,424.2 227.4,440.7 227.4,422.5 227.5,426.0 227.6,428.3 227.7,429.4 227.8,433.9 227.9,438.3 228.0,436.7 228.1,425.0 228.2,420.8 228.3,401.0 228.4,430.6 228.5,450.0 228.6,425.8 228.7,431.6 228.8,453.8 228.9,418.1 229.0,428.3 229.1,430.7 229.2,428.5 229.3,429.2 229.4,428.1 229.5,429.2 229.6,430.0 229.7,425.2 229.8,441.0 229.9,409.0 230.0,390.0 230.1,434.6 230.2,426.2 230.3,426.7 230.4,481.0 230.5,427.9 230.6,431.8 230.7,431.6 230.8,423.4 230.9,404.1 231.0,427.0 231.0,446.7 231.1,438.5 231.2,450.5 231.3,429.6 231.4,432.2 231.5,431.0 231.6,439.9 231.7,431.2 231.8,439.0 231.9,440.7 232.0,437.0 232.1,425.6 232.2,435.0 232.3,436.3 232.4,428.7 232.5,431.1 232.6,426.0 232.7,422.1 232.8,429.6 232.9,431.4 233.0,427.5 233.1,433.4 233.2,436.5 233.3,427.2 233.4,432.5 233.5,430.5 233.6,428.3 233.7,419.7 233.8,441.9 233.9,434.7 234.0,426.0 234.1,441.6 234.2,428.9 234.3,432.1 234.4,434.1 234.5,431.2 234.6,437.2 234.6,429.1 234.7,426.2 234.8,438.1 234.9,433.3 235.0,426.1 235.1,429.3 235.2,432.0 235.3,425.1 235.4,437.2 235.5,431.8 235.6,430.4 235.7,432.0 235.8,431.2 235.9,434.0 236.0,415.0 236.1,437.9 236.2,426.0 236.3,426.6 236.4,433.6 236.5,435.0 236.6,430.9 236.7,431.8 236.8,433.0 236.9,435.6 237.0,432.5 237.1,423.6 237.2,430.5 237.3,432.8 237.4,435.1 237.5,432.8 237.6,426.4 237.7,428.6 237.8,425.1 237.9,425.6 238.0,428.5 238.1,433.5 238.1,431.3 238.2,431.1 238.3,437.3 238.4,429.4 238.5,434.8 238.6,431.1 238.7,432.8 238.8,428.4 238.9,420.3 239.0,435.5 239.1,430.8 239.2,422.6 239.3,434.4 239.4,431.6 239.5,431.1 239.6,429.5 239.7,437.2 239.8,429.5 239.9,428.3 240.0,420.6 240.1,431.0 240.2,433.0 240.3,430.2 240.4,441.1 240.5,429.4 240.6,424.5 240.7,430.8 240.8,430.8 240.9,431.7 241.0,430.1 241.1,435.7 241.2,424.5 241.3,432.5 241.4,432.5 241.5,424.0 241.6,430.6 241.7,432.3 241.7,424.0 241.8,429.9 241.9,426.8 242.0,432.9 242.1,437.7 242.2,429.5 242.3,426.5 242.4,432.5 242.5,429.1 242.6,427.7 242.7,429.5 242.8,430.3 242.9,422.3 243.0,429.7 243.1,432.7 243.2,426.3 243.3,427.3 243.4,429.0 243.5,427.6 243.6,441.2 243.7,429.5 243.8,430.4 243.9,438.6 244.0,426.5 244.1,429.1 244.2,432.3 244.3,432.1 244.4,429.5 244.5,430.6 244.6,437.1 244.7,431.8 244.8,428.7 244.9,428.0 245.0,423.8 245.1,434.9 245.2,433.1 245.3,429.0 245.3,433.0 245.4,429.6 245.5,433.9 245.6,428.1 245.7,430.2 245.8,417.3 245.9,448.0 246.0,433.7 246.1,435.5 246.2,430.3 246.3,432.9 246.4,436.5 246.5,432.7 246.6,427.2 246.7,425.3 246.8,427.3 246.9,424.8 247.0,431.9 247.1,431.0 247.2,434.3 247.3,433.6 247.4,427.9 247.5,428.6 247.6,427.7 247.7,419.6 247.8,422.4 247.9,433.9 248.0,426.3 248.1,433.5 248.2,426.2 248.3,438.1 248.4,434.2 248.5,434.1 248.6,422.0 248.7,437.7 248.8,425.7 248.8,425.8 248.9,429.8 249.0,426.8 249.1,419.6 249.2,430.9 249.3,431.5 249.4,424.7 249.5,427.0 249.6,435.1 249.7,429.5 249.8,429.1 249.9,435.1 250.0,434.3 250.1,433.1 250.2,435.4 250.3,428.2 250.4,431.7 250.5,439.7 250.6,432.1 250.7,429.7 250.8,436.1 250.9,431.5 251.0,429.1 251.1,437.6 251.2,429.6 251.3,440.4 251.4,427.2 251.5,433.5 251.6,436.6 251.7,436.1 251.8,437.5 251.9,425.1 252.0,434.1 252.1,433.0 252.2,432.2 252.3,437.0 252.4,427.3 252.4,441.3 252.5,426.8 252.6,426.9 252.7,430.4 252.8,429.4 252.9,427.1 253.0,436.0 253.1,428.0 253.2,430.9 253.3,431.3 253.4,435.6 253.5,425.9 253.6,428.7 253.7,425.2 253.8,426.7 253.9,439.2 254.0,431.1 254.1,426.3 254.2,434.6 254.3,443.3 254.4,440.6 254.5,422.1 254.6,434.7 254.7,430.0 254.8,435.4 254.9,428.2 255.0,428.7 255.1,437.0 255.2,431.0 255.3,434.1 255.4,438.9 255.5,434.6 255.6,430.6 255.7,425.3 255.8,425.1 255.9,430.8 256.0,437.9 256.0,427.8 256.1,430.7 256.2,430.8 256.3,435.7 256.4,433.7 256.5,423.8 256.6,424.2 256.7,432.0 256.8,427.8 256.9,445.0 257.0,430.7 257.1,430.0 257.2,429.0 257.3,432.2 257.4,434.5 257.5,425.8 257.6,436.0 257.7,427.0 257.8,431.5 257.9,427.7 258.0,428.4 258.1,430.0 258.2,427.6 258.3,434.9 258.4,436.7 258.5,430.9 258.6,423.4 258.7,432.6 258.8,435.1 258.9,420.6 259.0,437.5 259.1,433.2 259.2,416.2 259.3,433.7 259.4,433.6 259.5,425.9 259.5,429.8 259.6,429.9 259.7,438.0 259.8,427.2 259.9,430.0 260.0,430.0 260.1,427.0 260.2,422.2 260.3,430.8 260.4,428.8 260.5,433.8 260.6,439.3 260.7,436.7 260.8,426.4 260.9,440.8 261.0,429.9 261.1,425.7 261.2,455.0 261.3,432.3" fill="none" stroke="#EE7D2E" stroke-width="1.2" stroke-linejoin="round"/>
<path clip-path="url(#ce)" d="M47.4,426.8 47.5,430.4 47.6,431.0 47.7,430.7 47.8,429.5 47.9,427.7 48.0,426.9 48.1,425.9 48.2,430.4 48.3,425.5 48.4,427.2 48.5,429.6 48.6,423.1 48.7,425.4 48.8,427.4 48.9,426.6 49.0,425.2 49.1,422.9 49.2,425.5 49.2,426.0 49.3,429.5 49.4,431.4 49.5,429.5 49.6,433.9 49.7,433.2 49.8,429.8 49.9,432.1 50.0,435.7 50.1,437.6 50.2,436.7 50.3,433.0 50.4,439.6 50.5,437.5 50.6,434.5 50.7,436.8 50.8,435.8 50.9,438.1 51.0,433.7 51.1,432.0 51.2,436.5 51.3,435.9 51.4,439.7 51.5,437.8 51.6,438.8 51.7,442.6 51.8,439.7 51.9,440.4 52.0,442.3 52.1,443.0 52.2,445.8 52.3,441.6 52.4,443.9 52.5,441.7 52.6,443.0 52.7,438.7 52.7,439.4 52.8,439.1 52.9,442.4 53.0,438.1 53.1,438.8 53.2,439.4 53.3,438.6 53.4,436.3 53.5,436.1 53.6,436.7 53.7,436.3 53.8,437.0 53.9,437.0 54.0,439.5 54.1,435.2 54.2,435.3 54.3,434.7 54.4,435.4 54.5,434.9 54.6,435.2 54.7,432.7 54.8,433.5 54.9,433.2 55.0,433.0 55.1,432.8 55.2,428.0 55.3,430.3 55.4,426.6 55.5,428.6 55.6,426.9 55.7,425.4 55.8,429.1 55.9,426.5 56.0,426.3 56.1,422.7 56.2,426.1 56.3,423.5 56.3,425.7 56.4,427.5 56.5,420.3 56.6,424.7 56.7,421.8 56.8,421.7 56.9,419.7 57.0,422.7 57.1,424.6 57.2,418.6 57.3,426.0 57.4,426.7 57.5,421.2 57.6,421.2 57.7,421.3 57.8,422.7 57.9,424.1 58.0,421.2 58.1,420.3 58.2,422.8 58.3,420.8 58.4,424.6 58.5,423.2 58.6,425.9 58.7,424.2 58.8,422.1 58.9,424.2 59.0,425.2 59.1,427.0 59.2,429.0 59.3,429.1 59.4,427.8 59.5,427.4 59.6,431.3 59.7,426.4 59.8,424.6 59.9,428.9 59.9,427.5 60.0,430.4 60.1,429.5 60.2,429.2 60.3,428.5 60.4,429.1 60.5,430.3 60.6,428.4 60.7,433.0 60.8,431.7 60.9,429.1 61.0,430.7 61.1,430.4 61.2,433.0 61.3,434.4 61.4,432.0 61.5,432.4 61.6,435.6 61.7,430.6 61.8,431.2 61.9,431.6 62.0,425.9 62.1,433.5 62.2,431.3 62.3,430.4 62.4,430.9 62.5,431.6 62.6,431.4 62.7,430.2 62.8,429.3 62.9,431.7 63.0,431.5 63.1,433.5 63.2,434.4 63.3,434.5 63.4,434.6 63.4,429.2 63.5,433.6 63.6,433.9 63.7,428.8 63.8,431.9 63.9,439.1 64.0,434.2 64.1,434.0 64.2,437.2 64.3,436.4 64.4,431.1 64.5,431.1 64.6,431.9 64.7,434.5 64.8,430.1 64.9,432.0 65.0,432.2 65.1,432.8 65.2,435.5 65.3,431.3 65.4,429.5 65.5,432.0 65.6,433.1 65.7,430.3 65.8,434.4 65.9,431.6 66.0,430.1 66.1,429.4 66.2,430.5 66.3,435.1 66.4,431.5 66.5,430.7 66.6,433.1 66.7,428.5 66.8,431.9 66.9,432.0 67.0,430.9 67.0,430.8 67.1,431.0 67.2,433.2 67.3,431.5 67.4,432.3 67.5,432.9 67.6,433.2 67.7,425.5 67.8,432.9 67.9,432.4 68.0,429.3 68.1,429.8 68.2,432.5 68.3,427.6 68.4,427.8 68.5,430.5 68.6,431.6 68.7,430.4 68.8,432.0 68.9,433.8 69.0,430.4 69.1,428.1 69.2,428.3 69.3,429.8 69.4,428.1 69.5,428.6 69.6,428.4 69.7,428.8 69.8,432.9 69.9,431.1 70.0,427.3 70.1,431.6 70.2,433.1 70.3,427.6 70.4,429.7 70.5,428.2 70.6,427.6 70.6,431.2 70.7,429.8 70.8,429.4 70.9,430.8 71.0,429.9 71.1,430.0 71.2,428.4 71.3,429.5 71.4,428.7 71.5,430.2 71.6,426.7 71.7,425.7 71.8,429.3 71.9,427.6 72.0,428.9 72.1,423.6 72.2,426.5 72.3,424.6 72.4,421.8 72.5,426.2 72.6,425.2 72.7,427.2 72.8,427.8 72.9,423.6 73.0,426.5 73.1,426.3 73.2,425.4 73.3,427.2 73.4,425.4 73.5,425.2 73.6,424.2 73.7,426.8 73.8,426.7 73.9,425.5 74.0,425.0 74.1,423.9 74.1,427.2 74.2,426.5 74.3,428.1 74.4,426.8 74.5,424.9 74.6,424.4 74.7,428.1 74.8,428.4 74.9,426.7 75.0,421.8 75.1,424.4 75.2,426.0 75.3,421.9 75.4,425.1 75.5,426.3 75.6,425.3 75.7,425.3 75.8,426.1 75.9,424.0 76.0,425.8 76.1,425.7 76.2,425.6 76.3,424.7 76.4,429.9 76.5,429.3 76.6,428.5 76.7,429.1 76.8,428.4 76.9,429.0 77.0,429.4 77.1,431.0 77.2,427.7 77.3,426.1 77.4,430.8 77.5,425.1 77.6,425.7 77.7,431.3 77.7,426.6 77.8,425.1 77.9,430.4 78.0,425.8 78.1,427.1 78.2,427.2 78.3,424.9 78.4,427.0 78.5,426.8 78.6,430.2 78.7,426.5 78.8,427.7 78.9,427.7 79.0,423.7 79.1,430.4 79.2,429.7 79.3,430.0 79.4,429.8 79.5,427.1 79.6,432.1 79.7,432.9 79.8,428.6 79.9,432.5 80.0,432.1 80.1,432.2 80.2,432.7 80.3,432.0 80.4,431.7 80.5,431.1 80.6,435.5 80.7,431.2 80.8,434.3 80.9,436.8 81.0,437.4 81.1,435.7 81.2,433.1 81.3,436.1 81.3,436.9 81.4,431.1 81.5,436.4 81.6,433.3 81.7,432.9 81.8,434.0 81.9,436.4 82.0,431.9 82.1,432.1 82.2,433.1 82.3,430.8 82.4,433.3 82.5,435.4 82.6,436.5 82.7,430.7 82.8,431.5 82.9,428.3 83.0,427.7 83.1,427.9 83.2,428.3 83.3,426.5 83.4,424.3 83.5,427.5 83.6,422.1 83.7,425.4 83.8,422.8 83.9,424.7 84.0,421.9 84.1,425.0 84.2,425.2 84.3,425.3 84.4,422.8 84.5,424.6 84.6,426.1 84.7,430.0 84.8,427.6 84.8,430.1 84.9,426.9 85.0,427.3 85.1,427.4 85.2,429.7 85.3,428.6 85.4,427.3 85.5,424.9 85.6,426.6 85.7,427.1 85.8,430.4 85.9,427.3 86.0,428.6 86.1,429.2 86.2,427.8 86.3,426.2 86.4,427.4 86.5,427.6 86.6,424.4 86.7,426.6 86.8,425.6 86.9,426.5 87.0,425.3 87.1,424.9 87.2,425.9 87.3,422.0 87.4,429.7 87.5,423.6 87.6,422.5 87.7,422.2 87.8,424.1 87.9,423.6 88.0,426.0 88.1,426.3 88.2,428.0 88.3,426.7 88.4,429.1 88.4,429.3 88.5,423.9 88.6,425.1 88.7,423.6 88.8,426.8 88.9,428.4 89.0,426.0 89.1,425.3 89.2,432.1 89.3,429.4 89.4,428.5 89.5,423.8 89.6,427.6 89.7,430.5 89.8,430.9 89.9,430.8 90.0,430.8 90.1,427.8 90.2,430.2 90.3,429.4 90.4,432.9 90.5,426.5 90.6,431.7 90.7,433.3 90.8,431.7 90.9,430.7 91.0,432.2 91.1,432.0 91.2,428.1 91.3,434.3 91.4,431.3 91.5,437.6 91.6,430.9 91.7,433.1 91.8,429.9 91.9,430.7 92.0,431.2 92.0,428.8 92.1,428.4 92.2,428.6 92.3,429.9 92.4,430.3 92.5,429.5 92.6,428.3 92.7,430.0 92.8,427.3 92.9,431.5 93.0,432.3 93.1,431.2 93.2,430.7 93.3,429.4 93.4,427.6 93.5,429.5 93.6,427.3 93.7,429.3 93.8,429.0 93.9,427.2 94.0,430.2 94.1,428.6 94.2,430.3 94.3,432.5 94.4,431.2 94.5,426.9 94.6,430.0 94.7,436.0 94.8,435.2 94.9,431.1 95.0,433.7 95.1,431.2 95.2,431.3 95.3,432.5 95.4,426.8 95.5,430.7 95.5,425.8 95.6,428.4 95.7,427.7 95.8,429.2 95.9,430.6 96.0,428.9 96.1,426.6 96.2,429.6 96.3,425.8 96.4,427.3 96.5,428.0 96.6,428.6 96.7,434.0 96.8,428.6 96.9,427.7 97.0,425.2 97.1,427.7 97.2,429.1 97.3,428.7 97.4,430.7 97.5,430.8 97.6,433.9 97.7,430.1 97.8,426.8 97.9,428.9 98.0,430.7 98.1,429.9 98.2,427.4 98.3,426.9 98.4,431.7 98.5,431.4 98.6,429.6 98.7,428.4 98.8,428.4 98.9,427.6 99.0,426.6 99.1,427.3 99.1,432.1 99.2,428.9 99.3,430.5 99.4,430.5 99.5,428.7 99.6,430.1 99.7,431.1 99.8,428.8 99.9,427.0 100.0,431.6 100.1,430.7 100.2,432.8 100.3,434.2 100.4,434.5 100.5,433.7 100.6,431.0 100.7,431.6 100.8,429.6 100.9,432.2 101.0,431.8 101.1,432.3 101.2,432.9 101.3,430.2 101.4,431.1 101.5,430.3 101.6,430.1 101.7,433.2 101.8,431.5 101.9,428.0 102.0,429.8 102.1,428.1 102.2,431.1 102.3,429.4 102.4,427.4 102.5,424.8 102.6,429.4 102.7,431.9 102.7,430.3 102.8,431.4 102.9,430.5 103.0,428.5 103.1,429.5 103.2,428.0 103.3,431.7 103.4,427.6 103.5,429.3 103.6,428.6 103.7,424.7 103.8,428.2 103.9,427.4 104.0,426.1 104.1,425.7 104.2,425.8 104.3,428.9 104.4,429.8 104.5,427.5 104.6,426.7 104.7,430.5 104.8,426.4 104.9,428.0 105.0,427.2 105.1,430.5 105.2,428.2 105.3,427.4 105.4,433.5 105.5,426.9 105.6,429.7 105.7,432.4 105.8,429.3 105.9,433.2 106.0,430.2 106.1,430.0 106.2,433.6 106.2,433.7 106.3,434.6 106.4,432.1 106.5,426.8 106.6,433.0 106.7,428.6 106.8,429.7 106.9,430.7 107.0,428.9 107.1,429.7 107.2,430.0 107.3,429.1 107.4,429.2 107.5,432.0 107.6,431.2 107.7,430.7 107.8,432.3 107.9,433.9 108.0,431.4 108.1,431.4 108.2,431.0 108.3,433.6 108.4,434.7 108.5,428.6 108.6,428.7 108.7,430.4 108.8,426.7 108.9,428.2 109.0,429.6 109.1,425.9 109.2,426.4 109.3,428.5 109.4,426.9 109.5,427.6 109.6,431.9 109.7,433.1 109.8,429.1 109.8,431.4 109.9,431.6 110.0,430.8 110.1,429.6 110.2,429.8 110.3,431.0 110.4,432.4 110.5,428.2 110.6,432.9 110.7,432.6 110.8,431.7 110.9,431.1 111.0,429.9 111.1,432.8 111.2,429.5 111.3,432.9 111.4,432.4 111.5,428.2 111.6,431.5 111.7,431.6 111.8,430.0 111.9,429.6 112.0,428.9 112.1,432.9 112.2,433.5 112.3,432.4 112.4,430.0 112.5,427.1 112.6,426.4 112.7,430.8 112.8,431.4 112.9,427.5 113.0,430.2 113.1,430.6 113.2,427.7 113.3,428.9 113.4,432.0 113.4,428.4 113.5,429.4 113.6,428.6 113.7,432.9 113.8,430.2 113.9,432.3 114.0,430.0 114.1,431.7 114.2,428.5 114.3,430.9 114.4,427.4 114.5,427.1 114.6,428.8 114.7,426.2 114.8,426.8 114.9,430.3 115.0,430.6 115.1,430.4 115.2,431.2 115.3,427.2 115.4,428.2 115.5,429.5 115.6,428.7 115.7,429.0 115.8,432.6 115.9,432.3 116.0,434.0 116.1,431.0 116.2,431.4 116.3,429.5 116.4,431.0 116.5,430.9 116.6,432.0 116.7,432.4 116.8,427.8 116.9,434.9 116.9,429.1 117.0,433.4 117.1,431.4 117.2,427.3 117.3,430.2 117.4,431.7 117.5,426.6 117.6,426.7 117.7,428.2 117.8,432.0 117.9,428.1 118.0,429.5 118.1,430.0 118.2,428.1 118.3,430.8 118.4,426.3 118.5,429.9 118.6,428.3 118.7,427.6 118.8,428.3 118.9,426.6 119.0,428.2 119.1,426.9 119.2,430.0 119.3,427.6 119.4,426.9 119.5,429.3 119.6,427.0 119.7,426.8 119.8,426.8 119.9,428.4 120.0,427.7 120.1,427.7 120.2,426.4 120.3,425.5 120.4,425.3 120.5,426.1 120.5,422.7 120.6,419.4 120.7,421.8 120.8,422.4 120.9,422.4 121.0,423.6 121.1,422.0 121.2,421.6 121.3,422.3 121.4,422.2 121.5,421.1 121.6,421.9 121.7,423.0 121.8,424.0 121.9,426.1 122.0,427.9 122.1,421.5 122.2,422.6 122.3,423.7 122.4,425.8 122.5,424.6 122.6,423.2 122.7,422.5 122.8,421.0 122.9,423.5 123.0,423.5 123.1,424.2 123.2,430.8 123.3,427.9 123.4,431.5 123.5,430.4 123.6,433.9 123.7,433.0 123.8,433.3 123.9,432.6 124.0,429.7 124.0,433.9 124.1,430.2 124.2,430.7 124.3,435.0 124.4,431.1 124.5,429.3 124.6,433.4 124.7,429.3 124.8,427.4 124.9,432.1 125.0,433.0 125.1,432.2 125.2,432.1 125.3,434.1 125.4,432.8 125.5,434.5 125.6,432.3 125.7,428.7 125.8,431.2 125.9,436.6 126.0,432.1 126.1,437.5 126.2,435.6 126.3,436.9 126.4,432.9 126.5,434.6 126.6,434.8 126.7,435.1 126.8,435.3 126.9,434.0 127.0,430.7 127.1,430.2 127.2,431.6 127.3,431.8 127.4,431.4 127.5,427.9 127.6,431.5 127.6,430.7 127.7,429.6 127.8,428.5 127.9,427.7 128.0,427.8 128.1,428.9 128.2,429.6 128.3,431.1 128.4,427.4 128.5,428.7 128.6,425.1 128.7,428.8 128.8,428.1 128.9,427.3 129.0,428.4 129.1,426.9 129.2,425.5 129.3,426.9 129.4,425.3 129.5,427.7 129.6,427.4 129.7,423.1 129.8,427.3 129.9,428.5 130.0,431.4 130.1,430.0 130.2,427.2 130.3,428.7 130.4,427.2 130.5,431.2 130.6,426.9 130.7,428.3 130.8,429.8 130.9,429.1 131.0,429.3 131.1,427.1 131.2,430.2 131.2,428.3 131.3,430.5 131.4,432.4 131.5,430.2 131.6,428.7 131.7,428.0 131.8,425.5 131.9,429.9 132.0,429.2 132.1,427.0 132.2,428.3 132.3,431.2 132.4,426.6 132.5,430.6 132.6,431.1 132.7,429.9 132.8,432.1 132.9,430.0 133.0,428.4 133.1,426.7 133.2,430.1 133.3,431.9 133.4,430.7 133.5,431.2 133.6,424.7 133.7,426.5 133.8,429.2 133.9,430.3 134.0,428.6 134.1,428.0 134.2,429.1 134.3,428.4 134.4,424.9 134.5,434.5 134.6,428.8 134.7,427.5 134.7,430.5 134.8,431.6 134.9,428.4 135.0,428.8 135.1,428.4 135.2,429.9 135.3,424.6 135.4,428.1 135.5,425.8 135.6,426.3 135.7,428.6 135.8,427.0 135.9,430.7 136.0,425.8 136.1,427.6 136.2,430.8 136.3,427.1 136.4,426.0 136.5,430.6 136.6,433.2 136.7,433.1 136.8,431.9 136.9,428.6 137.0,435.1 137.1,429.3 137.2,434.1 137.3,432.1 137.4,435.3 137.5,430.8 137.6,433.0 137.7,430.0 137.8,432.1 137.9,431.3 138.0,430.3 138.1,430.7 138.2,430.5 138.3,431.1 138.3,430.7 138.4,430.8 138.5,427.4 138.6,430.5 138.7,433.4 138.8,428.3 138.9,426.0 139.0,429.6 139.1,428.6 139.2,428.4 139.3,426.3 139.4,424.2 139.5,425.5 139.6,426.2 139.7,422.9 139.8,423.6 139.9,425.0 140.0,424.6 140.1,421.4 140.2,423.4 140.3,423.9 140.4,426.2 140.5,421.4 140.6,425.7 140.7,424.2 140.8,424.8 140.9,426.7 141.0,426.3 141.1,422.9 141.2,425.2 141.3,424.1 141.4,421.7 141.5,428.0 141.6,426.8 141.7,426.4 141.8,430.0 141.9,429.0 141.9,423.8 142.0,427.4 142.1,424.5 142.2,423.2 142.3,428.7 142.4,424.7 142.5,426.8 142.6,429.6 142.7,427.9 142.8,426.9 142.9,428.8 143.0,427.1 143.1,427.5 143.2,433.1 143.3,428.2 143.4,430.5 143.5,428.7 143.6,430.9 143.7,428.8 143.8,431.8 143.9,433.6 144.0,428.3 144.1,432.2 144.2,429.8 144.3,432.3 144.4,434.0 144.5,433.9 144.6,429.8 144.7,430.8 144.8,431.8 144.9,435.9 145.0,431.5 145.1,433.0 145.2,431.3 145.3,431.4 145.4,431.0 145.4,430.5 145.5,432.0 145.6,429.9 145.7,433.4 145.8,432.2 145.9,429.2 146.0,430.7 146.1,432.3 146.2,431.8 146.3,431.2 146.4,432.2 146.5,434.2 146.6,429.9 146.7,432.6 146.8,436.1 146.9,434.5 147.0,433.7 147.1,433.1 147.2,431.6 147.3,435.0 147.4,435.6 147.5,437.5 147.6,432.9 147.7,434.8 147.8,436.8 147.9,433.8 148.0,432.6 148.1,437.1 148.2,437.0 148.3,435.0 148.4,433.4 148.5,438.7 148.6,433.4 148.7,437.2 148.8,439.9 148.9,433.9 149.0,439.5 149.0,438.1 149.1,433.3 149.2,439.6 149.3,435.4 149.4,439.3 149.5,436.8 149.6,434.4 149.7,438.8 149.8,436.1 149.9,430.5 150.0,435.7 150.1,435.2 150.2,435.1 150.3,436.2 150.4,431.5 150.5,437.7 150.6,431.6 150.7,432.2 150.8,434.3 150.9,431.8 151.0,436.8 151.1,434.0 151.2,432.6 151.3,434.2 151.4,436.0 151.5,433.5 151.6,432.0 151.7,435.6 151.8,433.4 151.9,435.3 152.0,434.0 152.1,434.9 152.2,431.6 152.3,433.8 152.4,435.2 152.5,432.1 152.6,434.7 152.6,433.7 152.7,434.1 152.8,433.5 152.9,429.6 153.0,432.3 153.1,433.1 153.2,430.6 153.3,432.6 153.4,431.6 153.5,430.6 153.6,427.5 153.7,428.3 153.8,432.3 153.9,427.8 154.0,426.4 154.1,431.9 154.2,430.3 154.3,428.7 154.4,427.1 154.5,432.1 154.6,426.1 154.7,427.2 154.8,428.6 154.9,425.6 155.0,431.8 155.1,425.3 155.2,428.9 155.3,425.5 155.4,430.5 155.5,425.5 155.6,428.4 155.7,430.8 155.8,428.7 155.9,424.6 156.0,429.9 156.1,428.1 156.1,427.5 156.2,427.5 156.3,429.7 156.4,429.2 156.5,429.6 156.6,427.9 156.7,432.5 156.8,430.9 156.9,429.9 157.0,425.5 157.1,430.1 157.2,429.8 157.3,426.2 157.4,431.8 157.5,429.5 157.6,428.6 157.7,424.6 157.8,424.8 157.9,423.5 158.0,433.9 158.1,430.0 158.2,426.6 158.3,431.8 158.4,428.0 158.5,432.8 158.6,427.7 158.7,431.8 158.8,432.9 158.9,432.3 159.0,426.1 159.1,430.0 159.2,428.8 159.3,434.8 159.4,433.5 159.5,433.9 159.6,433.3 159.7,435.8 159.7,435.5 159.8,436.8 159.9,436.2 160.0,436.5 160.1,434.1 160.2,434.7 160.3,436.3 160.4,434.5 160.5,433.4 160.6,436.1 160.7,435.5 160.8,433.7 160.9,437.7 161.0,436.2 161.1,435.5 161.2,432.5 161.3,436.6 161.4,433.4 161.5,432.1 161.6,435.2 161.7,429.8 161.8,437.7 161.9,434.5 162.0,427.5 162.1,428.1 162.2,433.0 162.3,431.1 162.4,433.0 162.5,431.9 162.6,432.8 162.7,429.5 162.8,431.0 162.9,433.5 163.0,429.7 163.1,434.2 163.2,427.0 163.3,434.0 163.3,433.3 163.4,429.0 163.5,429.6 163.6,428.6 163.7,432.0 163.8,427.4 163.9,435.1 164.0,428.5 164.1,426.1 164.2,429.9 164.3,431.6 164.4,430.8 164.5,432.7 164.6,429.5 164.7,431.6 164.8,429.8 164.9,430.3 165.0,430.4 165.1,430.8 165.2,430.1 165.3,432.7 165.4,430.8 165.5,429.7 165.6,427.4 165.7,429.1 165.8,429.2 165.9,428.4 166.0,429.7 166.1,428.4 166.2,426.5 166.3,430.0 166.4,428.3 166.5,428.8 166.6,428.6 166.7,425.0 166.8,430.9 166.8,427.2 166.9,429.3 167.0,428.8 167.1,428.7 167.2,426.6 167.3,425.0 167.4,428.8 167.5,429.7 167.6,426.1 167.7,423.8 167.8,425.2 167.9,425.6 168.0,428.5 168.1,427.0 168.2,426.6 168.3,431.2 168.4,426.0 168.5,429.5 168.6,425.0 168.7,427.9 168.8,428.4 168.9,426.2 169.0,427.2 169.1,425.9 169.2,425.6 169.3,428.6 169.4,427.3 169.5,426.0 169.6,425.3 169.7,423.2 169.8,426.8 169.9,424.3 170.0,422.7 170.1,423.6 170.2,426.7 170.3,426.4 170.4,424.4 170.4,425.6 170.5,425.8 170.6,427.0 170.7,429.1 170.8,427.6 170.9,427.7 171.0,427.7 171.1,428.1 171.2,425.2 171.3,426.8 171.4,429.5 171.5,428.1 171.6,432.9 171.7,428.2 171.8,426.3 171.9,431.3 172.0,429.8 172.1,428.0 172.2,428.5 172.3,426.8 172.4,425.5 172.5,427.9 172.6,427.7 172.7,424.2 172.8,422.8 172.9,422.0 173.0,423.2 173.1,425.3 173.2,423.8 173.3,426.7 173.4,427.1 173.5,427.9 173.6,424.8 173.7,424.8 173.8,426.1 173.9,426.4 174.0,425.5 174.0,427.0 174.1,428.1 174.2,427.6 174.3,427.0 174.4,426.6 174.5,426.8 174.6,422.7 174.7,427.0 174.8,429.0 174.9,426.4 175.0,427.9 175.1,429.6 175.2,430.6 175.3,428.4 175.4,428.4 175.5,424.3 175.6,429.5 175.7,425.8 175.8,431.5 175.9,429.3 176.0,430.5 176.1,431.4 176.2,429.1 176.3,429.5 176.4,432.1 176.5,431.7 176.6,430.7 176.7,431.0 176.8,432.6 176.9,433.4 177.0,429.9 177.1,431.5 177.2,427.8 177.3,431.2 177.4,429.2 177.5,430.8 177.5,428.7 177.6,430.9 177.7,427.6 177.8,432.5 177.9,433.4 178.0,430.6 178.1,428.3 178.2,434.1 178.3,433.9 178.4,432.2 178.5,434.2 178.6,432.2 178.7,432.6 178.8,434.7 178.9,434.4 179.0,432.2 179.1,430.6 179.2,431.2 179.3,434.3 179.4,432.0 179.5,432.4 179.6,432.1 179.7,435.0 179.8,434.5 179.9,437.0 180.0,435.2 180.1,430.5 180.2,434.6 180.3,435.3 180.4,435.1 180.5,436.9 180.6,441.2 180.7,439.9 180.8,436.3 180.9,434.4 181.0,436.2 181.1,433.3 181.1,436.7 181.2,433.4 181.3,433.9 181.4,437.1 181.5,434.4 181.6,432.5 181.7,430.1 181.8,435.4 181.9,432.7 182.0,431.3 182.1,436.4 182.2,430.7 182.3,430.7 182.4,430.9 182.5,427.2 182.6,428.3 182.7,429.5 182.8,428.1 182.9,430.5 183.0,429.7 183.1,429.5 183.2,432.3 183.3,428.5 183.4,431.3 183.5,435.4 183.6,429.5 183.7,431.8 183.8,432.4 183.9,428.6 184.0,428.5 184.1,426.1 184.2,430.5 184.3,425.6 184.4,425.5 184.5,426.5 184.6,427.0 184.7,425.9 184.7,429.8 184.8,426.5 184.9,427.7 185.0,431.5 185.1,430.8 185.2,428.9 185.3,427.6 185.4,429.1 185.5,425.2 185.6,427.5 185.7,425.9 185.8,427.4 185.9,427.2 186.0,425.5 186.1,426.0 186.2,422.7 186.3,424.7 186.4,424.7 186.5,426.4 186.6,422.1 186.7,421.6 186.8,425.2 186.9,417.4 187.0,423.1 187.1,424.1 187.2,422.6 187.3,423.9 187.4,421.2 187.5,420.7 187.6,422.9 187.7,422.3 187.8,423.6 187.9,421.8 188.0,424.4 188.1,425.7 188.2,422.1 188.2,422.4 188.3,426.1 188.4,424.4 188.5,423.3 188.6,424.7 188.7,426.7 188.8,426.7 188.9,424.4 189.0,429.1 189.1,429.1 189.2,426.1 189.3,428.6 189.4,429.2 189.5,426.5 189.6,426.5 189.7,427.5 189.8,424.1 189.9,426.5 190.0,428.1 190.1,427.3 190.2,429.3 190.3,426.4 190.4,427.2 190.5,425.7 190.6,427.0 190.7,424.2 190.8,426.5 190.9,427.0 191.0,428.2 191.1,427.4 191.2,429.8 191.3,429.1 191.4,426.8 191.5,426.7 191.6,429.1 191.7,424.5 191.8,426.1 191.8,426.6 191.9,426.9 192.0,426.4 192.1,427.9 192.2,427.0 192.3,426.9 192.4,430.0 192.5,431.4 192.6,427.4 192.7,429.2 192.8,428.5 192.9,430.3 193.0,427.0 193.1,425.3 193.2,428.9 193.3,427.2 193.4,429.6 193.5,431.0 193.6,431.3 193.7,434.8 193.8,431.5 193.9,431.0 194.0,431.5 194.1,431.8 194.2,431.4 194.3,431.9 194.4,435.3 194.5,433.8 194.6,431.0 194.7,433.8 194.8,430.0 194.9,427.6 195.0,428.3 195.1,431.5 195.2,430.6 195.3,428.3 195.3,431.3 195.4,431.9 195.5,428.0 195.6,433.3 195.7,431.7 195.8,428.7 195.9,430.7 196.0,430.8 196.1,429.5 196.2,429.4 196.3,429.8 196.4,429.0 196.5,428.5 196.6,425.8 196.7,429.2 196.8,430.0 196.9,427.3 197.0,426.4 197.1,427.4 197.2,430.5 197.3,427.0 197.4,428.2 197.5,424.4 197.6,426.0 197.7,428.3 197.8,423.7 197.9,429.6 198.0,428.3 198.1,426.1 198.2,426.5 198.3,429.8 198.4,427.8 198.5,427.1 198.6,426.7 198.7,430.5 198.8,429.9 198.9,428.5 198.9,427.3 199.0,426.1 199.1,428.4 199.2,421.2 199.3,423.8 199.4,425.0 199.5,425.4 199.6,422.5 199.7,425.1 199.8,424.0 199.9,426.3 200.0,423.7 200.1,426.9 200.2,424.6 200.3,422.9 200.4,425.5 200.5,425.2 200.6,427.2 200.7,424.9 200.8,424.8 200.9,423.8 201.0,422.4 201.1,422.5 201.2,425.5 201.3,426.6 201.4,425.9 201.5,426.0 201.6,426.0 201.7,427.3 201.8,425.5 201.9,424.6 202.0,425.3 202.1,426.2 202.2,425.5 202.3,424.2 202.4,424.7 202.5,425.5 202.5,425.9 202.6,427.3 202.7,425.3 202.8,429.8 202.9,423.6 203.0,429.1 203.1,426.7 203.2,424.4 203.3,425.7 203.4,426.8 203.5,429.6 203.6,426.1 203.7,429.2 203.8,427.3 203.9,428.2 204.0,427.9 204.1,428.6 204.2,429.2 204.3,425.9 204.4,430.3 204.5,429.8 204.6,430.3 204.7,431.0 204.8,431.6 204.9,429.9 205.0,429.6 205.1,434.5 205.2,432.4 205.3,431.6 205.4,429.9 205.5,432.7 205.6,430.2 205.7,432.0 205.8,431.3 205.9,431.3 206.0,430.9 206.0,436.3 206.1,430.6 206.2,430.6 206.3,432.1 206.4,431.2 206.5,428.9 206.6,432.6 206.7,428.8 206.8,428.2 206.9,432.7 207.0,432.9 207.1,430.9 207.2,428.7 207.3,431.4 207.4,432.6 207.5,430.4 207.6,430.8 207.7,432.0 207.8,431.5 207.9,428.9 208.0,432.1 208.1,429.4 208.2,429.9 208.3,427.2 208.4,428.9 208.5,428.5 208.6,430.5 208.7,423.5 208.8,430.5 208.9,426.7 209.0,427.3 209.1,431.1 209.2,430.4 209.3,429.5 209.4,425.9 209.5,427.8 209.6,428.2 209.6,434.3 209.7,430.4 209.8,428.9 209.9,428.6 210.0,432.0 210.1,425.5 210.2,429.9 210.3,428.4 210.4,432.1 210.5,429.9 210.6,427.7 210.7,430.4 210.8,430.9 210.9,427.7 211.0,430.3 211.1,432.5 211.2,433.7 211.3,431.0 211.4,430.4 211.5,428.8 211.6,430.7 211.7,430.0 211.8,429.5 211.9,426.2 212.0,430.9 212.1,428.4 212.2,432.3 212.3,432.7 212.4,431.8 212.5,429.7 212.6,429.9 212.7,427.7 212.8,427.3 212.9,428.2 213.0,428.0 213.1,429.8 213.2,427.9 213.2,426.5 213.3,424.1 213.4,425.7 213.5,429.3 213.6,424.0 213.7,426.4 213.8,428.1 213.9,430.8 214.0,428.2 214.1,430.6 214.2,429.7 214.3,433.2 214.4,431.5 214.5,430.6 214.6,430.0 214.7,428.9 214.8,428.6 214.9,431.2 215.0,430.9 215.1,429.8 215.2,432.8 215.3,430.6 215.4,430.3 215.5,431.0 215.6,426.2 215.7,431.3 215.8,429.2 215.9,429.3 216.0,430.4 216.1,427.4 216.2,431.9 216.3,430.4 216.4,427.7 216.5,427.1 216.6,429.1 216.7,429.7 216.7,433.2 216.8,430.5 216.9,430.7 217.0,433.0 217.1,428.0 217.2,432.1 217.3,430.6 217.4,433.1 217.5,431.0 217.6,428.3 217.7,435.0 217.8,432.1 217.9,430.6 218.0,433.6 218.1,435.3 218.2,431.4 218.3,430.6 218.4,431.2 218.5,437.0 218.6,428.5 218.7,434.3 218.8,432.6 218.9,427.3 219.0,434.3 219.1,427.9 219.2,431.4 219.3,434.7 219.4,427.9 219.5,431.8 219.6,433.9 219.7,431.0 219.8,428.2 219.9,429.7 220.0,429.0 220.1,432.6 220.2,431.4 220.3,430.4 220.3,424.8 220.4,427.8 220.5,430.1 220.6,433.3 220.7,433.5 220.8,431.2 220.9,429.1 221.0,429.7 221.1,429.9 221.2,432.2 221.3,429.5 221.4,428.2 221.5,433.9 221.6,427.7 221.7,431.8 221.8,433.4 221.9,427.9 222.0,434.5 222.1,436.3 222.2,431.4 222.3,428.7 222.4,429.0 222.5,428.7 222.6,431.0 222.7,427.8 222.8,427.3 222.9,429.0 223.0,429.9 223.1,430.0 223.2,432.2 223.3,426.2 223.4,431.5 223.5,429.1 223.6,433.9 223.7,432.6 223.8,431.5 223.9,432.0 223.9,431.3 224.0,432.7 224.1,432.0 224.2,431.7 224.3,432.2 224.4,428.0 224.5,429.2 224.6,430.4 224.7,428.4 224.8,427.5 224.9,429.5 225.0,429.9 225.1,430.4 225.2,423.9 225.3,430.2 225.4,428.6 225.5,428.0 225.6,429.9 225.7,428.3 225.8,428.9 225.9,428.2 226.0,430.2 226.1,427.6 226.2,428.9 226.3,425.7 226.4,427.3 226.5,429.9 226.6,432.0 226.7,428.6 226.8,429.6 226.9,425.1 227.0,427.2 227.1,427.1 227.2,427.2 227.3,426.1 227.4,422.1 227.4,424.4 227.5,421.4 227.6,424.5 227.7,424.6 227.8,427.7 227.9,424.6 228.0,427.1 228.1,423.5 228.2,423.7 228.3,426.5 228.4,423.2 228.5,427.2 228.6,425.3 228.7,426.3 228.8,426.8 228.9,428.4 229.0,422.7 229.1,424.4 229.2,428.5 229.3,426.8 229.4,423.9 229.5,426.0 229.6,425.3 229.7,425.0 229.8,425.8 229.9,428.4 230.0,423.0 230.1,425.1 230.2,425.7 230.3,427.4 230.4,427.4 230.5,430.5 230.6,426.7 230.7,430.1 230.8,426.6 230.9,430.5 231.0,431.2 231.0,430.7 231.1,430.8 231.2,434.1 231.3,427.9 231.4,428.6 231.5,425.0 231.6,430.9 231.7,431.6 231.8,427.6 231.9,430.7 232.0,429.9 232.1,429.5 232.2,427.6 232.3,428.7 232.4,427.7 232.5,428.6 232.6,427.2 232.7,428.3 232.8,427.4 232.9,426.6 233.0,423.9 233.1,429.4 233.2,426.3 233.3,427.8 233.4,426.1 233.5,430.2 233.6,427.8 233.7,428.5 233.8,428.9 233.9,426.2 234.0,428.3 234.1,430.3 234.2,428.5 234.3,432.0 234.4,432.1 234.5,431.9 234.6,429.3 234.6,429.6 234.7,433.3 234.8,432.2 234.9,436.7 235.0,435.0 235.1,435.5 235.2,430.4 235.3,433.3 235.4,435.2 235.5,432.8 235.6,430.9 235.7,432.4 235.8,433.2 235.9,429.9 236.0,431.1 236.1,431.0 236.2,433.3 236.3,430.4 236.4,430.2 236.5,429.5 236.6,430.8 236.7,430.7 236.8,430.4 236.9,429.1 237.0,427.4 237.1,434.2 237.2,432.9 237.3,428.9 237.4,432.4 237.5,434.2 237.6,432.4 237.7,430.7 237.8,433.0 237.9,433.8 238.0,433.0 238.1,434.9 238.1,435.6 238.2,429.5 238.3,433.5 238.4,432.0 238.5,430.1 238.6,433.7 238.7,433.1 238.8,430.1 238.9,431.3 239.0,430.0 239.1,429.6 239.2,425.7 239.3,432.0 239.4,431.2 239.5,427.4 239.6,427.3 239.7,430.5 239.8,429.7 239.9,431.6 240.0,430.4 240.1,429.4 240.2,428.8 240.3,429.5 240.4,428.7 240.5,429.4 240.6,426.1 240.7,429.5 240.8,428.0 240.9,431.9 241.0,430.1 241.1,430.3 241.2,431.0 241.3,430.5 241.4,429.1 241.5,431.1 241.6,433.7 241.7,428.3 241.7,426.4 241.8,427.8 241.9,428.9 242.0,430.2 242.1,429.3 242.2,427.2 242.3,430.2 242.4,433.0 242.5,430.4 242.6,434.1 242.7,429.0 242.8,431.3 242.9,429.8 243.0,432.1 243.1,435.8 243.2,431.7 243.3,432.5 243.4,430.6 243.5,427.7 243.6,432.4 243.7,431.5 243.8,432.8 243.9,430.3 244.0,429.6 244.1,431.1 244.2,430.6 244.3,429.6 244.4,428.7 244.5,435.6 244.6,434.5 244.7,432.2 244.8,434.3 244.9,431.4 245.0,430.4 245.1,434.8 245.2,433.4 245.3,435.2 245.3,432.3 245.4,434.6 245.5,432.9 245.6,430.7 245.7,432.3 245.8,433.9 245.9,429.3 246.0,434.9 246.1,434.9 246.2,429.7 246.3,434.1 246.4,432.2 246.5,435.8 246.6,437.2 246.7,432.9 246.8,435.0 246.9,438.2 247.0,436.7 247.1,437.0 247.2,437.1 247.3,434.8 247.4,437.1 247.5,433.8 247.6,436.1 247.7,433.6 247.8,432.8 247.9,431.3 248.0,432.2 248.1,436.0 248.2,436.4 248.3,430.8 248.4,433.3 248.5,433.1 248.6,432.2 248.7,426.8 248.8,434.4 248.8,431.0 248.9,431.2 249.0,430.1 249.1,431.6 249.2,431.8 249.3,430.6 249.4,429.7 249.5,429.8 249.6,429.9 249.7,430.3 249.8,433.4 249.9,434.0 250.0,428.7 250.1,432.0 250.2,429.9 250.3,432.6 250.4,429.7 250.5,431.8 250.6,427.6 250.7,428.8 250.8,427.8 250.9,432.4 251.0,428.5 251.1,430.0 251.2,430.9 251.3,427.5 251.4,430.6 251.5,426.6 251.6,428.1 251.7,427.6 251.8,428.4 251.9,429.5 252.0,429.9 252.1,429.8 252.2,430.1 252.3,427.3 252.4,429.1 252.4,425.7 252.5,426.6 252.6,429.5 252.7,428.6 252.8,426.8 252.9,430.1 253.0,431.3 253.1,425.1 253.2,427.5 253.3,428.8 253.4,425.7 253.5,426.9 253.6,423.9 253.7,422.2 253.8,421.5 253.9,423.6 254.0,423.0 254.1,425.7 254.2,421.4 254.3,422.3 254.4,425.5 254.5,425.3 254.6,427.9 254.7,426.7 254.8,428.2 254.9,425.5 255.0,429.1 255.1,423.7 255.2,426.5 255.3,426.7 255.4,426.1 255.5,427.9 255.6,425.3 255.7,426.4 255.8,427.0 255.9,424.6 256.0,425.5 256.0,425.0 256.1,425.7 256.2,423.7 256.3,426.8 256.4,427.6 256.5,427.3 256.6,426.9 256.7,424.3 256.8,426.6 256.9,425.3 257.0,426.1 257.1,426.3 257.2,426.5 257.3,428.2 257.4,426.6 257.5,428.0 257.6,427.4 257.7,426.4 257.8,428.1 257.9,424.6 258.0,428.6 258.1,427.2 258.2,429.7 258.3,431.5 258.4,429.4 258.5,436.2 258.6,433.6 258.7,429.5 258.8,433.3 258.9,434.1 259.0,431.7 259.1,435.5 259.2,435.8 259.3,433.1 259.4,434.1 259.5,432.0 259.5,431.8 259.6,432.0 259.7,432.5 259.8,435.3 259.9,432.5 260.0,436.3 260.1,432.9 260.2,430.1 260.3,433.2 260.4,436.4 260.5,434.3 260.6,435.7 260.7,436.7 260.8,438.8 260.9,435.7 261.0,435.4 261.1,434.2 261.2,435.1 261.3,432.3" fill="none" stroke="#1F7DD3" stroke-width="1.55" stroke-linejoin="round"/>
<rect x="47.4" y="378.4" width="213.9" height="105.2" fill="none" stroke="#a6a6a6" stroke-width="1"/>
<path d="M100.88,483.6 v-2.3 M100.88,378.4 v2.3 M154.35,483.6 v-2.3 M154.35,378.4 v2.3 M207.83,483.6 v-2.3 M207.83,378.4 v2.3 M47.4,391.62 h2.3 M261.3,391.62 h-2.3 M47.4,430.7 h2.3 M261.3,430.7 h-2.3 M47.4,469.77 h2.3 M261.3,469.77 h-2.3 " stroke="#a6a6a6" stroke-width="0.9" fill="none"/>
<text class="tk" transform="translate(47.5,501.1) scale(0.94,1)" text-anchor="middle">0</text>
<text class="tk" transform="translate(100.97,501.1) scale(0.94,1)" text-anchor="middle">5</text>
<text class="tk" transform="translate(154.45,501.1) scale(0.94,1)" text-anchor="middle">10</text>
<text class="tk" transform="translate(207.93,501.1) scale(0.94,1)" text-anchor="middle">15</text>
<text class="tk" transform="translate(261.4,501.1) scale(0.94,1)" text-anchor="middle">20</text>
<text class="tk" transform="translate(41.8,396.22) scale(0.94,1)" text-anchor="end">5</text>
<text class="tk" transform="translate(41.8,435.3) scale(0.94,1)" text-anchor="end">0</text>
<text class="tk" transform="translate(41.8,474.37) scale(0.94,1)" text-anchor="end">−<tspan dx="1.3">5</tspan></text>
<text class="tt" x="100.45" y="372.1" textLength="93.1" lengthAdjust="spacingAndGlyphs">Vacuum cleaner</text>
<text class="lb" x="125.65" y="519.6" textLength="54.5" lengthAdjust="spacingAndGlyphs">time [ms]</text>
<text class="yl" transform="translate(18.6,432.2) rotate(-90)" x="-10.7" textLength="21.4" lengthAdjust="spacingAndGlyphs">u[V]</text>
<text class="cp" x="137.6" y="542.1" text-anchor="middle">(e)</text>
</g>
<g>
<clipPath id="cf"><rect x="324.4" y="378.7" width="202.9" height="107.5"/></clipPath>
<path clip-path="url(#cf)" d="M324.4,437.1 324.5,436.5 324.6,453.7 324.7,438.2 324.8,435.9 324.9,438.0 325.0,436.8 325.0,426.5 325.1,437.4 325.2,437.4 325.3,438.2 325.4,438.6 325.5,438.9 325.6,437.5 325.7,438.9 325.8,436.8 325.9,437.1 326.0,436.3 326.1,438.3 326.2,436.9 326.2,438.9 326.3,438.8 326.4,438.0 326.5,437.8 326.6,439.5 326.7,439.7 326.8,437.8 326.9,438.9 327.0,437.0 327.1,437.7 327.2,437.8 327.3,437.9 327.4,437.3 327.4,438.2 327.5,437.1 327.6,438.6 327.7,438.3 327.8,438.7 327.9,437.6 328.0,438.1 328.1,438.9 328.2,436.3 328.3,438.4 328.4,438.2 328.5,437.7 328.6,436.5 328.6,438.2 328.7,437.5 328.8,438.0 328.9,439.4 329.0,437.4 329.1,437.2 329.2,438.3 329.3,438.1 329.4,439.5 329.5,439.5 329.6,438.5 329.7,437.5 329.8,438.5 329.8,437.8 329.9,437.2 330.0,438.0 330.1,437.6 330.2,436.8 330.3,439.2 330.4,437.4 330.5,439.8 330.6,437.7 330.7,437.9 330.8,438.6 330.9,439.1 331.0,438.2 331.0,438.5 331.1,438.0 331.2,438.9 331.3,437.6 331.4,439.0 331.5,438.4 331.6,438.5 331.7,437.0 331.8,439.5 331.9,438.5 332.0,437.0 332.1,438.7 332.2,439.2 332.2,437.8 332.3,438.4 332.4,437.3 332.5,456.7 332.6,437.9 332.7,435.2 332.8,438.7 332.9,437.8 333.0,437.3 333.1,423.4 333.2,440.1 333.3,437.0 333.4,439.1 333.4,437.7 333.5,438.2 333.6,437.3 333.7,438.1 333.8,438.1 333.9,436.6 334.0,440.0 334.1,439.7 334.2,438.6 334.3,439.2 334.4,440.4 334.5,438.8 334.5,438.8 334.6,440.3 334.7,405.3 334.8,436.9 334.9,434.1 335.0,439.8 335.1,436.6 335.2,440.3 335.3,447.6 335.4,439.6 335.5,436.4 335.6,439.1 335.7,436.5 335.7,438.0 335.8,436.6 335.9,439.8 336.0,439.6 336.1,437.8 336.2,438.5 336.3,437.9 336.4,437.8 336.5,437.9 336.6,437.3 336.7,437.6 336.8,437.7 336.9,438.9 336.9,436.5 337.0,438.0 337.1,437.1 337.2,437.8 337.3,437.0 337.4,438.0 337.5,437.9 337.6,438.0 337.7,438.7 337.8,438.6 337.9,438.2 338.0,438.2 338.1,439.0 338.1,436.0 338.2,439.0 338.3,438.4 338.4,435.9 338.5,438.7 338.6,437.4 338.7,437.5 338.8,438.3 338.9,439.4 339.0,439.5 339.1,438.1 339.2,437.7 339.3,440.0 339.3,438.0 339.4,438.7 339.5,437.3 339.6,437.9 339.7,438.8 339.8,438.5 339.9,438.1 340.0,436.9 340.1,435.3 340.2,437.8 340.3,438.0 340.4,437.5 340.5,438.1 340.5,437.5 340.6,437.7 340.7,438.0 340.8,438.7 340.9,437.9 341.0,437.2 341.1,437.9 341.2,436.6 341.3,437.2 341.4,438.1 341.5,436.4 341.6,439.0 341.7,437.0 341.7,436.3 341.8,438.2 341.9,438.1 342.0,437.2 342.1,436.7 342.2,437.6 342.3,437.8 342.4,437.2 342.5,437.8 342.6,455.7 342.7,438.2 342.8,435.8 342.9,440.3 342.9,437.0 343.0,439.2 343.1,436.7 343.2,439.7 343.3,438.5 343.4,439.7 343.5,436.6 343.6,437.1 343.7,436.7 343.8,436.7 343.9,437.2 344.0,437.2 344.1,439.5 344.1,437.7 344.2,438.4 344.3,438.3 344.4,439.1 344.5,436.8 344.6,406.3 344.7,439.3 344.8,434.8 344.9,440.5 345.0,437.6 345.1,439.9 345.2,445.6 345.3,441.2 345.3,438.2 345.4,438.5 345.5,436.7 345.6,438.5 345.7,439.0 345.8,438.8 345.9,437.8 346.0,437.5 346.1,438.8 346.2,439.1 346.3,437.1 346.4,438.0 346.5,438.4 346.5,438.8 346.6,438.7 346.7,436.7 346.8,437.2 346.9,438.5 347.0,439.2 347.1,436.6 347.2,436.7 347.3,437.0 347.4,437.3 347.5,439.8 347.6,439.3 347.7,437.6 347.7,438.4 347.8,437.9 347.9,438.6 348.0,438.7 348.1,437.6 348.2,438.5 348.3,438.1 348.4,437.9 348.5,437.9 348.6,437.1 348.7,436.9 348.8,439.3 348.9,438.3 348.9,438.7 349.0,437.4 349.1,439.1 349.2,437.4 349.3,437.5 349.4,437.6 349.5,439.0 349.6,438.3 349.7,439.1 349.8,437.7 349.9,437.2 350.0,439.5 350.1,438.8 350.1,438.3 350.2,438.6 350.3,436.8 350.4,438.2 350.5,437.9 350.6,439.1 350.7,436.7 350.8,438.0 350.9,437.4 351.0,438.0 351.1,440.0 351.2,439.5 351.3,461.8 351.3,437.7 351.4,436.0 351.5,440.1 351.6,436.8 351.7,438.6 351.8,436.3 351.9,438.6 352.0,439.3 352.1,439.0 352.2,436.4 352.3,433.6 352.4,436.9 352.4,436.3 352.5,438.8 352.6,437.5 352.7,439.6 352.8,437.3 352.9,438.9 353.0,439.2 353.1,438.6 353.2,438.5 353.3,438.7 353.4,437.9 353.5,438.3 353.6,438.7 353.6,437.2 353.7,435.9 353.8,438.0 353.9,438.7 354.0,439.0 354.1,437.6 354.2,438.3 354.3,438.1 354.4,439.9 354.5,439.1 354.6,439.1 354.7,437.2 354.8,438.3 354.8,440.3 354.9,437.7 355.0,437.1 355.1,436.9 355.2,440.6 355.3,438.0 355.4,437.4 355.5,437.6 355.6,438.3 355.7,439.7 355.8,438.5 355.9,438.4 356.0,437.6 356.0,437.5 356.1,438.3 356.2,437.3 356.3,439.1 356.4,438.7 356.5,438.1 356.6,437.6 356.7,438.4 356.8,437.0 356.9,437.7 357.0,439.0 357.1,438.0 357.2,438.9 357.2,439.0 357.3,439.4 357.4,436.8 357.5,437.3 357.6,439.5 357.7,437.1 357.8,437.2 357.9,438.4 358.0,437.6 358.1,436.1 358.2,437.8 358.3,437.7 358.4,400.2 358.4,439.0 358.5,435.7 358.6,441.2 358.7,437.0 358.8,438.7 358.9,437.1 359.0,440.4 359.1,437.3 359.2,439.3 359.3,466.8 359.4,438.4 359.5,434.5 359.6,440.0 359.6,436.6 359.7,440.1 359.8,437.8 359.9,417.4 360.0,434.5 360.1,436.2 360.2,440.3 360.3,437.4 360.4,438.0 360.5,439.1 360.6,439.0 360.7,438.2 360.8,439.1 360.8,438.5 360.9,437.4 361.0,438.5 361.1,438.3 361.2,436.5 361.3,438.8 361.4,439.8 361.5,437.5 361.6,436.2 361.7,437.9 361.8,437.8 361.9,439.2 362.0,438.9 362.0,436.7 362.1,436.9 362.2,437.5 362.3,438.6 362.4,439.1 362.5,439.0 362.6,439.1 362.7,437.5 362.8,438.8 362.9,438.5 363.0,437.4 363.1,437.5 363.2,438.0 363.2,437.7 363.3,438.1 363.4,439.8 363.5,438.2 363.6,438.5 363.7,438.4 363.8,437.9 363.9,438.6 364.0,437.0 364.1,438.3 364.2,437.9 364.3,437.8 364.4,452.7 364.4,437.5 364.5,436.8 364.6,438.9 364.7,437.6 364.8,439.3 364.9,438.0 365.0,438.4 365.1,439.5 365.2,439.0 365.3,438.9 365.4,430.5 365.5,439.0 365.6,437.1 365.6,438.4 365.7,437.0 365.8,439.2 365.9,438.5 366.0,438.5 366.1,436.4 366.2,436.7 366.3,438.6 366.4,437.6 366.5,436.2 366.6,439.0 366.7,438.3 366.8,436.9 366.8,437.5 366.9,439.0 367.0,436.7 367.1,437.2 367.2,437.5 367.3,439.2 367.4,438.3 367.5,436.9 367.6,437.7 367.7,437.4 367.8,438.3 367.9,436.7 368.0,438.3 368.0,437.3 368.1,437.8 368.2,439.0 368.3,436.8 368.4,439.2 368.5,438.8 368.6,438.0 368.7,439.4 368.8,439.7 368.9,438.2 369.0,438.5 369.1,438.4 369.2,437.7 369.2,436.1 369.3,438.5 369.4,435.9 369.5,437.9 369.6,438.2 369.7,440.6 369.8,439.5 369.9,437.9 370.0,437.6 370.1,438.9 370.2,437.9 370.3,437.3 370.4,438.6 370.4,439.6 370.5,439.0 370.6,438.4 370.7,437.9 370.8,381.4 370.9,439.0 371.0,432.7 371.1,441.0 371.2,434.0 371.3,440.4 371.4,435.7 371.5,440.0 371.5,437.4 371.6,440.0 371.7,437.8 371.8,459.8 371.9,438.3 372.0,436.4 372.1,440.9 372.2,437.8 372.3,439.2 372.4,435.0 372.5,427.5 372.6,437.2 372.7,437.5 372.7,438.8 372.8,436.1 372.9,438.9 373.0,438.6 373.1,439.4 373.2,437.8 373.3,439.3 373.4,438.8 373.5,439.0 373.6,439.3 373.7,438.0 373.8,439.6 373.9,436.1 373.9,440.6 374.0,439.4 374.1,438.1 374.2,437.7 374.3,438.4 374.4,437.9 374.5,438.0 374.6,438.0 374.7,437.6 374.8,437.9 374.9,438.2 375.0,438.2 375.1,437.3 375.1,438.3 375.2,437.6 375.3,436.7 375.4,437.7 375.5,437.0 375.6,438.5 375.7,437.8 375.8,437.6 375.9,437.9 376.0,437.7 376.1,436.8 376.2,438.4 376.3,438.7 376.3,437.8 376.4,439.4 376.5,438.1 376.6,437.0 376.7,438.1 376.8,437.6 376.9,437.8 377.0,437.0 377.1,437.6 377.2,437.9 377.3,441.1 377.4,438.6 377.5,437.5 377.5,438.2 377.6,438.8 377.7,437.3 377.8,438.9 377.9,417.4 378.0,437.5 378.1,437.4 378.2,440.0 378.3,437.3 378.4,440.4 378.5,437.6 378.6,438.8 378.7,447.6 378.7,437.4 378.8,437.3 378.9,439.7 379.0,439.0 379.1,438.9 379.2,436.6 379.3,438.8 379.4,437.3 379.5,437.8 379.6,438.5 379.7,439.1 379.8,437.7 379.9,439.7 379.9,437.6 380.0,439.2 380.1,437.4 380.2,438.5 380.3,438.2 380.4,437.2 380.5,439.1 380.6,438.1 380.7,438.4 380.8,437.7 380.9,437.5 381.0,437.9 381.1,438.0 381.1,438.5 381.2,437.6 381.3,438.4 381.4,438.0 381.5,465.8 381.6,439.4 381.7,437.0 381.8,439.3 381.9,436.2 382.0,437.9 382.1,439.6 382.2,439.0 382.3,436.7 382.3,438.4 382.4,437.1 382.5,438.3 382.6,438.2 382.7,437.3 382.8,439.3 382.9,423.4 383.0,437.7 383.1,436.5 383.2,438.6 383.3,437.2 383.4,438.3 383.5,437.9 383.5,438.1 383.6,437.7 383.7,439.5 383.8,438.1 383.9,438.0 384.0,438.8 384.1,437.2 384.2,438.4 384.3,437.4 384.4,436.8 384.5,439.4 384.6,439.3 384.7,437.6 384.7,438.3 384.8,437.7 384.9,436.6 385.0,438.5 385.1,437.3 385.2,438.3 385.3,438.7 385.4,437.7 385.5,437.9 385.6,437.1 385.7,437.8 385.8,437.3 385.9,437.6 385.9,439.6 386.0,438.4 386.1,438.4 386.2,437.3 386.3,439.0 386.4,437.9 386.5,438.5 386.6,414.3 386.7,438.2 386.8,434.7 386.9,439.5 387.0,435.6 387.1,439.0 387.1,437.5 387.2,439.0 387.3,437.7 387.4,437.9 387.5,437.7 387.6,446.6 387.7,438.3 387.8,436.6 387.9,437.5 388.0,436.9 388.1,439.4 388.2,437.1 388.3,439.6 388.3,438.5 388.4,438.9 388.5,436.6 388.6,429.5 388.7,437.8 388.8,437.7 388.9,437.3 389.0,437.9 389.1,437.9 389.2,436.8 389.3,438.6 389.4,437.4 389.4,440.0 389.5,437.4 389.6,439.7 389.7,437.7 389.8,437.8 389.9,437.7 390.0,436.0 390.1,440.3 390.2,437.7 390.3,438.4 390.4,437.4 390.5,437.8 390.6,438.0 390.6,438.5 390.7,438.7 390.8,437.8 390.9,439.4 391.0,437.1 391.1,438.6 391.2,437.7 391.3,439.1 391.4,437.7 391.5,438.3 391.6,437.4 391.7,437.0 391.8,438.6 391.8,438.0 391.9,437.9 392.0,436.8 392.1,439.2 392.2,437.5 392.3,438.1 392.4,439.2 392.5,438.4 392.6,438.7 392.7,437.1 392.8,438.9 392.9,437.2 393.0,438.5 393.0,437.5 393.1,439.6 393.2,438.8 393.3,437.9 393.4,438.9 393.5,439.5 393.6,438.0 393.7,437.4 393.8,438.1 393.9,438.3 394.0,437.7 394.1,438.5 394.2,437.2 394.2,437.1 394.3,439.2 394.4,437.1 394.5,437.4 394.6,437.8 394.7,437.4 394.8,436.8 394.9,436.3 395.0,436.6 395.1,438.3 395.2,436.8 395.3,439.6 395.4,437.2 395.4,437.4 395.5,437.2 395.6,438.9 395.7,436.7 395.8,436.9 395.9,437.9 396.0,439.3 396.1,437.7 396.2,438.8 396.3,439.5 396.4,438.7 396.5,435.9 396.6,439.4 396.6,438.4 396.7,437.9 396.8,437.2 396.9,439.0 397.0,439.0 397.1,437.3 397.2,437.8 397.3,437.0 397.4,439.1 397.5,438.2 397.6,437.3 397.7,438.0 397.8,439.1 397.8,438.0 397.9,439.8 398.0,438.8 398.1,437.4 398.2,437.3 398.3,437.7 398.4,437.5 398.5,439.5 398.6,438.7 398.7,437.2 398.8,436.0 398.9,437.7 399.0,438.9 399.0,439.0 399.1,437.0 399.2,437.1 399.3,439.2 399.4,438.0 399.5,436.9 399.6,436.8 399.7,438.6 399.8,438.3 399.9,437.7 400.0,439.1 400.1,439.6 400.2,438.7 400.2,437.0 400.3,437.1 400.4,437.7 400.5,439.2 400.6,439.9 400.7,439.1 400.8,438.1 400.9,437.2 401.0,438.9 401.1,438.1 401.2,439.8 401.3,440.1 401.4,438.2 401.4,439.2 401.5,439.1 401.6,440.2 401.7,437.5 401.8,439.8 401.9,438.2 402.0,439.6 402.1,438.6 402.2,437.0 402.3,438.0 402.4,438.1 402.5,437.4 402.6,437.7 402.6,437.0 402.7,439.5 402.8,437.0 402.9,438.2 403.0,439.1 403.1,437.7 403.2,437.7 403.3,438.2 403.4,437.4 403.5,439.4 403.6,439.7 403.7,438.7 403.8,470.9 403.8,437.7 403.9,436.6 404.0,441.5 404.1,437.0 404.2,439.2 404.3,431.4 404.4,439.5 404.5,436.9 404.6,438.8 404.7,437.3 404.8,437.4 404.9,437.7 405.0,439.2 405.0,440.1 405.1,437.2 405.2,438.2 405.3,437.9 405.4,437.7 405.5,436.9 405.6,437.2 405.7,437.2 405.8,437.8 405.9,438.3 406.0,437.9 406.1,438.8 406.2,437.8 406.2,437.1 406.3,437.4 406.4,437.9 406.5,438.9 406.6,438.9 406.7,438.7 406.8,438.4 406.9,437.7 407.0,437.6 407.1,437.6 407.2,437.2 407.3,439.0 407.4,438.3 407.4,437.6 407.5,437.4 407.6,438.7 407.7,438.7 407.8,437.1 407.9,437.5 408.0,437.7 408.1,438.3 408.2,438.9 408.3,438.1 408.4,437.8 408.5,437.6 408.5,437.3 408.6,438.0 408.7,437.0 408.8,438.4 408.9,437.8 409.0,438.0 409.1,439.7 409.2,439.3 409.3,438.6 409.4,438.0 409.5,437.8 409.6,436.9 409.7,438.1 409.7,438.4 409.8,437.8 409.9,439.2 410.0,438.3 410.1,439.0 410.2,438.0 410.3,438.7 410.4,438.5 410.5,436.4 410.6,437.1 410.7,435.9 410.8,437.9 410.9,438.3 410.9,438.8 411.0,438.1 411.1,439.7 411.2,438.0 411.3,438.6 411.4,439.3 411.5,439.7 411.6,438.9 411.7,438.5 411.8,438.2 411.9,439.6 412.0,438.2 412.1,437.8 412.1,436.1 412.2,437.8 412.3,437.3 412.4,438.8 412.5,438.1 412.6,438.8 412.7,438.9 412.8,437.7 412.9,438.3 413.0,436.8 413.1,438.1 413.2,437.7 413.3,439.2 413.3,439.0 413.4,437.5 413.5,438.7 413.6,437.0 413.7,438.8 413.8,438.9 413.9,436.4 414.0,439.6 414.1,438.6 414.2,437.6 414.3,437.6 414.4,439.1 414.5,436.2 414.5,438.5 414.6,439.8 414.7,437.3 414.8,438.5 414.9,438.0 415.0,437.4 415.1,438.9 415.2,438.8 415.3,438.2 415.4,437.3 415.5,439.3 415.6,436.8 415.7,437.8 415.7,439.1 415.8,438.1 415.9,437.6 416.0,437.0 416.1,437.3 416.2,437.1 416.3,438.2 416.4,437.4 416.5,440.5 416.6,437.2 416.7,438.1 416.8,436.7 416.9,438.6 416.9,438.5 417.0,438.1 417.1,437.4 417.2,437.8 417.3,437.2 417.4,438.0 417.5,437.2 417.6,435.6 417.7,437.0 417.8,437.5 417.9,439.4 418.0,437.5 418.1,437.1 418.1,438.2 418.2,437.1 418.3,440.1 418.4,438.7 418.5,438.9 418.6,437.6 418.7,438.8 418.8,439.0 418.9,436.8 419.0,439.4 419.1,437.6 419.2,437.1 419.3,438.3 419.3,438.9 419.4,438.3 419.5,438.6 419.6,438.8 419.7,437.9 419.8,438.1 419.9,435.3 420.0,436.9 420.1,437.9 420.2,437.6 420.3,436.6 420.4,437.0 420.5,438.0 420.5,438.8 420.6,436.5 420.7,438.1 420.8,437.9 420.9,436.8 421.0,437.9 421.1,436.9 421.2,438.3 421.3,437.9 421.4,438.2 421.5,436.2 421.6,439.4 421.7,438.3 421.7,438.9 421.8,438.7 421.9,439.3 422.0,438.8 422.1,437.0 422.2,436.8 422.3,438.7 422.4,439.2 422.5,438.5 422.6,436.6 422.7,438.2 422.8,440.0 422.9,437.3 422.9,438.2 423.0,437.6 423.1,437.7 423.2,439.3 423.3,437.2 423.4,437.5 423.5,438.7 423.6,440.2 423.7,439.2 423.8,439.1 423.9,437.5 424.0,438.7 424.1,438.5 424.1,438.1 424.2,438.5 424.3,437.8 424.4,437.8 424.5,437.3 424.6,439.2 424.7,437.8 424.8,438.4 424.9,436.2 425.0,436.8 425.1,438.5 425.2,437.3 425.3,439.7 425.3,439.1 425.4,438.4 425.5,437.9 425.6,439.1 425.7,438.1 425.8,437.0 425.9,439.6 426.0,439.3 426.1,439.8 426.2,437.1 426.3,439.1 426.4,438.5 426.4,438.9 426.5,438.2 426.6,438.4 426.7,438.0 426.8,438.0 426.9,436.7 427.0,439.0 427.1,438.0 427.2,438.2 427.3,439.0 427.4,437.4 427.5,436.5 427.6,439.1 427.6,435.9 427.7,438.3 427.8,438.2 427.9,440.5 428.0,438.1 428.1,414.3 428.2,438.4 428.3,434.6 428.4,439.7 428.5,437.0 428.6,414.3 428.7,453.7 428.8,435.8 428.8,437.3 428.9,453.7 429.0,437.4 429.1,438.0 429.2,439.4 429.3,437.4 429.4,439.9 429.5,437.1 429.6,438.9 429.7,439.1 429.8,438.7 429.9,437.4 430.0,437.0 430.0,439.8 430.1,438.5 430.2,437.6 430.3,437.1 430.4,437.8 430.5,439.1 430.6,438.6 430.7,438.2 430.8,438.9 430.9,439.1 431.0,439.3 431.1,435.8 431.2,438.1 431.2,438.4 431.3,437.5 431.4,438.1 431.5,438.3 431.6,437.9 431.7,438.8 431.8,438.5 431.9,437.3 432.0,437.6 432.1,439.1 432.2,436.8 432.3,438.5 432.4,439.6 432.4,437.5 432.5,410.9 432.6,437.8 432.7,436.8 432.8,438.4 432.9,477.9 433.0,438.8 433.1,432.0 433.2,441.8 433.3,434.5 433.4,441.0 433.5,436.0 433.6,437.9 433.6,436.5 433.7,439.1 433.8,437.6 433.9,438.6 434.0,439.4 434.1,438.2 434.2,437.2 434.3,437.8 434.4,437.1 434.5,437.7 434.6,438.7 434.7,437.6 434.8,439.6 434.8,436.9 434.9,438.4 435.0,436.6 435.1,439.3 435.2,439.0 435.3,438.5 435.4,438.3 435.5,439.5 435.6,439.3 435.7,437.7 435.8,438.8 435.9,437.3 436.0,436.6 436.0,439.4 436.1,438.5 436.2,436.5 436.3,437.1 436.4,439.3 436.5,437.8 436.6,436.6 436.7,440.1 436.8,437.8 436.9,437.1 437.0,438.5 437.1,438.7 437.2,437.4 437.2,439.5 437.3,437.6 437.4,437.0 437.5,438.0 437.6,439.5 437.7,436.7 437.8,438.1 437.9,437.6 438.0,438.9 438.1,438.2 438.2,437.1 438.3,439.5 438.4,439.3 438.4,440.0 438.5,422.4 438.6,437.7 438.7,437.3 438.8,439.2 438.9,437.5 439.0,437.3 439.1,438.8 439.2,446.6 439.3,438.2 439.4,436.2 439.5,438.1 439.6,438.9 439.6,437.9 439.7,437.9 439.8,439.3 439.9,437.7 440.0,438.1 440.1,439.1 440.2,438.6 440.3,437.1 440.4,437.2 440.5,438.2 440.6,438.4 440.7,437.9 440.8,438.2 440.8,439.2 440.9,437.6 441.0,438.9 441.1,436.8 441.2,437.6 441.3,437.5 441.4,438.4 441.5,438.0 441.6,438.7 441.7,438.5 441.8,439.1 441.9,436.8 442.0,439.1 442.0,436.6 442.1,437.4 442.2,438.9 442.3,436.9 442.4,437.7 442.5,438.8 442.6,437.9 442.7,438.4 442.8,438.8 442.9,438.2 443.0,437.9 443.1,438.4 443.2,438.1 443.2,437.4 443.3,438.2 443.4,438.4 443.5,439.3 443.6,438.2 443.7,438.5 443.8,438.3 443.9,437.4 444.0,437.3 444.1,438.1 444.2,438.6 444.3,438.0 444.3,437.8 444.4,437.9 444.5,439.4 444.6,437.8 444.7,439.0 444.8,437.8 444.9,437.7 445.0,438.0 445.1,437.0 445.2,438.1 445.3,437.8 445.4,438.9 445.5,438.2 445.5,438.3 445.6,438.0 445.7,438.3 445.8,440.2 445.9,437.4 446.0,437.5 446.1,440.0 446.2,437.9 446.3,437.2 446.4,437.4 446.5,437.5 446.6,438.3 446.7,438.6 446.7,436.4 446.8,437.7 446.9,436.6 447.0,438.1 447.1,437.2 447.2,437.3 447.3,437.4 447.4,439.2 447.5,435.9 447.6,437.8 447.7,438.4 447.8,437.8 447.9,439.7 447.9,436.8 448.0,438.4 448.1,437.8 448.2,437.9 448.3,439.6 448.4,438.4 448.5,436.9 448.6,438.8 448.7,437.8 448.8,437.1 448.9,436.6 449.0,438.8 449.1,437.1 449.1,437.4 449.2,437.5 449.3,437.2 449.4,437.4 449.5,438.9 449.6,437.6 449.7,438.6 449.8,437.7 449.9,438.4 450.0,436.7 450.1,437.2 450.2,437.6 450.3,438.6 450.3,437.6 450.4,439.0 450.5,438.8 450.6,439.5 450.7,437.2 450.8,438.5 450.9,437.2 451.0,437.0 451.1,437.1 451.2,438.4 451.3,436.7 451.4,437.0 451.5,439.1 451.5,437.7 451.6,438.7 451.7,438.1 451.8,436.9 451.9,437.7 452.0,436.6 452.1,437.4 452.2,437.3 452.3,436.5 452.4,436.9 452.5,437.3 452.6,436.8 452.7,436.9 452.7,439.2 452.8,438.9 452.9,437.9 453.0,437.0 453.1,438.7 453.2,439.5 453.3,438.1 453.4,438.5 453.5,436.7 453.6,440.1 453.7,437.3 453.8,437.4 453.9,440.4 453.9,438.9 454.0,438.3 454.1,437.7 454.2,438.0 454.3,437.5 454.4,437.9 454.5,438.7 454.6,436.5 454.7,437.8 454.8,438.8 454.9,437.6 455.0,438.2 455.1,438.4 455.1,438.6 455.2,439.4 455.3,438.8 455.4,439.2 455.5,439.8 455.6,437.6 455.7,437.8 455.8,438.2 455.9,439.0 456.0,438.7 456.1,436.6 456.2,438.8 456.3,437.3 456.3,437.7 456.4,437.6 456.5,438.5 456.6,438.2 456.7,400.8 456.8,439.0 456.9,434.5 457.0,442.4 457.1,436.9 457.2,437.4 457.3,435.5 457.4,484.0 457.5,436.8 457.5,434.5 457.6,442.9 457.7,433.8 457.8,439.5 457.9,436.2 458.0,439.4 458.1,439.2 458.2,437.9 458.3,435.8 458.4,423.4 458.5,436.6 458.6,435.6 458.7,440.5 458.7,436.7 458.8,440.3 458.9,439.1 459.0,437.7 459.1,437.2 459.2,438.3 459.3,438.0 459.4,439.6 459.5,437.1 459.6,427.5 459.7,438.2 459.8,433.7 459.9,438.8 459.9,437.8 460.0,436.8 460.1,437.2 460.2,438.7 460.3,436.3 460.4,438.4 460.5,438.6 460.6,438.4 460.7,438.0 460.8,437.2 460.9,436.8 461.0,439.1 461.1,436.8 461.1,438.6 461.2,438.4 461.3,440.3 461.4,426.5 461.5,437.4 461.6,437.7 461.7,439.0 461.8,436.7 461.9,438.5 462.0,447.6 462.1,437.9 462.2,437.4 462.3,439.0 462.3,437.5 462.4,437.5 462.5,438.5 462.6,436.2 462.7,437.7 462.8,438.8 462.9,437.8 463.0,439.6 463.1,438.1 463.2,425.4 463.3,438.9 463.4,436.2 463.4,439.0 463.5,438.2 463.6,439.3 463.7,437.5 463.8,436.1 463.9,437.8 464.0,438.4 464.1,437.4 464.2,439.3 464.3,438.1 464.4,437.3 464.5,437.6 464.6,437.7 464.6,439.1 464.7,438.0 464.8,436.7 464.9,435.6 465.0,437.1 465.1,438.5 465.2,438.4 465.3,438.1 465.4,436.0 465.5,439.2 465.6,438.2 465.7,439.5 465.8,438.4 465.8,438.3 465.9,437.2 466.0,437.3 466.1,437.8 466.2,438.2 466.3,438.4 466.4,436.5 466.5,438.1 466.6,439.0 466.7,438.7 466.8,438.0 466.9,438.7 467.0,439.4 467.0,437.1 467.1,438.6 467.2,438.1 467.3,437.9 467.4,429.5 467.5,438.2 467.6,440.0 467.7,438.8 467.8,437.7 467.9,438.7 468.0,437.9 468.1,460.8 468.2,436.3 468.2,436.0 468.3,437.5 468.4,436.7 468.5,438.6 468.6,436.9 468.7,437.9 468.8,436.7 468.9,436.6 469.0,437.9 469.1,437.0 469.2,438.6 469.3,437.5 469.4,438.9 469.4,436.9 469.5,438.5 469.6,436.8 469.7,439.7 469.8,436.4 469.9,438.0 470.0,437.6 470.1,437.7 470.2,439.5 470.3,438.6 470.4,438.6 470.5,438.1 470.6,439.4 470.6,438.6 470.7,438.0 470.8,437.0 470.9,437.4 471.0,439.1 471.1,437.2 471.2,436.6 471.3,437.3 471.4,438.3 471.5,438.8 471.6,438.4 471.7,436.5 471.8,438.9 471.8,440.3 471.9,437.2 472.0,425.4 472.1,438.1 472.2,437.0 472.3,438.0 472.4,437.6 472.5,439.2 472.6,438.4 472.7,436.7 472.8,436.4 472.9,458.8 473.0,438.3 473.0,436.7 473.1,438.5 473.2,438.2 473.3,437.8 473.4,437.0 473.5,440.6 473.6,438.7 473.7,438.5 473.8,435.6 473.9,436.8 474.0,437.8 474.1,439.1 474.2,438.1 474.2,438.0 474.3,438.4 474.4,437.9 474.5,437.4 474.6,438.5 474.7,439.1 474.8,437.9 474.9,439.5 475.0,438.5 475.1,437.0 475.2,437.9 475.3,439.2 475.4,438.2 475.4,438.4 475.5,438.0 475.6,437.2 475.7,438.6 475.8,439.3 475.9,436.7 476.0,438.9 476.1,437.6 476.2,437.8 476.3,438.5 476.4,437.6 476.5,437.8 476.6,425.4 476.6,437.5 476.7,437.1 476.8,438.2 476.9,438.1 477.0,438.0 477.1,436.4 477.2,439.0 477.3,436.0 477.4,438.9 477.5,438.1 477.6,457.7 477.7,438.4 477.8,436.6 477.8,440.5 477.9,436.7 478.0,439.9 478.1,437.3 478.2,439.8 478.3,438.7 478.4,438.4 478.5,437.7 478.6,438.7 478.7,437.9 478.8,437.8 478.9,438.8 479.0,438.1 479.0,438.9 479.1,439.4 479.2,438.7 479.3,438.4 479.4,437.1 479.5,437.7 479.6,438.0 479.7,440.1 479.8,439.0 479.9,437.7 480.0,437.6 480.1,438.1 480.2,439.2 480.2,439.9 480.3,439.6 480.4,438.0 480.5,437.8 480.6,436.5 480.7,438.7 480.8,437.8 480.9,438.8 481.0,438.3 481.1,438.0 481.2,438.6 481.3,436.8 481.3,439.1 481.4,437.4 481.5,438.3 481.6,438.5 481.7,437.2 481.8,438.6 481.9,437.8 482.0,420.4 482.1,437.4 482.2,437.0 482.3,439.6 482.4,437.0 482.5,439.3 482.5,438.2 482.6,439.4 482.7,437.8 482.8,439.0 482.9,437.3 483.0,449.7 483.1,438.3 483.2,436.7 483.3,438.5 483.4,437.5 483.5,438.0 483.6,436.7 483.7,437.9 483.7,437.4 483.8,436.8 483.9,436.6 484.0,438.1 484.1,439.0 484.2,437.0 484.3,438.8 484.4,438.7 484.5,438.8 484.6,438.4 484.7,440.2 484.8,438.5 484.9,437.0 484.9,435.7 485.0,437.6 485.1,437.3 485.2,437.2 485.3,438.5 485.4,438.9 485.5,437.7 485.6,437.0 485.7,437.9 485.8,437.7 485.9,438.0 486.0,438.1 486.1,438.5 486.1,437.0 486.2,437.2 486.3,438.1 486.4,437.7 486.5,437.4 486.6,429.9 486.7,436.2 486.8,435.5 486.9,438.4 487.0,437.5 487.1,438.7 487.2,436.9 487.3,449.7 487.3,439.3 487.4,436.6 487.5,437.7 487.6,438.5 487.7,436.8 487.8,436.6 487.9,438.7 488.0,438.6 488.1,436.5 488.2,438.1 488.3,439.2 488.4,437.9 488.5,439.2 488.5,438.9 488.6,436.4 488.7,438.4 488.8,438.1 488.9,439.5 489.0,438.8 489.1,437.1 489.2,437.7 489.3,437.1 489.4,437.2 489.5,437.8 489.6,438.4 489.7,440.0 489.7,437.1 489.8,438.0 489.9,435.7 490.0,438.2 490.1,438.2 490.2,431.5 490.3,439.2 490.4,437.2 490.5,438.1 490.6,437.4 490.7,438.6 490.8,438.5 490.9,448.7 490.9,437.1 491.0,438.3 491.1,440.0 491.2,438.3 491.3,439.1 491.4,437.0 491.5,439.1 491.6,437.5 491.7,439.1 491.8,438.0 491.9,435.8 492.0,438.6 492.1,437.6 492.1,438.4 492.2,437.0 492.3,437.7 492.4,438.0 492.5,436.7 492.6,437.3 492.7,437.4 492.8,439.1 492.9,438.8 493.0,436.7 493.1,439.1 493.2,436.6 493.3,436.6 493.3,438.2 493.4,438.8 493.5,439.2 493.6,437.3 493.7,437.6 493.8,438.8 493.9,439.0 494.0,437.7 494.1,438.7 494.2,438.1 494.3,439.5 494.4,437.7 494.5,438.0 494.5,438.5 494.6,439.2 494.7,438.2 494.8,437.8 494.9,437.8 495.0,438.0 495.1,438.8 495.2,437.5 495.3,437.1 495.4,438.7 495.5,439.3 495.6,436.8 495.7,438.0 495.7,439.9 495.8,437.4 495.9,438.0 496.0,438.8 496.1,438.1 496.2,439.1 496.3,438.9 496.4,439.7 496.5,437.1 496.6,438.7 496.7,438.0 496.8,437.9 496.9,440.6 496.9,438.1 497.0,439.3 497.1,437.1 497.2,439.3 497.3,437.5 497.4,436.8 497.5,438.0 497.6,437.3 497.7,437.0 497.8,438.1 497.9,438.5 498.0,439.5 498.1,436.6 498.1,437.3 498.2,437.6 498.3,439.8 498.4,437.2 498.5,438.6 498.6,438.1 498.7,437.9 498.8,437.2 498.9,438.5 499.0,438.8 499.1,437.7 499.2,438.0 499.3,438.7 499.3,436.3 499.4,437.2 499.5,439.6 499.6,440.2 499.7,439.9 499.8,438.6 499.9,437.8 500.0,436.6 500.1,438.0 500.2,438.8 500.3,438.1 500.4,438.1 500.4,439.0 500.5,438.0 500.6,439.8 500.7,438.5 500.8,437.8 500.9,438.4 501.0,437.7 501.1,437.2 501.2,437.6 501.3,437.5 501.4,437.5 501.5,438.3 501.6,437.2 501.6,437.9 501.7,439.0 501.8,437.2 501.9,438.1 502.0,440.9 502.1,436.5 502.2,438.0 502.3,438.7 502.4,437.4 502.5,437.7 502.6,437.8 502.7,436.4 502.8,437.0 502.8,438.2 502.9,438.6 503.0,439.1 503.1,437.6 503.2,437.9 503.3,437.0 503.4,437.8 503.5,437.3 503.6,436.7 503.7,438.4 503.8,438.8 503.9,437.9 504.0,439.1 504.0,438.1 504.1,438.2 504.2,436.7 504.3,438.2 504.4,436.9 504.5,438.3 504.6,438.0 504.7,438.4 504.8,438.0 504.9,438.5 505.0,438.9 505.1,439.1 505.2,437.1 505.2,437.8 505.3,436.5 505.4,436.6 505.5,438.9 505.6,436.3 505.7,438.4 505.8,439.4 505.9,439.0 506.0,438.5 506.1,440.1 506.2,437.6 506.3,438.3 506.4,437.4 506.4,437.7 506.5,437.7 506.6,437.3 506.7,437.5 506.8,439.2 506.9,436.6 507.0,438.4 507.1,437.9 507.2,437.3 507.3,438.6 507.4,438.5 507.5,439.6 507.6,437.4 507.6,437.4 507.7,438.4 507.8,438.7 507.9,440.4 508.0,437.6 508.1,438.9 508.2,438.5 508.3,438.4 508.4,438.4 508.5,437.9 508.6,437.5 508.7,437.9 508.8,439.0 508.8,438.1 508.9,438.2 509.0,438.9 509.1,438.3 509.2,437.3 509.3,437.4 509.4,437.6 509.5,437.5 509.6,439.7 509.7,437.9 509.8,436.7 509.9,438.3 510.0,438.3 510.0,438.7 510.1,437.7 510.2,438.0 510.3,438.9 510.4,437.9 510.5,438.0 510.6,437.7 510.7,437.6 510.8,438.6 510.9,437.6 511.0,438.0 511.1,438.1 511.2,438.3 511.2,437.9 511.3,438.5 511.4,439.0 511.5,437.0 511.6,439.1 511.7,437.8 511.8,437.4 511.9,437.8 512.0,438.3 512.1,438.2 512.2,439.4 512.3,437.8 512.4,438.9 512.4,438.2 512.5,438.8 512.6,437.3 512.7,438.4 512.8,438.1 512.9,436.8 513.0,438.9 513.1,438.3 513.2,440.0 513.3,438.4 513.4,438.5 513.5,438.6 513.6,437.5 513.6,436.8 513.7,437.4 513.8,437.4 513.9,437.2 514.0,438.6 514.1,438.8 514.2,437.8 514.3,436.6 514.4,438.6 514.5,439.3 514.6,438.0 514.7,437.2 514.8,437.5 514.8,437.7 514.9,438.1 515.0,437.4 515.1,438.4 515.2,437.0 515.3,436.9 515.4,437.3 515.5,436.3 515.6,435.9 515.7,438.7 515.8,438.2 515.9,438.9 516.0,439.5 516.0,439.0 516.1,438.2 516.2,437.6 516.3,437.7 516.4,440.3 516.5,438.1 516.6,439.1 516.7,437.5 516.8,438.8 516.9,437.2 517.0,436.6 517.1,436.4 517.2,438.2 517.2,437.9 517.3,438.4 517.4,438.1 517.5,436.5 517.6,439.6 517.7,438.6 517.8,438.0 517.9,438.5 518.0,439.1 518.1,437.2 518.2,438.2 518.3,438.5 518.3,439.3 518.4,438.2 518.5,437.3 518.6,438.3 518.7,437.1 518.8,438.4 518.9,438.8 519.0,438.1 519.1,438.9 519.2,439.4 519.3,437.6 519.4,437.2 519.5,436.6 519.5,439.8 519.6,437.2 519.7,437.5 519.8,437.9 519.9,437.7 520.0,437.5 520.1,437.6 520.2,437.6 520.3,438.3 520.4,436.5 520.5,438.1 520.6,437.1 520.7,438.4 520.7,438.1 520.8,438.2 520.9,437.9 521.0,436.9 521.1,439.4 521.2,437.0 521.3,438.7 521.4,436.2 521.5,438.9 521.6,437.9 521.7,437.5 521.8,439.5 521.9,438.1 521.9,438.0 522.0,437.7 522.1,438.2 522.2,439.0 522.3,439.7 522.4,438.6 522.5,438.4 522.6,438.4 522.7,437.3 522.8,438.0 522.9,439.6 523.0,438.8 523.1,437.1 523.1,437.5 523.2,437.9 523.3,438.4 523.4,437.1 523.5,438.8 523.6,438.7 523.7,437.1 523.8,439.7 523.9,437.1 524.0,438.5 524.1,437.7 524.2,438.5 524.3,439.7 524.3,437.7 524.4,438.7 524.5,438.2 524.6,437.7 524.7,437.9 524.8,437.9 524.9,437.5 525.0,439.3 525.1,436.2 525.2,439.4 525.3,438.3 525.4,438.1 525.5,438.5 525.5,437.4 525.6,438.5 525.7,438.0 525.8,435.7 525.9,438.5 526.0,436.0 526.1,439.3 526.2,437.5 526.3,437.9 526.4,437.5 526.5,440.2 526.6,384.1 526.7,437.5 526.7,432.1 526.8,442.2 526.9,436.7 527.0,440.7 527.1,436.6 527.2,454.7 527.3,435.3" fill="none" stroke="#EE7D2E" stroke-width="1.3" stroke-linejoin="round"/>
<path clip-path="url(#cf)" d="M324.4,437.9 324.6,437.6 324.8,436.9 325.0,437.0 325.1,436.7 325.3,436.4 325.5,437.7 325.7,438.1 325.9,437.7 326.1,437.4 326.2,436.9 326.4,437.9 326.6,438.5 326.8,437.9 327.0,437.7 327.2,437.7 327.4,437.5 327.5,437.3 327.7,436.7 327.9,437.1 328.1,437.4 328.3,436.8 328.5,437.2 328.6,437.9 328.8,438.8 329.0,439.2 329.2,438.5 329.4,437.0 329.6,436.7 329.8,437.4 329.9,437.2 330.1,437.8 330.3,438.0 330.5,438.5 330.7,438.9 330.9,438.5 331.0,438.8 331.2,438.1 331.4,436.9 331.6,436.9 331.8,437.8 332.0,437.5 332.2,436.9 332.3,437.0 332.5,437.5 332.7,437.6 332.9,437.8 333.1,437.5 333.3,436.6 333.4,437.1 333.6,437.6 333.8,438.2 334.0,438.3 334.2,437.2 334.4,437.2 334.5,437.6 334.7,437.1 334.9,436.9 335.1,436.7 335.3,436.7 335.5,436.6 335.7,436.2 335.8,436.0 336.0,436.6 336.2,437.2 336.4,436.9 336.6,437.4 336.8,438.1 336.9,437.6 337.1,436.8 337.3,437.3 337.5,438.1 337.7,438.0 337.9,437.5 338.1,437.1 338.2,437.6 338.4,437.6 338.6,436.6 338.8,436.9 339.0,437.7 339.2,437.4 339.3,436.8 339.5,437.0 339.7,437.7 339.9,438.1 340.1,438.5 340.3,438.3 340.5,438.2 340.6,437.7 340.8,437.6 341.0,437.8 341.2,438.2 341.4,438.4 341.6,437.7 341.7,437.2 341.9,437.8 342.1,437.8 342.3,437.8 342.5,438.9 342.7,438.0 342.9,437.4 343.0,438.3 343.2,438.0 343.4,437.2 343.6,437.8 343.8,437.8 344.0,437.8 344.1,437.9 344.3,437.8 344.5,438.2 344.7,438.1 344.9,436.8 345.1,436.1 345.3,436.6 345.4,437.1 345.6,437.6 345.8,437.3 346.0,437.7 346.2,438.3 346.4,436.8 346.5,436.3 346.7,436.8 346.9,436.9 347.1,437.3 347.3,436.8 347.5,435.8 347.7,435.6 347.8,437.1 348.0,437.4 348.2,436.8 348.4,437.0 348.6,437.3 348.8,437.4 348.9,436.7 349.1,436.6 349.3,436.9 349.5,436.8 349.7,436.7 349.9,436.6 350.1,436.8 350.2,436.2 350.4,435.9 350.6,436.6 350.8,436.9 351.0,437.1 351.2,437.3 351.3,437.0 351.5,436.6 351.7,436.3 351.9,436.6 352.1,436.9 352.3,436.7 352.4,437.3 352.6,436.5 352.8,435.5 353.0,436.2 353.2,436.3 353.4,436.7 353.6,436.7 353.7,436.4 353.9,437.2 354.1,437.6 354.3,436.6 354.5,435.9 354.7,436.1 354.8,435.6 355.0,435.3 355.2,435.7 355.4,436.0 355.6,435.9 355.8,435.9 356.0,436.0 356.1,435.8 356.3,435.9 356.5,435.9 356.7,436.2 356.9,436.1 357.1,435.9 357.2,436.3 357.4,437.0 357.6,437.3 357.8,436.9 358.0,436.0 358.2,434.8 358.4,435.5 358.5,436.5 358.7,435.7 358.9,434.8 359.1,434.2 359.3,435.1 359.5,436.1 359.6,435.9 359.8,435.4 360.0,435.7 360.2,436.2 360.4,435.4 360.6,435.8 360.8,436.6 360.9,436.9 361.1,437.0 361.3,437.0 361.5,437.3 361.7,436.9 361.9,437.8 362.0,438.1 362.2,437.6 362.4,437.7 362.6,437.5 362.8,437.7 363.0,437.3 363.2,437.0 363.3,437.0 363.5,437.4 363.7,437.3 363.9,437.1 364.1,437.8 364.3,437.5 364.4,437.1 364.6,437.2 364.8,437.8 365.0,437.5 365.2,437.3 365.4,438.1 365.6,437.6 365.7,437.8 365.9,438.5 366.1,438.3 366.3,438.1 366.5,438.1 366.7,437.9 366.8,437.2 367.0,437.1 367.2,437.9 367.4,437.9 367.6,437.4 367.8,437.5 368.0,437.9 368.1,438.4 368.3,437.5 368.5,437.2 368.7,438.2 368.9,437.3 369.1,436.3 369.2,437.1 369.4,437.9 369.6,437.8 369.8,437.7 370.0,437.6 370.2,437.4 370.4,437.9 370.5,437.4 370.7,437.3 370.9,437.3 371.1,436.8 371.3,436.6 371.5,436.5 371.6,437.3 371.8,438.1 372.0,438.2 372.2,438.0 372.4,437.6 372.6,438.0 372.7,438.4 372.9,437.6 373.1,437.5 373.3,438.5 373.5,437.6 373.7,437.4 373.9,438.1 374.0,437.6 374.2,437.1 374.4,437.4 374.6,437.8 374.8,437.8 375.0,438.0 375.1,437.8 375.3,437.2 375.5,437.7 375.7,437.7 375.9,437.3 376.1,437.1 376.3,436.7 376.4,437.5 376.6,438.1 376.8,437.5 377.0,437.7 377.2,437.7 377.4,437.4 377.5,437.2 377.7,436.9 377.9,437.0 378.1,436.7 378.3,437.5 378.5,437.5 378.7,436.9 378.8,437.4 379.0,437.7 379.2,438.2 379.4,438.2 379.6,438.4 379.8,438.3 379.9,438.1 380.1,438.1 380.3,437.3 380.5,437.1 380.7,437.5 380.9,438.2 381.1,438.1 381.2,437.2 381.4,436.9 381.6,437.4 381.8,437.6 382.0,437.1 382.2,437.2 382.3,437.9 382.5,437.7 382.7,438.0 382.9,438.7 383.1,437.8 383.3,436.7 383.5,436.6 383.6,436.7 383.8,437.2 384.0,437.4 384.2,437.7 384.4,438.7 384.6,438.0 384.7,437.4 384.9,437.9 385.1,437.5 385.3,436.9 385.5,437.4 385.7,437.5 385.9,438.0 386.0,438.6 386.2,438.4 386.4,437.7 386.6,437.1 386.8,437.3 387.0,437.5 387.1,437.1 387.3,437.3 387.5,437.3 387.7,437.1 387.9,437.5 388.1,436.4 388.3,436.5 388.4,438.2 388.6,438.1 388.8,437.4 389.0,437.0 389.2,437.3 389.4,437.2 389.5,436.5 389.7,437.3 389.9,437.8 390.1,437.8 390.3,438.4 390.5,438.4 390.6,437.3 390.8,436.8 391.0,437.2 391.2,437.3 391.4,437.0 391.6,437.0 391.8,437.1 391.9,437.4 392.1,437.7 392.3,437.6 392.5,437.4 392.7,437.6 392.9,437.9 393.0,437.8 393.2,437.5 393.4,437.0 393.6,437.4 393.8,437.5 394.0,437.5 394.2,437.3 394.3,437.3 394.5,438.2 394.7,437.5 394.9,437.8 395.1,438.6 395.3,437.4 395.4,437.0 395.6,436.9 395.8,436.8 396.0,437.4 396.2,437.3 396.4,436.8 396.6,437.7 396.7,437.9 396.9,436.9 397.1,437.2 397.3,438.0 397.5,438.3 397.7,438.3 397.8,438.1 398.0,438.0 398.2,438.3 398.4,437.4 398.6,437.3 398.8,437.6 399.0,437.4 399.1,437.4 399.3,437.6 399.5,437.7 399.7,437.4 399.9,437.9 400.1,438.3 400.2,437.9 400.4,438.0 400.6,438.3 400.8,437.6 401.0,436.9 401.2,436.6 401.4,436.6 401.5,437.7 401.7,438.0 401.9,437.4 402.1,437.9 402.3,437.6 402.5,437.3 402.6,438.2 402.8,438.0 403.0,437.1 403.2,437.0 403.4,437.4 403.6,437.3 403.8,437.4 403.9,437.9 404.1,437.9 404.3,437.8 404.5,437.2 404.7,437.0 404.9,437.4 405.0,437.4 405.2,436.9 405.4,437.5 405.6,437.6 405.8,437.1 406.0,437.7 406.2,437.8 406.3,437.5 406.5,437.9 406.7,438.1 406.9,437.7 407.1,437.0 407.3,436.7 407.4,436.9 407.6,437.3 407.8,437.5 408.0,437.7 408.2,437.9 408.4,437.8 408.5,437.8 408.7,437.6 408.9,437.3 409.1,437.0 409.3,437.5 409.5,437.8 409.7,438.0 409.8,437.7 410.0,437.2 410.2,438.1 410.4,438.4 410.6,437.9 410.8,437.3 410.9,436.9 411.1,437.0 411.3,437.5 411.5,436.8 411.7,436.0 411.9,436.6 412.1,437.3 412.2,437.7 412.4,437.5 412.6,435.7 412.8,435.0 413.0,435.7 413.2,435.9 413.3,435.8 413.5,434.7 413.7,433.3 413.9,433.2 414.1,434.3 414.3,435.2 414.5,435.3 414.6,434.9 414.8,435.5 415.0,436.2 415.2,436.6 415.4,437.5 415.6,437.6 415.7,436.7 415.9,436.6 416.1,437.7 416.3,438.0 416.5,438.1 416.7,437.7 416.9,438.1 417.0,439.1 417.2,439.4 417.4,439.8 417.6,439.1 417.8,439.0 418.0,439.3 418.1,439.0 418.3,438.9 418.5,439.4 418.7,439.7 418.9,440.0 419.1,440.7 419.3,440.5 419.4,439.2 419.6,439.3 419.8,440.1 420.0,440.1 420.2,439.9 420.4,439.7 420.5,439.4 420.7,439.2 420.9,439.1 421.1,439.4 421.3,439.6 421.5,439.6 421.7,439.5 421.8,438.8 422.0,438.8 422.2,439.5 422.4,439.3 422.6,438.6 422.8,438.4 422.9,438.7 423.1,438.5 423.3,439.2 423.5,439.0 423.7,437.6 423.9,438.7 424.1,439.5 424.2,438.2 424.4,437.3 424.6,437.2 424.8,437.0 425.0,436.7 425.2,437.1 425.3,437.7 425.5,437.9 425.7,438.3 425.9,438.4 426.1,438.6 426.3,437.7 426.4,436.9 426.6,437.3 426.8,437.9 427.0,438.5 427.2,438.7 427.4,437.7 427.6,437.1 427.7,437.8 427.9,438.3 428.1,437.3 428.3,437.3 428.5,438.1 428.7,437.9 428.8,438.0 429.0,437.6 429.2,437.2 429.4,437.4 429.6,437.8 429.8,437.7 430.0,437.2 430.1,437.5 430.3,437.8 430.5,437.2 430.7,436.9 430.9,437.8 431.1,438.1 431.2,437.3 431.4,437.4 431.6,438.0 431.8,438.1 432.0,438.1 432.2,438.8 432.4,438.4 432.5,437.8 432.7,438.1 432.9,437.7 433.1,437.5 433.3,438.1 433.5,437.5 433.6,436.8 433.8,436.5 434.0,437.1 434.2,437.6 434.4,437.1 434.6,437.8 434.8,438.2 434.9,437.5 435.1,437.9 435.3,439.1 435.5,439.1 435.7,438.4 435.9,437.0 436.0,436.5 436.2,435.9 436.4,435.9 436.6,437.3 436.8,437.3 437.0,437.3 437.2,436.7 437.3,436.2 437.5,436.7 437.7,436.7 437.9,436.2 438.1,436.2 438.3,437.1 438.4,437.2 438.6,437.0 438.8,436.8 439.0,436.7 439.2,437.3 439.4,436.6 439.6,436.4 439.7,437.1 439.9,437.2 440.1,436.9 440.3,435.6 440.5,435.2 440.7,436.2 440.8,436.5 441.0,436.5 441.2,437.0 441.4,436.5 441.6,436.2 441.8,436.5 442.0,435.9 442.1,436.4 442.3,436.5 442.5,436.7 442.7,437.5 442.9,438.1 443.1,438.1 443.2,436.7 443.4,436.2 443.6,436.6 443.8,437.6 444.0,438.2 444.2,437.5 444.3,437.2 444.5,436.6 444.7,436.8 444.9,438.1 445.1,438.1 445.3,437.4 445.5,437.9 445.6,438.7 445.8,438.4 446.0,438.5 446.2,438.5 446.4,437.9 446.6,438.0 446.7,438.5 446.9,438.5 447.1,438.0 447.3,437.3 447.5,437.6 447.7,437.8 447.9,437.4 448.0,437.4 448.2,437.5 448.4,437.8 448.6,438.0 448.8,437.9 449.0,437.7 449.1,436.7 449.3,436.5 449.5,437.0 449.7,436.7 449.9,435.9 450.1,436.5 450.3,438.0 450.4,436.7 450.6,435.9 450.8,436.5 451.0,437.6 451.2,438.1 451.4,437.3 451.5,437.2 451.7,437.0 451.9,436.8 452.1,437.0 452.3,437.1 452.5,436.8 452.7,436.3 452.8,437.1 453.0,437.6 453.2,435.7 453.4,435.3 453.6,436.8 453.8,436.6 453.9,436.1 454.1,436.2 454.3,436.1 454.5,436.0 454.7,435.4 454.9,436.0 455.1,437.8 455.2,437.3 455.4,435.9 455.6,435.9 455.8,436.1 456.0,436.0 456.2,435.7 456.3,436.2 456.5,437.0 456.7,436.6 456.9,436.1 457.1,435.3 457.3,435.2 457.5,435.6 457.6,436.5 457.8,436.8 458.0,434.9 458.2,434.8 458.4,435.7 458.6,435.6 458.7,436.7 458.9,436.0 459.1,434.7 459.3,435.7 459.5,436.1 459.7,436.1 459.9,436.0 460.0,435.6 460.2,435.5 460.4,435.6 460.6,436.8 460.8,436.6 461.0,435.3 461.1,435.7 461.3,436.2 461.5,436.6 461.7,436.8 461.9,436.1 462.1,436.3 462.3,437.1 462.4,436.4 462.6,436.1 462.8,436.4 463.0,436.2 463.2,435.8 463.4,435.3 463.5,435.5 463.7,436.6 463.9,437.3 464.1,437.8 464.3,437.1 464.5,436.0 464.6,436.6 464.8,436.8 465.0,436.8 465.2,436.6 465.4,436.3 465.6,437.2 465.8,437.4 465.9,437.0 466.1,437.2 466.3,436.8 466.5,436.5 466.7,436.9 466.9,437.4 467.0,436.9 467.2,437.0 467.4,437.4 467.6,436.8 467.8,436.8 468.0,436.6 468.2,436.7 468.3,436.4 468.5,436.7 468.7,437.8 468.9,436.8 469.1,436.4 469.3,436.3 469.4,436.3 469.6,437.3 469.8,437.8 470.0,437.8 470.2,437.2 470.4,437.2 470.6,437.2 470.7,436.5 470.9,436.0 471.1,436.7 471.3,437.1 471.5,437.7 471.7,437.5 471.8,436.7 472.0,437.2 472.2,437.8 472.4,437.8 472.6,437.2 472.8,436.9 473.0,436.9 473.1,437.2 473.3,437.4 473.5,437.8 473.7,437.6 473.9,437.4 474.1,437.3 474.2,436.9 474.4,437.4 474.6,437.3 474.8,437.5 475.0,437.8 475.2,437.2 475.4,438.1 475.5,438.1 475.7,437.1 475.9,438.0 476.1,438.4 476.3,438.4 476.5,438.3 476.6,438.4 476.8,437.7 477.0,436.7 477.2,437.7 477.4,438.0 477.6,438.0 477.8,438.0 477.9,437.5 478.1,437.5 478.3,437.3 478.5,437.2 478.7,437.8 478.9,437.8 479.0,438.4 479.2,438.7 479.4,438.8 479.6,438.2 479.8,437.8 480.0,438.3 480.2,437.9 480.3,437.9 480.5,438.6 480.7,438.8 480.9,438.3 481.1,438.6 481.3,439.1 481.4,437.7 481.6,437.6 481.8,438.4 482.0,437.3 482.2,436.9 482.4,437.2 482.5,437.5 482.7,437.8 482.9,437.8 483.1,437.3 483.3,437.0 483.5,437.9 483.7,438.8 483.8,438.7 484.0,437.7 484.2,436.7 484.4,436.4 484.6,437.0 484.8,437.9 484.9,437.7 485.1,436.9 485.3,437.1 485.5,436.7 485.7,436.9 485.9,437.4 486.1,436.6 486.2,436.8 486.4,436.4 486.6,436.2 486.8,437.0 487.0,436.9 487.2,436.6 487.3,436.9 487.5,436.6 487.7,436.0 487.9,435.9 488.1,435.9 488.3,436.2 488.5,436.0 488.6,436.1 488.8,436.0 489.0,436.4 489.2,436.6 489.4,436.1 489.6,436.4 489.7,436.4 489.9,437.0 490.1,436.7 490.3,435.6 490.5,435.7 490.7,436.3 490.9,437.1 491.0,437.2 491.2,437.0 491.4,437.3 491.6,437.3 491.8,436.9 492.0,436.3 492.1,435.9 492.3,435.8 492.5,436.1 492.7,436.8 492.9,436.7 493.1,437.3 493.3,437.0 493.4,436.3 493.6,437.3 493.8,437.0 494.0,435.9 494.2,436.2 494.4,436.8 494.5,437.6 494.7,438.0 494.9,437.1 495.1,437.2 495.3,437.4 495.5,436.9 495.7,436.6 495.8,436.6 496.0,437.6 496.2,437.3 496.4,436.8 496.6,437.4 496.8,436.7 496.9,436.2 497.1,436.5 497.3,436.4 497.5,437.0 497.7,437.6 497.9,438.2 498.1,438.4 498.2,437.1 498.4,437.1 498.6,437.8 498.8,437.0 499.0,436.8 499.2,437.2 499.3,437.9 499.5,438.4 499.7,438.0 499.9,437.6 500.1,437.5 500.3,437.1 500.4,437.0 500.6,438.0 500.8,438.1 501.0,438.0 501.2,437.9 501.4,438.0 501.6,438.5 501.7,437.9 501.9,438.7 502.1,439.1 502.3,437.7 502.5,438.1 502.7,438.8 502.8,438.7 503.0,438.5 503.2,438.4 503.4,438.6 503.6,438.7 503.8,438.6 504.0,438.4 504.1,438.1 504.3,437.8 504.5,438.8 504.7,438.6 504.9,438.5 505.1,439.8 505.2,439.5 505.4,438.6 505.6,438.3 505.8,438.5 506.0,438.3 506.2,438.7 506.4,439.0 506.5,438.6 506.7,439.2 506.9,439.6 507.1,439.4 507.3,439.3 507.5,438.5 507.6,438.3 507.8,439.0 508.0,438.6 508.2,438.9 508.4,439.7 508.6,439.4 508.8,438.1 508.9,438.0 509.1,438.6 509.3,438.1 509.5,438.8 509.7,439.2 509.9,438.5 510.0,438.9 510.2,439.3 510.4,438.8 510.6,439.0 510.8,438.4 511.0,438.9 511.2,438.8 511.3,437.5 511.5,437.9 511.7,438.4 511.9,438.7 512.1,437.9 512.3,437.4 512.4,438.0 512.6,439.3 512.8,438.8 513.0,437.4 513.2,437.1 513.4,437.6 513.6,438.3 513.7,438.3 513.9,438.1 514.1,437.2 514.3,437.1 514.5,437.4 514.7,437.2 514.8,437.3 515.0,436.9 515.2,437.3 515.4,437.7 515.6,437.0 515.8,436.5 516.0,437.3 516.1,437.7 516.3,437.4 516.5,437.9 516.7,437.5 516.9,437.0 517.1,437.2 517.2,437.3 517.4,437.1 517.6,437.7 517.8,437.1 518.0,436.9 518.2,437.7 518.3,437.6 518.5,437.2 518.7,437.5 518.9,438.1 519.1,437.6 519.3,437.0 519.5,436.4 519.6,436.6 519.8,437.2 520.0,437.0 520.2,436.6 520.4,436.5 520.6,436.4 520.7,436.3 520.9,436.5 521.1,436.6 521.3,436.9 521.5,437.2 521.7,436.2 521.9,435.8 522.0,436.7 522.2,437.3 522.4,436.6 522.6,436.0 522.8,436.6 523.0,437.2 523.1,437.5 523.3,437.3 523.5,436.7 523.7,436.0 523.9,436.5 524.1,436.9 524.3,436.8 524.4,437.0 524.6,437.8 524.8,438.8 525.0,438.0 525.2,436.8 525.4,437.6 525.5,439.2 525.7,439.9 525.9,439.4 526.1,438.7 526.3,438.9 526.5,440.0 526.7,439.6 526.8,438.6 527.0,439.6 527.2,439.6" fill="none" stroke="#1F7DD3" stroke-width="1.55" stroke-linejoin="round"/>
<rect x="324.4" y="378.7" width="202.9" height="107.5" fill="none" stroke="#a6a6a6" stroke-width="1"/>
<path d="M375.12,486.2 v-2.3 M375.12,378.7 v2.3 M425.85,486.2 v-2.3 M425.85,378.7 v2.3 M476.57,486.2 v-2.3 M476.57,378.7 v2.3 M324.4,386.5 h2.3 M527.3,386.5 h-2.3 M324.4,412.3 h2.3 M527.3,412.3 h-2.3 M324.4,438.1 h2.3 M527.3,438.1 h-2.3 M324.4,463.9 h2.3 M527.3,463.9 h-2.3 " stroke="#a6a6a6" stroke-width="0.9" fill="none"/>
<text class="tk" transform="translate(324.5,504.4) scale(0.94,1)" text-anchor="middle">0</text>
<text class="tk" transform="translate(375.23,504.4) scale(0.94,1)" text-anchor="middle">5</text>
<text class="tk" transform="translate(425.95,504.4) scale(0.94,1)" text-anchor="middle">10</text>
<text class="tk" transform="translate(476.67,504.4) scale(0.94,1)" text-anchor="middle">15</text>
<text class="tk" transform="translate(527.4,504.4) scale(0.94,1)" text-anchor="middle">20</text>
<text class="tk" transform="translate(318.8,391.1) scale(0.94,1)" text-anchor="end">20</text>
<text class="tk" transform="translate(318.8,416.9) scale(0.94,1)" text-anchor="end">10</text>
<text class="tk" transform="translate(318.8,442.7) scale(0.94,1)" text-anchor="end">0</text>
<text class="tk" transform="translate(318.8,468.5) scale(0.94,1)" text-anchor="end">−<tspan dx="1.3">10</tspan></text>
<text class="tt" x="417.2" y="372.1" textLength="14.2" lengthAdjust="spacingAndGlyphs">TV</text>
<text class="lb" x="398.6" y="523.4" textLength="51.6" lengthAdjust="spacingAndGlyphs">time [ms]</text>
<text class="yl" transform="translate(290.8,434.3) rotate(-90)" x="-10.7" textLength="21.4" lengthAdjust="spacingAndGlyphs">u[V]</text>
<text class="cp" x="407.7" y="542.8" text-anchor="middle">(f)</text>
</g>
</svg></body></html>
